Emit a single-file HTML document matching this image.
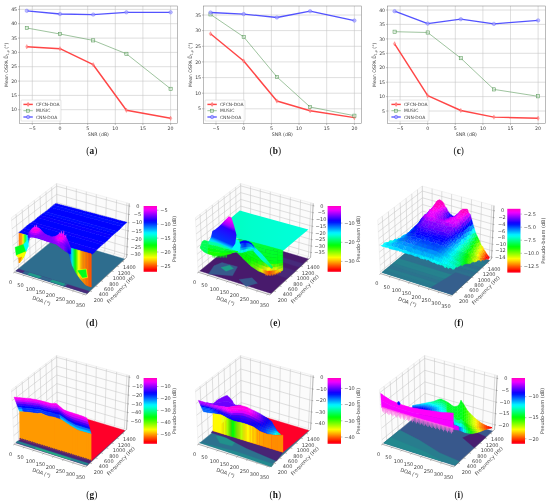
<!DOCTYPE html><html><head><meta charset="utf-8"><title>Figure</title><style>html,body{margin:0;padding:0;background:#fff}svg{display:block;filter:blur(0.35px)}</style></head><body><svg width="550" height="504" viewBox="0 0 550 504">
<defs><linearGradient id="gr" x1="0" y1="0" x2="0" y2="1"><stop offset="0%" stop-color="#ff00bf"/><stop offset="3.1%" stop-color="#ff00e5"/><stop offset="6.2%" stop-color="#ed00ff"/><stop offset="9.4%" stop-color="#c200ff"/><stop offset="12.5%" stop-color="#9600ff"/><stop offset="15.6%" stop-color="#6b00ff"/><stop offset="18.8%" stop-color="#3f00ff"/><stop offset="21.9%" stop-color="#1400ff"/><stop offset="25%" stop-color="#0018ff"/><stop offset="28.1%" stop-color="#0043ff"/><stop offset="31.2%" stop-color="#006fff"/><stop offset="34.4%" stop-color="#009aff"/><stop offset="37.5%" stop-color="#00c6ff"/><stop offset="40.6%" stop-color="#00f1ff"/><stop offset="43.8%" stop-color="#00ffe2"/><stop offset="46.9%" stop-color="#00ffb7"/><stop offset="50%" stop-color="#00ff8c"/><stop offset="53.1%" stop-color="#00ff61"/><stop offset="56.2%" stop-color="#00ff36"/><stop offset="59.4%" stop-color="#00ff0b"/><stop offset="62.5%" stop-color="#20ff00"/><stop offset="65.6%" stop-color="#4cff00"/><stop offset="68.8%" stop-color="#77ff00"/><stop offset="71.9%" stop-color="#a2ff00"/><stop offset="75%" stop-color="#cdff00"/><stop offset="78.1%" stop-color="#f9ff00"/><stop offset="81.2%" stop-color="#ffda00"/><stop offset="84.4%" stop-color="#ffaf00"/><stop offset="87.5%" stop-color="#ff8400"/><stop offset="90.6%" stop-color="#ff5800"/><stop offset="93.8%" stop-color="#ff2d00"/><stop offset="96.9%" stop-color="#ff0200"/><stop offset="100%" stop-color="#ff0029"/></linearGradient></defs>
<rect width="550" height="504" fill="#fff"/>
<g>
<rect x="19.4" y="6" width="158" height="117.6" fill="#fff"/>
<path d="M32.3 6V123.6M60 6V123.6M87.7 6V123.6M115.3 6V123.6M142.9 6V123.6M170.6 6V123.6M19.4 109.7H177.4M19.4 95.4H177.4M19.4 81.1H177.4M19.4 66.7H177.4M19.4 52.4H177.4M19.4 38.1H177.4M19.4 23.7H177.4M19.4 9.4H177.4" stroke="#c4c4c4" stroke-width="0.55" fill="none"/>
<path d="M32.3 123.6v1.3M60 123.6v1.3M87.7 123.6v1.3M115.3 123.6v1.3M142.9 123.6v1.3M170.6 123.6v1.3M19.4 109.7h-1.3M19.4 95.4h-1.3M19.4 81.1h-1.3M19.4 66.7h-1.3M19.4 52.4h-1.3M19.4 38.1h-1.3M19.4 23.7h-1.3M19.4 9.4h-1.3" stroke="#555" stroke-width="0.4" fill="none"/>
<polyline points="26.8,46.7 60,48.7 93.2,64.7 126.4,110.3 170.6,118.3" fill="none" stroke="#ff3636" stroke-width="1.45" stroke-opacity="0.92" stroke-linejoin="round"/>
<path d="M26.8 44.5L28.1 46.7L26.8 48.9L25.6 46.7Z" fill="#ff8a8a" fill-opacity="0.75" stroke="#ff3636" stroke-width="0.3" stroke-opacity="0.7"/>
<path d="M60 46.5L61.2 48.7L60 50.9L58.8 48.7Z" fill="#ff8a8a" fill-opacity="0.75" stroke="#ff3636" stroke-width="0.3" stroke-opacity="0.7"/>
<path d="M93.2 62.5L94.4 64.7L93.2 66.9L91.9 64.7Z" fill="#ff8a8a" fill-opacity="0.75" stroke="#ff3636" stroke-width="0.3" stroke-opacity="0.7"/>
<path d="M126.4 108.1L127.6 110.3L126.4 112.5L125.1 110.3Z" fill="#ff8a8a" fill-opacity="0.75" stroke="#ff3636" stroke-width="0.3" stroke-opacity="0.7"/>
<path d="M170.6 116.1L171.9 118.3L170.6 120.5L169.4 118.3Z" fill="#ff8a8a" fill-opacity="0.75" stroke="#ff3636" stroke-width="0.3" stroke-opacity="0.7"/>
<polyline points="26.8,28 60,34 93.2,40.4 126.4,53.8 170.6,88.8" fill="none" stroke="#5a9a5a" stroke-width="0.65" stroke-opacity="0.9" stroke-linejoin="round"/>
<rect x="25.2" y="26.4" width="3.2" height="3.2" fill="#cfe6cf" fill-opacity="0.55" stroke="#4f944f" stroke-width="0.5"/>
<rect x="58.4" y="32.4" width="3.2" height="3.2" fill="#cfe6cf" fill-opacity="0.55" stroke="#4f944f" stroke-width="0.5"/>
<rect x="91.6" y="38.8" width="3.2" height="3.2" fill="#cfe6cf" fill-opacity="0.55" stroke="#4f944f" stroke-width="0.5"/>
<rect x="124.8" y="52.2" width="3.2" height="3.2" fill="#cfe6cf" fill-opacity="0.55" stroke="#4f944f" stroke-width="0.5"/>
<rect x="169" y="87.2" width="3.2" height="3.2" fill="#cfe6cf" fill-opacity="0.55" stroke="#4f944f" stroke-width="0.5"/>
<polyline points="26.8,10.8 60,14 93.2,14.6 126.4,12.3 170.6,12.3" fill="none" stroke="#4040ff" stroke-width="1.3" stroke-opacity="0.9" stroke-linejoin="round"/>
<circle cx="26.8" cy="10.8" r="1.75" fill="#a6a6ff" fill-opacity="0.7" stroke="#4040ff" stroke-width="0.4" stroke-opacity="0.7"/>
<circle cx="60" cy="14" r="1.75" fill="#a6a6ff" fill-opacity="0.7" stroke="#4040ff" stroke-width="0.4" stroke-opacity="0.7"/>
<circle cx="93.2" cy="14.6" r="1.75" fill="#a6a6ff" fill-opacity="0.7" stroke="#4040ff" stroke-width="0.4" stroke-opacity="0.7"/>
<circle cx="126.4" cy="12.3" r="1.75" fill="#a6a6ff" fill-opacity="0.7" stroke="#4040ff" stroke-width="0.4" stroke-opacity="0.7"/>
<circle cx="170.6" cy="12.3" r="1.75" fill="#a6a6ff" fill-opacity="0.7" stroke="#4040ff" stroke-width="0.4" stroke-opacity="0.7"/>
<rect x="19.4" y="6" width="158" height="117.6" fill="none" stroke="#777" stroke-width="0.5"/>
<g font-family="'DejaVu Sans','Liberation Sans',sans-serif" font-size="4.7" fill="#444">
<text x="32.3" y="129.9" text-anchor="middle">−5</text>
<text x="60" y="129.9" text-anchor="middle">0</text>
<text x="87.7" y="129.9" text-anchor="middle">5</text>
<text x="115.3" y="129.9" text-anchor="middle">10</text>
<text x="142.9" y="129.9" text-anchor="middle">15</text>
<text x="170.6" y="129.9" text-anchor="middle">20</text>
<text x="17.1" y="111.3" text-anchor="end">10</text>
<text x="17.1" y="97" text-anchor="end">15</text>
<text x="17.1" y="82.7" text-anchor="end">20</text>
<text x="17.1" y="68.3" text-anchor="end">25</text>
<text x="17.1" y="54" text-anchor="end">30</text>
<text x="17.1" y="39.7" text-anchor="end">35</text>
<text x="17.1" y="25.3" text-anchor="end">40</text>
<text x="17.1" y="11" text-anchor="end">45</text>
<text x="98.4" y="135.9" text-anchor="middle">SNR (dB)</text>
<text transform="translate(7.5 64.8) rotate(-90)" text-anchor="middle">Mean OSPA D̃<tspan font-size="3.2" dy="1">1,ρ</tspan><tspan dy="-1"> (°)</tspan></text>
</g>
<rect x="21" y="100" width="40" height="21" rx="0.8" fill="#fff" fill-opacity="0.8" stroke="#ccc" stroke-width="0.45"/>
<g font-family="'DejaVu Sans','Liberation Sans',sans-serif" font-size="4.45" fill="#444">
<path d="M23.4 104.4h9.4" stroke="#ff3636" stroke-width="1.45" stroke-opacity="0.92"/>
<path d="M28.1 102.3L29.3 104.4L28.1 106.5L26.9 104.4Z" fill="#ff8a8a" stroke="#ff3636" stroke-width="0.3"/>
<text x="36" y="106">CFCN-DOA</text>
<path d="M23.4 110.7h9.4" stroke="#5a9a5a" stroke-width="0.65" stroke-opacity="0.9"/>
<rect x="26.6" y="109.2" width="3" height="3" fill="#cfe6cf" fill-opacity="0.6" stroke="#4f944f" stroke-width="0.5"/>
<text x="36" y="112.3">MUSIC</text>
<path d="M23.4 117h9.4" stroke="#4040ff" stroke-width="1.3" stroke-opacity="0.9"/>
<circle cx="28.1" cy="117" r="1.7" fill="#a6a6ff" stroke="#4040ff" stroke-width="0.4"/>
<text x="36" y="118.6">CNN-DOA</text>
</g>
</g>
<g>
<rect x="203.4" y="6" width="158" height="117.6" fill="#fff"/>
<path d="M216 6V123.6M243.7 6V123.6M271.4 6V123.6M299 6V123.6M326.7 6V123.6M354.4 6V123.6M203.4 108.8H361.4M203.4 93.2H361.4M203.4 77.6H361.4M203.4 61.9H361.4M203.4 46.3H361.4M203.4 30.6H361.4M203.4 15H361.4" stroke="#c4c4c4" stroke-width="0.55" fill="none"/>
<path d="M216 123.6v1.3M243.7 123.6v1.3M271.4 123.6v1.3M299 123.6v1.3M326.7 123.6v1.3M354.4 123.6v1.3M203.4 108.8h-1.3M203.4 93.2h-1.3M203.4 77.6h-1.3M203.4 61.9h-1.3M203.4 46.3h-1.3M203.4 30.6h-1.3M203.4 15h-1.3" stroke="#555" stroke-width="0.4" fill="none"/>
<polyline points="210.5,33.8 243.7,61 276.9,101 310.1,110.7 354.4,117.6" fill="none" stroke="#ff3636" stroke-width="1.45" stroke-opacity="0.92" stroke-linejoin="round"/>
<path d="M210.5 31.6L211.7 33.8L210.5 36L209.2 33.8Z" fill="#ff8a8a" fill-opacity="0.75" stroke="#ff3636" stroke-width="0.3" stroke-opacity="0.7"/>
<path d="M243.7 58.8L244.9 61L243.7 63.2L242.4 61Z" fill="#ff8a8a" fill-opacity="0.75" stroke="#ff3636" stroke-width="0.3" stroke-opacity="0.7"/>
<path d="M276.9 98.8L278.2 101L276.9 103.2L275.7 101Z" fill="#ff8a8a" fill-opacity="0.75" stroke="#ff3636" stroke-width="0.3" stroke-opacity="0.7"/>
<path d="M310.1 108.5L311.4 110.7L310.1 112.9L308.9 110.7Z" fill="#ff8a8a" fill-opacity="0.75" stroke="#ff3636" stroke-width="0.3" stroke-opacity="0.7"/>
<path d="M354.4 115.4L355.6 117.6L354.4 119.8L353.1 117.6Z" fill="#ff8a8a" fill-opacity="0.75" stroke="#ff3636" stroke-width="0.3" stroke-opacity="0.7"/>
<polyline points="210.5,14.4 243.7,36.9 276.9,76.9 310.1,107 354.4,115.7" fill="none" stroke="#5a9a5a" stroke-width="0.65" stroke-opacity="0.9" stroke-linejoin="round"/>
<rect x="208.9" y="12.8" width="3.2" height="3.2" fill="#cfe6cf" fill-opacity="0.55" stroke="#4f944f" stroke-width="0.5"/>
<rect x="242.1" y="35.3" width="3.2" height="3.2" fill="#cfe6cf" fill-opacity="0.55" stroke="#4f944f" stroke-width="0.5"/>
<rect x="275.3" y="75.3" width="3.2" height="3.2" fill="#cfe6cf" fill-opacity="0.55" stroke="#4f944f" stroke-width="0.5"/>
<rect x="308.5" y="105.4" width="3.2" height="3.2" fill="#cfe6cf" fill-opacity="0.55" stroke="#4f944f" stroke-width="0.5"/>
<rect x="352.8" y="114.1" width="3.2" height="3.2" fill="#cfe6cf" fill-opacity="0.55" stroke="#4f944f" stroke-width="0.5"/>
<polyline points="210.5,12.5 243.7,14.1 276.9,17.5 310.1,11.2 354.4,20.6" fill="none" stroke="#4040ff" stroke-width="1.3" stroke-opacity="0.9" stroke-linejoin="round"/>
<circle cx="210.5" cy="12.5" r="1.75" fill="#a6a6ff" fill-opacity="0.7" stroke="#4040ff" stroke-width="0.4" stroke-opacity="0.7"/>
<circle cx="243.7" cy="14.1" r="1.75" fill="#a6a6ff" fill-opacity="0.7" stroke="#4040ff" stroke-width="0.4" stroke-opacity="0.7"/>
<circle cx="276.9" cy="17.5" r="1.75" fill="#a6a6ff" fill-opacity="0.7" stroke="#4040ff" stroke-width="0.4" stroke-opacity="0.7"/>
<circle cx="310.1" cy="11.2" r="1.75" fill="#a6a6ff" fill-opacity="0.7" stroke="#4040ff" stroke-width="0.4" stroke-opacity="0.7"/>
<circle cx="354.4" cy="20.6" r="1.75" fill="#a6a6ff" fill-opacity="0.7" stroke="#4040ff" stroke-width="0.4" stroke-opacity="0.7"/>
<rect x="203.4" y="6" width="158" height="117.6" fill="none" stroke="#777" stroke-width="0.5"/>
<g font-family="'DejaVu Sans','Liberation Sans',sans-serif" font-size="4.7" fill="#444">
<text x="216" y="129.9" text-anchor="middle">−5</text>
<text x="243.7" y="129.9" text-anchor="middle">0</text>
<text x="271.4" y="129.9" text-anchor="middle">5</text>
<text x="299" y="129.9" text-anchor="middle">10</text>
<text x="326.7" y="129.9" text-anchor="middle">15</text>
<text x="354.4" y="129.9" text-anchor="middle">20</text>
<text x="201.1" y="110.4" text-anchor="end">5</text>
<text x="201.1" y="94.8" text-anchor="end">10</text>
<text x="201.1" y="79.2" text-anchor="end">15</text>
<text x="201.1" y="63.5" text-anchor="end">20</text>
<text x="201.1" y="47.9" text-anchor="end">25</text>
<text x="201.1" y="32.2" text-anchor="end">30</text>
<text x="201.1" y="16.6" text-anchor="end">35</text>
<text x="282.4" y="135.9" text-anchor="middle">SNR (dB)</text>
<text transform="translate(191.5 64.8) rotate(-90)" text-anchor="middle">Mean OSPA D̃<tspan font-size="3.2" dy="1">1,ρ</tspan><tspan dy="-1"> (°)</tspan></text>
</g>
<rect x="205" y="100" width="40" height="21" rx="0.8" fill="#fff" fill-opacity="0.8" stroke="#ccc" stroke-width="0.45"/>
<g font-family="'DejaVu Sans','Liberation Sans',sans-serif" font-size="4.45" fill="#444">
<path d="M207.4 104.4h9.4" stroke="#ff3636" stroke-width="1.45" stroke-opacity="0.92"/>
<path d="M212.1 102.3L213.3 104.4L212.1 106.5L210.9 104.4Z" fill="#ff8a8a" stroke="#ff3636" stroke-width="0.3"/>
<text x="220" y="106">CFCN-DOA</text>
<path d="M207.4 110.7h9.4" stroke="#5a9a5a" stroke-width="0.65" stroke-opacity="0.9"/>
<rect x="210.6" y="109.2" width="3" height="3" fill="#cfe6cf" fill-opacity="0.6" stroke="#4f944f" stroke-width="0.5"/>
<text x="220" y="112.3">MUSIC</text>
<path d="M207.4 117h9.4" stroke="#4040ff" stroke-width="1.3" stroke-opacity="0.9"/>
<circle cx="212.1" cy="117" r="1.7" fill="#a6a6ff" stroke="#4040ff" stroke-width="0.4"/>
<text x="220" y="118.6">CNN-DOA</text>
</g>
</g>
<g>
<rect x="387.4" y="6" width="158" height="117.6" fill="#fff"/>
<path d="M400.1 6V123.6M427.7 6V123.6M455.3 6V123.6M482.9 6V123.6M510.5 6V123.6M538.1 6V123.6M387.4 111H545.4M387.4 96.6H545.4M387.4 82.2H545.4M387.4 67.7H545.4M387.4 53.3H545.4M387.4 38.9H545.4M387.4 24.4H545.4M387.4 10H545.4" stroke="#c4c4c4" stroke-width="0.55" fill="none"/>
<path d="M400.1 123.6v1.3M427.7 123.6v1.3M455.3 123.6v1.3M482.9 123.6v1.3M510.5 123.6v1.3M538.1 123.6v1.3M387.4 111h-1.3M387.4 96.6h-1.3M387.4 82.2h-1.3M387.4 67.7h-1.3M387.4 53.3h-1.3M387.4 38.9h-1.3M387.4 24.4h-1.3M387.4 10h-1.3" stroke="#555" stroke-width="0.4" fill="none"/>
<polyline points="394.6,43.8 427.7,95.7 460.8,110.5 493.9,117.1 538.1,118.3" fill="none" stroke="#ff3636" stroke-width="1.45" stroke-opacity="0.92" stroke-linejoin="round"/>
<path d="M394.6 41.6L395.8 43.8L394.6 46L393.3 43.8Z" fill="#ff8a8a" fill-opacity="0.75" stroke="#ff3636" stroke-width="0.3" stroke-opacity="0.7"/>
<path d="M427.7 93.5L428.9 95.7L427.7 97.9L426.4 95.7Z" fill="#ff8a8a" fill-opacity="0.75" stroke="#ff3636" stroke-width="0.3" stroke-opacity="0.7"/>
<path d="M460.8 108.3L462.1 110.5L460.8 112.7L459.6 110.5Z" fill="#ff8a8a" fill-opacity="0.75" stroke="#ff3636" stroke-width="0.3" stroke-opacity="0.7"/>
<path d="M493.9 114.9L495.2 117.1L493.9 119.3L492.7 117.1Z" fill="#ff8a8a" fill-opacity="0.75" stroke="#ff3636" stroke-width="0.3" stroke-opacity="0.7"/>
<path d="M538.1 116.1L539.4 118.3L538.1 120.5L536.9 118.3Z" fill="#ff8a8a" fill-opacity="0.75" stroke="#ff3636" stroke-width="0.3" stroke-opacity="0.7"/>
<polyline points="394.6,31.7 427.7,32.5 460.8,58.2 493.9,89.4 538.1,96.3" fill="none" stroke="#5a9a5a" stroke-width="0.65" stroke-opacity="0.9" stroke-linejoin="round"/>
<rect x="393" y="30.1" width="3.2" height="3.2" fill="#cfe6cf" fill-opacity="0.55" stroke="#4f944f" stroke-width="0.5"/>
<rect x="426.1" y="30.9" width="3.2" height="3.2" fill="#cfe6cf" fill-opacity="0.55" stroke="#4f944f" stroke-width="0.5"/>
<rect x="459.2" y="56.6" width="3.2" height="3.2" fill="#cfe6cf" fill-opacity="0.55" stroke="#4f944f" stroke-width="0.5"/>
<rect x="492.3" y="87.8" width="3.2" height="3.2" fill="#cfe6cf" fill-opacity="0.55" stroke="#4f944f" stroke-width="0.5"/>
<rect x="536.5" y="94.7" width="3.2" height="3.2" fill="#cfe6cf" fill-opacity="0.55" stroke="#4f944f" stroke-width="0.5"/>
<polyline points="394.6,11.2 427.7,23.6 460.8,19.2 493.9,23.9 538.1,20.4" fill="none" stroke="#4040ff" stroke-width="1.3" stroke-opacity="0.9" stroke-linejoin="round"/>
<circle cx="394.6" cy="11.2" r="1.75" fill="#a6a6ff" fill-opacity="0.7" stroke="#4040ff" stroke-width="0.4" stroke-opacity="0.7"/>
<circle cx="427.7" cy="23.6" r="1.75" fill="#a6a6ff" fill-opacity="0.7" stroke="#4040ff" stroke-width="0.4" stroke-opacity="0.7"/>
<circle cx="460.8" cy="19.2" r="1.75" fill="#a6a6ff" fill-opacity="0.7" stroke="#4040ff" stroke-width="0.4" stroke-opacity="0.7"/>
<circle cx="493.9" cy="23.9" r="1.75" fill="#a6a6ff" fill-opacity="0.7" stroke="#4040ff" stroke-width="0.4" stroke-opacity="0.7"/>
<circle cx="538.1" cy="20.4" r="1.75" fill="#a6a6ff" fill-opacity="0.7" stroke="#4040ff" stroke-width="0.4" stroke-opacity="0.7"/>
<rect x="387.4" y="6" width="158" height="117.6" fill="none" stroke="#777" stroke-width="0.5"/>
<g font-family="'DejaVu Sans','Liberation Sans',sans-serif" font-size="4.7" fill="#444">
<text x="400.1" y="129.9" text-anchor="middle">−5</text>
<text x="427.7" y="129.9" text-anchor="middle">0</text>
<text x="455.3" y="129.9" text-anchor="middle">5</text>
<text x="482.9" y="129.9" text-anchor="middle">10</text>
<text x="510.5" y="129.9" text-anchor="middle">15</text>
<text x="538.1" y="129.9" text-anchor="middle">20</text>
<text x="385.1" y="112.6" text-anchor="end">5</text>
<text x="385.1" y="98.2" text-anchor="end">10</text>
<text x="385.1" y="83.8" text-anchor="end">15</text>
<text x="385.1" y="69.3" text-anchor="end">20</text>
<text x="385.1" y="54.9" text-anchor="end">25</text>
<text x="385.1" y="40.5" text-anchor="end">30</text>
<text x="385.1" y="26" text-anchor="end">35</text>
<text x="385.1" y="11.6" text-anchor="end">40</text>
<text x="466.4" y="135.9" text-anchor="middle">SNR (dB)</text>
<text transform="translate(375.5 64.8) rotate(-90)" text-anchor="middle">Mean OSPA D̃<tspan font-size="3.2" dy="1">1,ρ</tspan><tspan dy="-1"> (°)</tspan></text>
</g>
<rect x="389" y="100" width="40" height="21" rx="0.8" fill="#fff" fill-opacity="0.8" stroke="#ccc" stroke-width="0.45"/>
<g font-family="'DejaVu Sans','Liberation Sans',sans-serif" font-size="4.45" fill="#444">
<path d="M391.4 104.4h9.4" stroke="#ff3636" stroke-width="1.45" stroke-opacity="0.92"/>
<path d="M396.1 102.3L397.3 104.4L396.1 106.5L394.9 104.4Z" fill="#ff8a8a" stroke="#ff3636" stroke-width="0.3"/>
<text x="404" y="106">CFCN-DOA</text>
<path d="M391.4 110.7h9.4" stroke="#5a9a5a" stroke-width="0.65" stroke-opacity="0.9"/>
<rect x="394.6" y="109.2" width="3" height="3" fill="#cfe6cf" fill-opacity="0.6" stroke="#4f944f" stroke-width="0.5"/>
<text x="404" y="112.3">MUSIC</text>
<path d="M391.4 117h9.4" stroke="#4040ff" stroke-width="1.3" stroke-opacity="0.9"/>
<circle cx="396.1" cy="117" r="1.7" fill="#a6a6ff" stroke="#4040ff" stroke-width="0.4"/>
<text x="404" y="118.6">CNN-DOA</text>
</g>
</g>
<g>
<polygon points="14.1,272.2 57.1,236.8 56.5,183.5 11.4,217.7" fill="#fbfbfb" stroke="#d8d8d8" stroke-width="0.3"/>
<polygon points="57.1,236.8 126.6,257.4 129.2,203.4 56.5,183.5" fill="#fbfbfb" stroke="#d8d8d8" stroke-width="0.3"/>
<polygon points="14.1,272.2 85.9,294.9 126.6,257.4 57.1,236.8" fill="#fcfcfc" stroke="#dcdcdc" stroke-width="0.3"/>
<path d="M57.3 236.9L56.7 183.6M14.3 272.2L57.3 236.9M66.7 239.6L66.5 186.3M24 275.3L66.7 239.6M76.1 242.4L76.3 188.9M33.7 278.4L76.1 242.4M85.6 245.2L86.3 191.7M43.5 281.5L85.6 245.2M95.2 248.1L96.3 194.4M53.4 284.6L95.2 248.1M104.8 250.9L106.4 197.2M63.4 287.8L104.8 250.9M114.6 253.8L116.6 199.9M73.5 290.9L114.6 253.8M124.4 256.7L126.9 202.8M83.6 294.2L124.4 256.7M18.6 268.5L16.1 214.2M90.1 291L18.6 268.5M24.4 263.7L22.2 209.5M95.6 285.9L24.4 263.7M30.2 259L28.3 204.9M101.1 280.8L30.2 259M35.9 254.3L34.3 200.4M106.5 275.9L35.9 254.3M41.5 249.7L40.1 195.9M111.8 271L41.5 249.7M47 245.1L46 191.5M117 266.1L47 245.1M52.5 240.6L51.7 187.2M122.2 261.4L52.5 240.6M11.6 220.4L56.5 186.1M56.5 186.1L129 206M12 228.8L56.6 194.4M56.6 194.4L128.6 214.4M12.4 237.2L56.7 202.5M56.7 202.5L128.2 222.7M12.8 245.4L56.8 210.6M56.8 210.6L127.8 230.8M13.2 253.5L56.9 218.5M56.9 218.5L127.5 238.8M13.6 261.5L57 226.4M57 226.4L127.1 246.8M14 269.4L57.1 234.1M57.1 234.1L126.7 254.6" stroke="#c6c6c6" stroke-width="0.55" fill="none"/>
<g stroke-width="0.35" stroke-linejoin="round">
<path fill="#2e6d8e" stroke="#2e6d8e" d="M15.8 271.0l71.3 22.5l37.5 -34.6l-69.2 -20.5z"/>
<path fill="#472a7a" stroke="#472a7a" d="M15.8 271.0l71.3 22.5l2.4 -2.2l-71.2 -22.4z"/>
<path fill="#31678e" stroke="#31678e" d="M22.6 273.1l42.3 13.4l2.4 -2.2l-42.2 -13.2z"/>
<path fill="#1e9c89" stroke="#1e9c89" d="M27.5 274.5l11.7 3.7l2.2 -1.8l-11.7 -3.7zM50.1 281.6l12.9 4.1l2.1 -1.9l-12.9 -4z"/>
<path fill="#0002ff" stroke="#0002ff" d="M53.3 205.2l1.9 .5l2.5 -1.8l-1.9 -.5zM55.2 205.7l1.9 .5l2.5 -1.7l-1.9 -.6zM57.1 206.2l1.9 .6l2.6 -1.8l-2 -.5zM59.0 206.8l2 .5l2.5 -1.8l-1.9 -.5zM61.0 207.3l1.9 .5l2.5 -1.8l-1.9 -.5zM62.9 207.8l2 .5l2.5 -1.8l-2 -.5zM64.9 208.3l1.9 .5l2.5 -1.8l-1.9 -.5zM66.8 208.8l1.9 .6l2.6 -1.9l-2 -.5zM68.7 209.4l2 .5l2.5 -1.8l-1.9 -.6zM70.7 209.9l1.9 .5l2.6 -1.8l-2 -.5zM72.6 210.4l2 .5l2.5 -1.8l-1.9 -.5zM74.6 210.9l2 .6l2.5 -1.9l-2 -.5zM76.6 211.5l1.9 .5l2.5 -1.9l-1.9 -.5zM78.5 212.0l2 .5l2.5 -1.8l-2 -.6zM80.5 212.5l2 .5l2.5 -1.8l-2 -.5zM82.5 213.0l1.9 .6l2.5 -1.9l-1.9 -.5zM84.4 213.6l2 .5l2.5 -1.9l-2 -.5zM86.4 214.1l2 .5l2.5 -1.9l-2 -.5zM88.4 214.6l2 .6l2.5 -1.9l-2 -.6zM90.4 215.2l2 .5l2.4 -1.9l-1.9 -.5zM92.4 215.7l2 .5l2.4 -1.9l-2 -.5zM94.4 216.2l2 .6l2.4 -1.9l-2 -.6zM96.4 216.8l2 .5l2.4 -1.9l-2 -.5zM98.4 217.3l2 .5l2.4 -1.9l-2 -.5zM100.4 217.8l2 .6l2.4 -2l-2 -.5zM102.4 218.4l2 .5l2.4 -1.9l-2 -.6zM104.4 218.9l2 .5l2.4 -1.9l-2 -.5zM106.4 219.4l2 .6l2.4 -2l-2 -.5zM108.4 220.0l2 .5l2.4 -1.9l-2 -.6zM110.4 220.5l2 .6l2.5 -2l-2.1 -.5zM112.4 221.1l2.1 .5l2.4 -1.9l-2 -.6zM114.5 221.6l2 .6l2.4 -2l-2 -.5zM116.5 222.2l2 .5l2.4 -2l-2 -.5zM118.5 222.7l2.1 .5l2.4 -1.9l-2.1 -.6zM120.6 223.2l2 .6l2.4 -2l-2 -.5zM122.6 223.8l2 .5l2.4 -1.9l-2 -.6z"/>
<path fill="#000dff" stroke="#000dff" d="M50.7 207.4l1.9 .5l2.6 -2.2l-1.9 -.5zM52.6 207.9l2 .5l2.5 -2.2l-1.9 -.5zM54.6 208.4l1.9 .5l2.5 -2.1l-1.9 -.6zM56.5 208.9l1.9 .6l2.6 -2.2l-2 -.5zM58.4 209.5l2 .5l2.5 -2.2l-1.9 -.5zM60.4 210.0l1.9 .5l2.6 -2.2l-2 -.5zM62.3 210.5l2 .5l2.5 -2.2l-1.9 -.5zM64.3 211.0l1.9 .6l2.5 -2.2l-1.9 -.6zM66.2 211.6l2 .5l2.5 -2.2l-2 -.5zM68.2 212.1l1.9 .5l2.5 -2.2l-1.9 -.5zM70.1 212.6l2 .5l2.5 -2.2l-2 -.5zM72.1 213.1l1.9 .6l2.6 -2.2l-2 -.6zM74.0 213.7l2 .5l2.5 -2.2l-1.9 -.5zM76.0 214.2l2 .5l2.5 -2.2l-2 -.5zM78.0 214.7l2 .6l2.5 -2.3l-2 -.5zM80.0 215.3l1.9 .5l2.5 -2.2l-1.9 -.6zM81.9 215.8l2 .5l2.5 -2.2l-2 -.5zM83.9 216.3l2 .6l2.5 -2.3l-2 -.5zM85.9 216.9l2 .5l2.5 -2.2l-2 -.6zM87.9 217.4l2 .6l2.5 -2.3l-2 -.5zM89.9 218.0l2 .5l2.5 -2.3l-2 -.5zM91.9 218.5l2 .5l2.5 -2.2l-2 -.6zM93.9 219.0l2 .6l2.5 -2.3l-2 -.5zM95.9 219.6l2 .5l2.5 -2.3l-2 -.5zM97.9 220.1l2 .6l2.5 -2.3l-2 -.6zM99.9 220.7l2 .5l2.5 -2.3l-2 -.5zM101.9 221.2l2 .5l2.5 -2.3l-2 -.5zM103.9 221.7l2 .6l2.5 -2.3l-2 -.6zM105.9 222.3l2.1 .5l2.4 -2.3l-2 -.5zM108.0 222.8l2 .6l2.4 -2.3l-2 -.6zM110.0 223.4l2 .5l2.5 -2.3l-2.1 -.5zM112.0 223.9l2 .6l2.5 -2.3l-2 -.6zM114.0 224.5l2.1 .5l2.4 -2.3l-2 -.5zM116.1 225.0l2 .6l2.5 -2.4l-2.1 -.5zM118.1 225.6l2.1 .5l2.4 -2.3l-2 -.6zM120.2 226.1l2 .6l2.4 -2.4l-2 -.5z"/>
<path fill="#0002ff" stroke="#0002ff" d="M48.1 209.7l2 .5l2.5 -2.3l-1.9 -.5zM50.1 210.2l1.9 .5l2.6 -2.3l-2 -.5zM52.0 210.7l1.9 .6l2.6 -2.4l-1.9 -.5zM53.9 211.3l2 .5l2.5 -2.3l-1.9 -.6zM55.9 211.8l1.9 .5l2.6 -2.3l-2 -.5zM57.8 212.3l2 .5l2.5 -2.3l-1.9 -.5zM59.8 212.8l1.9 .6l2.6 -2.4l-2 -.5zM61.7 213.4l2 .5l2.5 -2.3l-1.9 -.6zM63.7 213.9l1.9 .5l2.6 -2.3l-2 -.5zM65.6 214.4l2 .6l2.5 -2.4l-1.9 -.5zM67.6 215.0l1.9 .5l2.6 -2.4l-2 -.5zM69.5 215.5l2 .5l2.5 -2.3l-1.9 -.6zM71.5 216.0l2 .6l2.5 -2.4l-2 -.5zM73.5 216.6l2 .5l2.5 -2.4l-2 -.5zM75.5 217.1l1.9 .6l2.6 -2.4l-2 -.6zM77.4 217.7l2 .5l2.5 -2.4l-1.9 -.5zM79.4 218.2l2 .5l2.5 -2.4l-2 -.5zM81.4 218.7l2 .6l2.5 -2.4l-2 -.6zM83.4 219.3l2 .5l2.5 -2.4l-2 -.5zM85.4 219.8l2 .6l2.5 -2.4l-2 -.6zM87.4 220.4l2 .5l2.5 -2.4l-2 -.5zM89.4 220.9l2 .6l2.5 -2.5l-2 -.5zM91.4 221.5l2 .5l2.5 -2.4l-2 -.6zM93.4 222.0l2 .6l2.5 -2.5l-2 -.5zM95.4 222.6l2 .5l2.5 -2.4l-2 -.6zM97.4 223.1l2 .6l2.5 -2.5l-2 -.5zM99.4 223.7l2 .5l2.5 -2.5l-2 -.5zM101.4 224.2l2.1 .6l2.4 -2.5l-2 -.6zM103.5 224.8l2 .5l2.5 -2.5l-2.1 -.5zM105.5 225.3l2 .6l2.5 -2.5l-2 -.6zM107.5 225.9l2 .5l2.5 -2.5l-2 -.5zM109.5 226.4l2.1 .6l2.4 -2.5l-2 -.6zM111.6 227.0l2 .5l2.5 -2.5l-2.1 -.5zM113.6 227.5l2.1 .6l2.4 -2.5l-2 -.6zM115.7 228.1l2 .5l2.5 -2.5l-2.1 -.5zM117.7 228.6l2.1 .6l2.4 -2.5l-2 -.6zM45.5 211.7l2 .5l2.6 -2l-2 -.5zM47.5 212.2l1.9 .6l2.6 -2.1l-1.9 -.5zM49.4 212.8l1.9 .5l2.6 -2l-1.9 -.6zM51.3 213.3l2 .5l2.6 -2l-2 -.5zM53.3 213.8l1.9 .6l2.6 -2.1l-1.9 -.5zM55.2 214.4l2 .5l2.6 -2.1l-2 -.5zM57.2 214.9l1.9 .5l2.6 -2l-1.9 -.6zM59.1 215.4l2 .6l2.6 -2.1l-2 -.5zM61.1 216.0l2 .5l2.5 -2.1l-1.9 -.5zM63.1 216.5l1.9 .6l2.6 -2.1l-2 -.6zM65.0 217.1l2 .5l2.5 -2.1l-1.9 -.5zM67.0 217.6l2 .5l2.5 -2.1l-2 -.5zM69.0 218.1l1.9 .6l2.6 -2.1l-2 -.6zM70.9 218.7l2 .5l2.6 -2.1l-2 -.5zM72.9 219.2l2 .6l2.5 -2.1l-1.9 -.6zM74.9 219.8l2 .5l2.5 -2.1l-2 -.5zM76.9 220.3l2 .6l2.5 -2.2l-2 -.5zM78.9 220.9l2 .5l2.5 -2.1l-2 -.6zM80.9 221.4l2 .6l2.5 -2.2l-2 -.5zM82.9 222.0l2 .5l2.5 -2.1l-2 -.6zM84.9 222.5l2 .6l2.5 -2.2l-2 -.5zM86.9 223.1l2 .5l2.5 -2.1l-2 -.6zM88.9 223.6l2 .6l2.5 -2.2l-2 -.5zM90.9 224.2l2 .5l2.5 -2.1l-2 -.6zM92.9 224.7l2 .6l2.5 -2.2l-2 -.5zM94.9 225.3l2 .5l2.5 -2.1l-2 -.6zM96.9 225.8l2 .6l2.5 -2.2l-2 -.5zM98.9 226.4l2.1 .5l2.5 -2.1l-2.1 -.6zM101.0 226.9l2 .6l2.5 -2.2l-2 -.5zM103.0 227.5l2 .6l2.5 -2.2l-2 -.6zM105.0 228.1l2.1 .5l2.4 -2.2l-2 -.5zM107.1 228.6l2 .6l2.5 -2.2l-2.1 -.6zM109.1 229.2l2.1 .5l2.4 -2.2l-2 -.5zM111.2 229.7l2 .6l2.5 -2.2l-2.1 -.6zM113.2 230.3l2.1 .6l2.4 -2.3l-2 -.5zM115.3 230.9l2 .5l2.5 -2.2l-2.1 -.6z"/>
<path fill="#000dff" stroke="#000dff" d="M42.9 213.5l2 .5l2.6 -1.8l-2 -.5zM44.9 214.0l1.9 .5l2.6 -1.7l-1.9 -.6zM46.8 214.5l1.9 .6l2.6 -1.8l-1.9 -.5zM48.7 215.1l2 .5l2.6 -1.8l-2 -.5zM50.7 215.6l1.9 .5l2.6 -1.7l-1.9 -.6zM52.6 216.1l2 .6l2.6 -1.8l-2 -.5zM54.6 216.7l2 .5l2.5 -1.8l-1.9 -.5zM56.6 217.2l1.9 .6l2.6 -1.8l-2 -.6zM58.5 217.8l2 .5l2.6 -1.8l-2 -.5zM60.5 218.3l2 .6l2.5 -1.8l-1.9 -.6zM62.5 218.9l1.9 .5l2.6 -1.8l-2 -.5zM64.4 219.4l2 .6l2.6 -1.9l-2 -.5zM66.4 220.0l2 .5l2.5 -1.8l-1.9 -.6zM68.4 220.5l2 .6l2.5 -1.9l-2 -.5zM70.4 221.1l1.9 .5l2.6 -1.8l-2 -.6zM72.3 221.6l2 .6l2.6 -1.9l-2 -.5zM74.3 222.2l2 .5l2.6 -1.8l-2 -.6zM76.3 222.7l2 .6l2.6 -1.9l-2 -.5zM78.3 223.3l2 .5l2.6 -1.8l-2 -.6zM80.3 223.8l2 .6l2.6 -1.9l-2 -.5zM82.3 224.4l2 .5l2.6 -1.8l-2 -.6zM84.3 224.9l2 .6l2.6 -1.9l-2 -.5zM86.3 225.5l2.1 .6l2.5 -1.9l-2 -.6zM88.4 226.1l2 .5l2.5 -1.9l-2 -.5zM90.4 226.6l2 .6l2.5 -1.9l-2 -.6zM92.4 227.2l2 .5l2.5 -1.9l-2 -.5zM94.4 227.7l2 .6l2.5 -1.9l-2 -.6zM96.4 228.3l2.1 .6l2.5 -2l-2.1 -.5zM98.5 228.9l2 .5l2.5 -1.9l-2 -.6zM100.5 229.4l2 .6l2.5 -1.9l-2 -.6zM102.5 230.0l2.1 .6l2.5 -2l-2.1 -.5zM104.6 230.6l2 .5l2.5 -1.9l-2 -.6zM106.6 231.1l2.1 .6l2.5 -2l-2.1 -.5zM108.7 231.7l2 .6l2.5 -2l-2 -.6zM110.7 232.3l2.1 .5l2.5 -1.9l-2.1 -.6zM112.8 232.8l2 .6l2.5 -2l-2 -.5z"/>
<path fill="#0002ff" stroke="#0002ff" d="M40.3 215.4l1.9 .5l2.7 -1.9l-2 -.5zM42.2 215.9l2 .5l2.6 -1.9l-1.9 -.5zM44.2 216.4l1.9 .6l2.6 -1.9l-1.9 -.6zM46.1 217.0l2 .5l2.6 -1.9l-2 -.5zM48.1 217.5l1.9 .6l2.6 -2l-1.9 -.5zM50.0 218.1l2 .5l2.6 -1.9l-2 -.6zM52.0 218.6l2 .6l2.6 -2l-2 -.5zM54.0 219.2l1.9 .5l2.6 -1.9l-1.9 -.6zM55.9 219.7l2 .6l2.6 -2l-2 -.5zM57.9 220.3l2 .5l2.6 -1.9l-2 -.6zM59.9 220.8l1.9 .6l2.6 -2l-1.9 -.5zM61.8 221.4l2 .5l2.6 -1.9l-2 -.6zM63.8 221.9l2 .6l2.6 -2l-2 -.5zM65.8 222.5l2 .5l2.6 -1.9l-2 -.6zM67.8 223.0l2 .6l2.5 -2l-1.9 -.5zM69.8 223.6l2 .6l2.5 -2l-2 -.6zM71.8 224.2l2 .5l2.5 -2l-2 -.5zM73.8 224.7l2 .6l2.5 -2l-2 -.6zM75.8 225.3l2 .5l2.5 -2l-2 -.5zM77.8 225.8l2 .6l2.5 -2l-2 -.6zM79.8 226.4l2 .6l2.5 -2.1l-2 -.5zM81.8 227.0l2 .5l2.5 -2l-2 -.6zM83.8 227.5l2 .6l2.6 -2l-2.1 -.6zM85.8 228.1l2 .5l2.6 -2l-2 -.5zM87.8 228.6l2.1 .6l2.5 -2l-2 -.6zM89.9 229.2l2 .6l2.5 -2.1l-2 -.5zM91.9 229.8l2 .5l2.5 -2l-2 -.6zM93.9 230.3l2.1 .6l2.5 -2l-2.1 -.6zM96.0 230.9l2 .6l2.5 -2.1l-2 -.5zM98.0 231.5l2 .6l2.5 -2.1l-2 -.6zM100.0 232.1l2.1 .5l2.5 -2l-2.1 -.6zM102.1 232.6l2 .6l2.5 -2.1l-2 -.5zM104.1 233.2l2.1 .6l2.5 -2.1l-2.1 -.6zM106.2 233.8l2 .5l2.5 -2l-2 -.6zM108.2 234.3l2.1 .6l2.5 -2.1l-2.1 -.5zM110.3 234.9l2.1 .6l2.4 -2.1l-2 -.6z"/>
<path fill="#0900ff" stroke="#0900ff" d="M37.6 217.6l2 .6l2.6 -2.3l-1.9 -.5zM39.6 218.2l1.9 .5l2.7 -2.3l-2 -.5zM41.5 218.7l2 .6l2.6 -2.3l-1.9 -.6zM43.5 219.3l2 .5l2.6 -2.3l-2 -.5zM45.5 219.8l1.9 .6l2.6 -2.3l-1.9 -.6zM47.4 220.4l2 .5l2.6 -2.3l-2 -.5zM49.4 220.9l1.9 .6l2.7 -2.3l-2 -.6zM51.3 221.5l2 .5l2.6 -2.3l-1.9 -.5zM53.3 222.0l2 .6l2.6 -2.3l-2 -.6zM55.3 222.6l2 .6l2.6 -2.4l-2 -.5zM57.3 223.2l1.9 .5l2.6 -2.3l-1.9 -.6zM59.2 223.7l2 .6l2.6 -2.4l-2 -.5zM61.2 224.3l2 .5l2.6 -2.3l-2 -.6zM63.2 224.8l2 .6l2.6 -2.4l-2 -.5zM65.2 225.4l2 .6l2.6 -2.4l-2 -.6zM67.2 226.0l2 .5l2.6 -2.3l-2 -.6zM69.2 226.5l2 .6l2.6 -2.4l-2 -.5zM71.2 227.1l2 .5l2.6 -2.3l-2 -.6zM73.2 227.6l2 .6l2.6 -2.4l-2 -.5zM75.2 228.2l2 .6l2.6 -2.4l-2 -.6zM77.2 228.8l2 .5l2.6 -2.3l-2 -.6zM79.2 229.3l2 .6l2.6 -2.4l-2 -.5zM81.2 229.9l2.1 .6l2.5 -2.4l-2 -.6zM83.3 230.5l2 .6l2.5 -2.5l-2 -.5zM85.3 231.1l2 .5l2.6 -2.4l-2.1 -.6zM87.3 231.6l2 .6l2.6 -2.4l-2 -.6zM89.3 232.2l2.1 .6l2.5 -2.5l-2 -.5zM91.4 232.8l2 .6l2.6 -2.5l-2.1 -.6zM93.4 233.4l2.1 .5l2.5 -2.4l-2 -.6zM95.5 233.9l2 .6l2.5 -2.4l-2 -.6zM97.5 234.5l2.1 .6l2.5 -2.5l-2.1 -.5zM99.6 235.1l2 .6l2.5 -2.5l-2 -.6zM101.6 235.7l2.1 .5l2.5 -2.4l-2.1 -.6zM103.7 236.2l2 .6l2.5 -2.5l-2 -.5zM105.7 236.8l2.1 .6l2.5 -2.5l-2.1 -.6zM107.8 237.4l2.1 .6l2.5 -2.5l-2.1 -.6z"/>
<path fill="#0002ff" stroke="#0002ff" d="M35.0 220.0l1.9 .5l2.7 -2.3l-2 -.6zM36.9 220.5l2 .6l2.6 -2.4l-1.9 -.5zM38.9 221.1l2 .5l2.6 -2.3l-2 -.6zM40.9 221.6l1.9 .6l2.7 -2.4l-2 -.5zM42.8 222.2l2 .5l2.6 -2.3l-1.9 -.6zM44.8 222.7l1.9 .6l2.7 -2.4l-2 -.5zM46.7 223.3l2 .6l2.6 -2.4l-1.9 -.6zM48.7 223.9l2 .5l2.6 -2.4l-2 -.5zM50.7 224.4l2 .6l2.6 -2.4l-2 -.6zM52.7 225.0l1.9 .6l2.7 -2.4l-2 -.6zM54.6 225.6l2 .5l2.6 -2.4l-1.9 -.5zM56.6 226.1l2 .6l2.6 -2.4l-2 -.6zM58.6 226.7l2 .5l2.6 -2.4l-2 -.5zM60.6 227.2l2 .6l2.6 -2.4l-2 -.6zM62.6 227.8l2 .6l2.6 -2.4l-2 -.6zM64.6 228.4l2 .6l2.6 -2.5l-2 -.5zM66.6 229.0l2 .5l2.6 -2.4l-2 -.6zM68.6 229.5l2 .6l2.6 -2.5l-2 -.5zM70.6 230.1l2 .6l2.6 -2.5l-2 -.6zM72.6 230.7l2 .5l2.6 -2.4l-2 -.6zM74.6 231.2l2 .6l2.6 -2.5l-2 -.5zM76.6 231.8l2.1 .6l2.5 -2.5l-2 -.6zM78.7 232.4l2 .6l2.6 -2.5l-2.1 -.6zM80.7 233.0l2 .5l2.6 -2.4l-2 -.6zM82.7 233.5l2.1 .6l2.5 -2.5l-2 -.5zM84.8 234.1l2 .6l2.5 -2.5l-2 -.6zM86.8 234.7l2 .6l2.6 -2.5l-2.1 -.6zM88.8 235.3l2.1 .6l2.5 -2.5l-2 -.6zM90.9 235.9l2 .5l2.6 -2.5l-2.1 -.5zM92.9 236.4l2.1 .6l2.5 -2.5l-2 -.6zM95.0 237.0l2 .6l2.6 -2.5l-2.1 -.6zM97.0 237.6l2.1 .6l2.5 -2.5l-2 -.6zM99.1 238.2l2 .6l2.6 -2.6l-2.1 -.5zM101.1 238.8l2.1 .6l2.5 -2.6l-2 -.6zM103.2 239.4l2.1 .6l2.5 -2.6l-2.1 -.6zM105.3 240.0l2 .5l2.6 -2.5l-2.1 -.6zM32.3 222.0l2 .5l2.6 -2l-1.9 -.5zM34.3 222.5l1.9 .6l2.7 -2l-2 -.6zM36.2 223.1l2 .6l2.7 -2.1l-2 -.5zM38.2 223.7l2 .5l2.6 -2l-1.9 -.6zM40.2 224.2l1.9 .6l2.7 -2.1l-2 -.5zM42.1 224.8l2 .6l2.6 -2.1l-1.9 -.6zM44.1 225.4l2 .5l2.6 -2l-2 -.6zM46.1 225.9l1.9 .6l2.7 -2.1l-2 -.5zM48.0 226.5l2 .6l2.7 -2.1l-2 -.6zM50.0 227.1l2 .5l2.6 -2l-1.9 -.6zM52.0 227.6l2 .6l2.6 -2.1l-2 -.5zM54.0 228.2l2 .6l2.6 -2.1l-2 -.6zM56.0 228.8l2 .5l2.6 -2.1l-2 -.5zM58.0 229.3l2 .6l2.6 -2.1l-2 -.6zM60.0 229.9l2 .6l2.6 -2.1l-2 -.6zM62.0 230.5l2 .6l2.6 -2.1l-2 -.6zM64.0 231.1l2 .5l2.6 -2.1l-2 -.5zM66.0 231.6l2 .6l2.6 -2.1l-2 -.6zM68.0 232.2l2 .6l2.6 -2.1l-2 -.6zM70.0 232.8l2 .6l2.6 -2.2l-2 -.5zM72.0 233.4l2.1 .6l2.5 -2.2l-2 -.6zM74.1 234.0l2 .5l2.6 -2.1l-2.1 -.6zM76.1 234.5l2 .6l2.6 -2.1l-2 -.6zM78.1 235.1l2 .6l2.6 -2.2l-2 -.5zM80.1 235.7l2.1 .6l2.6 -2.2l-2.1 -.6zM82.2 236.3l2 .6l2.6 -2.2l-2 -.6zM84.2 236.9l2.1 .6l2.5 -2.2l-2 -.6zM86.3 237.5l2 .5l2.6 -2.1l-2.1 -.6zM88.3 238.0l2.1 .6l2.5 -2.2l-2 -.5zM90.4 238.6l2 .6l2.6 -2.2l-2.1 -.6zM92.4 239.2l2.1 .6l2.5 -2.2l-2 -.6zM94.5 239.8l2 .6l2.6 -2.2l-2.1 -.6zM96.5 240.4l2.1 .6l2.5 -2.2l-2 -.6zM98.6 241.0l2.1 .6l2.5 -2.2l-2.1 -.6zM100.7 241.6l2 .6l2.6 -2.2l-2.1 -.6zM102.7 242.2l2.1 .6l2.5 -2.3l-2 -.5z"/>
<path fill="#0900ff" stroke="#0900ff" d="M29.6 223.8l2 .6l2.7 -1.9l-2 -.5zM31.6 224.4l1.9 .5l2.7 -1.8l-1.9 -.6zM33.5 224.9l2 .6l2.7 -1.8l-2 -.6zM35.5 225.5l2 .6l2.7 -1.9l-2 -.5zM37.5 226.1l1.9 .5l2.7 -1.8l-1.9 -.6zM39.4 226.6l2 .6l2.7 -1.8l-2 -.6zM41.4 227.2l2 .6l2.7 -1.9l-2 -.5zM43.4 227.8l2 .5l2.6 -1.8l-1.9 -.6zM45.4 228.3l2 .6l2.6 -1.8l-2 -.6zM47.4 228.9l2 .6l2.6 -1.9l-2 -.5zM49.4 229.5l1.9 .6l2.7 -1.9l-2 -.6zM51.3 230.1l2 .5l2.7 -1.8l-2 -.6zM53.3 230.6l2 .6l2.7 -1.9l-2 -.5zM55.3 231.2l2 .6l2.7 -1.9l-2 -.6zM57.3 231.8l2 .6l2.7 -1.9l-2 -.6zM59.3 232.4l2.1 .6l2.6 -1.9l-2 -.6zM61.4 233.0l2 .5l2.6 -1.9l-2 -.5zM63.4 233.5l2 .6l2.6 -1.9l-2 -.6zM65.4 234.1l2 .6l2.6 -1.9l-2 -.6zM67.4 234.7l2 .6l2.6 -1.9l-2 -.6zM69.4 235.3l2 .6l2.7 -1.9l-2.1 -.6zM71.4 235.9l2.1 .6l2.6 -2l-2 -.5zM73.5 236.5l2 .6l2.6 -2l-2 -.6zM75.5 237.1l2 .5l2.6 -1.9l-2 -.6zM77.5 237.6l2.1 .6l2.6 -1.9l-2.1 -.6zM79.6 238.2l2 .6l2.6 -1.9l-2 -.6zM81.6 238.8l2.1 .6l2.6 -1.9l-2.1 -.6zM83.7 239.4l2 .6l2.6 -2l-2 -.5zM85.7 240.0l2.1 .6l2.6 -2l-2.1 -.6zM87.8 240.6l2 .6l2.6 -2l-2 -.6zM89.8 241.2l2.1 .6l2.6 -2l-2.1 -.6zM91.9 241.8l2.1 .6l2.5 -2l-2 -.6zM94.0 242.4l2 .6l2.6 -2l-2.1 -.6zM96.0 243.0l2.1 .6l2.6 -2l-2.1 -.6zM98.1 243.6l2.1 .6l2.5 -2l-2 -.6zM100.2 244.2l2.1 .6l2.5 -2l-2.1 -.6z"/>
<path fill="#0002ff" stroke="#0002ff" d="M26.9 225.8l2 .6l2.7 -2l-2 -.6zM28.9 226.4l1.9 .6l2.7 -2.1l-1.9 -.5zM30.8 227.0l2 .5l2.7 -2l-2 -.6zM32.8 227.5l2 .6l2.7 -2l-2 -.6zM34.8 228.1l2 .6l2.6 -2.1l-1.9 -.5zM36.8 228.7l1.9 .6l2.7 -2.1l-2 -.6zM38.7 229.3l2 .5l2.7 -2l-2 -.6zM40.7 229.8l2 .6l2.7 -2.1l-2 -.5zM42.7 230.4l2 .6l2.7 -2.1l-2 -.6zM44.7 231.0l2 .6l2.7 -2.1l-2 -.6zM46.7 231.6l2 .6l2.6 -2.1l-1.9 -.6zM48.7 232.2l2 .5l2.6 -2.1l-2 -.5zM50.7 232.7l2 .6l2.6 -2.1l-2 -.6zM52.7 233.3l2 .6l2.6 -2.1l-2 -.6zM54.7 233.9l2 .6l2.6 -2.1l-2 -.6zM56.7 234.5l2 .6l2.7 -2.1l-2.1 -.6zM58.7 235.1l2 .6l2.7 -2.2l-2 -.5zM60.7 235.7l2 .6l2.7 -2.2l-2 -.6zM62.7 236.3l2.1 .5l2.6 -2.1l-2 -.6zM64.8 236.8l2 .6l2.6 -2.1l-2 -.6zM66.8 237.4l2 .6l2.6 -2.1l-2 -.6zM68.8 238.0l2.1 .6l2.6 -2.1l-2.1 -.6zM70.9 238.6l2 .6l2.6 -2.1l-2 -.6zM72.9 239.2l2 .6l2.6 -2.2l-2 -.5zM74.9 239.8l2.1 .6l2.6 -2.2l-2.1 -.6zM77.0 240.4l2 .6l2.6 -2.2l-2 -.6zM79.0 241.0l2.1 .6l2.6 -2.2l-2.1 -.6zM81.1 241.6l2 .6l2.6 -2.2l-2 -.6zM83.1 242.2l2.1 .6l2.6 -2.2l-2.1 -.6zM85.2 242.8l2.1 .6l2.5 -2.2l-2 -.6zM87.3 243.4l2 .6l2.6 -2.2l-2.1 -.6zM89.3 244.0l2.1 .6l2.6 -2.2l-2.1 -.6zM91.4 244.6l2.1 .6l2.5 -2.2l-2 -.6zM93.5 245.2l2 .6l2.6 -2.2l-2.1 -.6zM95.5 245.8l2.1 .6l2.6 -2.2l-2.1 -.6zM97.6 246.4l2.1 .6l2.6 -2.2l-2.1 -.6zM24.2 228.2l2 .6l2.7 -2.4l-2 -.6zM26.2 228.8l1.9 .6l2.7 -2.4l-1.9 -.6zM28.1 229.4l2 .5l2.7 -2.4l-2 -.5zM30.1 229.9l2 .6l2.7 -2.4l-2 -.6zM32.1 230.5l2 .6l2.7 -2.4l-2 -.6zM34.1 231.1l1.9 .6l2.7 -2.4l-1.9 -.6zM36.0 231.7l2 .6l2.7 -2.5l-2 -.5zM38.0 232.3l2 .6l2.7 -2.5l-2 -.6zM40.0 232.9l2 .5l2.7 -2.4l-2 -.6zM42.0 233.4l2 .6l2.7 -2.4l-2 -.6zM44.0 234.0l2 .6l2.7 -2.4l-2 -.6zM46.0 234.6l2 .6l2.7 -2.5l-2 -.5zM48.0 235.2l2 .6l2.7 -2.5l-2 -.6zM50.0 235.8l2 .6l2.7 -2.5l-2 -.6zM52.0 236.4l2 .6l2.7 -2.5l-2 -.6zM54.0 237.0l2 .6l2.7 -2.5l-2 -.6zM56.0 237.6l2.1 .6l2.6 -2.5l-2 -.6zM58.1 238.2l2 .6l2.6 -2.5l-2 -.6zM60.1 238.8l2 .5l2.7 -2.5l-2.1 -.5zM62.1 239.3l2.1 .6l2.6 -2.5l-2 -.6zM64.2 239.9l2 .6l2.6 -2.5l-2 -.6zM66.2 240.5l2 .6l2.7 -2.5l-2.1 -.6zM68.2 241.1l2.1 .6l2.6 -2.5l-2 -.6zM70.3 241.7l2 .6l2.6 -2.5l-2 -.6zM72.3 242.3l2.1 .6l2.6 -2.5l-2.1 -.6zM74.4 242.9l2 .6l2.6 -2.5l-2 -.6zM76.4 243.5l2.1 .7l2.6 -2.6l-2.1 -.6zM78.5 244.2l2 .6l2.6 -2.6l-2 -.6zM80.5 244.8l2.1 .6l2.6 -2.6l-2.1 -.6zM82.6 245.4l2.1 .6l2.6 -2.6l-2.1 -.6zM84.7 246.0l2 .6l2.6 -2.6l-2 -.6zM86.7 246.6l2.1 .6l2.6 -2.6l-2.1 -.6zM88.8 247.2l2.1 .6l2.6 -2.6l-2.1 -.6zM90.9 247.8l2.1 .6l2.5 -2.6l-2 -.6zM93.0 248.4l2 .6l2.6 -2.6l-2.1 -.6zM95.0 249.0l2.1 .6l2.6 -2.6l-2.1 -.6z"/>
<path fill="#0900ff" stroke="#0900ff" d="M21.5 230.6l1.9 .5l2.8 -2.3l-2 -.6zM23.4 231.1l2 .6l2.7 -2.3l-1.9 -.6zM25.4 231.7l2 .6l2.7 -2.4l-2 -.5zM27.4 232.3l2 .6l2.7 -2.4l-2 -.6zM29.4 232.9l1.9 .6l2.8 -2.4l-2 -.6zM31.3 233.5l2 .6l2.7 -2.4l-1.9 -.6zM33.3 234.1l2 .6l2.7 -2.4l-2 -.6zM35.3 234.7l2 .6l2.7 -2.4l-2 -.6zM37.3 235.3l2 .6l2.7 -2.5l-2 -.5zM39.3 235.9l2 .5l2.7 -2.4l-2 -.6zM41.3 236.4l2 .6l2.7 -2.4l-2 -.6zM43.3 237.0l2 .6l2.7 -2.4l-2 -.6zM45.3 237.6l2 .6l2.7 -2.4l-2 -.6zM47.3 238.2l2 .6l2.7 -2.4l-2 -.6zM49.3 238.8l2.1 .6l2.6 -2.4l-2 -.6zM51.4 239.4l2 .6l2.6 -2.4l-2 -.6zM53.4 240.0l2 .6l2.7 -2.4l-2.1 -.6zM55.4 240.6l2 .6l2.7 -2.4l-2 -.6zM57.4 241.2l2.1 .6l2.6 -2.5l-2 -.5zM59.5 241.8l2 .6l2.7 -2.5l-2.1 -.6zM61.5 242.4l2 .6l2.7 -2.5l-2 -.6zM63.5 243.0l2.1 .6l2.6 -2.5l-2 -.6zM65.6 243.6l2 .6l2.7 -2.5l-2.1 -.6zM67.6 244.2l2.1 .7l2.6 -2.6l-2 -.6zM69.7 244.9l2 .6l2.7 -2.6l-2.1 -.6zM71.7 245.5l2.1 .6l2.6 -2.6l-2 -.6zM73.8 246.1l2 .6l2.7 -2.5l-2.1 -.7zM75.8 246.7l2.1 .6l2.6 -2.5l-2 -.6zM77.9 247.3l2.1 .6l2.6 -2.5l-2.1 -.6zM80.0 247.9l2 .6l2.7 -2.5l-2.1 -.6zM82.0 248.5l2.1 .6l2.6 -2.5l-2 -.6zM84.1 249.1l2.1 .6l2.6 -2.5l-2.1 -.6zM86.2 249.7l2.1 .7l2.6 -2.6l-2.1 -.6zM88.3 250.4l2 .6l2.7 -2.6l-2.1 -.6zM90.3 251.0l2.1 .6l2.6 -2.6l-2 -.6zM92.4 251.6l2.1 .6l2.6 -2.6l-2.1 -.6z"/>
<path fill="#0002ff" stroke="#0002ff" d="M18.7 232.6l2 .6l2.7 -2.1l-1.9 -.5zM20.7 233.2l1.9 .6l2.8 -2.1l-2 -.6zM22.6 233.8l2 .5l2.8 -2l-2 -.6zM24.6 234.3l2 .6l2.8 -2l-2 -.6zM26.6 234.9l2 .6l2.7 -2l-1.9 -.6zM28.6 235.5l2 .6l2.7 -2l-2 -.6zM30.6 236.1l2 .6l2.7 -2l-2 -.6zM32.6 236.7l2 .6l2.7 -2l-2 -.6zM34.6 237.3l2 .6l2.7 -2l-2 -.6zM36.6 237.9l2 .6l2.7 -2.1l-2 -.5zM38.6 238.5l2 .6l2.7 -2.1l-2 -.6zM40.6 239.1l2 .6l2.7 -2.1l-2 -.6zM42.6 239.7l2 .6l2.7 -2.1l-2 -.6zM44.6 240.3l2 .6l2.7 -2.1l-2 -.6zM46.6 240.9l2.1 .6l2.7 -2.1l-2.1 -.6zM48.7 241.5l2 .6l2.7 -2.1l-2 -.6zM50.7 242.1l2 .6l2.7 -2.1l-2 -.6zM52.7 242.7l2 .6l2.7 -2.1l-2 -.6zM54.7 243.3l2.1 .7l2.7 -2.2l-2.1 -.6zM56.8 244.0l2 .6l2.7 -2.2l-2 -.6zM58.8 244.6l2.1 .6l2.6 -2.2l-2 -.6zM60.9 245.2l2 .6l2.7 -2.2l-2.1 -.6zM62.9 245.8l2 .6l2.7 -2.2l-2 -.6zM64.9 246.4l2.1 .6l2.7 -2.1l-2.1 -.7zM67.0 247.0l2.1 .6l2.6 -2.1l-2 -.6zM69.1 247.6l2 .6l2.7 -2.1l-2.1 -.6zM71.1 248.2l2.1 .7l2.6 -2.2l-2 -.6zM73.2 248.9l2 .6l2.7 -2.2l-2.1 -.6zM75.2 249.5l2.1 .6l2.7 -2.2l-2.1 -.6zM77.3 250.1l2.1 .6l2.6 -2.2l-2 -.6zM79.4 250.7l2.1 .6l2.6 -2.2l-2.1 -.6zM81.5 251.3l2.1 .7l2.6 -2.3l-2.1 -.6zM83.6 252.0l2 .6l2.7 -2.2l-2.1 -.7zM85.6 252.6l2.1 .6l2.6 -2.2l-2 -.6zM87.7 253.2l2.1 .6l2.6 -2.2l-2.1 -.6zM89.8 253.8l2.1 .7l2.6 -2.3l-2.1 -.6z"/>
<path fill="#ff7900" stroke="#ff7900" d="M18.9 233.0l.9 .3l0 29l-.9 .7z"/>
<path fill="#ff8400" stroke="#ff8400" d="M19.8 233.3l.9 .2l0 27.7l-.9 1.1z"/>
<path fill="#ff8e00" stroke="#ff8e00" d="M20.7 233.5l.9 .3l0 26.3l-.9 1.1z"/>
<path fill="#ff9900" stroke="#ff9900" d="M21.6 233.8l.9 .2l0 25l-.9 1.1z"/>
<path fill="#ffe500" stroke="#ffe500" d="M22.5 234.0l.9 .3l0 23.3l-.9 1.4z"/>
<path fill="#c3ff00" stroke="#c3ff00" d="M23.4 234.3l1 .3l0 20.5l-1 2.5z"/>
<path fill="#41ff00" stroke="#41ff00" d="M24.4 234.6l.9 .2l0 17.9l-.9 2.4z"/>
<path fill="#00ff36" stroke="#00ff36" d="M25.3 234.8l.9 .3l0 14.7l-.9 2.9z"/>
<path fill="#00ffac" stroke="#00ffac" d="M26.2 235.1l.9 .2l0 11.5l-.9 3z"/>
<path fill="#00e6ff" stroke="#00e6ff" d="M27.1 235.3l.9 .3l0 7.9l-.9 3.3z"/>
<path fill="#0084ff" stroke="#0084ff" d="M28.0 235.6l.9 .2l0 4.3l-.9 3.4z"/>
<path fill="#002dff" stroke="#002dff" d="M28.9 235.8l.9 .3l0 .5l-.9 3.5z"/>
<path fill="#00ff1b" stroke="#00ff1b" d="M15.1 247.2l10.7 -3.6l.2 7.9l-9.8 4.1z"/>
<path fill="#00fff7" stroke="#00fff7" d="M23.5 244.3l4.3 -4.3l.8 6l-2.6 5.5z"/>
<path fill="#f9ff00" stroke="#f9ff00" d="M16.2 255.6l9.8 -4.1l-1.5 4.5l-5 6.8l-.9 -4.8z"/>
<path fill="#ff8900" stroke="#ff8900" d="M18.6 258.0l3.4 -1l-2.5 6z"/>
<path fill="#0018ff" stroke="#0018ff" d="M68.5 247.3l1 .3l0 7.9l-1 -3.2z"/>
<path fill="#0059ff" stroke="#0059ff" d="M69.5 247.6l.9 .2l0 11l-.9 -3.3z"/>
<path fill="#009aff" stroke="#009aff" d="M70.4 247.9l1 .3l0 14l-1 -3.3z"/>
<path fill="#00dbff" stroke="#00dbff" d="M71.4 248.1l.9 .3l0 17l-.9 -3.3z"/>
<path fill="#00ffcc" stroke="#00ffcc" d="M72.3 248.4l1 .3l0 18.7l-1 -2z"/>
<path fill="#00ff81" stroke="#00ff81" d="M73.3 248.7l.9 .3l0 20.3l-.9 -1.9z"/>
<path fill="#00ff36" stroke="#00ff36" d="M74.2 249.0l1 .2l0 22l-1 -1.9z"/>
<path fill="#16ff00" stroke="#16ff00" d="M75.2 249.2l.9 .3l0 23.3l-.9 -1.6z"/>
<path fill="#56ff00" stroke="#56ff00" d="M76.1 249.5l1 .3l0 24.5l-1 -1.5z"/>
<path fill="#a2ff00" stroke="#a2ff00" d="M77.1 249.8l.9 .2l0 25.7l-.9 -1.4z"/>
<path fill="#eeff00" stroke="#eeff00" d="M78.0 250.1l1 .3l0 26.8l-1 -1.4z"/>
<path fill="#fff000" stroke="#fff000" d="M79.0 250.3l1 .3l0 28l-1 -1.5z"/>
<path fill="#ffcf00" stroke="#ffcf00" d="M80.0 250.6l.9 .3l0 28.8l-.9 -1.1z"/>
<path fill="#ffaf00" stroke="#ffaf00" d="M80.9 250.9l1 .3l0 29.6l-1 -1.1z"/>
<path fill="#ff9900" stroke="#ff9900" d="M81.9 251.2l.9 .2l0 30.5l-.9 -1.1z"/>
<path fill="#ff8e00" stroke="#ff8e00" d="M82.8 251.4l1 .3l0 31.3l-1 -1.1z"/>
<path fill="#ff8400" stroke="#ff8400" d="M83.8 251.7l.9 .3l0 32.1l-.9 -1.1zM84.7 252.0l1 .2l0 32.9l-1 -1z"/>
<path fill="#ff7900" stroke="#ff7900" d="M85.7 252.2l.9 .3l0 32.9l-.9 -.3z"/>
<path fill="#ff6e00" stroke="#ff6e00" d="M86.6 252.5l1 .3l0 33l-1 -.4zM87.6 252.8l.9 .3l0 33.1l-.9 -.4z"/>
<path fill="#ff6300" stroke="#ff6300" d="M88.5 253.1l1 .3l0 33.1l-1 -.3z"/>
<path fill="#ff5800" stroke="#ff5800" d="M89.5 253.3l.9 .2l0 33.3l-.9 -.4zM90.4 253.6l1 .3l0 33.1l-1 -.1z"/>
<path fill="#feff00" stroke="#feff00" d="M76.8 270.0l9.5 -1.1l1.3 8.7l-5.3 .8z"/>
<path fill="#00ff1b" stroke="#00ff1b" d="M77.4 270.6l8.4 -1l1.2 7.4l-4.5 .8z"/>
<path fill="#4a00ff" stroke="#4a00ff" d="M28.2 234.5l1 -2.3l0 1l-1 1.9z"/>
<path fill="#8b00ff" stroke="#8b00ff" d="M29.2 232.2l1 -1.5l0 1.3l-1 1.2z"/>
<path fill="#cd00ff" stroke="#cd00ff" d="M30.2 230.7l1 -1.1l0 1.5l-1 .9z"/>
<path fill="#ed00ff" stroke="#ed00ff" d="M31.2 229.6l1 -1.2l0 1.8l-1 .9z"/>
<path fill="#f800ff" stroke="#f800ff" d="M32.2 228.4l1 -.8l0 1.9l-1 .7zM33.2 227.6l1.1 -.3l0 2.1l-1.1 .1zM34.3 227.3l1 -.2l0 2.1l-1 .2zM35.3 227.1l1 0l0 2.1l-1 0zM36.3 227.1l1 .3l0 2.1l-1 -.3zM37.3 227.4l1 .4l0 2l-1 -.3zM38.3 227.8l1 .5l0 2l-1 -.5z"/>
<path fill="#ed00ff" stroke="#ed00ff" d="M39.3 228.3l1 1l0 1.9l-1 -.9z"/>
<path fill="#d700ff" stroke="#d700ff" d="M40.3 229.3l1 1l0 1.8l-1 -.9z"/>
<path fill="#b700ff" stroke="#b700ff" d="M41.3 230.3l1 1.1l0 1.7l-1 -1z"/>
<path fill="#a100ff" stroke="#a100ff" d="M42.3 231.4l1 1.2l0 1.5l-1 -1z"/>
<path fill="#9600ff" stroke="#9600ff" d="M43.3 232.6l1.1 .9l0 1.4l-1.1 -.8z"/>
<path fill="#8b00ff" stroke="#8b00ff" d="M44.4 233.5l1 .6l0 1.3l-1 -.5zM45.4 234.1l1 .6l0 1.3l-1 -.6zM46.4 234.7l1 .5l0 1.3l-1 -.5zM47.4 235.2l1 .5l0 1.3l-1 -.5zM48.4 235.7l1 .4l0 1.2l-1 -.3zM49.4 236.1l1 .3l0 1.3l-1 -.4zM50.4 236.4l1 .4l0 1.2l-1 -.3z"/>
<path fill="#9600ff" stroke="#9600ff" d="M51.4 236.8l1 .1l0 1.2l-1 -.1zM52.4 236.9l1 -.3l0 1.4l-1 .1z"/>
<path fill="#ac00ff" stroke="#ac00ff" d="M53.4 236.6l1 -.2l0 1.5l-1 .1z"/>
<path fill="#b700ff" stroke="#b700ff" d="M54.4 236.4l1.1 -.3l0 1.6l-1.1 .2z"/>
<path fill="#cd00ff" stroke="#cd00ff" d="M55.5 236.1l1 -.4l0 1.8l-1 .2z"/>
<path fill="#e200ff" stroke="#e200ff" d="M56.5 235.7l1 -.7l0 2.1l-1 .4z"/>
<path fill="#ed00ff" stroke="#ed00ff" d="M57.5 235.0l1 -.7l0 2.4l-1 .4z"/>
<path fill="#f800ff" stroke="#f800ff" d="M58.5 234.3l1 -.4l0 2.6l-1 .2z"/>
<path fill="#ff00fb" stroke="#ff00fb" d="M59.5 233.9l1 -.3l0 2.8l-1 .1zM60.5 233.6l1 -.1l0 3l-1 -.1zM61.5 233.5l1 .3l0 3l-1 -.3z"/>
<path fill="#f800ff" stroke="#f800ff" d="M62.5 233.8l1 .2l0 3.2l-1 -.4zM63.5 234.0l1 1.3l0 3l-1 -1.1z"/>
<path fill="#ed00ff" stroke="#ed00ff" d="M64.5 235.3l1.1 1.2l0 2.9l-1.1 -1.1z"/>
<path fill="#cd00ff" stroke="#cd00ff" d="M65.6 236.5l1 1.6l0 2.8l-1 -1.5z"/>
<path fill="#ac00ff" stroke="#ac00ff" d="M66.6 238.1l1 2l0 2.5l-1 -1.7z"/>
<path fill="#8b00ff" stroke="#8b00ff" d="M67.6 240.1l1 2.4l0 2.2l-1 -2.1z"/>
<path fill="#8100ff" stroke="#8100ff" d="M68.6 242.5l1 2.7l0 1.7l-1 -2.2z"/>
<path fill="#7600ff" stroke="#7600ff" d="M69.6 245.2l1 2.8l0 1.2l-1 -2.3z"/>
<path fill="#4a00ff" stroke="#4a00ff" d="M28.2 235.1l1 -1.9l0 1.1l-1 1.4z"/>
<path fill="#8100ff" stroke="#8100ff" d="M29.2 233.2l1 -1.2l0 1.4l-1 .9z"/>
<path fill="#c200ff" stroke="#c200ff" d="M30.2 232.0l1 -.9l0 1.6l-1 .7z"/>
<path fill="#ed00ff" stroke="#ed00ff" d="M31.2 231.1l1 -.9l0 1.8l-1 .7z"/>
<path fill="#ff00f0" stroke="#ff00f0" d="M32.2 230.2l1 -.7l0 1.9l-1 .6z"/>
<path fill="#ff00e5" stroke="#ff00e5" d="M33.2 229.5l1.1 -.1l0 2l-1.1 0zM34.3 229.4l1 -.2l0 2.1l-1 .1zM35.3 229.2l1 0l0 2.2l-1 -.1zM36.3 229.2l1 .3l0 2.1l-1 -.2zM37.3 229.5l1 .3l0 2.1l-1 -.3z"/>
<path fill="#ff00f0" stroke="#ff00f0" d="M38.3 229.8l1 .5l0 2l-1 -.4z"/>
<path fill="#ed00ff" stroke="#ed00ff" d="M39.3 230.3l1 .9l0 1.9l-1 -.8z"/>
<path fill="#c200ff" stroke="#c200ff" d="M40.3 231.2l1 .9l0 1.8l-1 -.8z"/>
<path fill="#a100ff" stroke="#a100ff" d="M41.3 232.1l1 1l0 1.6l-1 -.8z"/>
<path fill="#9600ff" stroke="#9600ff" d="M42.3 233.1l1 1l0 1.4l-1 -.8z"/>
<path fill="#8b00ff" stroke="#8b00ff" d="M43.3 234.1l1.1 .8l0 1.4l-1.1 -.8zM44.4 234.9l1 .5l0 1.4l-1 -.5zM45.4 235.4l1 .6l0 1.3l-1 -.5zM46.4 236.0l1 .5l0 1.2l-1 -.4zM47.4 236.5l1 .5l0 1.2l-1 -.5zM48.4 237.0l1 .3l0 1.2l-1 -.3zM49.4 237.3l1 .4l0 1.2l-1 -.4zM50.4 237.7l1 .3l0 1.2l-1 -.3z"/>
<path fill="#9600ff" stroke="#9600ff" d="M51.4 238.0l1 .1l0 1.3l-1 -.2zM52.4 238.1l1 -.1l0 1.4l-1 0z"/>
<path fill="#ac00ff" stroke="#ac00ff" d="M53.4 238.0l1 -.1l0 1.4l-1 .1z"/>
<path fill="#b700ff" stroke="#b700ff" d="M54.4 237.9l1.1 -.2l0 1.6l-1.1 0z"/>
<path fill="#d700ff" stroke="#d700ff" d="M55.5 237.7l1 -.2l0 1.7l-1 .1z"/>
<path fill="#ed00ff" stroke="#ed00ff" d="M56.5 237.5l1 -.4l0 2l-1 .1z"/>
<path fill="#ff00f0" stroke="#ff00f0" d="M57.5 237.1l1 -.4l0 2.3l-1 .1z"/>
<path fill="#ff00e5" stroke="#ff00e5" d="M58.5 236.7l1 -.2l0 2.6l-1 -.1zM59.5 236.5l1 -.1l0 2.8l-1 -.1zM60.5 236.4l1 .1l0 3l-1 -.3zM61.5 236.5l1 .3l0 3.1l-1 -.4zM62.5 236.8l1 .4l0 3.2l-1 -.5z"/>
<path fill="#ff00fb" stroke="#ff00fb" d="M63.5 237.2l1 1.1l0 3.1l-1 -1z"/>
<path fill="#cd00ff" stroke="#cd00ff" d="M64.5 238.3l1.1 1.1l0 3l-1.1 -1z"/>
<path fill="#a100ff" stroke="#a100ff" d="M65.6 239.4l1 1.5l0 2.8l-1 -1.3z"/>
<path fill="#8100ff" stroke="#8100ff" d="M66.6 240.9l1 1.7l0 2.5l-1 -1.4z"/>
<path fill="#6b00ff" stroke="#6b00ff" d="M67.6 242.6l1 2.1l0 2.1l-1 -1.7z"/>
<path fill="#6000ff" stroke="#6000ff" d="M68.6 244.7l1 2.2l0 1.7l-1 -1.8zM69.6 246.9l1 2.3l0 1.2l-1 -1.8z"/>
<path fill="#3f00ff" stroke="#3f00ff" d="M28.2 235.7l1 -1.4l0 1l-1 1z"/>
<path fill="#6b00ff" stroke="#6b00ff" d="M29.2 234.3l1 -.9l0 1.3l-1 .6z"/>
<path fill="#a100ff" stroke="#a100ff" d="M30.2 233.4l1 -.7l0 1.5l-1 .5z"/>
<path fill="#c200ff" stroke="#c200ff" d="M31.2 232.7l1 -.7l0 1.7l-1 .5z"/>
<path fill="#e200ff" stroke="#e200ff" d="M32.2 232.0l1 -.6l0 2l-1 .3z"/>
<path fill="#ff00fb" stroke="#ff00fb" d="M33.2 231.4l1.1 0l0 2l-1.1 0z"/>
<path fill="#ff00f0" stroke="#ff00f0" d="M34.3 231.4l1 -.1l0 2.1l-1 0zM35.3 231.3l1 .1l0 2.1l-1 -.1z"/>
<path fill="#ff00fb" stroke="#ff00fb" d="M36.3 231.4l1 .2l0 2.1l-1 -.2z"/>
<path fill="#ed00ff" stroke="#ed00ff" d="M37.3 231.6l1 .3l0 2.1l-1 -.3z"/>
<path fill="#d700ff" stroke="#d700ff" d="M38.3 231.9l1 .4l0 2l-1 -.3z"/>
<path fill="#b700ff" stroke="#b700ff" d="M39.3 232.3l1 .8l0 1.9l-1 -.7z"/>
<path fill="#a100ff" stroke="#a100ff" d="M40.3 233.1l1 .8l0 1.7l-1 -.6z"/>
<path fill="#9600ff" stroke="#9600ff" d="M41.3 233.9l1 .8l0 1.6l-1 -.7z"/>
<path fill="#8b00ff" stroke="#8b00ff" d="M42.3 234.7l1 .8l0 1.5l-1 -.7zM43.3 235.5l1.1 .8l0 1.4l-1.1 -.7zM44.4 236.3l1 .5l0 1.3l-1 -.4zM45.4 236.8l1 .5l0 1.3l-1 -.5zM46.4 237.3l1 .4l0 1.3l-1 -.4zM47.4 237.7l1 .5l0 1.2l-1 -.4zM48.4 238.2l1 .3l0 1.2l-1 -.3zM49.4 238.5l1 .4l0 1.2l-1 -.4zM50.4 238.9l1 .3l0 1.2l-1 -.3z"/>
<path fill="#9600ff" stroke="#9600ff" d="M51.4 239.2l1 .2l0 1.2l-1 -.2zM52.4 239.4l1 0l0 1.3l-1 -.1z"/>
<path fill="#a100ff" stroke="#a100ff" d="M53.4 239.4l1 -.1l0 1.5l-1 -.1z"/>
<path fill="#b700ff" stroke="#b700ff" d="M54.4 239.3l1.1 0l0 1.6l-1.1 -.1z"/>
<path fill="#c200ff" stroke="#c200ff" d="M55.5 239.3l1 -.1l0 1.8l-1 -.1z"/>
<path fill="#d700ff" stroke="#d700ff" d="M56.5 239.2l1 -.1l0 2.1l-1 -.2z"/>
<path fill="#f800ff" stroke="#f800ff" d="M57.5 239.1l1 -.1l0 2.4l-1 -.2z"/>
<path fill="#ff00fb" stroke="#ff00fb" d="M58.5 239.0l1 .1l0 2.6l-1 -.3z"/>
<path fill="#ff00f0" stroke="#ff00f0" d="M59.5 239.1l1 .1l0 2.8l-1 -.3z"/>
<path fill="#ff00fb" stroke="#ff00fb" d="M60.5 239.2l1 .3l0 2.9l-1 -.4z"/>
<path fill="#f800ff" stroke="#f800ff" d="M61.5 239.5l1 .4l0 3.1l-1 -.6z"/>
<path fill="#d700ff" stroke="#d700ff" d="M62.5 239.9l1 .5l0 3.2l-1 -.6z"/>
<path fill="#b700ff" stroke="#b700ff" d="M63.5 240.4l1 1l0 3.1l-1 -.9z"/>
<path fill="#9600ff" stroke="#9600ff" d="M64.5 241.4l1.1 1l0 3l-1.1 -.9z"/>
<path fill="#7600ff" stroke="#7600ff" d="M65.6 242.4l1 1.3l0 2.7l-1 -1z"/>
<path fill="#6000ff" stroke="#6000ff" d="M66.6 243.7l1 1.4l0 2.5l-1 -1.2z"/>
<path fill="#5500ff" stroke="#5500ff" d="M67.6 245.1l1 1.7l0 2.2l-1 -1.4z"/>
<path fill="#3f00ff" stroke="#3f00ff" d="M68.6 246.8l1 1.8l0 1.7l-1 -1.3zM69.6 248.6l1 1.8l0 1.2l-1 -1.3zM28.2 236.3l1 -1l0 1.1l-1 .5z"/>
<path fill="#6000ff" stroke="#6000ff" d="M29.2 235.3l1 -.6l0 1.3l-1 .4z"/>
<path fill="#8b00ff" stroke="#8b00ff" d="M30.2 234.7l1 -.5l0 1.6l-1 .2z"/>
<path fill="#a100ff" stroke="#a100ff" d="M31.2 234.2l1 -.5l0 1.8l-1 .3z"/>
<path fill="#ac00ff" stroke="#ac00ff" d="M32.2 233.7l1 -.3l0 1.9l-1 .2z"/>
<path fill="#b700ff" stroke="#b700ff" d="M33.2 233.4l1.1 0l0 2l-1.1 -.1zM34.3 233.4l1 0l0 2.1l-1 -.1zM35.3 233.4l1 .1l0 2.1l-1 -.1zM36.3 233.5l1 .2l0 2.1l-1 -.2z"/>
<path fill="#ac00ff" stroke="#ac00ff" d="M37.3 233.7l1 .3l0 2l-1 -.2z"/>
<path fill="#a100ff" stroke="#a100ff" d="M38.3 234.0l1 .3l0 2l-1 -.3z"/>
<path fill="#9600ff" stroke="#9600ff" d="M39.3 234.3l1 .7l0 1.9l-1 -.6z"/>
<path fill="#8b00ff" stroke="#8b00ff" d="M40.3 235.0l1 .6l0 1.8l-1 -.5zM41.3 235.6l1 .7l0 1.7l-1 -.6zM42.3 236.3l1 .7l0 1.5l-1 -.5zM43.3 237.0l1.1 .7l0 1.3l-1.1 -.5zM44.4 237.7l1 .4l0 1.4l-1 -.5zM45.4 238.1l1 .5l0 1.3l-1 -.4zM46.4 238.6l1 .4l0 1.2l-1 -.3zM47.4 239.0l1 .4l0 1.2l-1 -.4zM48.4 239.4l1 .3l0 1.3l-1 -.4zM49.4 239.7l1 .4l0 1.2l-1 -.3zM50.4 240.1l1 .3l0 1.2l-1 -.3zM51.4 240.4l1 .2l0 1.3l-1 -.3z"/>
<path fill="#9600ff" stroke="#9600ff" d="M52.4 240.6l1 .1l0 1.4l-1 -.2zM53.4 240.7l1 .1l0 1.5l-1 -.2z"/>
<path fill="#a100ff" stroke="#a100ff" d="M54.4 240.8l1.1 .1l0 1.6l-1.1 -.2z"/>
<path fill="#ac00ff" stroke="#ac00ff" d="M55.5 240.9l1 .1l0 1.8l-1 -.3z"/>
<path fill="#b700ff" stroke="#b700ff" d="M56.5 241.0l1 .2l0 2.1l-1 -.5z"/>
<path fill="#c200ff" stroke="#c200ff" d="M57.5 241.2l1 .2l0 2.3l-1 -.4zM58.5 241.4l1 .3l0 2.6l-1 -.6z"/>
<path fill="#b700ff" stroke="#b700ff" d="M59.5 241.7l1 .3l0 2.8l-1 -.5z"/>
<path fill="#ac00ff" stroke="#ac00ff" d="M60.5 242.0l1 .4l0 3l-1 -.6z"/>
<path fill="#a100ff" stroke="#a100ff" d="M61.5 242.4l1 .6l0 3.1l-1 -.7z"/>
<path fill="#9600ff" stroke="#9600ff" d="M62.5 243.0l1 .6l0 3.1l-1 -.6z"/>
<path fill="#8b00ff" stroke="#8b00ff" d="M63.5 243.6l1 .9l0 3.1l-1 -.9z"/>
<path fill="#7600ff" stroke="#7600ff" d="M64.5 244.5l1.1 .9l0 3l-1.1 -.8z"/>
<path fill="#6000ff" stroke="#6000ff" d="M65.6 245.4l1 1l0 2.8l-1 -.8z"/>
<path fill="#4a00ff" stroke="#4a00ff" d="M66.6 246.4l1 1.2l0 2.5l-1 -.9z"/>
<path fill="#3400ff" stroke="#3400ff" d="M67.6 247.6l1 1.4l0 2.1l-1 -1z"/>
<path fill="#2a00ff" stroke="#2a00ff" d="M68.6 249.0l1 1.3l0 1.7l-1 -.9zM69.6 250.3l1 1.3l0 1.2l-1 -.8z"/>
<path fill="#3f00ff" stroke="#3f00ff" d="M28.2 236.9l1 -.5l0 1l-1 .1z"/>
<path fill="#6000ff" stroke="#6000ff" d="M29.2 236.4l1 -.4l0 1.4l-1 0z"/>
<path fill="#8100ff" stroke="#8100ff" d="M30.2 236.0l1 -.2l0 1.5l-1 .1z"/>
<path fill="#8b00ff" stroke="#8b00ff" d="M31.2 235.8l1 -.3l0 1.7l-1 .1zM32.2 235.5l1 -.2l0 1.9l-1 0z"/>
<path fill="#9600ff" stroke="#9600ff" d="M33.2 235.3l1.1 .1l0 2l-1.1 -.2zM34.3 235.4l1 .1l0 2.1l-1 -.2z"/>
<path fill="#8b00ff" stroke="#8b00ff" d="M35.3 235.5l1 .1l0 2.1l-1 -.1zM36.3 235.6l1 .2l0 2.1l-1 -.2zM37.3 235.8l1 .2l0 2.1l-1 -.2zM38.3 236.0l1 .3l0 2l-1 -.2zM39.3 236.3l1 .6l0 1.8l-1 -.4zM40.3 236.9l1 .5l0 1.8l-1 -.5zM41.3 237.4l1 .6l0 1.6l-1 -.4zM42.3 238.0l1 .5l0 1.5l-1 -.4zM43.3 238.5l1.1 .5l0 1.4l-1.1 -.4zM44.4 239.0l1 .5l0 1.3l-1 -.4zM45.4 239.5l1 .4l0 1.3l-1 -.4zM46.4 239.9l1 .3l0 1.3l-1 -.3zM47.4 240.2l1 .4l0 1.2l-1 -.3zM48.4 240.6l1 .4l0 1.2l-1 -.4zM49.4 241.0l1 .3l0 1.2l-1 -.3zM50.4 241.3l1 .3l0 1.2l-1 -.3zM51.4 241.6l1 .3l0 1.2l-1 -.3zM52.4 241.9l1 .2l0 1.3l-1 -.3z"/>
<path fill="#9600ff" stroke="#9600ff" d="M53.4 242.1l1 .2l0 1.4l-1 -.3zM54.4 242.3l1.1 .2l0 1.5l-1.1 -.3zM55.5 242.5l1 .3l0 1.8l-1 -.6zM56.5 242.8l1 .5l0 2l-1 -.7zM57.5 243.3l1 .4l0 2.4l-1 -.8zM58.5 243.7l1 .6l0 2.6l-1 -.8zM59.5 244.3l1 .5l0 2.8l-1 -.7z"/>
<path fill="#8b00ff" stroke="#8b00ff" d="M60.5 244.8l1 .6l0 3l-1 -.8zM61.5 245.4l1 .7l0 3l-1 -.7zM62.5 246.1l1 .6l0 3.2l-1 -.8zM63.5 246.7l1 .9l0 3.1l-1 -.8z"/>
<path fill="#6b00ff" stroke="#6b00ff" d="M64.5 247.6l1.1 .8l0 3l-1.1 -.7z"/>
<path fill="#5500ff" stroke="#5500ff" d="M65.6 248.4l1 .8l0 2.8l-1 -.6z"/>
<path fill="#3f00ff" stroke="#3f00ff" d="M66.6 249.2l1 .9l0 2.5l-1 -.6z"/>
<path fill="#1f00ff" stroke="#1f00ff" d="M67.6 250.1l1 1l0 2.2l-1 -.7z"/>
<path fill="#0900ff" stroke="#0900ff" d="M68.6 251.1l1 .9l0 1.6l-1 -.3zM69.6 252.0l1 .8l0 1.2l-1 -.4z"/>
<path fill="#ff40f0" stroke="#ff40f0" d="M34.4 227.2l.4 -1.8l.3 1.8zM36.1 227.2l.4 -2.4l.4 2.4zM61.0 233.3l.4 -2.2l.4 2.2zM63.4 234.2l.4 -3.4l.3 3.4zM65.5 237.0l.3 -2.4l.3 2.4zM59.1 233.9l.4 -1.3l.4 1.3z"/>
</g>
<path d="M14.1 272.2L85.9 294.9M85.9 294.9L126.6 257.4M126.6 257.4L129.2 203.4M14.3 272.2L13.2 273.1M24 275.3L22.9 276.2M33.7 278.4L32.6 279.3M43.5 281.5L42.4 282.4M53.4 284.6L52.3 285.6M63.4 287.8L62.3 288.7M73.5 290.9L72.4 291.9M83.6 294.2L82.6 295.1M90.1 291L91.9 291.6M95.6 285.9L97.5 286.5M101.1 280.8L102.9 281.4M106.5 275.9L108.3 276.4M111.8 271L113.6 271.5M117 266.1L118.8 266.7M122.2 261.4L124 261.9M129 206L130.2 206.2M128.6 214.4L129.8 214.5M128.2 222.7L129.4 222.8M127.8 230.8L129 231M127.5 238.8L128.7 239M127.1 246.8L128.3 246.9M126.7 254.6L127.9 254.8" stroke="#666" stroke-width="0.45" fill="none"/>
<g font-family="'DejaVu Sans','Liberation Sans',sans-serif" font-size="5" fill="#444" text-anchor="middle">
<text x="10.5" y="284.1">0</text>
<text x="20.5" y="287.4">50</text>
<text x="30.5" y="290.8">100</text>
<text x="40.5" y="294.1">150</text>
<text x="50.5" y="297.4">200</text>
<text x="60.5" y="300.7">250</text>
<text x="70.5" y="304.1">300</text>
<text x="80.5" y="307.4">350</text>
<text x="98.5" y="301.8">200</text>
<text x="103.6" y="296.4">400</text>
<text x="108.8" y="291">600</text>
<text x="113.9" y="285.6">800</text>
<text x="119.1" y="280.1">1000</text>
<text x="124.2" y="274.7">1200</text>
<text x="129.4" y="269.3">1400</text>
<text x="137.8" y="207.8">0</text>
<text x="137.4" y="216.1">−5</text>
<text x="137" y="224.4">−10</text>
<text x="136.6" y="232.6">−15</text>
<text x="136.3" y="240.6">−20</text>
<text x="135.9" y="248.5">−25</text>
<text x="135.5" y="256.4">−30</text>
<text transform="translate(41.5 300.8) rotate(20)" y="1.8">DOA (°)</text>
<text transform="translate(120.8 288.9) rotate(-46)" y="1.8">Frequency (Hz)</text>
</g>
<rect x="143.6" y="206" width="13.4" height="65.8" fill="url(#gr)"/>
<g font-family="'DejaVu Sans','Liberation Sans',sans-serif" font-size="5" fill="#444">
<text x="160.2" y="211.9">−5</text>
<text x="160.2" y="225.8">−10</text>
<text x="160.2" y="239.8">−15</text>
<text x="160.2" y="253.7">−20</text>
<text x="160.2" y="267.6">−25</text>
<text transform="translate(176.3 238.9) rotate(-90)" text-anchor="middle">Pseudo-beam (dB)</text>
</g>
<path d="M157 210.2h1.4M157 224.1h1.4M157 238.1h1.4M157 252h1.4M157 265.9h1.4" stroke="#555" stroke-width="0.4"/>
</g>
<g>
<polygon points="198.1,272.2 241.1,236.8 240.5,183.5 195.4,217.7" fill="#fbfbfb" stroke="#d8d8d8" stroke-width="0.3"/>
<polygon points="241.1,236.8 310.6,257.4 313.2,203.4 240.5,183.5" fill="#fbfbfb" stroke="#d8d8d8" stroke-width="0.3"/>
<polygon points="198.1,272.2 269.9,294.9 310.6,257.4 241.1,236.8" fill="#fcfcfc" stroke="#dcdcdc" stroke-width="0.3"/>
<path d="M241.3 236.9L240.7 183.6M198.3 272.2L241.3 236.9M250.7 239.6L250.5 186.3M208 275.3L250.7 239.6M260.1 242.4L260.3 188.9M217.7 278.4L260.1 242.4M269.6 245.2L270.3 191.7M227.5 281.5L269.6 245.2M279.2 248.1L280.3 194.4M237.4 284.6L279.2 248.1M288.8 250.9L290.4 197.2M247.4 287.8L288.8 250.9M298.6 253.8L300.6 199.9M257.5 290.9L298.6 253.8M308.4 256.7L310.9 202.8M267.6 294.2L308.4 256.7M202.6 268.5L200.1 214.2M274.1 291L202.6 268.5M208.4 263.7L206.2 209.5M279.6 285.9L208.4 263.7M214.2 259L212.3 204.9M285.1 280.8L214.2 259M219.9 254.3L218.3 200.4M290.5 275.9L219.9 254.3M225.5 249.7L224.1 195.9M295.8 271L225.5 249.7M231 245.1L230 191.5M301 266.1L231 245.1M236.5 240.6L235.7 187.2M306.2 261.4L236.5 240.6M195.6 220.1L240.5 185.8M240.5 185.8L313.1 205.7M195.9 227L240.6 192.6M240.6 192.6L312.7 212.6M196.2 233.9L240.7 199.4M240.7 199.4L312.4 219.5M196.6 240.8L240.8 206.1M240.8 206.1L312.1 226.2M196.9 247.5L240.8 212.7M240.8 212.7L311.7 232.9M197.2 254.2L240.9 219.2M240.9 219.2L311.4 239.5M197.6 260.8L241 225.6M241 225.6L311.1 246M197.9 267.3L241.1 232M241.1 232L310.8 252.5" stroke="#c6c6c6" stroke-width="0.55" fill="none"/>
<g stroke-width="0.35" stroke-linejoin="round">
<path fill="#481a6c" stroke="#481a6c" d="M199.8 271.0l71.3 22.5l37.5 -34.6l-69.2 -20.5z"/>
<path fill="#38588c" stroke="#38588c" d="M208.5 274.0l5.5 -8.2l8 -3.3l15.5 4.3l-5 9z"/>
<path fill="#1e9c89" stroke="#1e9c89" d="M221.0 267.5l8.5 -2.3l4 3.3l-7.5 2.8z"/>
<path fill="#38588c" stroke="#38588c" d="M239.0 279.5l13 -1.7l5.5 5.4l-11.5 3.3z"/>
<path fill="#482878" stroke="#482878" d="M255.8 268.5l31.8 9.8l8 -7.4l-31.6 -9.6z"/>
<path fill="#472a7a" stroke="#472a7a" d="M273.9 259.6l25.6 7.7l3.9 -3.6l-25.5 -7.7z"/>
<linearGradient id="g1" gradientUnits="userSpaceOnUse" x1="214" y1="232" x2="308" y2="230"><stop offset="0" stop-color="#00ffb7"/><stop offset=".4" stop-color="#00ffcc"/><stop offset="1" stop-color="#00ffdc"/></linearGradient>
<polygon points="239.8,210.6 308.4,229.6 282.8,251.1 214.2,232.1" fill="url(#g1)" stroke="none"/>
<path fill="#00ff81" stroke="#00ff81" d="M228.0 237.3l1.1 .2l0 1.2l-1.1 -.3z"/>
<path fill="#00ff76" stroke="#00ff76" d="M229.1 237.5l1.2 .2l0 1.3l-1.2 -.3zM230.3 237.7l1.1 .2l0 1.3l-1.1 -.2zM231.4 237.9l1.2 .2l0 1.4l-1.2 -.3zM232.6 238.1l1.1 .2l0 1.4l-1.1 -.2z"/>
<path fill="#00ff6c" stroke="#00ff6c" d="M233.7 238.3l1.1 .2l0 1.5l-1.1 -.3zM234.8 238.5l1.2 .2l0 1.6l-1.2 -.3zM236.0 238.7l1.1 .2l0 1.7l-1.1 -.3z"/>
<path fill="#00ff61" stroke="#00ff61" d="M237.1 238.9l1.2 .3l0 1.8l-1.2 -.4zM238.3 239.2l1.1 .2l0 1.9l-1.1 -.3zM239.4 239.4l1.2 .2l0 2.1l-1.2 -.4z"/>
<path fill="#00ff56" stroke="#00ff56" d="M240.6 239.6l1.1 .2l0 2.2l-1.1 -.3zM241.7 239.8l1.1 .3l0 2.2l-1.1 -.3zM242.8 240.1l1.2 .2l0 2.4l-1.2 -.4zM244.0 240.3l1.1 .2l0 2.5l-1.1 -.3z"/>
<path fill="#00ff4b" stroke="#00ff4b" d="M245.1 240.5l1.2 .3l0 2.6l-1.2 -.4zM246.3 240.8l1.1 .2l0 2.7l-1.1 -.3zM247.4 241.0l1.2 .2l0 2.9l-1.2 -.4z"/>
<path fill="#00ff41" stroke="#00ff41" d="M248.6 241.2l1.1 .3l0 2.9l-1.1 -.3zM249.7 241.5l1.1 .2l0 3l-1.1 -.3zM250.8 241.7l1.2 .3l0 3.1l-1.2 -.4zM252.0 242.0l1.1 .3l0 3.2l-1.1 -.4zM253.1 242.3l1.2 .3l0 3.2l-1.2 -.3zM254.3 242.6l1.1 .3l0 3.3l-1.1 -.4zM255.4 242.9l1.1 .3l0 3.3l-1.1 -.3zM256.5 243.2l1.2 .3l0 3.4l-1.2 -.4zM257.7 243.5l1.1 .3l0 3.4l-1.1 -.3zM258.8 243.8l1.2 .3l0 3.5l-1.2 -.4z"/>
<path fill="#00ff36" stroke="#00ff36" d="M260.0 244.1l1.1 .3l0 3.5l-1.1 -.3zM261.1 244.4l1.1 .3l0 3.5l-1.1 -.3zM262.2 244.7l1.2 .3l0 3.5l-1.2 -.3zM263.4 245.0l1.1 .3l0 3.6l-1.1 -.4zM264.5 245.3l1.2 .3l0 3.6l-1.2 -.3zM265.7 245.6l1.1 .3l0 3.6l-1.1 -.3zM266.8 245.9l1.2 .3l0 3.6l-1.2 -.3zM268.0 246.2l1.1 .4l0 3.4l-1.1 -.2zM269.1 246.6l1.1 .3l0 3.4l-1.1 -.3zM270.2 246.9l1.2 .3l0 3.4l-1.2 -.3zM271.4 247.2l1.1 .3l0 3.3l-1.1 -.2zM272.5 247.5l1.2 .3l0 3.3l-1.2 -.3z"/>
<path fill="#00ff2b" stroke="#00ff2b" d="M273.7 247.8l1.1 .4l0 3.2l-1.1 -.3zM274.8 248.2l1.2 .3l0 3.1l-1.2 -.2zM275.9 248.5l1.1 .3l0 3l-1.1 -.2zM277.1 248.8l1.1 .3l0 2.9l-1.1 -.2zM278.2 249.1l1.2 .3l0 2.9l-1.2 -.3zM279.4 249.4l1.1 .4l0 2.7l-1.1 -.2zM280.5 249.8l1.2 .3l0 2.6l-1.2 -.2zM281.7 250.1l1.1 .3l0 2.5l-1.1 -.2z"/>
<path fill="#00ff61" stroke="#00ff61" d="M228.0 238.5l1.1 .3l0 1.2l-1.1 -.3zM229.1 238.7l1.2 .3l0 1.2l-1.2 -.3zM230.3 239.0l1.1 .2l0 1.3l-1.1 -.3zM231.4 239.2l1.2 .3l0 1.4l-1.2 -.4zM232.6 239.5l1.1 .2l0 1.5l-1.1 -.3z"/>
<path fill="#00ff56" stroke="#00ff56" d="M233.7 239.7l1.1 .3l0 1.5l-1.1 -.3zM234.8 240.0l1.2 .3l0 1.6l-1.2 -.4zM236.0 240.3l1.1 .3l0 1.7l-1.1 -.4zM237.1 240.6l1.2 .4l0 1.8l-1.2 -.5z"/>
<path fill="#00ff4b" stroke="#00ff4b" d="M238.3 241.0l1.1 .3l0 1.9l-1.1 -.4zM239.4 241.3l1.2 .4l0 2l-1.2 -.5zM240.6 241.7l1.1 .3l0 2.2l-1.1 -.5zM241.7 242.0l1.1 .3l0 2.3l-1.1 -.4zM242.8 242.3l1.2 .4l0 2.4l-1.2 -.5z"/>
<path fill="#00ff41" stroke="#00ff41" d="M244.0 242.7l1.1 .3l0 2.5l-1.1 -.4zM245.1 243.0l1.2 .4l0 2.6l-1.2 -.5zM246.3 243.4l1.1 .3l0 2.7l-1.1 -.4zM247.4 243.7l1.2 .4l0 2.8l-1.2 -.5z"/>
<path fill="#00ff36" stroke="#00ff36" d="M248.6 244.1l1.1 .3l0 2.9l-1.1 -.4zM249.7 244.4l1.1 .3l0 3.1l-1.1 -.5zM250.8 244.7l1.2 .4l0 3.1l-1.2 -.4zM252.0 245.1l1.1 .4l0 3.1l-1.1 -.4zM253.1 245.5l1.2 .3l0 3.2l-1.2 -.4zM254.3 245.8l1.1 .4l0 3.3l-1.1 -.5zM255.4 246.2l1.1 .3l0 3.4l-1.1 -.4zM256.5 246.5l1.2 .4l0 3.4l-1.2 -.4zM257.7 246.9l1.1 .3l0 3.5l-1.1 -.4zM258.8 247.2l1.2 .4l0 3.4l-1.2 -.3zM260.0 247.6l1.1 .3l0 3.5l-1.1 -.4zM261.1 247.9l1.1 .3l0 3.5l-1.1 -.3zM262.2 248.2l1.2 .3l0 3.5l-1.2 -.3zM263.4 248.5l1.1 .4l0 3.5l-1.1 -.4zM264.5 248.9l1.2 .3l0 3.5l-1.2 -.3z"/>
<path fill="#00ff2b" stroke="#00ff2b" d="M265.7 249.2l1.1 .3l0 3.6l-1.1 -.4zM266.8 249.5l1.2 .3l0 3.5l-1.2 -.2zM268.0 249.8l1.1 .2l0 3.5l-1.1 -.2zM269.1 250.0l1.1 .3l0 3.4l-1.1 -.2zM270.2 250.3l1.2 .3l0 3.4l-1.2 -.3zM271.4 250.6l1.1 .2l0 3.4l-1.1 -.2zM272.5 250.8l1.2 .3l0 3.3l-1.2 -.2zM273.7 251.1l1.1 .3l0 3.2l-1.1 -.2zM274.8 251.4l1.2 .2l0 3.1l-1.2 -.1zM275.9 251.6l1.1 .2l0 3l-1.1 -.1zM277.1 251.8l1.1 .2l0 3l-1.1 -.2zM278.2 252.0l1.2 .3l0 2.8l-1.2 -.1zM279.4 252.3l1.1 .2l0 2.7l-1.1 -.1zM280.5 252.5l1.2 .2l0 2.6l-1.2 -.1zM281.7 252.7l1.1 .2l0 2.5l-1.1 -.1z"/>
<path fill="#00ff4b" stroke="#00ff4b" d="M228.0 239.6l1.1 .3l0 1.2l-1.1 -.3zM229.1 239.9l1.2 .3l0 1.3l-1.2 -.4zM230.3 240.2l1.1 .3l0 1.4l-1.1 -.4zM231.4 240.5l1.2 .4l0 1.3l-1.2 -.3zM232.6 240.9l1.1 .3l0 1.4l-1.1 -.4z"/>
<path fill="#00ff41" stroke="#00ff41" d="M233.7 241.2l1.1 .3l0 1.5l-1.1 -.4zM234.8 241.5l1.2 .4l0 1.6l-1.2 -.5zM236.0 241.9l1.1 .4l0 1.7l-1.1 -.5zM237.1 242.3l1.2 .5l0 1.8l-1.2 -.6zM238.3 242.8l1.1 .4l0 2l-1.1 -.6zM239.4 243.2l1.2 .5l0 2l-1.2 -.5zM240.6 243.7l1.1 .5l0 2.1l-1.1 -.6z"/>
<path fill="#00ff36" stroke="#00ff36" d="M241.7 244.2l1.1 .4l0 2.3l-1.1 -.6zM242.8 244.6l1.2 .5l0 2.4l-1.2 -.6zM244.0 245.1l1.1 .4l0 2.5l-1.1 -.5zM245.1 245.5l1.2 .5l0 2.6l-1.2 -.6zM246.3 246.0l1.1 .4l0 2.8l-1.1 -.6zM247.4 246.4l1.2 .5l0 2.8l-1.2 -.5zM248.6 246.9l1.1 .4l0 3l-1.1 -.6z"/>
<path fill="#00ff2b" stroke="#00ff2b" d="M249.7 247.3l1.1 .5l0 3l-1.1 -.5zM250.8 247.8l1.2 .4l0 3.1l-1.2 -.5zM252.0 248.2l1.1 .4l0 3.2l-1.1 -.5zM253.1 248.6l1.2 .4l0 3.2l-1.2 -.4zM254.3 249.0l1.1 .5l0 3.2l-1.1 -.5zM255.4 249.5l1.1 .4l0 3.3l-1.1 -.5zM256.5 249.9l1.2 .4l0 3.4l-1.2 -.5zM257.7 250.3l1.1 .4l0 3.4l-1.1 -.4zM258.8 250.7l1.2 .3l0 3.4l-1.2 -.3zM260.0 251.0l1.1 .4l0 3.4l-1.1 -.4zM261.1 251.4l1.1 .3l0 3.5l-1.1 -.4zM262.2 251.7l1.2 .3l0 3.6l-1.2 -.4zM263.4 252.0l1.1 .4l0 3.5l-1.1 -.3zM264.5 252.4l1.2 .3l0 3.6l-1.2 -.4zM265.7 252.7l1.1 .4l0 3.6l-1.1 -.4zM266.8 253.1l1.2 .2l0 3.5l-1.2 -.1zM268.0 253.3l1.1 .2l0 3.5l-1.1 -.2zM269.1 253.5l1.1 .2l0 3.5l-1.1 -.2zM270.2 253.7l1.2 .3l0 3.3l-1.2 -.1zM271.4 254.0l1.1 .2l0 3.3l-1.1 -.2zM272.5 254.2l1.2 .2l0 3.3l-1.2 -.2zM273.7 254.4l1.1 .2l0 3.2l-1.1 -.1zM274.8 254.6l1.2 .1l0 3.1l-1.2 0zM275.9 254.7l1.1 .1l0 3.1l-1.1 -.1z"/>
<path fill="#00ff20" stroke="#00ff20" d="M277.1 254.8l1.1 .2l0 2.9l-1.1 0zM278.2 255.0l1.2 .1l0 2.8l-1.2 0zM279.4 255.1l1.1 .1l0 2.8l-1.1 -.1zM280.5 255.2l1.2 .1l0 2.6l-1.2 .1zM281.7 255.3l1.1 .1l0 2.4l-1.1 .1z"/>
<path fill="#00ff36" stroke="#00ff36" d="M228.0 240.8l1.1 .3l0 1.2l-1.1 -.4zM229.1 241.1l1.2 .4l0 1.2l-1.2 -.4zM230.3 241.5l1.1 .4l0 1.3l-1.1 -.5zM231.4 241.9l1.2 .3l0 1.4l-1.2 -.4zM232.6 242.2l1.1 .4l0 1.4l-1.1 -.4z"/>
<path fill="#00ff2b" stroke="#00ff2b" d="M233.7 242.6l1.1 .4l0 1.4l-1.1 -.4zM234.8 243.0l1.2 .5l0 1.6l-1.2 -.7zM236.0 243.5l1.1 .5l0 1.7l-1.1 -.6zM237.1 244.0l1.2 .6l0 1.8l-1.2 -.7zM238.3 244.6l1.1 .6l0 1.9l-1.1 -.7zM239.4 245.2l1.2 .5l0 2.1l-1.2 -.7zM240.6 245.7l1.1 .6l0 2.2l-1.1 -.7zM241.7 246.3l1.1 .6l0 2.3l-1.1 -.7zM242.8 246.9l1.2 .6l0 2.3l-1.2 -.6zM244.0 247.5l1.1 .5l0 2.5l-1.1 -.7zM245.1 248.0l1.2 .6l0 2.6l-1.2 -.7zM246.3 248.6l1.1 .6l0 2.7l-1.1 -.7zM247.4 249.2l1.2 .5l0 2.9l-1.2 -.7zM248.6 249.7l1.1 .6l0 2.9l-1.1 -.6zM249.7 250.3l1.1 .5l0 3.1l-1.1 -.7zM250.8 250.8l1.2 .5l0 3.1l-1.2 -.5zM252.0 251.3l1.1 .5l0 3.1l-1.1 -.5z"/>
<path fill="#00ff20" stroke="#00ff20" d="M253.1 251.8l1.2 .4l0 3.3l-1.2 -.6zM254.3 252.2l1.1 .5l0 3.3l-1.1 -.5zM255.4 252.7l1.1 .5l0 3.3l-1.1 -.5zM256.5 253.2l1.2 .5l0 3.4l-1.2 -.6zM257.7 253.7l1.1 .4l0 3.4l-1.1 -.4zM258.8 254.1l1.2 .3l0 3.5l-1.2 -.4zM260.0 254.4l1.1 .4l0 3.5l-1.1 -.4zM261.1 254.8l1.1 .4l0 3.5l-1.1 -.4zM262.2 255.2l1.2 .4l0 3.5l-1.2 -.4zM263.4 255.6l1.1 .3l0 3.6l-1.1 -.4zM264.5 255.9l1.2 .4l0 3.6l-1.2 -.4zM265.7 256.3l1.1 .4l0 3.5l-1.1 -.3zM266.8 256.7l1.2 .1l0 3.6l-1.2 -.2zM268.0 256.8l1.1 .2l0 3.5l-1.1 -.1zM269.1 257.0l1.1 .2l0 3.4l-1.1 -.1zM270.2 257.2l1.2 .1l0 3.4l-1.2 -.1zM271.4 257.3l1.1 .2l0 3.3l-1.1 -.1zM272.5 257.5l1.2 .2l0 3.3l-1.2 -.2zM273.7 257.7l1.1 .1l0 3.2l-1.1 0zM274.8 257.8l1.2 0l0 3.2l-1.2 0zM275.9 257.8l1.1 .1l0 3l-1.1 .1zM277.1 257.9l1.1 0l0 2.9l-1.1 .1zM278.2 257.9l1.2 0l0 2.9l-1.2 0zM279.4 257.9l1.1 .1l0 2.7l-1.1 .1zM280.5 258.0l1.2 -.1l0 2.6l-1.2 .2zM281.7 257.9l1.1 -.1l0 2.5l-1.1 .2zM228.0 241.9l1.1 .4l0 1.2l-1.1 -.5zM229.1 242.3l1.2 .4l0 1.3l-1.2 -.5zM230.3 242.7l1.1 .5l0 1.3l-1.1 -.5zM231.4 243.2l1.2 .4l0 1.4l-1.2 -.5zM232.6 243.6l1.1 .4l0 1.4l-1.1 -.4zM233.7 244.0l1.1 .4l0 1.5l-1.1 -.5zM234.8 244.4l1.2 .7l0 1.5l-1.2 -.7zM236.0 245.1l1.1 .6l0 1.7l-1.1 -.8zM237.1 245.7l1.2 .7l0 1.8l-1.2 -.8zM238.3 246.4l1.1 .7l0 1.9l-1.1 -.8zM239.4 247.1l1.2 .7l0 2l-1.2 -.8zM240.6 247.8l1.1 .7l0 2.1l-1.1 -.8zM241.7 248.5l1.1 .7l0 2.2l-1.1 -.8zM242.8 249.2l1.2 .6l0 2.4l-1.2 -.8zM244.0 249.8l1.1 .7l0 2.5l-1.1 -.8zM245.1 250.5l1.2 .7l0 2.6l-1.2 -.8zM246.3 251.2l1.1 .7l0 2.7l-1.1 -.8zM247.4 251.9l1.2 .7l0 2.8l-1.2 -.8zM248.6 252.6l1.1 .6l0 3l-1.1 -.8zM249.7 253.2l1.1 .7l0 3l-1.1 -.7zM250.8 253.9l1.2 .5l0 3.1l-1.2 -.6z"/>
<path fill="#00ff16" stroke="#00ff16" d="M252.0 254.4l1.1 .5l0 3.2l-1.1 -.6zM253.1 254.9l1.2 .6l0 3.2l-1.2 -.6zM254.3 255.5l1.1 .5l0 3.3l-1.1 -.6zM255.4 256.0l1.1 .5l0 3.3l-1.1 -.5zM256.5 256.5l1.2 .6l0 3.3l-1.2 -.6zM257.7 257.1l1.1 .4l0 3.4l-1.1 -.5zM258.8 257.5l1.2 .4l0 3.4l-1.2 -.4zM260.0 257.9l1.1 .4l0 3.4l-1.1 -.4zM261.1 258.3l1.1 .4l0 3.5l-1.1 -.5zM262.2 258.7l1.2 .4l0 3.5l-1.2 -.4zM263.4 259.1l1.1 .4l0 3.5l-1.1 -.4zM264.5 259.5l1.2 .4l0 3.5l-1.2 -.4zM265.7 259.9l1.1 .3l0 3.6l-1.1 -.4zM266.8 260.2l1.2 .2l0 3.5l-1.2 -.1zM268.0 260.4l1.1 .1l0 3.5l-1.1 -.1zM269.1 260.5l1.1 .1l0 3.4l-1.1 0zM270.2 260.6l1.2 .1l0 3.4l-1.2 -.1zM271.4 260.7l1.1 .1l0 3.4l-1.1 -.1zM272.5 260.8l1.2 .2l0 3.2l-1.2 0zM273.7 261.0l1.1 0l0 3.2l-1.1 0zM274.8 261.0l1.2 0l0 3.1l-1.2 .1zM275.9 261.0l1.1 -.1l0 3l-1.1 .2zM277.1 260.9l1.1 -.1l0 3l-1.1 .1zM278.2 260.8l1.2 0l0 2.8l-1.2 .2zM279.4 260.8l1.1 -.1l0 2.7l-1.1 .2zM280.5 260.7l1.2 -.2l0 2.6l-1.2 .3zM281.7 260.5l1.1 -.2l0 2.5l-1.1 .3z"/>
<path fill="#00ff36" stroke="#00ff36" d="M228.0 243.1l1.1 .5l0 1.2l-1.1 -.5zM229.1 243.5l1.2 .5l0 1.3l-1.2 -.6z"/>
<path fill="#00ff2b" stroke="#00ff2b" d="M230.3 244.0l1.1 .5l0 1.3l-1.1 -.5zM231.4 244.5l1.2 .5l0 1.3l-1.2 -.5zM232.6 245.0l1.1 .4l0 1.5l-1.1 -.6zM233.7 245.4l1.1 .5l0 1.5l-1.1 -.5zM234.8 245.9l1.2 .7l0 1.6l-1.2 -.8z"/>
<path fill="#00ff20" stroke="#00ff20" d="M236.0 246.6l1.1 .8l0 1.7l-1.1 -.9zM237.1 247.4l1.2 .8l0 1.8l-1.2 -.9zM238.3 248.2l1.1 .8l0 2l-1.1 -1zM239.4 249.0l1.2 .8l0 2.1l-1.2 -.9zM240.6 249.8l1.1 .8l0 2.2l-1.1 -.9z"/>
<path fill="#00ff16" stroke="#00ff16" d="M241.7 250.6l1.1 .8l0 2.3l-1.1 -.9zM242.8 251.4l1.2 .8l0 2.4l-1.2 -.9zM244.0 252.2l1.1 .8l0 2.5l-1.1 -.9zM245.1 253.0l1.2 .8l0 2.6l-1.2 -.9z"/>
<path fill="#00ff0b" stroke="#00ff0b" d="M246.3 253.8l1.1 .8l0 2.7l-1.1 -.9zM247.4 254.6l1.2 .8l0 2.8l-1.2 -.9zM248.6 255.4l1.1 .8l0 2.9l-1.1 -.9zM249.7 256.2l1.1 .7l0 3l-1.1 -.8z"/>
<path fill="#00ff00" stroke="#00ff00" d="M250.8 256.9l1.2 .6l0 3.1l-1.2 -.7zM252.0 257.5l1.1 .6l0 3.1l-1.1 -.6z"/>
<path fill="#0bff00" stroke="#0bff00" d="M253.1 258.1l1.2 .6l0 3.2l-1.2 -.7zM254.3 258.7l1.1 .6l0 3.2l-1.1 -.6zM255.4 259.3l1.1 .5l0 3.4l-1.1 -.7z"/>
<path fill="#16ff00" stroke="#16ff00" d="M256.5 259.8l1.2 .6l0 3.4l-1.2 -.6z"/>
<path fill="#20ff00" stroke="#20ff00" d="M257.7 260.4l1.1 .5l0 3.4l-1.1 -.5zM258.8 260.9l1.2 .4l0 3.5l-1.2 -.5z"/>
<path fill="#2bff00" stroke="#2bff00" d="M260.0 261.3l1.1 .4l0 3.5l-1.1 -.4z"/>
<path fill="#36ff00" stroke="#36ff00" d="M261.1 261.7l1.1 .5l0 3.4l-1.1 -.4z"/>
<path fill="#41ff00" stroke="#41ff00" d="M262.2 262.2l1.2 .4l0 3.5l-1.2 -.5z"/>
<path fill="#4cff00" stroke="#4cff00" d="M263.4 262.6l1.1 .4l0 3.5l-1.1 -.4z"/>
<path fill="#61ff00" stroke="#61ff00" d="M264.5 263.0l1.2 .4l0 3.6l-1.2 -.5zM265.7 263.4l1.1 .4l0 3.6l-1.1 -.4z"/>
<path fill="#6cff00" stroke="#6cff00" d="M266.8 263.8l1.2 .1l0 3.5l-1.2 0z"/>
<path fill="#77ff00" stroke="#77ff00" d="M268.0 263.9l1.1 .1l0 3.5l-1.1 -.1zM269.1 264.0l1.1 0l0 3.5l-1.1 0zM270.2 264.0l1.2 .1l0 3.4l-1.2 0z"/>
<path fill="#6cff00" stroke="#6cff00" d="M271.4 264.1l1.1 .1l0 3.3l-1.1 0zM272.5 264.2l1.2 0l0 3.3l-1.2 0z"/>
<path fill="#61ff00" stroke="#61ff00" d="M273.7 264.2l1.1 0l0 3.2l-1.1 .1z"/>
<path fill="#56ff00" stroke="#56ff00" d="M274.8 264.2l1.2 -.1l0 3.1l-1.2 .2zM275.9 264.1l1.1 -.2l0 3l-1.1 .3z"/>
<path fill="#4cff00" stroke="#4cff00" d="M277.1 263.9l1.1 -.1l0 2.9l-1.1 .2zM278.2 263.8l1.2 -.2l0 2.8l-1.2 .3z"/>
<path fill="#41ff00" stroke="#41ff00" d="M279.4 263.6l1.1 -.2l0 2.8l-1.1 .2z"/>
<path fill="#36ff00" stroke="#36ff00" d="M280.5 263.4l1.2 -.3l0 2.7l-1.2 .4z"/>
<path fill="#2bff00" stroke="#2bff00" d="M281.7 263.1l1.1 -.3l0 2.4l-1.1 .6z"/>
<path fill="#00ff41" stroke="#00ff41" d="M228.0 244.2l1.1 .5l0 1.2l-1.1 -.5zM229.1 244.7l1.2 .6l0 1.2l-1.2 -.6zM230.3 245.3l1.1 .5l0 1.3l-1.1 -.6z"/>
<path fill="#00ff36" stroke="#00ff36" d="M231.4 245.8l1.2 .5l0 1.4l-1.2 -.6zM232.6 246.3l1.1 .6l0 1.4l-1.1 -.6zM233.7 246.9l1.1 .5l0 1.5l-1.1 -.6z"/>
<path fill="#00ff2b" stroke="#00ff2b" d="M234.8 247.4l1.2 .8l0 1.6l-1.2 -.9zM236.0 248.2l1.1 .9l0 1.7l-1.1 -1z"/>
<path fill="#00ff20" stroke="#00ff20" d="M237.1 249.1l1.2 .9l0 1.9l-1.2 -1.1zM238.3 250.0l1.1 1l0 1.9l-1.1 -1zM239.4 251.0l1.2 .9l0 2l-1.2 -1z"/>
<path fill="#00ff16" stroke="#00ff16" d="M240.6 251.9l1.1 .9l0 2.1l-1.1 -1zM241.7 252.8l1.1 .9l0 2.3l-1.1 -1.1z"/>
<path fill="#00ff0b" stroke="#00ff0b" d="M242.8 253.7l1.2 .9l0 2.4l-1.2 -1zM244.0 254.6l1.1 .9l0 2.5l-1.1 -1z"/>
<path fill="#00ff00" stroke="#00ff00" d="M245.1 255.5l1.2 .9l0 2.6l-1.2 -1zM246.3 256.4l1.1 .9l0 2.7l-1.1 -1zM247.4 257.3l1.2 .9l0 2.8l-1.2 -1z"/>
<path fill="#0bff00" stroke="#0bff00" d="M248.6 258.2l1.1 .9l0 3l-1.1 -1.1zM249.7 259.1l1.1 .8l0 3.1l-1.1 -.9z"/>
<path fill="#16ff00" stroke="#16ff00" d="M250.8 259.9l1.2 .7l0 3.1l-1.2 -.7z"/>
<path fill="#20ff00" stroke="#20ff00" d="M252.0 260.6l1.1 .6l0 3.2l-1.1 -.7z"/>
<path fill="#2bff00" stroke="#2bff00" d="M253.1 261.2l1.2 .7l0 3.2l-1.2 -.7z"/>
<path fill="#36ff00" stroke="#36ff00" d="M254.3 261.9l1.1 .6l0 3.3l-1.1 -.7zM255.4 262.5l1.1 .7l0 3.3l-1.1 -.7z"/>
<path fill="#4cff00" stroke="#4cff00" d="M256.5 263.2l1.2 .6l0 3.4l-1.2 -.7z"/>
<path fill="#56ff00" stroke="#56ff00" d="M257.7 263.8l1.1 .5l0 3.4l-1.1 -.5z"/>
<path fill="#61ff00" stroke="#61ff00" d="M258.8 264.3l1.2 .5l0 3.4l-1.2 -.5z"/>
<path fill="#6cff00" stroke="#6cff00" d="M260.0 264.8l1.1 .4l0 3.5l-1.1 -.5z"/>
<path fill="#82ff00" stroke="#82ff00" d="M261.1 265.2l1.1 .4l0 3.5l-1.1 -.4z"/>
<path fill="#a2ff00" stroke="#a2ff00" d="M262.2 265.6l1.2 .5l0 3.5l-1.2 -.5z"/>
<path fill="#b8ff00" stroke="#b8ff00" d="M263.4 266.1l1.1 .4l0 3.6l-1.1 -.5z"/>
<path fill="#cdff00" stroke="#cdff00" d="M264.5 266.5l1.2 .5l0 3.5l-1.2 -.4z"/>
<path fill="#e3ff00" stroke="#e3ff00" d="M265.7 267.0l1.1 .4l0 3.6l-1.1 -.5z"/>
<path fill="#eeff00" stroke="#eeff00" d="M266.8 267.4l1.2 0l0 3.6l-1.2 0z"/>
<path fill="#fffb00" stroke="#fffb00" d="M268.0 267.4l1.1 .1l0 3.4l-1.1 .1zM269.1 267.5l1.1 0l0 3.4l-1.1 0z"/>
<path fill="#f9ff00" stroke="#f9ff00" d="M270.2 267.5l1.2 0l0 3.4l-1.2 0z"/>
<path fill="#eeff00" stroke="#eeff00" d="M271.4 267.5l1.1 0l0 3.3l-1.1 .1z"/>
<path fill="#e3ff00" stroke="#e3ff00" d="M272.5 267.5l1.2 0l0 3.3l-1.2 0z"/>
<path fill="#d8ff00" stroke="#d8ff00" d="M273.7 267.5l1.1 -.1l0 3.3l-1.1 .1z"/>
<path fill="#cdff00" stroke="#cdff00" d="M274.8 267.4l1.2 -.2l0 3.1l-1.2 .4z"/>
<path fill="#c3ff00" stroke="#c3ff00" d="M275.9 267.2l1.1 -.3l0 3.1l-1.1 .3z"/>
<path fill="#adff00" stroke="#adff00" d="M277.1 266.9l1.1 -.2l0 2.9l-1.1 .4z"/>
<path fill="#a2ff00" stroke="#a2ff00" d="M278.2 266.7l1.2 -.3l0 2.9l-1.2 .3z"/>
<path fill="#8dff00" stroke="#8dff00" d="M279.4 266.4l1.1 -.2l0 2.7l-1.1 .4z"/>
<path fill="#82ff00" stroke="#82ff00" d="M280.5 266.2l1.2 -.4l0 2.6l-1.2 .5z"/>
<path fill="#6cff00" stroke="#6cff00" d="M281.7 265.8l1.1 -.6l0 2.5l-1.1 .7z"/>
<path fill="#00ff41" stroke="#00ff41" d="M228.0 245.3l1.1 .5l0 1.2l-1.1 -.6zM229.1 245.9l1.2 .6l0 1.3l-1.2 -.7zM230.3 246.5l1.1 .6l0 1.3l-1.1 -.6z"/>
<path fill="#00ff36" stroke="#00ff36" d="M231.4 247.1l1.2 .6l0 1.4l-1.2 -.7zM232.6 247.7l1.1 .6l0 1.4l-1.1 -.6zM233.7 248.3l1.1 .6l0 1.5l-1.1 -.7z"/>
<path fill="#00ff2b" stroke="#00ff2b" d="M234.8 248.9l1.2 .9l0 1.6l-1.2 -1zM236.0 249.8l1.1 1l0 1.7l-1.1 -1.1z"/>
<path fill="#00ff20" stroke="#00ff20" d="M237.1 250.8l1.2 1.1l0 1.8l-1.2 -1.2zM238.3 251.9l1.1 1l0 1.9l-1.1 -1.1zM239.4 252.9l1.2 1l0 2.1l-1.2 -1.2z"/>
<path fill="#00ff16" stroke="#00ff16" d="M240.6 253.9l1.1 1l0 2.2l-1.1 -1.1z"/>
<path fill="#00ff0b" stroke="#00ff0b" d="M241.7 254.9l1.1 1.1l0 2.2l-1.1 -1.1zM242.8 256.0l1.2 1l0 2.4l-1.2 -1.2z"/>
<path fill="#00ff00" stroke="#00ff00" d="M244.0 257.0l1.1 1l0 2.5l-1.1 -1.1z"/>
<path fill="#0bff00" stroke="#0bff00" d="M245.1 258.0l1.2 1l0 2.6l-1.2 -1.1z"/>
<path fill="#16ff00" stroke="#16ff00" d="M246.3 259.0l1.1 1l0 2.7l-1.1 -1.1zM247.4 260.0l1.2 1l0 2.9l-1.2 -1.2z"/>
<path fill="#20ff00" stroke="#20ff00" d="M248.6 261.0l1.1 1.1l0 2.9l-1.1 -1.1z"/>
<path fill="#2bff00" stroke="#2bff00" d="M249.7 262.1l1.1 .9l0 3l-1.1 -1z"/>
<path fill="#36ff00" stroke="#36ff00" d="M250.8 263.0l1.2 .7l0 3.1l-1.2 -.8z"/>
<path fill="#41ff00" stroke="#41ff00" d="M252.0 263.7l1.1 .7l0 3.1l-1.1 -.7z"/>
<path fill="#56ff00" stroke="#56ff00" d="M253.1 264.4l1.2 .7l0 3.2l-1.2 -.8z"/>
<path fill="#61ff00" stroke="#61ff00" d="M254.3 265.1l1.1 .7l0 3.3l-1.1 -.8z"/>
<path fill="#6cff00" stroke="#6cff00" d="M255.4 265.8l1.1 .7l0 3.3l-1.1 -.7z"/>
<path fill="#82ff00" stroke="#82ff00" d="M256.5 266.5l1.2 .7l0 3.4l-1.2 -.8z"/>
<path fill="#97ff00" stroke="#97ff00" d="M257.7 267.2l1.1 .5l0 3.5l-1.1 -.6z"/>
<path fill="#adff00" stroke="#adff00" d="M258.8 267.7l1.2 .5l0 3.4l-1.2 -.4z"/>
<path fill="#c3ff00" stroke="#c3ff00" d="M260.0 268.2l1.1 .5l0 3.4l-1.1 -.5z"/>
<path fill="#e3ff00" stroke="#e3ff00" d="M261.1 268.7l1.1 .4l0 3.5l-1.1 -.5z"/>
<path fill="#fff000" stroke="#fff000" d="M262.2 269.1l1.2 .5l0 3.5l-1.2 -.5z"/>
<path fill="#ffcf00" stroke="#ffcf00" d="M263.4 269.6l1.1 .5l0 3.5l-1.1 -.5z"/>
<path fill="#ffa400" stroke="#ffa400" d="M264.5 270.1l1.2 .4l0 3.6l-1.2 -.5z"/>
<path fill="#ff8e00" stroke="#ff8e00" d="M265.7 270.5l1.1 .5l0 3.6l-1.1 -.5z"/>
<path fill="#ff6e00" stroke="#ff6e00" d="M266.8 271.0l1.2 0l0 3.5l-1.2 .1z"/>
<path fill="#ff5800" stroke="#ff5800" d="M268.0 271.0l1.1 -.1l0 3.5l-1.1 .1z"/>
<path fill="#ff4e00" stroke="#ff4e00" d="M269.1 270.9l1.1 0l0 3.4l-1.1 .1z"/>
<path fill="#ff6300" stroke="#ff6300" d="M270.2 270.9l1.2 0l0 3.3l-1.2 .1z"/>
<path fill="#ff6e00" stroke="#ff6e00" d="M271.4 270.9l1.1 -.1l0 3.4l-1.1 0z"/>
<path fill="#ff8400" stroke="#ff8400" d="M272.5 270.8l1.2 0l0 3.3l-1.2 .1z"/>
<path fill="#ff8e00" stroke="#ff8e00" d="M273.7 270.8l1.1 -.1l0 3.2l-1.1 .2z"/>
<path fill="#ffa400" stroke="#ffa400" d="M274.8 270.7l1.2 -.4l0 3.1l-1.2 .5z"/>
<path fill="#ffba00" stroke="#ffba00" d="M275.9 270.3l1.1 -.3l0 3l-1.1 .4z"/>
<path fill="#ffcf00" stroke="#ffcf00" d="M277.1 270.0l1.1 -.4l0 2.9l-1.1 .5z"/>
<path fill="#ffe500" stroke="#ffe500" d="M278.2 269.6l1.2 -.3l0 2.8l-1.2 .4z"/>
<path fill="#f9ff00" stroke="#f9ff00" d="M279.4 269.3l1.1 -.4l0 2.7l-1.1 .5z"/>
<path fill="#d8ff00" stroke="#d8ff00" d="M280.5 268.9l1.2 -.5l0 2.6l-1.2 .6z"/>
<path fill="#b8ff00" stroke="#b8ff00" d="M281.7 268.4l1.1 -.7l0 2.5l-1.1 .8z"/>
<path fill="#ff7900" stroke="#ff7900" d="M265.7 273.9l.3 1.8l.3 -1.8zM267.3 274.1l.3 1.8l.3 -1.8zM268.9 274.2l.3 1.8l.3 -1.8zM270.5 274.2l.3 1.8l.3 -1.8zM272.1 273.9l.3 1.8l.3 -1.8zM273.7 273.6l.3 1.8l.3 -1.8zM275.3 273.1l.3 1.8l.3 -1.8zM276.9 272.5l.3 1.8l.3 -1.8zM278.5 271.8l.3 1.8l.3 -1.8zM280.1 271.2l.3 1.8l.3 -1.8z"/>
<linearGradient id="g2" gradientUnits="userSpaceOnUse" x1="247" y1="244" x2="272" y2="268"><stop offset="0" stop-color="#0043ff"/><stop offset=".3" stop-color="#00ecff"/><stop offset=".7" stop-color="#00ffc2"/><stop offset="1" stop-color="#00ff51"/></linearGradient>
<polygon points="248.0,245.0 251.5,244.0 262.0,254.0 273.0,267.0 272.0,269.0 261.0,259.5" fill="url(#g2)" stroke="none"/>
<path fill="#0002ff" stroke="#0002ff" d="M235.5 246.5l1.3 -1.5l0 1.4l-1.3 1.1zM236.8 245.0l1.3 -1.6l0 1.8l-1.3 1.2zM238.1 243.4l1.4 -1l0 2.1l-1.4 .7zM239.5 242.4l1.3 -.7l0 2.2l-1.3 .6zM240.8 241.7l1.3 -.7l0 2.3l-1.3 .6zM242.1 241.0l1.3 -.2l0 2.3l-1.3 .2zM243.4 240.8l1.4 -.1l0 2.2l-1.4 .2zM244.8 240.7l1.3 .1l0 2.1l-1.3 0zM246.1 240.8l1.3 .4l0 2l-1.3 -.3zM247.4 241.2l1.3 .4l0 1.8l-1.3 -.2zM248.7 241.6l1.3 .8l0 1.6l-1.3 -.6zM250.0 242.4l1.4 .8l0 1.5l-1.4 -.7zM251.4 243.2l1.3 1.8l0 1.1l-1.3 -1.4zM252.7 245.0l1.3 2l0 .7l-1.3 -1.6z"/>
<path fill="#00b0ff" stroke="#00b0ff" d="M235.5 247.5l1.3 -1.1l0 1.4l-1.3 .7z"/>
<path fill="#009aff" stroke="#009aff" d="M236.8 246.4l1.3 -1.2l0 1.8l-1.3 .8z"/>
<path fill="#0084ff" stroke="#0084ff" d="M238.1 245.2l1.4 -.7l0 2.1l-1.4 .4z"/>
<path fill="#006fff" stroke="#006fff" d="M239.5 244.5l1.3 -.6l0 2.2l-1.3 .5z"/>
<path fill="#0059ff" stroke="#0059ff" d="M240.8 243.9l1.3 -.6l0 2.3l-1.3 .5z"/>
<path fill="#0043ff" stroke="#0043ff" d="M242.1 243.3l1.3 -.2l0 2.3l-1.3 .2z"/>
<path fill="#0023ff" stroke="#0023ff" d="M243.4 243.1l1.4 -.2l0 2.3l-1.4 .2zM244.8 242.9l1.3 0l0 2.2l-1.3 .1z"/>
<path fill="#0043ff" stroke="#0043ff" d="M246.1 242.9l1.3 .3l0 1.9l-1.3 0z"/>
<path fill="#0059ff" stroke="#0059ff" d="M247.4 243.2l1.3 .2l0 1.8l-1.3 -.1z"/>
<path fill="#006fff" stroke="#006fff" d="M248.7 243.4l1.3 .6l0 1.7l-1.3 -.5z"/>
<path fill="#0084ff" stroke="#0084ff" d="M250.0 244.0l1.4 .7l0 1.4l-1.4 -.4z"/>
<path fill="#009aff" stroke="#009aff" d="M251.4 244.7l1.3 1.4l0 1.1l-1.3 -1.1z"/>
<path fill="#00b0ff" stroke="#00b0ff" d="M252.7 246.1l1.3 1.6l0 .7l-1.3 -1.2z"/>
<path fill="#00c6ff" stroke="#00c6ff" d="M235.5 248.5l1.3 -.7l0 1.3l-1.3 .4z"/>
<path fill="#00b0ff" stroke="#00b0ff" d="M236.8 247.8l1.3 -.8l0 1.8l-1.3 .3z"/>
<path fill="#009aff" stroke="#009aff" d="M238.1 247.0l1.4 -.4l0 2.1l-1.4 .1z"/>
<path fill="#0084ff" stroke="#0084ff" d="M239.5 246.6l1.3 -.5l0 2.3l-1.3 .3z"/>
<path fill="#006fff" stroke="#006fff" d="M240.8 246.1l1.3 -.5l0 2.3l-1.3 .5z"/>
<path fill="#004eff" stroke="#004eff" d="M242.1 245.6l1.3 -.2l0 2.3l-1.3 .2z"/>
<path fill="#0038ff" stroke="#0038ff" d="M243.4 245.4l1.4 -.2l0 2.2l-1.4 .3zM244.8 245.2l1.3 -.1l0 2.1l-1.3 .2z"/>
<path fill="#004eff" stroke="#004eff" d="M246.1 245.1l1.3 0l0 2l-1.3 .1z"/>
<path fill="#006fff" stroke="#006fff" d="M247.4 245.1l1.3 .1l0 1.8l-1.3 .1z"/>
<path fill="#0084ff" stroke="#0084ff" d="M248.7 245.2l1.3 .5l0 1.6l-1.3 -.3z"/>
<path fill="#009aff" stroke="#009aff" d="M250.0 245.7l1.4 .4l0 1.5l-1.4 -.3z"/>
<path fill="#00b0ff" stroke="#00b0ff" d="M251.4 246.1l1.3 1.1l0 1.1l-1.3 -.7z"/>
<path fill="#00c6ff" stroke="#00c6ff" d="M252.7 247.2l1.3 1.2l0 .7l-1.3 -.8z"/>
<path fill="#00ffed" stroke="#00ffed" d="M235.5 249.5l1.3 -.4l0 1.4l-1.3 0z"/>
<path fill="#00fcff" stroke="#00fcff" d="M236.8 249.1l1.3 -.3l0 1.8l-1.3 -.1z"/>
<path fill="#00e6ff" stroke="#00e6ff" d="M238.1 248.8l1.4 -.1l0 2l-1.4 -.1z"/>
<path fill="#00d0ff" stroke="#00d0ff" d="M239.5 248.7l1.3 -.3l0 2.2l-1.3 .1z"/>
<path fill="#00b0ff" stroke="#00b0ff" d="M240.8 248.4l1.3 -.5l0 2.3l-1.3 .4z"/>
<path fill="#009aff" stroke="#009aff" d="M242.1 247.9l1.3 -.2l0 2.3l-1.3 .2z"/>
<path fill="#0084ff" stroke="#0084ff" d="M243.4 247.7l1.4 -.3l0 2.3l-1.4 .3zM244.8 247.4l1.3 -.2l0 2.1l-1.3 .4z"/>
<path fill="#009aff" stroke="#009aff" d="M246.1 247.2l1.3 -.1l0 2l-1.3 .2z"/>
<path fill="#00b0ff" stroke="#00b0ff" d="M247.4 247.1l1.3 -.1l0 1.8l-1.3 .3z"/>
<path fill="#00d0ff" stroke="#00d0ff" d="M248.7 247.0l1.3 .3l0 1.6l-1.3 -.1z"/>
<path fill="#00e6ff" stroke="#00e6ff" d="M250.0 247.3l1.4 .3l0 1.4l-1.4 -.1z"/>
<path fill="#00fcff" stroke="#00fcff" d="M251.4 247.6l1.3 .7l0 1.1l-1.3 -.4z"/>
<path fill="#00ffed" stroke="#00ffed" d="M252.7 248.3l1.3 .8l0 .7l-1.3 -.4z"/>
<path fill="#00ff8c" stroke="#00ff8c" d="M235.5 250.5l1.3 0l0 1.4l-1.3 -.4z"/>
<path fill="#00ffa1" stroke="#00ffa1" d="M236.8 250.5l1.3 .1l0 1.8l-1.3 -.5z"/>
<path fill="#00ffc2" stroke="#00ffc2" d="M238.1 250.6l1.4 .1l0 2.1l-1.4 -.4z"/>
<path fill="#00ffd7" stroke="#00ffd7" d="M239.5 250.7l1.3 -.1l0 2.2l-1.3 0z"/>
<path fill="#00ffed" stroke="#00ffed" d="M240.8 250.6l1.3 -.4l0 2.3l-1.3 .3z"/>
<path fill="#00fcff" stroke="#00fcff" d="M242.1 250.2l1.3 -.2l0 2.2l-1.3 .3z"/>
<path fill="#00e6ff" stroke="#00e6ff" d="M243.4 250.0l1.4 -.3l0 2.2l-1.4 .3zM244.8 249.7l1.3 -.4l0 2.2l-1.3 .4z"/>
<path fill="#00fcff" stroke="#00fcff" d="M246.1 249.3l1.3 -.2l0 1.9l-1.3 .5z"/>
<path fill="#00ffed" stroke="#00ffed" d="M247.4 249.1l1.3 -.3l0 1.8l-1.3 .4z"/>
<path fill="#00ffd7" stroke="#00ffd7" d="M248.7 248.8l1.3 .1l0 1.6l-1.3 .1z"/>
<path fill="#00ffc2" stroke="#00ffc2" d="M250.0 248.9l1.4 .1l0 1.5l-1.4 0z"/>
<path fill="#00ffa1" stroke="#00ffa1" d="M251.4 249.0l1.3 .4l0 1.1l-1.3 0z"/>
<path fill="#00ff8c" stroke="#00ff8c" d="M252.7 249.4l1.3 .4l0 .7l-1.3 0z"/>
<path fill="#00fff2" stroke="#00fff2" d="M229.5 237.5l9 2.5l2 5l-1 6.5l-6.5 1l-5 -4.5z"/>
<linearGradient id="g3" gradientUnits="userSpaceOnUse" x1="231" y1="216" x2="218" y2="246"><stop offset="0" stop-color="#ff00e0"/><stop offset=".1" stop-color="#fe00ff"/><stop offset=".3" stop-color="#9c00ff"/><stop offset=".4" stop-color="#2a00ff"/><stop offset=".8" stop-color="#0038ff"/><stop offset=".9" stop-color="#00d0ff"/><stop offset="1" stop-color="#00ffe7"/></linearGradient>
<polygon points="228.9,216.2 231.5,217.7 234.0,225.4 236.5,234.9 235.9,239.0 235.3,243.5 231.0,250.0 217.5,244.5 208.5,242.0 211.1,236.8 212.4,231.1 215.5,229.2 219.4,226.0 223.8,221.5" fill="url(#g3)" stroke="none"/>
<path fill="#00ff56" stroke="#00ff56" d="M200.4 246.8l1.9 -5.3l0 2.2l-1.9 3.5zM202.3 241.5l1.9 -1.2l-.1 3l-1.8 .4zM204.2 240.3l1.8 .4l0 3.1l-1.9 -.5zM206.0 240.7l1.9 .5l0 3.1l-1.9 -.5z"/>
<path fill="#00ff81" stroke="#00ff81" d="M207.9 241.2l1.9 .4l0 3.2l-1.9 -.5z"/>
<path fill="#00ffac" stroke="#00ffac" d="M209.8 241.6l1.9 .4l0 3.2l-1.9 -.4zM211.7 242.0l1.9 .4l-.1 3.2l-1.8 -.4zM213.6 242.4l1.8 .4l0 3.1l-1.9 -.3zM215.4 242.8l1.9 .4l0 3.1l-1.9 -.4zM217.3 243.2l1.9 .8l0 2.9l-1.9 -.6zM219.2 244.0l1.9 .8l0 2.8l-1.9 -.7zM221.1 244.8l1.9 .9l0 2.4l-1.9 -.5zM223.0 245.7l1.8 .8l0 2.2l-1.8 -.6zM224.8 246.5l1.9 .8l0 1.9l-1.9 -.5zM226.7 247.3l1.9 .9l0 1.5l-1.9 -.5zM228.6 248.2l1.9 .8l0 1.2l-1.9 -.5zM230.5 249.0l1.9 .7l0 .8l-1.9 -.3zM232.4 249.7l1.8 .7l0 .4l-1.8 -.3zM234.2 250.4l1.9 .7l0 .2l-1.9 -.5zM236.1 251.1l1.9 .7l0 0l-1.9 -.5z"/>
<path fill="#00ff56" stroke="#00ff56" d="M200.4 247.2l1.9 -3.5l-.1 2.1l-1.8 1.8zM202.3 243.7l1.8 -.4l0 2.9l-1.9 -.4zM204.1 243.3l1.9 .5l0 3.1l-1.9 -.7zM206.0 243.8l1.9 .5l0 3.2l-1.9 -.6z"/>
<path fill="#00ff41" stroke="#00ff41" d="M207.9 244.3l1.9 .5l0 3.2l-1.9 -.5zM209.8 244.8l1.9 .4l-.1 3.3l-1.8 -.5zM211.7 245.2l1.8 .4l0 3.3l-1.9 -.4zM213.5 245.6l1.9 .3l0 3.2l-1.9 -.2zM215.4 245.9l1.9 .4l0 3.1l-1.9 -.3zM217.3 246.3l1.9 .6l0 3l-1.9 -.5zM219.2 246.9l1.9 .7l0 2.7l-1.9 -.4zM221.1 247.6l1.9 .5l-.1 2.5l-1.8 -.3zM222.9 248.1l1.8 .6l0 2.1l-1.9 -.2zM224.8 248.7l1.9 .5l0 1.8l-1.9 -.2zM226.7 249.2l1.9 .5l0 1.6l-1.9 -.3zM228.6 249.7l1.9 .5l0 1.2l-1.9 -.1zM230.5 250.2l1.9 .3l0 .9l-1.9 0zM232.4 250.5l1.8 .3l0 .5l-1.8 .1zM234.2 250.8l1.9 .5l0 .1l-1.9 -.1zM236.1 251.3l1.9 .5l0 .1l-1.9 -.5z"/>
<path fill="#00ff56" stroke="#00ff56" d="M200.4 247.6l1.8 -1.8l0 2.2l-1.9 -.1zM202.2 245.8l1.9 .4l0 2.9l-1.9 -1.1zM204.1 246.2l1.9 .7l0 3.1l-1.9 -.9zM206.0 246.9l1.9 .6l0 3.1l-1.9 -.6z"/>
<path fill="#00ff16" stroke="#00ff16" d="M207.9 247.5l1.9 .5l-.1 3.2l-1.8 -.6zM209.8 248.0l1.8 .5l0 3.3l-1.9 -.6zM211.6 248.5l1.9 .4l0 3.2l-1.9 -.3zM213.5 248.9l1.9 .2l0 3.2l-1.9 -.2zM215.4 249.1l1.9 .3l0 3.1l-1.9 -.2zM217.3 249.4l1.9 .5l0 2.9l-1.9 -.3zM219.2 249.9l1.9 .4l-.1 2.8l-1.8 -.3zM221.1 250.3l1.8 .3l0 2.5l-1.9 0zM222.9 250.6l1.9 .2l0 2.2l-1.9 .1zM224.8 250.8l1.9 .2l0 1.9l-1.9 .1zM226.7 251.0l1.9 .3l0 1.5l-1.9 .1zM228.6 251.3l1.9 .1l0 1.3l-1.9 .1zM230.5 251.4l1.9 0l-.1 .8l-1.8 .5zM232.4 251.4l1.8 -.1l0 .4l-1.9 .5zM234.2 251.3l1.9 .1l0 .2l-1.9 .1zM236.1 251.4l1.9 .5l0 .1l-1.9 -.4z"/>
<path fill="#00ff56" stroke="#00ff56" d="M200.3 247.9l1.9 .1l0 2.2l-1.9 -1.9zM202.2 248.0l1.9 1.1l0 3l-1.9 -1.9zM204.1 249.1l1.9 .9l0 3.1l-1.9 -1zM206.0 250.0l1.9 .6l-.1 3.2l-1.8 -.7z"/>
<path fill="#16ff00" stroke="#16ff00" d="M207.9 250.6l1.8 .6l0 3.2l-1.9 -.6zM209.7 251.2l1.9 .6l0 3.2l-1.9 -.6zM211.6 251.8l1.9 .3l0 3.3l-1.9 -.4zM213.5 252.1l1.9 .2l0 3.2l-1.9 -.1zM215.4 252.3l1.9 .2l0 3.1l-1.9 -.1zM217.3 252.5l1.9 .3l0 3l-1.9 -.2zM219.2 252.8l1.8 .3l0 2.8l-1.8 -.1zM221.0 253.1l1.9 0l0 2.5l-1.9 .3zM222.9 253.1l1.9 -.1l0 2.2l-1.9 .4zM224.8 253.0l1.9 -.1l0 1.8l-1.9 .5zM226.7 252.9l1.9 -.1l0 1.5l-1.9 .4zM228.6 252.8l1.9 -.1l0 1.2l-1.9 .4zM230.5 252.7l1.8 -.5l0 .8l-1.8 .9zM232.3 252.2l1.9 -.5l0 .5l-1.9 .8zM234.2 251.7l1.9 -.1l0 .2l-1.9 .4zM236.1 251.6l1.9 .4l0 0l-1.9 -.2z"/>
<path fill="#00ff00" stroke="#00ff00" d="M212.7 255.2l.3 2.4l.3 -2.4zM214.2 255.2l.3 2.4l.3 -2.4zM215.7 255.2l.3 2.4l.3 -2.4zM217.2 255.2l.3 2.4l.3 -2.4zM218.7 255.2l.3 2.4l.3 -2.4zM220.2 255.2l.3 2.4l.3 -2.4zM221.7 255.2l.3 2.4l.3 -2.4zM223.2 255.2l.3 2.4l.3 -2.4zM224.7 255.2l.3 2.4l.3 -2.4zM226.2 255.2l.3 2.4l.3 -2.4z"/>
</g>
<path d="M198.1 272.2L269.9 294.9M269.9 294.9L310.6 257.4M310.6 257.4L313.2 203.4M198.3 272.2L197.2 273.1M208 275.3L206.9 276.2M217.7 278.4L216.6 279.3M227.5 281.5L226.4 282.4M237.4 284.6L236.3 285.6M247.4 287.8L246.3 288.7M257.5 290.9L256.4 291.9M267.6 294.2L266.6 295.1M274.1 291L275.9 291.6M279.6 285.9L281.5 286.5M285.1 280.8L286.9 281.4M290.5 275.9L292.3 276.4M295.8 271L297.6 271.5M301 266.1L302.8 266.7M306.2 261.4L308 261.9M313.1 205.7L314.3 205.9M312.7 212.6L313.9 212.8M312.4 219.5L313.6 219.6M312.1 226.2L313.3 226.4M311.7 232.9L312.9 233M311.4 239.5L312.6 239.7M311.1 246L312.3 246.2M310.8 252.5L312 252.6" stroke="#666" stroke-width="0.45" fill="none"/>
<g font-family="'DejaVu Sans','Liberation Sans',sans-serif" font-size="5" fill="#444" text-anchor="middle">
<text x="194.5" y="284.1">0</text>
<text x="204.5" y="287.4">50</text>
<text x="214.5" y="290.8">100</text>
<text x="224.5" y="294.1">150</text>
<text x="234.5" y="297.4">200</text>
<text x="244.5" y="300.7">250</text>
<text x="254.5" y="304.1">300</text>
<text x="264.5" y="307.4">350</text>
<text x="282.4" y="301.8">200</text>
<text x="287.6" y="296.4">400</text>
<text x="292.8" y="291">600</text>
<text x="297.9" y="285.6">800</text>
<text x="303.1" y="280.1">1000</text>
<text x="308.2" y="274.7">1200</text>
<text x="313.4" y="269.3">1400</text>
<text x="321.9" y="207.5">0</text>
<text x="321.5" y="214.4">−5</text>
<text x="321.2" y="221.2">−10</text>
<text x="320.9" y="228">−15</text>
<text x="320.5" y="234.6">−20</text>
<text x="320.2" y="241.3">−25</text>
<text x="319.9" y="247.8">−30</text>
<text x="319.6" y="254.2">−35</text>
<text transform="translate(225.5 300.8) rotate(20)" y="1.8">DOA (°)</text>
<text transform="translate(304.8 288.9) rotate(-46)" y="1.8">Frequency (Hz)</text>
</g>
<rect x="327.6" y="206" width="13.4" height="65.8" fill="url(#gr)"/>
<g font-family="'DejaVu Sans','Liberation Sans',sans-serif" font-size="5" fill="#444">
<text x="344.2" y="224.8">−10</text>
<text x="344.2" y="244">−20</text>
<text x="344.2" y="263.1">−30</text>
<text transform="translate(360.3 238.9) rotate(-90)" text-anchor="middle">Pseudo-beam (dB)</text>
</g>
<path d="M341 223.1h1.4M341 242.3h1.4M341 261.4h1.4" stroke="#555" stroke-width="0.4"/>
</g>
<g>
<polygon points="380.4,273.6 422.8,238.7 422.2,186 377.7,219.8" fill="#fbfbfb" stroke="#d8d8d8" stroke-width="0.3"/>
<polygon points="422.8,238.7 491.5,259 494,205.6 422.2,186" fill="#fbfbfb" stroke="#d8d8d8" stroke-width="0.3"/>
<polygon points="380.4,273.6 451.3,296 491.5,259 422.8,238.7" fill="#fcfcfc" stroke="#dcdcdc" stroke-width="0.3"/>
<path d="M423 238.7L422.4 186.1M380.6 273.7L423 238.7M432.3 241.5L432.1 188.7M390.1 276.7L432.3 241.5M441.6 244.2L441.8 191.4M399.7 279.7L441.6 244.2M451 247L451.6 194.1M409.4 282.8L451 247M460.4 249.8L461.5 196.8M419.2 285.9L460.4 249.8M470 252.6L471.5 199.5M429.1 289L470 252.6M479.6 255.5L481.6 202.2M439 292.2L479.6 255.5M489.3 258.3L491.8 205M449 295.3L489.3 258.3M384.8 270L382.3 216.3M455.4 292.2L384.8 270M390.5 265.2L388.4 211.7M460.9 287.2L390.5 265.2M396.2 260.6L394.3 207.2M466.3 282.2L396.2 260.6M401.9 255.9L400.2 202.7M471.6 277.3L401.9 255.9M407.4 251.4L406.1 198.3M476.9 272.4L407.4 251.4M412.9 246.9L411.8 193.9M482 267.6L412.9 246.9M418.3 242.4L417.5 189.6M487.2 262.9L418.3 242.4M378 224.9L422.3 191M422.3 191L493.8 210.7M378.3 231.8L422.4 197.8M422.4 197.8L493.4 217.6M378.6 238.7L422.4 204.5M422.4 204.5L493.1 224.3M379 245.4L422.5 211.1M422.5 211.1L492.8 231M379.3 252.1L422.6 217.6M422.6 217.6L492.5 237.7M379.6 258.7L422.7 224.1M422.7 224.1L492.2 244.2M380 265.3L422.7 230.5M422.7 230.5L491.8 250.7M380.3 271.7L422.8 236.8M422.8 236.8L491.5 257.1" stroke="#c6c6c6" stroke-width="0.55" fill="none"/>
<g stroke-width="0.3" stroke-linejoin="round">
<path fill="#287d8e" stroke="#287d8e" d="M382.0 272.4l70.4 22.3l37.1 -34.2l-68.3 -20.2z"/>
<path fill="#29798e" stroke="#29798e" d="M382.0 272.4l70.4 22.3l2.8 -2.6l-70.3 -22.1z"/>
<path fill="#287d8e" stroke="#287d8e" d="M384.9 270.0l70.3 22.1l2.8 -2.5l-70.2 -21.9z"/>
<path fill="#2c738e" stroke="#2c738e" d="M387.8 267.7l70.2 21.9l2.7 -2.5l-70 -21.8z"/>
<path fill="#2a788e" stroke="#2a788e" d="M390.7 265.3l70 21.8l2.7 -2.5l-69.8 -21.7z"/>
<path fill="#26828e" stroke="#26828e" d="M393.6 262.9l69.8 21.7l2.7 -2.5l-69.7 -21.5zM396.4 260.6l69.7 21.5l2.7 -2.4l-69.6 -21.4z"/>
<path fill="#2e6f8e" stroke="#2e6f8e" d="M399.2 258.3l69.6 21.4l2.6 -2.5l-69.4 -21.2z"/>
<path fill="#2d718e" stroke="#2d718e" d="M402.0 256.0l69.4 21.2l2.6 -2.4l-69.2 -21.1z"/>
<path fill="#2e6d8e" stroke="#2e6d8e" d="M404.8 253.7l69.2 21.1l2.7 -2.4l-69.1 -21z"/>
<path fill="#2a768e" stroke="#2a768e" d="M407.6 251.4l69.1 21l2.6 -2.4l-69 -20.8z"/>
<path fill="#2e6d8e" stroke="#2e6d8e" d="M410.3 249.2l69 20.8l2.5 -2.4l-68.7 -20.7z"/>
<path fill="#2a778e" stroke="#2a778e" d="M413.1 246.9l68.7 20.7l2.6 -2.4l-68.6 -20.5z"/>
<path fill="#287c8e" stroke="#287c8e" d="M415.8 244.7l68.6 20.5l2.6 -2.3l-68.5 -20.4z"/>
<path fill="#2c728e" stroke="#2c728e" d="M418.5 242.5l68.5 20.4l2.5 -2.4l-68.3 -20.2z"/>
<path fill="#355f8d" stroke="#355f8d" d="M430.5 287.7l21.9 7l19 -17.5l-15.8 -4.8z"/>
<path fill="#00ff41" stroke="#00ff41" d="M419.3 223.2l1.4 -1.5l1.6 -2.5l-1.4 .5z"/>
<path fill="#00ff81" stroke="#00ff81" d="M420.7 221.7l1.4 -2l1.6 -2.3l-1.4 1.8z"/>
<path fill="#00ffc2" stroke="#00ffc2" d="M422.1 219.7l1.4 -.9l1.6 -3l-1.4 1.6z"/>
<path fill="#00f1ff" stroke="#00f1ff" d="M423.5 218.8l1.4 -2.4l1.6 -2.6l-1.4 2z"/>
<path fill="#00bbff" stroke="#00bbff" d="M424.9 216.4l1.4 -.2l1.6 -3.4l-1.4 1z"/>
<path fill="#0084ff" stroke="#0084ff" d="M426.3 216.2l1.4 -2.2l1.6 -1.8l-1.4 .6z"/>
<path fill="#0043ff" stroke="#0043ff" d="M427.7 214.0l1.4 -1.7l1.6 -2l-1.4 1.9z"/>
<path fill="#0900ff" stroke="#0900ff" d="M429.1 212.3l1.5 -1.7l1.5 -2l-1.4 1.7z"/>
<path fill="#5500ff" stroke="#5500ff" d="M430.6 210.6l1.4 -1.6l1.6 -2.5l-1.5 2.1z"/>
<path fill="#ac00ff" stroke="#ac00ff" d="M432.0 209.0l1.4 -2.6l1.6 -2.2l-1.4 2.3z"/>
<path fill="#ff00f0" stroke="#ff00f0" d="M433.4 206.4l1.5 -1.9l1.6 -3l-1.5 2.7z"/>
<path fill="#ff00bf" stroke="#ff00bf" d="M434.9 204.5l1.4 -1.6l1.6 -2.7l-1.4 1.3zM436.3 202.9l1.5 -.1l1.6 -3.1l-1.5 .5zM437.8 202.8l1.4 .2l1.6 -2.8l-1.4 -.5zM439.2 203.0l1.5 1.4l1.6 -2.9l-1.5 -1.3zM440.7 204.4l1.5 2.2l1.6 -3.6l-1.5 -1.5z"/>
<path fill="#ff00da" stroke="#ff00da" d="M442.2 206.6l1.4 1.3l1.6 -1.5l-1.4 -3.4z"/>
<path fill="#ed00ff" stroke="#ed00ff" d="M443.6 207.9l1.5 1.6l1.6 -1.6l-1.5 -1.5z"/>
<path fill="#ac00ff" stroke="#ac00ff" d="M445.1 209.5l1.4 3.1l1.6 -1.4l-1.4 -3.3z"/>
<path fill="#6000ff" stroke="#6000ff" d="M446.5 212.6l1.5 2.1l1.5 -1.7l-1.4 -1.8z"/>
<path fill="#2a00ff" stroke="#2a00ff" d="M448.0 214.7l1.4 1.9l1.6 -2l-1.5 -1.6z"/>
<path fill="#1400ff" stroke="#1400ff" d="M449.4 216.6l1.5 -.6l1.5 -.2l-1.4 -1.2zM450.9 216.0l1.4 1.8l1.6 -1.7l-1.5 -.3zM452.3 217.8l1.5 -1.2l1.6 -.2l-1.5 -.3z"/>
<path fill="#3f00ff" stroke="#3f00ff" d="M453.8 216.6l1.5 -.3l1.6 -1.9l-1.5 2z"/>
<path fill="#7600ff" stroke="#7600ff" d="M455.3 216.3l1.5 -1.1l1.6 -2l-1.5 1.2z"/>
<path fill="#ac00ff" stroke="#ac00ff" d="M456.8 215.2l1.5 -1.5l1.6 -2.1l-1.5 1.6z"/>
<path fill="#f800ff" stroke="#f800ff" d="M458.3 213.7l1.5 -2.2l1.6 -1.6l-1.5 1.7z"/>
<path fill="#ff00c5" stroke="#ff00c5" d="M459.8 211.5l1.6 -.9l1.5 -1.6l-1.5 .9z"/>
<path fill="#ff00bf" stroke="#ff00bf" d="M461.4 210.6l1.5 0l1.5 -1.7l-1.5 .1zM462.9 210.6l1.4 .6l1.6 -2.3l-1.5 0zM464.3 211.2l1.5 .2l1.6 -2.3l-1.5 -.2z"/>
<path fill="#ff00c5" stroke="#ff00c5" d="M465.8 211.4l1.5 2.3l1.5 -1.1l-1.4 -3.5z"/>
<path fill="#ed00ff" stroke="#ed00ff" d="M467.3 213.7l1.4 3.7l1.6 -2.9l-1.5 -1.9z"/>
<path fill="#8100ff" stroke="#8100ff" d="M468.7 217.4l1.4 3.7l1.6 -1.9l-1.4 -4.7z"/>
<path fill="#000dff" stroke="#000dff" d="M470.1 221.1l1.4 4.6l1.5 -1.5l-1.3 -5z"/>
<path fill="#008fff" stroke="#008fff" d="M471.5 225.7l1.4 3.4l1.5 -.8l-1.4 -4.1z"/>
<path fill="#00fff7" stroke="#00fff7" d="M472.9 229.1l1.3 4.3l1.5 -.6l-1.3 -4.5z"/>
<path fill="#00ff81" stroke="#00ff81" d="M474.2 233.4l1.4 3.6l1.5 -1.2l-1.4 -3z"/>
<path fill="#00ff20" stroke="#00ff20" d="M475.6 237.0l1.4 3.6l1.5 -1.8l-1.4 -3z"/>
<path fill="#36ff00" stroke="#36ff00" d="M477.0 240.6l1.4 2.4l1.5 -1.6l-1.4 -2.6z"/>
<path fill="#8dff00" stroke="#8dff00" d="M478.4 243.0l1.4 2.6l1.4 -.5l-1.3 -3.7z"/>
<path fill="#d8ff00" stroke="#d8ff00" d="M479.8 245.6l1.3 3.2l1.6 -2.3l-1.5 -1.4z"/>
<path fill="#ffe500" stroke="#ffe500" d="M481.1 248.8l1.5 1.6l1.4 -1.2l-1.3 -2.7z"/>
<path fill="#ffa400" stroke="#ffa400" d="M482.6 250.4l1.4 2.2l1.4 -1l-1.4 -2.4z"/>
<path fill="#ff6e00" stroke="#ff6e00" d="M484.0 252.6l1.4 1.8l1.4 -.6l-1.4 -2.2z"/>
<path fill="#ff2d00" stroke="#ff2d00" d="M485.4 254.4l1.4 2.2l1.4 -.8l-1.4 -2z"/>
<path fill="#ff0009" stroke="#ff0009" d="M486.8 256.6l1.3 2.9l1.5 -2.1l-1.4 -1.6z"/>
<path fill="#00ff00" stroke="#00ff00" d="M417.8 225.9l1.4 -.7l1.5 -3.5l-1.4 1.5z"/>
<path fill="#00ff41" stroke="#00ff41" d="M419.2 225.2l1.3 -2.1l1.6 -3.4l-1.4 2z"/>
<path fill="#00ff8c" stroke="#00ff8c" d="M420.5 223.1l1.4 -2l1.6 -2.3l-1.4 .9z"/>
<path fill="#00ffd7" stroke="#00ffd7" d="M421.9 221.1l1.4 -1.7l1.6 -3l-1.4 2.4z"/>
<path fill="#00dbff" stroke="#00dbff" d="M423.3 219.4l1.4 -2.2l1.6 -1l-1.4 .2z"/>
<path fill="#00a5ff" stroke="#00a5ff" d="M424.7 217.2l1.4 -.4l1.6 -2.8l-1.4 2.2z"/>
<path fill="#0064ff" stroke="#0064ff" d="M426.1 216.8l1.4 -2.2l1.6 -2.3l-1.4 1.7z"/>
<path fill="#000dff" stroke="#000dff" d="M427.5 214.6l1.5 -2.2l1.6 -1.8l-1.5 1.7z"/>
<path fill="#3f00ff" stroke="#3f00ff" d="M429.0 212.4l1.4 -1.7l1.6 -1.7l-1.4 1.6z"/>
<path fill="#8b00ff" stroke="#8b00ff" d="M430.4 210.7l1.4 -2.3l1.6 -2l-1.4 2.6z"/>
<path fill="#e200ff" stroke="#e200ff" d="M431.8 208.4l1.5 -1.2l1.6 -2.7l-1.5 1.9z"/>
<path fill="#ff00da" stroke="#ff00da" d="M433.3 207.2l1.4 -2l1.6 -2.3l-1.4 1.6z"/>
<path fill="#ff00bf" stroke="#ff00bf" d="M434.7 205.2l1.5 -.4l1.6 -2l-1.5 .1zM436.2 204.8l1.4 1.3l1.6 -3.1l-1.4 -.2zM437.6 206.1l1.5 -.3l1.6 -1.4l-1.5 -1.4z"/>
<path fill="#ff00d0" stroke="#ff00d0" d="M439.1 205.8l1.5 2.5l1.6 -1.7l-1.5 -2.2z"/>
<path fill="#f800ff" stroke="#f800ff" d="M440.6 208.3l1.4 2.1l1.6 -2.5l-1.4 -1.3z"/>
<path fill="#cd00ff" stroke="#cd00ff" d="M442.0 210.4l1.5 1.8l1.6 -2.7l-1.5 -1.6z"/>
<path fill="#a100ff" stroke="#a100ff" d="M443.5 212.2l1.4 1l1.6 -.6l-1.4 -3.1z"/>
<path fill="#6000ff" stroke="#6000ff" d="M444.9 213.2l1.5 2.9l1.6 -1.4l-1.5 -2.1z"/>
<path fill="#2a00ff" stroke="#2a00ff" d="M446.4 216.1l1.4 .4l1.6 .1l-1.4 -1.9zM447.8 216.5l1.5 .8l1.6 -1.3l-1.5 .6z"/>
<path fill="#1f00ff" stroke="#1f00ff" d="M449.3 217.3l1.5 .1l1.5 .4l-1.4 -1.8z"/>
<path fill="#2a00ff" stroke="#2a00ff" d="M450.8 217.4l1.5 .5l1.5 -1.3l-1.5 1.2z"/>
<path fill="#4a00ff" stroke="#4a00ff" d="M452.3 217.9l1.4 -1.3l1.6 -.3l-1.5 .3z"/>
<path fill="#7600ff" stroke="#7600ff" d="M453.7 216.6l1.5 -.3l1.6 -1.1l-1.5 1.1z"/>
<path fill="#a100ff" stroke="#a100ff" d="M455.2 216.3l1.5 -1.6l1.6 -1l-1.5 1.5z"/>
<path fill="#e200ff" stroke="#e200ff" d="M456.7 214.7l1.5 -.2l1.6 -3l-1.5 2.2z"/>
<path fill="#ff00e5" stroke="#ff00e5" d="M458.2 214.5l1.6 -1.4l1.6 -2.5l-1.6 .9z"/>
<path fill="#ff00c5" stroke="#ff00c5" d="M459.8 213.1l1.5 0l1.6 -2.5l-1.5 0z"/>
<path fill="#ff00bf" stroke="#ff00bf" d="M461.3 213.1l1.5 .1l1.5 -2l-1.4 -.6zM462.8 213.2l1.5 .1l1.5 -1.9l-1.5 -.2z"/>
<path fill="#ff00da" stroke="#ff00da" d="M464.3 213.3l1.4 2.8l1.6 -2.4l-1.5 -2.3z"/>
<path fill="#cd00ff" stroke="#cd00ff" d="M465.7 216.1l1.4 3.1l1.6 -1.8l-1.4 -3.7z"/>
<path fill="#6b00ff" stroke="#6b00ff" d="M467.1 219.2l1.4 3.5l1.6 -1.6l-1.4 -3.7z"/>
<path fill="#000dff" stroke="#000dff" d="M468.5 222.7l1.4 3.8l1.6 -.8l-1.4 -4.6z"/>
<path fill="#008fff" stroke="#008fff" d="M469.9 226.5l1.4 4.9l1.6 -2.3l-1.4 -3.4z"/>
<path fill="#00fcff" stroke="#00fcff" d="M471.3 231.4l1.4 2.4l1.5 -.4l-1.3 -4.3z"/>
<path fill="#00ff8c" stroke="#00ff8c" d="M472.7 233.8l1.4 4.4l1.5 -1.2l-1.4 -3.6z"/>
<path fill="#00ff20" stroke="#00ff20" d="M474.1 238.2l1.3 3.5l1.6 -1.1l-1.4 -3.6z"/>
<path fill="#36ff00" stroke="#36ff00" d="M475.4 241.7l1.5 2l1.5 -.7l-1.4 -2.4z"/>
<path fill="#82ff00" stroke="#82ff00" d="M476.9 243.7l1.3 3.3l1.6 -1.4l-1.4 -2.6z"/>
<path fill="#cdff00" stroke="#cdff00" d="M478.2 247.0l1.5 1.8l1.4 0l-1.3 -3.2z"/>
<path fill="#fff000" stroke="#fff000" d="M479.7 248.8l1.4 2l1.5 -.4l-1.5 -1.6z"/>
<path fill="#ffba00" stroke="#ffba00" d="M481.1 250.8l1.4 2.6l1.5 -.8l-1.4 -2.2z"/>
<path fill="#ff7900" stroke="#ff7900" d="M482.5 253.4l1.4 2.6l1.5 -1.6l-1.4 -1.8z"/>
<path fill="#ff3800" stroke="#ff3800" d="M483.9 256.0l1.4 1.6l1.5 -1l-1.4 -2.2z"/>
<path fill="#ff0200" stroke="#ff0200" d="M485.3 257.6l1.4 1.3l1.4 .6l-1.3 -2.9z"/>
<path fill="#36ff00" stroke="#36ff00" d="M416.2 228.6l1.4 -.8l1.6 -2.6l-1.4 .7z"/>
<path fill="#00ff00" stroke="#00ff00" d="M417.6 227.8l1.4 -1.7l1.5 -3l-1.3 2.1z"/>
<path fill="#00ff61" stroke="#00ff61" d="M419.0 226.1l1.3 -2.9l1.6 -2.1l-1.4 2z"/>
<path fill="#00ffb7" stroke="#00ffb7" d="M420.3 223.2l1.4 -2.5l1.6 -1.3l-1.4 1.7z"/>
<path fill="#00f1ff" stroke="#00f1ff" d="M421.7 220.7l1.4 -1.1l1.6 -2.4l-1.4 2.2z"/>
<path fill="#00bbff" stroke="#00bbff" d="M423.1 219.6l1.4 -1.3l1.6 -1.5l-1.4 .4z"/>
<path fill="#0079ff" stroke="#0079ff" d="M424.5 218.3l1.4 -2.2l1.6 -1.5l-1.4 2.2z"/>
<path fill="#0023ff" stroke="#0023ff" d="M425.9 216.1l1.5 -2.2l1.6 -1.5l-1.5 2.2z"/>
<path fill="#3400ff" stroke="#3400ff" d="M427.4 213.9l1.4 -2.4l1.6 -.8l-1.4 1.7z"/>
<path fill="#8100ff" stroke="#8100ff" d="M428.8 211.5l1.4 -1.1l1.6 -2l-1.4 2.3z"/>
<path fill="#cd00ff" stroke="#cd00ff" d="M430.2 210.4l1.5 -2l1.6 -1.2l-1.5 1.2z"/>
<path fill="#ff00f0" stroke="#ff00f0" d="M431.7 208.4l1.4 -1l1.6 -2.2l-1.4 2z"/>
<path fill="#ff00c5" stroke="#ff00c5" d="M433.1 207.4l1.5 0l1.6 -2.6l-1.5 .4zM434.6 207.4l1.4 .2l1.6 -1.5l-1.4 -1.3zM436.0 207.6l1.5 1l1.6 -2.8l-1.5 .3z"/>
<path fill="#ff00da" stroke="#ff00da" d="M437.5 208.6l1.5 1l1.6 -1.3l-1.5 -2.5z"/>
<path fill="#f800ff" stroke="#f800ff" d="M439.0 209.6l1.4 1.4l1.6 -.6l-1.4 -2.1z"/>
<path fill="#c200ff" stroke="#c200ff" d="M440.4 211.0l1.5 2.3l1.6 -1.1l-1.5 -1.8z"/>
<path fill="#9600ff" stroke="#9600ff" d="M441.9 213.3l1.5 1.1l1.5 -1.2l-1.4 -1z"/>
<path fill="#7600ff" stroke="#7600ff" d="M443.4 214.4l1.4 .8l1.6 .9l-1.5 -2.9z"/>
<path fill="#5500ff" stroke="#5500ff" d="M444.8 215.2l1.5 1.9l1.5 -.6l-1.4 -.4z"/>
<path fill="#3400ff" stroke="#3400ff" d="M446.3 217.1l1.4 1.6l1.6 -1.4l-1.5 -.8z"/>
<path fill="#3f00ff" stroke="#3f00ff" d="M447.7 218.7l1.5 -1l1.6 -.3l-1.5 -.1z"/>
<path fill="#4a00ff" stroke="#4a00ff" d="M449.2 217.7l1.5 .6l1.6 -.4l-1.5 -.5z"/>
<path fill="#6000ff" stroke="#6000ff" d="M450.7 218.3l1.5 -.6l1.5 -1.1l-1.4 1.3z"/>
<path fill="#8100ff" stroke="#8100ff" d="M452.2 217.7l1.5 -.9l1.5 -.5l-1.5 .3z"/>
<path fill="#ac00ff" stroke="#ac00ff" d="M453.7 216.8l1.5 -.4l1.5 -1.7l-1.5 1.6z"/>
<path fill="#d700ff" stroke="#d700ff" d="M455.2 216.4l1.5 -.5l1.5 -1.4l-1.5 .2z"/>
<path fill="#f800ff" stroke="#f800ff" d="M456.7 215.9l1.5 -.6l1.6 -2.2l-1.6 1.4z"/>
<path fill="#ff00e5" stroke="#ff00e5" d="M458.2 215.3l1.5 -.6l1.6 -1.6l-1.5 0z"/>
<path fill="#ff00da" stroke="#ff00da" d="M459.7 214.7l1.5 .6l1.6 -2.1l-1.5 -.1zM461.2 215.3l1.5 1l1.6 -3l-1.5 -.1z"/>
<path fill="#ff00f0" stroke="#ff00f0" d="M462.7 216.3l1.4 .7l1.6 -.9l-1.4 -2.8z"/>
<path fill="#c200ff" stroke="#c200ff" d="M464.1 217.0l1.5 3.7l1.5 -1.5l-1.4 -3.1z"/>
<path fill="#6000ff" stroke="#6000ff" d="M465.6 220.7l1.4 3l1.5 -1l-1.4 -3.5z"/>
<path fill="#0002ff" stroke="#0002ff" d="M467.0 223.7l1.4 3l1.5 -.2l-1.4 -3.8z"/>
<path fill="#0079ff" stroke="#0079ff" d="M468.4 226.7l1.4 4.5l1.5 .2l-1.4 -4.9z"/>
<path fill="#00f1ff" stroke="#00f1ff" d="M469.8 231.2l1.4 3.8l1.5 -1.2l-1.4 -2.4z"/>
<path fill="#00ffa1" stroke="#00ffa1" d="M471.2 235.0l1.4 3.3l1.5 -.1l-1.4 -4.4z"/>
<path fill="#00ff41" stroke="#00ff41" d="M472.6 238.3l1.4 2.9l1.4 .5l-1.3 -3.5z"/>
<path fill="#16ff00" stroke="#16ff00" d="M474.0 241.2l1.4 2.2l1.5 .3l-1.5 -2z"/>
<path fill="#61ff00" stroke="#61ff00" d="M475.4 243.4l1.4 3l1.4 .6l-1.3 -3.3z"/>
<path fill="#adff00" stroke="#adff00" d="M476.8 246.4l1.4 3l1.5 -.6l-1.5 -1.8z"/>
<path fill="#eeff00" stroke="#eeff00" d="M478.2 249.4l1.4 2.5l1.5 -1.1l-1.4 -2z"/>
<path fill="#ffcf00" stroke="#ffcf00" d="M479.6 251.9l1.4 1.6l1.5 -.1l-1.4 -2.6z"/>
<path fill="#ff9900" stroke="#ff9900" d="M481.0 253.5l1.5 1.7l1.4 .8l-1.4 -2.6z"/>
<path fill="#ff5800" stroke="#ff5800" d="M482.5 255.2l1.3 3.1l1.5 -.7l-1.4 -1.6z"/>
<path fill="#ff2200" stroke="#ff2200" d="M483.8 258.3l1.5 1.1l1.4 -.5l-1.4 -1.3z"/>
<path fill="#61ff00" stroke="#61ff00" d="M414.6 230.5l1.4 -.8l1.6 -1.9l-1.4 .8z"/>
<path fill="#2bff00" stroke="#2bff00" d="M416.0 229.7l1.4 -.9l1.6 -2.7l-1.4 1.7z"/>
<path fill="#00ff36" stroke="#00ff36" d="M417.4 228.8l1.3 -3.4l1.6 -2.2l-1.3 2.9z"/>
<path fill="#00ffa1" stroke="#00ffa1" d="M418.7 225.4l1.4 -2l1.6 -2.7l-1.4 2.5z"/>
<path fill="#00ffed" stroke="#00ffed" d="M420.1 223.4l1.4 -1.9l1.6 -1.9l-1.4 1.1z"/>
<path fill="#00dbff" stroke="#00dbff" d="M421.5 221.5l1.4 -.6l1.6 -2.6l-1.4 1.3z"/>
<path fill="#008fff" stroke="#008fff" d="M422.9 220.9l1.4 -2.2l1.6 -2.6l-1.4 2.2z"/>
<path fill="#0038ff" stroke="#0038ff" d="M424.3 218.7l1.5 -2.6l1.6 -2.2l-1.5 2.2z"/>
<path fill="#2a00ff" stroke="#2a00ff" d="M425.8 216.1l1.4 -2.2l1.6 -2.4l-1.4 2.4z"/>
<path fill="#7600ff" stroke="#7600ff" d="M427.2 213.9l1.4 -1.3l1.6 -2.2l-1.4 1.1z"/>
<path fill="#b700ff" stroke="#b700ff" d="M428.6 212.6l1.5 -2.4l1.6 -1.8l-1.5 2z"/>
<path fill="#f800ff" stroke="#f800ff" d="M430.1 210.2l1.4 -.8l1.6 -2l-1.4 1z"/>
<path fill="#ff00e5" stroke="#ff00e5" d="M431.5 209.4l1.5 -.2l1.6 -1.8l-1.5 0z"/>
<path fill="#ff00da" stroke="#ff00da" d="M433.0 209.2l1.4 .2l1.6 -1.8l-1.4 -.2z"/>
<path fill="#ff00e5" stroke="#ff00e5" d="M434.4 209.4l1.5 1.5l1.6 -2.3l-1.5 -1z"/>
<path fill="#ff00fb" stroke="#ff00fb" d="M435.9 210.9l1.5 .6l1.6 -1.9l-1.5 -1z"/>
<path fill="#e200ff" stroke="#e200ff" d="M437.4 211.5l1.4 2.3l1.6 -2.8l-1.4 -1.4z"/>
<path fill="#c200ff" stroke="#c200ff" d="M438.8 213.8l1.5 -.1l1.6 -.4l-1.5 -2.3z"/>
<path fill="#ac00ff" stroke="#ac00ff" d="M440.3 213.7l1.5 1.4l1.6 -.7l-1.5 -1.1z"/>
<path fill="#8b00ff" stroke="#8b00ff" d="M441.8 215.1l1.4 1.6l1.6 -1.5l-1.4 -.8z"/>
<path fill="#6b00ff" stroke="#6b00ff" d="M443.2 216.7l1.5 1.6l1.6 -1.2l-1.5 -1.9z"/>
<path fill="#4a00ff" stroke="#4a00ff" d="M444.7 218.3l1.5 .3l1.5 .1l-1.4 -1.6z"/>
<path fill="#5500ff" stroke="#5500ff" d="M446.2 218.6l1.4 0l1.6 -.9l-1.5 1z"/>
<path fill="#6000ff" stroke="#6000ff" d="M447.6 218.6l1.5 .9l1.6 -1.2l-1.5 -.6z"/>
<path fill="#6b00ff" stroke="#6b00ff" d="M449.1 219.5l1.5 -.9l1.6 -.9l-1.5 .6z"/>
<path fill="#9600ff" stroke="#9600ff" d="M450.6 218.6l1.5 -.7l1.6 -1.1l-1.5 .9z"/>
<path fill="#ac00ff" stroke="#ac00ff" d="M452.1 217.9l1.5 0l1.6 -1.5l-1.5 .4z"/>
<path fill="#cd00ff" stroke="#cd00ff" d="M453.6 217.9l1.5 -.5l1.6 -1.5l-1.5 .5z"/>
<path fill="#ed00ff" stroke="#ed00ff" d="M455.1 217.4l1.5 -1.1l1.6 -1l-1.5 .6z"/>
<path fill="#ff00f0" stroke="#ff00f0" d="M456.6 216.3l1.5 .2l1.6 -1.8l-1.5 .6z"/>
<path fill="#ff00e5" stroke="#ff00e5" d="M458.1 216.5l1.5 .2l1.6 -1.4l-1.5 -.6z"/>
<path fill="#ff00f0" stroke="#ff00f0" d="M459.6 216.7l1.5 1.4l1.6 -1.8l-1.5 -1z"/>
<path fill="#ed00ff" stroke="#ed00ff" d="M461.1 218.1l1.4 2.1l1.6 -3.2l-1.4 -.7z"/>
<path fill="#b700ff" stroke="#b700ff" d="M462.5 220.2l1.5 2.3l1.6 -1.8l-1.5 -3.7z"/>
<path fill="#6000ff" stroke="#6000ff" d="M464.0 222.5l1.4 3.4l1.6 -2.2l-1.4 -3z"/>
<path fill="#0002ff" stroke="#0002ff" d="M465.4 225.9l1.4 3.1l1.6 -2.3l-1.4 -3z"/>
<path fill="#0064ff" stroke="#0064ff" d="M466.8 229.0l1.5 3.1l1.5 -.9l-1.4 -4.5z"/>
<path fill="#00d0ff" stroke="#00d0ff" d="M468.3 232.1l1.4 2.9l1.5 0l-1.4 -3.8z"/>
<path fill="#00ffc2" stroke="#00ffc2" d="M469.7 235.0l1.4 3.8l1.5 -.5l-1.4 -3.3z"/>
<path fill="#00ff6c" stroke="#00ff6c" d="M471.1 238.8l1.4 2.3l1.5 .1l-1.4 -2.9z"/>
<path fill="#00ff16" stroke="#00ff16" d="M472.5 241.1l1.4 4.2l1.5 -1.9l-1.4 -2.2z"/>
<path fill="#41ff00" stroke="#41ff00" d="M473.9 245.3l1.4 2.2l1.5 -1.1l-1.4 -3z"/>
<path fill="#8dff00" stroke="#8dff00" d="M475.3 247.5l1.4 2.4l1.5 -.5l-1.4 -3z"/>
<path fill="#d8ff00" stroke="#d8ff00" d="M476.7 249.9l1.4 3.2l1.5 -1.2l-1.4 -2.5z"/>
<path fill="#ffda00" stroke="#ffda00" d="M478.1 253.1l1.4 1.9l1.5 -1.5l-1.4 -1.6z"/>
<path fill="#ffaf00" stroke="#ffaf00" d="M479.5 255.0l1.4 1.6l1.6 -1.4l-1.5 -1.7z"/>
<path fill="#ff7900" stroke="#ff7900" d="M480.9 256.6l1.5 1.8l1.4 -.1l-1.3 -3.1z"/>
<path fill="#ff4300" stroke="#ff4300" d="M482.4 258.4l1.4 1.9l1.5 -.9l-1.5 -1.1z"/>
<path fill="#77ff00" stroke="#77ff00" d="M413.0 232.3l1.4 -.5l1.6 -2.1l-1.4 .8z"/>
<path fill="#36ff00" stroke="#36ff00" d="M414.4 231.8l1.4 -2.9l1.6 -.1l-1.4 .9z"/>
<path fill="#00ff2b" stroke="#00ff2b" d="M415.8 228.9l1.3 -2.1l1.6 -1.4l-1.3 3.4z"/>
<path fill="#00ff8c" stroke="#00ff8c" d="M417.1 226.8l1.4 -2.1l1.6 -1.3l-1.4 2z"/>
<path fill="#00ffd7" stroke="#00ffd7" d="M418.5 224.7l1.4 -1.7l1.6 -1.5l-1.4 1.9z"/>
<path fill="#00e6ff" stroke="#00e6ff" d="M419.9 223.0l1.4 -1.8l1.6 -.3l-1.4 .6z"/>
<path fill="#009aff" stroke="#009aff" d="M421.3 221.2l1.4 -1.9l1.6 -.6l-1.4 2.2z"/>
<path fill="#0043ff" stroke="#0043ff" d="M422.7 219.3l1.4 -2.3l1.7 -.9l-1.5 2.6z"/>
<path fill="#1f00ff" stroke="#1f00ff" d="M424.1 217.0l1.5 -2.4l1.6 -.7l-1.4 2.2z"/>
<path fill="#6000ff" stroke="#6000ff" d="M425.6 214.6l1.4 -.6l1.6 -1.4l-1.4 1.3z"/>
<path fill="#ac00ff" stroke="#ac00ff" d="M427.0 214.0l1.4 -2.2l1.7 -1.6l-1.5 2.4z"/>
<path fill="#f800ff" stroke="#f800ff" d="M428.4 211.8l1.5 -2.4l1.6 0l-1.4 .8z"/>
<path fill="#ff00e5" stroke="#ff00e5" d="M429.9 209.4l1.4 1.3l1.7 -1.5l-1.5 .2zM431.3 210.7l1.5 .4l1.6 -1.7l-1.4 -.2z"/>
<path fill="#ff00f0" stroke="#ff00f0" d="M432.8 211.1l1.5 .2l1.6 -.4l-1.5 -1.5z"/>
<path fill="#ff00fb" stroke="#ff00fb" d="M434.3 211.3l1.4 1.1l1.7 -.9l-1.5 -.6z"/>
<path fill="#e200ff" stroke="#e200ff" d="M435.7 212.4l1.5 .9l1.6 .5l-1.4 -2.3z"/>
<path fill="#cd00ff" stroke="#cd00ff" d="M437.2 213.3l1.5 1.2l1.6 -.8l-1.5 .1z"/>
<path fill="#b700ff" stroke="#b700ff" d="M438.7 214.5l1.5 1.7l1.6 -1.1l-1.5 -1.4z"/>
<path fill="#a100ff" stroke="#a100ff" d="M440.2 216.2l1.4 .2l1.6 .3l-1.4 -1.6z"/>
<path fill="#8b00ff" stroke="#8b00ff" d="M441.6 216.4l1.5 1.3l1.6 .6l-1.5 -1.6z"/>
<path fill="#7600ff" stroke="#7600ff" d="M443.1 217.7l1.5 .3l1.6 .6l-1.5 -.3z"/>
<path fill="#8100ff" stroke="#8100ff" d="M444.6 218.0l1.4 .7l1.6 -.1l-1.4 0zM446.0 218.7l1.5 -.3l1.6 1.1l-1.5 -.9z"/>
<path fill="#8b00ff" stroke="#8b00ff" d="M447.5 218.4l1.5 .3l1.6 -.1l-1.5 .9z"/>
<path fill="#b700ff" stroke="#b700ff" d="M449.0 218.7l1.5 -1.7l1.6 .9l-1.5 .7z"/>
<path fill="#cd00ff" stroke="#cd00ff" d="M450.5 217.0l1.5 .5l1.6 .4l-1.5 0z"/>
<path fill="#e200ff" stroke="#e200ff" d="M452.0 217.5l1.5 -.4l1.6 .3l-1.5 .5z"/>
<path fill="#ff00fb" stroke="#ff00fb" d="M453.5 217.1l1.5 .5l1.6 -1.3l-1.5 1.1zM455.0 217.6l1.5 .9l1.6 -2l-1.5 -.2z"/>
<path fill="#ff00f0" stroke="#ff00f0" d="M456.5 218.5l1.5 -.1l1.6 -1.7l-1.5 -.2zM458.0 218.4l1.5 .6l1.6 -.9l-1.5 -1.4z"/>
<path fill="#e200ff" stroke="#e200ff" d="M459.5 219.0l1.5 1.7l1.5 -.5l-1.4 -2.1z"/>
<path fill="#ac00ff" stroke="#ac00ff" d="M461.0 220.7l1.4 2.8l1.6 -1l-1.5 -2.3z"/>
<path fill="#5500ff" stroke="#5500ff" d="M462.4 223.5l1.5 2.9l1.5 -.5l-1.4 -3.4z"/>
<path fill="#0002ff" stroke="#0002ff" d="M463.9 226.4l1.4 3.3l1.5 -.7l-1.4 -3.1z"/>
<path fill="#0064ff" stroke="#0064ff" d="M465.3 229.7l1.4 2.9l1.6 -.5l-1.5 -3.1z"/>
<path fill="#00b0ff" stroke="#00b0ff" d="M466.7 232.6l1.4 2.7l1.6 -.3l-1.4 -2.9z"/>
<path fill="#00ffed" stroke="#00ffed" d="M468.1 235.3l1.5 3.1l1.5 .4l-1.4 -3.8z"/>
<path fill="#00ff97" stroke="#00ff97" d="M469.6 238.4l1.4 2.9l1.5 -.2l-1.4 -2.3z"/>
<path fill="#00ff36" stroke="#00ff36" d="M471.0 241.3l1.4 3.2l1.5 .8l-1.4 -4.2z"/>
<path fill="#20ff00" stroke="#20ff00" d="M472.4 244.5l1.4 2.4l1.5 .6l-1.4 -2.2z"/>
<path fill="#61ff00" stroke="#61ff00" d="M473.8 246.9l1.4 2.5l1.5 .5l-1.4 -2.4z"/>
<path fill="#adff00" stroke="#adff00" d="M475.2 249.4l1.5 2.1l1.4 1.6l-1.4 -3.2z"/>
<path fill="#eeff00" stroke="#eeff00" d="M476.7 251.5l1.4 2.3l1.4 1.2l-1.4 -1.9z"/>
<path fill="#ffda00" stroke="#ffda00" d="M478.1 253.8l1.4 1.9l1.4 .9l-1.4 -1.6z"/>
<path fill="#ffa400" stroke="#ffa400" d="M479.5 255.7l1.4 2.3l1.5 .4l-1.5 -1.8z"/>
<path fill="#ff6e00" stroke="#ff6e00" d="M480.9 258.0l1.5 1.9l1.4 .4l-1.4 -1.9z"/>
<path fill="#a2ff00" stroke="#a2ff00" d="M411.4 236.0l1.4 -1.3l1.6 -2.9l-1.4 .5z"/>
<path fill="#56ff00" stroke="#56ff00" d="M412.8 234.7l1.4 -2.2l1.6 -3.6l-1.4 2.9z"/>
<path fill="#00ff0b" stroke="#00ff0b" d="M414.2 232.5l1.3 -2.7l1.6 -3l-1.3 2.1z"/>
<path fill="#00ff6c" stroke="#00ff6c" d="M415.5 229.8l1.4 -1.5l1.6 -3.6l-1.4 2.1z"/>
<path fill="#00ffb7" stroke="#00ffb7" d="M416.9 228.3l1.4 -2l1.6 -3.3l-1.4 1.7z"/>
<path fill="#00fcff" stroke="#00fcff" d="M418.3 226.3l1.4 -1.9l1.6 -3.2l-1.4 1.8z"/>
<path fill="#00a5ff" stroke="#00a5ff" d="M419.7 224.4l1.4 -2.6l1.6 -2.5l-1.4 1.9z"/>
<path fill="#004eff" stroke="#004eff" d="M421.1 221.8l1.4 -2.3l1.6 -2.5l-1.4 2.3z"/>
<path fill="#1400ff" stroke="#1400ff" d="M422.5 219.5l1.4 -2.1l1.7 -2.8l-1.5 2.4z"/>
<path fill="#5500ff" stroke="#5500ff" d="M423.9 217.4l1.5 -1.1l1.6 -2.3l-1.4 .6z"/>
<path fill="#8b00ff" stroke="#8b00ff" d="M425.4 216.3l1.4 -1.2l1.6 -3.3l-1.4 2.2z"/>
<path fill="#d700ff" stroke="#d700ff" d="M426.8 215.1l1.5 -1.1l1.6 -4.6l-1.5 2.4z"/>
<path fill="#f800ff" stroke="#f800ff" d="M428.3 214.0l1.4 .1l1.6 -3.4l-1.4 -1.3z"/>
<path fill="#ed00ff" stroke="#ed00ff" d="M429.7 214.1l1.5 .7l1.6 -3.7l-1.5 -.4z"/>
<path fill="#f800ff" stroke="#f800ff" d="M431.2 214.8l1.5 -.5l1.6 -3l-1.5 -.2z"/>
<path fill="#ed00ff" stroke="#ed00ff" d="M432.7 214.3l1.4 1.2l1.6 -3.1l-1.4 -1.1z"/>
<path fill="#d700ff" stroke="#d700ff" d="M434.1 215.5l1.5 1.4l1.6 -3.6l-1.5 -.9z"/>
<path fill="#c200ff" stroke="#c200ff" d="M435.6 216.9l1.5 .4l1.6 -2.8l-1.5 -1.2z"/>
<path fill="#ac00ff" stroke="#ac00ff" d="M437.1 217.3l1.4 1.3l1.7 -2.4l-1.5 -1.7z"/>
<path fill="#9600ff" stroke="#9600ff" d="M438.5 218.6l1.5 .6l1.6 -2.8l-1.4 -.2z"/>
<path fill="#8b00ff" stroke="#8b00ff" d="M440.0 219.2l1.5 1.1l1.6 -2.6l-1.5 -1.3z"/>
<path fill="#8100ff" stroke="#8100ff" d="M441.5 220.3l1.5 .4l1.6 -2.7l-1.5 -.3zM443.0 220.7l1.4 .5l1.6 -2.5l-1.4 -.7z"/>
<path fill="#8b00ff" stroke="#8b00ff" d="M444.4 221.2l1.5 -.1l1.6 -2.7l-1.5 .3z"/>
<path fill="#9600ff" stroke="#9600ff" d="M445.9 221.1l1.5 -.3l1.6 -2.1l-1.5 -.3z"/>
<path fill="#b700ff" stroke="#b700ff" d="M447.4 220.8l1.5 -.1l1.6 -3.7l-1.5 1.7z"/>
<path fill="#cd00ff" stroke="#cd00ff" d="M448.9 220.7l1.5 -.1l1.6 -3.1l-1.5 -.5z"/>
<path fill="#e200ff" stroke="#e200ff" d="M450.4 220.6l1.5 -.5l1.6 -3l-1.5 .4z"/>
<path fill="#ed00ff" stroke="#ed00ff" d="M451.9 220.1l1.5 1.1l1.6 -3.6l-1.5 -.5z"/>
<path fill="#e200ff" stroke="#e200ff" d="M453.4 221.2l1.5 -.3l1.6 -2.4l-1.5 -.9z"/>
<path fill="#ed00ff" stroke="#ed00ff" d="M454.9 220.9l1.5 .1l1.6 -2.6l-1.5 .1zM456.4 221.0l1.5 1.2l1.6 -3.2l-1.5 -.6z"/>
<path fill="#d700ff" stroke="#d700ff" d="M457.9 222.2l1.5 1.1l1.6 -2.6l-1.5 -1.7z"/>
<path fill="#9600ff" stroke="#9600ff" d="M459.4 223.3l1.4 3.3l1.6 -3.1l-1.4 -2.8z"/>
<path fill="#4a00ff" stroke="#4a00ff" d="M460.8 226.6l1.5 1.7l1.6 -1.9l-1.5 -2.9z"/>
<path fill="#0002ff" stroke="#0002ff" d="M462.3 228.3l1.4 3.7l1.6 -2.3l-1.4 -3.3z"/>
<path fill="#0059ff" stroke="#0059ff" d="M463.7 232.0l1.4 2.2l1.6 -1.6l-1.4 -2.9z"/>
<path fill="#00b0ff" stroke="#00b0ff" d="M465.1 234.2l1.5 3.4l1.5 -2.3l-1.4 -2.7z"/>
<path fill="#00fff7" stroke="#00fff7" d="M466.6 237.6l1.4 2.7l1.6 -1.9l-1.5 -3.1z"/>
<path fill="#00ffa1" stroke="#00ffa1" d="M468.0 240.3l1.4 3.5l1.6 -2.5l-1.4 -2.9z"/>
<path fill="#00ff4b" stroke="#00ff4b" d="M469.4 243.8l1.4 2.5l1.6 -1.8l-1.4 -3.2z"/>
<path fill="#0bff00" stroke="#0bff00" d="M470.8 246.3l1.4 3.2l1.6 -2.6l-1.4 -2.4z"/>
<path fill="#4cff00" stroke="#4cff00" d="M472.2 249.5l1.5 1.4l1.5 -1.5l-1.4 -2.5z"/>
<path fill="#82ff00" stroke="#82ff00" d="M473.7 250.9l1.4 2.1l1.6 -1.5l-1.5 -2.1z"/>
<path fill="#c3ff00" stroke="#c3ff00" d="M475.1 253.0l1.5 2.3l1.5 -1.5l-1.4 -2.3z"/>
<path fill="#f9ff00" stroke="#f9ff00" d="M476.6 255.3l1.4 1.7l1.5 -1.3l-1.4 -1.9z"/>
<path fill="#ffcf00" stroke="#ffcf00" d="M478.0 257.0l1.4 2.2l1.5 -1.2l-1.4 -2.3z"/>
<path fill="#ff8e00" stroke="#ff8e00" d="M479.4 259.2l1.4 2.1l1.6 -1.4l-1.5 -1.9z"/>
<path fill="#adff00" stroke="#adff00" d="M409.8 236.3l1.4 -1.8l1.6 .2l-1.4 1.3z"/>
<path fill="#61ff00" stroke="#61ff00" d="M411.2 234.5l1.3 -2.2l1.7 .2l-1.4 2.2z"/>
<path fill="#00ff0b" stroke="#00ff0b" d="M412.5 232.3l1.4 -3l1.6 .5l-1.3 2.7z"/>
<path fill="#00ff61" stroke="#00ff61" d="M413.9 229.3l1.4 -1.9l1.6 .9l-1.4 1.5z"/>
<path fill="#00ffac" stroke="#00ffac" d="M415.3 227.4l1.4 -1.5l1.6 .4l-1.4 2z"/>
<path fill="#00fcff" stroke="#00fcff" d="M416.7 225.9l1.4 -2.3l1.6 .8l-1.4 1.9z"/>
<path fill="#00a5ff" stroke="#00a5ff" d="M418.1 223.6l1.4 -2l1.6 .2l-1.4 2.6z"/>
<path fill="#004eff" stroke="#004eff" d="M419.5 221.6l1.4 -1.8l1.6 -.3l-1.4 2.3z"/>
<path fill="#0002ff" stroke="#0002ff" d="M420.9 219.8l1.4 -1.5l1.6 -.9l-1.4 2.1z"/>
<path fill="#4a00ff" stroke="#4a00ff" d="M422.3 218.3l1.4 -2.3l1.7 .3l-1.5 1.1z"/>
<path fill="#9600ff" stroke="#9600ff" d="M423.7 216.0l1.5 -1.8l1.6 .9l-1.4 1.2z"/>
<path fill="#c200ff" stroke="#c200ff" d="M425.2 214.2l1.4 .3l1.7 -.5l-1.5 1.1z"/>
<path fill="#d700ff" stroke="#d700ff" d="M426.6 214.5l1.5 -.8l1.6 .4l-1.4 -.1z"/>
<path fill="#e200ff" stroke="#e200ff" d="M428.1 213.7l1.5 1l1.6 .1l-1.5 -.7zM429.6 214.7l1.4 .3l1.7 -.7l-1.5 .5zM431.0 215.0l1.5 .3l1.6 .2l-1.4 -1.2z"/>
<path fill="#d700ff" stroke="#d700ff" d="M432.5 215.3l1.5 .9l1.6 .7l-1.5 -1.4z"/>
<path fill="#cd00ff" stroke="#cd00ff" d="M434.0 216.2l1.5 .3l1.6 .8l-1.5 -.4z"/>
<path fill="#c200ff" stroke="#c200ff" d="M435.5 216.5l1.4 .8l1.6 1.3l-1.4 -1.3z"/>
<path fill="#a100ff" stroke="#a100ff" d="M436.9 217.3l1.5 2.4l1.6 -.5l-1.5 -.6z"/>
<path fill="#9600ff" stroke="#9600ff" d="M438.4 219.7l1.5 -.8l1.6 1.4l-1.5 -1.1zM439.9 218.9l1.5 .7l1.6 1.1l-1.5 -.4zM441.4 219.6l1.5 -.2l1.5 1.8l-1.4 -.5zM442.9 219.4l1.4 1.3l1.6 .4l-1.5 .1z"/>
<path fill="#a100ff" stroke="#a100ff" d="M444.3 220.7l1.5 -.4l1.6 .5l-1.5 .3z"/>
<path fill="#c200ff" stroke="#c200ff" d="M445.8 220.3l1.5 -.5l1.6 .9l-1.5 .1z"/>
<path fill="#cd00ff" stroke="#cd00ff" d="M447.3 219.8l1.5 .1l1.6 .7l-1.5 .1z"/>
<path fill="#e200ff" stroke="#e200ff" d="M448.8 219.9l1.5 -.2l1.6 .4l-1.5 .5zM450.3 219.7l1.5 1.4l1.6 .1l-1.5 -1.1z"/>
<path fill="#d700ff" stroke="#d700ff" d="M451.8 221.1l1.5 .4l1.6 -.6l-1.5 .3z"/>
<path fill="#ed00ff" stroke="#ed00ff" d="M453.3 221.5l1.5 0l1.6 -.5l-1.5 -.1z"/>
<path fill="#e200ff" stroke="#e200ff" d="M454.8 221.5l1.5 1.6l1.6 -.9l-1.5 -1.2z"/>
<path fill="#cd00ff" stroke="#cd00ff" d="M456.3 223.1l1.5 .6l1.6 -.4l-1.5 -1.1z"/>
<path fill="#a100ff" stroke="#a100ff" d="M457.8 223.7l1.5 2l1.5 .9l-1.4 -3.3z"/>
<path fill="#5500ff" stroke="#5500ff" d="M459.3 225.7l1.4 2.7l1.6 -.1l-1.5 -1.7z"/>
<path fill="#0900ff" stroke="#0900ff" d="M460.7 228.4l1.5 3.5l1.5 .1l-1.4 -3.7z"/>
<path fill="#004eff" stroke="#004eff" d="M462.2 231.9l1.4 2.4l1.5 -.1l-1.4 -2.2z"/>
<path fill="#009aff" stroke="#009aff" d="M463.6 234.3l1.4 2.7l1.6 .6l-1.5 -3.4z"/>
<path fill="#00f1ff" stroke="#00f1ff" d="M465.0 237.0l1.5 2.5l1.5 .8l-1.4 -2.7z"/>
<path fill="#00ffc2" stroke="#00ffc2" d="M466.5 239.5l1.4 2.8l1.5 1.5l-1.4 -3.5z"/>
<path fill="#00ff6c" stroke="#00ff6c" d="M467.9 242.3l1.5 2.9l1.4 1.1l-1.4 -2.5z"/>
<path fill="#00ff16" stroke="#00ff16" d="M469.4 245.2l1.4 3l1.4 1.3l-1.4 -3.2z"/>
<path fill="#36ff00" stroke="#36ff00" d="M470.8 248.2l1.4 2.4l1.5 .3l-1.5 -1.4z"/>
<path fill="#6cff00" stroke="#6cff00" d="M472.2 250.6l1.5 1.8l1.4 .6l-1.4 -2.1z"/>
<path fill="#a2ff00" stroke="#a2ff00" d="M473.7 252.4l1.4 2.2l1.5 .7l-1.5 -2.3z"/>
<path fill="#d8ff00" stroke="#d8ff00" d="M475.1 254.6l1.4 1.8l1.5 .6l-1.4 -1.7z"/>
<path fill="#fff000" stroke="#fff000" d="M476.5 256.4l1.5 2.1l1.4 .7l-1.4 -2.2z"/>
<path fill="#ffc400" stroke="#ffc400" d="M478.0 258.5l1.4 1.4l1.4 1.4l-1.4 -2.1z"/>
<path fill="#97ff00" stroke="#97ff00" d="M408.2 237.8l1.4 -1.6l1.6 -1.7l-1.4 1.8z"/>
<path fill="#4cff00" stroke="#4cff00" d="M409.6 236.2l1.3 -2.4l1.6 -1.5l-1.3 2.2z"/>
<path fill="#00ff20" stroke="#00ff20" d="M410.9 233.8l1.4 -3.2l1.6 -1.3l-1.4 3z"/>
<path fill="#00ff81" stroke="#00ff81" d="M412.3 230.6l1.4 -1.2l1.6 -2l-1.4 1.9z"/>
<path fill="#00ffcc" stroke="#00ffcc" d="M413.7 229.4l1.3 -2l1.7 -1.5l-1.4 1.5z"/>
<path fill="#00e6ff" stroke="#00e6ff" d="M415.0 227.4l1.5 -1.3l1.6 -2.5l-1.4 2.3z"/>
<path fill="#009aff" stroke="#009aff" d="M416.5 226.1l1.4 -1.8l1.6 -2.7l-1.4 2z"/>
<path fill="#004eff" stroke="#004eff" d="M417.9 224.3l1.4 -1.4l1.6 -3.1l-1.4 1.8z"/>
<path fill="#0002ff" stroke="#0002ff" d="M419.3 222.9l1.4 -3l1.6 -1.6l-1.4 1.5z"/>
<path fill="#5500ff" stroke="#5500ff" d="M420.7 219.9l1.4 -2.1l1.6 -1.8l-1.4 2.3z"/>
<path fill="#9600ff" stroke="#9600ff" d="M422.1 217.8l1.5 -.1l1.6 -3.5l-1.5 1.8z"/>
<path fill="#b700ff" stroke="#b700ff" d="M423.6 217.7l1.4 .3l1.6 -3.5l-1.4 -.3z"/>
<path fill="#cd00ff" stroke="#cd00ff" d="M425.0 218.0l1.5 -1.2l1.6 -3.1l-1.5 .8z"/>
<path fill="#e200ff" stroke="#e200ff" d="M426.5 216.8l1.4 .4l1.7 -2.5l-1.5 -1zM427.9 217.2l1.5 .3l1.6 -2.5l-1.4 -.3z"/>
<path fill="#ed00ff" stroke="#ed00ff" d="M429.4 217.5l1.5 -.6l1.6 -1.6l-1.5 -.3zM430.9 216.9l1.4 .7l1.7 -1.4l-1.5 -.9z"/>
<path fill="#e200ff" stroke="#e200ff" d="M432.3 217.6l1.5 .6l1.7 -1.7l-1.5 -.3z"/>
<path fill="#d700ff" stroke="#d700ff" d="M433.8 218.2l1.5 1.7l1.6 -2.6l-1.4 -.8z"/>
<path fill="#b700ff" stroke="#b700ff" d="M435.3 219.9l1.5 .2l1.6 -.4l-1.5 -2.4z"/>
<path fill="#ac00ff" stroke="#ac00ff" d="M436.8 220.1l1.5 1.3l1.6 -2.5l-1.5 .8z"/>
<path fill="#b700ff" stroke="#b700ff" d="M438.3 221.4l1.4 -.5l1.7 -1.3l-1.5 -.7zM439.7 220.9l1.5 1.3l1.7 -2.8l-1.5 .2zM441.2 222.2l1.5 -.8l1.6 -.7l-1.4 -1.3z"/>
<path fill="#c200ff" stroke="#c200ff" d="M442.7 221.4l1.5 .6l1.6 -1.7l-1.5 .4z"/>
<path fill="#d700ff" stroke="#d700ff" d="M444.2 222.0l1.5 0l1.6 -2.2l-1.5 .5z"/>
<path fill="#e200ff" stroke="#e200ff" d="M445.7 222.0l1.5 .9l1.6 -3l-1.5 -.1z"/>
<path fill="#ed00ff" stroke="#ed00ff" d="M447.2 222.9l1.5 -.5l1.6 -2.7l-1.5 .2z"/>
<path fill="#e200ff" stroke="#e200ff" d="M448.7 222.4l1.5 1.6l1.6 -2.9l-1.5 -1.4z"/>
<path fill="#d700ff" stroke="#d700ff" d="M450.2 224.0l1.5 .3l1.6 -2.8l-1.5 -.4zM451.7 224.3l1.5 .3l1.6 -3.1l-1.5 0z"/>
<path fill="#e200ff" stroke="#e200ff" d="M453.2 224.6l1.5 -.7l1.6 -.8l-1.5 -1.6z"/>
<path fill="#cd00ff" stroke="#cd00ff" d="M454.7 223.9l1.5 2.2l1.6 -2.4l-1.5 -.6z"/>
<path fill="#a100ff" stroke="#a100ff" d="M456.2 226.1l1.4 2.4l1.7 -2.8l-1.5 -2z"/>
<path fill="#6000ff" stroke="#6000ff" d="M457.6 228.5l1.5 1.8l1.6 -1.9l-1.4 -2.7z"/>
<path fill="#1f00ff" stroke="#1f00ff" d="M459.1 230.3l1.5 1.7l1.6 -.1l-1.5 -3.5z"/>
<path fill="#002dff" stroke="#002dff" d="M460.6 232.0l1.4 3.7l1.6 -1.4l-1.4 -2.4z"/>
<path fill="#0084ff" stroke="#0084ff" d="M462.0 235.7l1.5 3.1l1.5 -1.8l-1.4 -2.7z"/>
<path fill="#00d0ff" stroke="#00d0ff" d="M463.5 238.8l1.4 2.7l1.6 -2l-1.5 -2.5z"/>
<path fill="#00ffe2" stroke="#00ffe2" d="M464.9 241.5l1.5 2.1l1.5 -1.3l-1.4 -2.8z"/>
<path fill="#00ffa1" stroke="#00ffa1" d="M466.4 243.6l1.4 1.7l1.6 -.1l-1.5 -2.9z"/>
<path fill="#00ff56" stroke="#00ff56" d="M467.8 245.3l1.5 3.2l1.5 -.3l-1.4 -3z"/>
<path fill="#00ff0b" stroke="#00ff0b" d="M469.3 248.5l1.4 2.3l1.5 -.2l-1.4 -2.4z"/>
<path fill="#36ff00" stroke="#36ff00" d="M470.7 250.8l1.4 2.5l1.6 -.9l-1.5 -1.8z"/>
<path fill="#77ff00" stroke="#77ff00" d="M472.1 253.3l1.5 2.1l1.5 -.8l-1.4 -2.2z"/>
<path fill="#a2ff00" stroke="#a2ff00" d="M473.6 255.4l1.5 1l1.4 0l-1.4 -1.8z"/>
<path fill="#cdff00" stroke="#cdff00" d="M475.1 256.4l1.4 2.2l1.5 -.1l-1.5 -2.1z"/>
<path fill="#fffb00" stroke="#fffb00" d="M476.5 258.6l1.4 1.7l1.5 -.4l-1.4 -1.4z"/>
<path fill="#adff00" stroke="#adff00" d="M406.6 239.5l1.4 -.8l1.6 -2.5l-1.4 1.6z"/>
<path fill="#61ff00" stroke="#61ff00" d="M408.0 238.7l1.3 -2.6l1.6 -2.3l-1.3 2.4z"/>
<path fill="#00ff00" stroke="#00ff00" d="M409.3 236.1l1.4 -1.6l1.6 -3.9l-1.4 3.2z"/>
<path fill="#00ff56" stroke="#00ff56" d="M410.7 234.5l1.4 -1.6l1.6 -3.5l-1.4 1.2z"/>
<path fill="#00ffa1" stroke="#00ffa1" d="M412.1 232.9l1.3 -3.3l1.6 -2.2l-1.3 2z"/>
<path fill="#00fff7" stroke="#00fff7" d="M413.4 229.6l1.4 -1l1.7 -2.5l-1.5 1.3z"/>
<path fill="#00c6ff" stroke="#00c6ff" d="M414.8 228.6l1.4 -2.3l1.7 -2l-1.4 1.8z"/>
<path fill="#006fff" stroke="#006fff" d="M416.2 226.3l1.4 -2.3l1.7 -1.1l-1.4 1.4z"/>
<path fill="#0023ff" stroke="#0023ff" d="M417.6 224.0l1.5 -1.2l1.6 -2.9l-1.4 3z"/>
<path fill="#2a00ff" stroke="#2a00ff" d="M419.1 222.8l1.4 -1.3l1.6 -3.7l-1.4 2.1z"/>
<path fill="#6000ff" stroke="#6000ff" d="M420.5 221.5l1.4 -.7l1.7 -3.1l-1.5 .1z"/>
<path fill="#8100ff" stroke="#8100ff" d="M421.9 220.8l1.5 -1.1l1.6 -1.7l-1.4 -.3z"/>
<path fill="#a100ff" stroke="#a100ff" d="M423.4 219.7l1.4 -.7l1.7 -2.2l-1.5 1.2z"/>
<path fill="#ac00ff" stroke="#ac00ff" d="M424.8 219.0l1.5 1.4l1.6 -3.2l-1.4 -.4zM426.3 220.4l1.5 .5l1.6 -3.4l-1.5 -.3z"/>
<path fill="#b700ff" stroke="#b700ff" d="M427.8 220.9l1.5 -.3l1.6 -3.7l-1.5 .6z"/>
<path fill="#c200ff" stroke="#c200ff" d="M429.3 220.6l1.4 .8l1.6 -3.8l-1.4 -.7zM430.7 221.4l1.5 .1l1.6 -3.3l-1.5 -.6z"/>
<path fill="#b700ff" stroke="#b700ff" d="M432.2 221.5l1.5 .6l1.6 -2.2l-1.5 -1.7z"/>
<path fill="#ac00ff" stroke="#ac00ff" d="M433.7 222.1l1.5 .4l1.6 -2.4l-1.5 -.2z"/>
<path fill="#a100ff" stroke="#a100ff" d="M435.2 222.5l1.4 .7l1.7 -1.8l-1.5 -1.3zM436.6 223.2l1.5 .4l1.6 -2.7l-1.4 .5zM438.1 223.6l1.5 -.1l1.6 -1.3l-1.5 -1.3zM439.6 223.5l1.5 1.3l1.6 -3.4l-1.5 .8z"/>
<path fill="#ac00ff" stroke="#ac00ff" d="M441.1 224.8l1.5 -.3l1.6 -2.5l-1.5 -.6z"/>
<path fill="#b700ff" stroke="#b700ff" d="M442.6 224.5l1.5 .2l1.6 -2.7l-1.5 0z"/>
<path fill="#ac00ff" stroke="#ac00ff" d="M444.1 224.7l1.5 1.2l1.6 -3l-1.5 -.9zM445.6 225.9l1.5 .3l1.6 -3.8l-1.5 .5zM447.1 226.2l1.5 .3l1.6 -2.5l-1.5 -1.6z"/>
<path fill="#a100ff" stroke="#a100ff" d="M448.6 226.5l1.4 .6l1.7 -2.8l-1.5 -.3z"/>
<path fill="#ac00ff" stroke="#ac00ff" d="M450.0 227.1l1.6 -.2l1.6 -2.3l-1.5 -.3z"/>
<path fill="#b700ff" stroke="#b700ff" d="M451.6 226.9l1.5 .9l1.6 -3.9l-1.5 .7zM453.1 227.8l1.5 -.1l1.6 -1.6l-1.5 -2.2z"/>
<path fill="#8100ff" stroke="#8100ff" d="M454.6 227.7l1.4 3.5l1.6 -2.7l-1.4 -2.4z"/>
<path fill="#3f00ff" stroke="#3f00ff" d="M456.0 231.2l1.5 2.1l1.6 -3l-1.5 -1.8z"/>
<path fill="#1400ff" stroke="#1400ff" d="M457.5 233.3l1.5 1.2l1.6 -2.5l-1.5 -1.7z"/>
<path fill="#0038ff" stroke="#0038ff" d="M459.0 234.5l1.4 3.7l1.6 -2.5l-1.4 -3.7z"/>
<path fill="#008fff" stroke="#008fff" d="M460.4 238.2l1.5 1.3l1.6 -.7l-1.5 -3.1z"/>
<path fill="#00e6ff" stroke="#00e6ff" d="M461.9 239.5l1.4 4.8l1.6 -2.8l-1.4 -2.7z"/>
<path fill="#00ffcc" stroke="#00ffcc" d="M463.3 244.3l1.5 1.4l1.6 -2.1l-1.5 -2.1z"/>
<path fill="#00ffa1" stroke="#00ffa1" d="M464.8 245.7l1.5 1.5l1.5 -1.9l-1.4 -1.7z"/>
<path fill="#00ff6c" stroke="#00ff6c" d="M466.3 247.2l1.4 2.2l1.6 -.9l-1.5 -3.2z"/>
<path fill="#00ff20" stroke="#00ff20" d="M467.7 249.4l1.4 2.7l1.6 -1.3l-1.4 -2.3z"/>
<path fill="#2bff00" stroke="#2bff00" d="M469.1 252.1l1.5 2.5l1.5 -1.3l-1.4 -2.5z"/>
<path fill="#61ff00" stroke="#61ff00" d="M470.6 254.6l1.4 1.8l1.6 -1l-1.5 -2.1z"/>
<path fill="#8dff00" stroke="#8dff00" d="M472.0 256.4l1.5 1.5l1.6 -1.5l-1.5 -1z"/>
<path fill="#b8ff00" stroke="#b8ff00" d="M473.5 257.9l1.4 2l1.6 -1.3l-1.4 -2.2z"/>
<path fill="#eeff00" stroke="#eeff00" d="M474.9 259.9l1.5 1.5l1.5 -1.1l-1.4 -1.7z"/>
<path fill="#c3ff00" stroke="#c3ff00" d="M405.0 241.0l1.3 -.9l1.7 -1.4l-1.4 .8z"/>
<path fill="#77ff00" stroke="#77ff00" d="M406.3 240.1l1.4 -2.1l1.6 -1.9l-1.3 2.6z"/>
<path fill="#20ff00" stroke="#20ff00" d="M407.7 238.0l1.3 -2.4l1.7 -1.1l-1.4 1.6z"/>
<path fill="#00ff2b" stroke="#00ff2b" d="M409.0 235.6l1.4 -1.7l1.7 -1l-1.4 1.6z"/>
<path fill="#00ff81" stroke="#00ff81" d="M410.4 233.9l1.4 -1.3l1.6 -3l-1.3 3.3z"/>
<path fill="#00ffd7" stroke="#00ffd7" d="M411.8 232.6l1.4 -2.3l1.6 -1.7l-1.4 1z"/>
<path fill="#00dbff" stroke="#00dbff" d="M413.2 230.3l1.4 -2.1l1.6 -1.9l-1.4 2.3z"/>
<path fill="#0084ff" stroke="#0084ff" d="M414.6 228.2l1.4 -1.3l1.6 -2.9l-1.4 2.3z"/>
<path fill="#0043ff" stroke="#0043ff" d="M416.0 226.9l1.4 -1.8l1.7 -2.3l-1.5 1.2z"/>
<path fill="#000dff" stroke="#000dff" d="M417.4 225.1l1.5 -.8l1.6 -2.8l-1.4 1.3z"/>
<path fill="#2a00ff" stroke="#2a00ff" d="M418.9 224.3l1.4 -1.8l1.6 -1.7l-1.4 .7z"/>
<path fill="#6000ff" stroke="#6000ff" d="M420.3 222.5l1.5 -.1l1.6 -2.7l-1.5 1.1z"/>
<path fill="#7600ff" stroke="#7600ff" d="M421.8 222.4l1.4 .2l1.6 -3.6l-1.4 .7z"/>
<path fill="#8100ff" stroke="#8100ff" d="M423.2 222.6l1.5 -.1l1.6 -2.1l-1.5 -1.4zM424.7 222.5l1.4 .2l1.7 -1.8l-1.5 -.5zM426.1 222.7l1.5 .7l1.7 -2.8l-1.5 .3z"/>
<path fill="#8b00ff" stroke="#8b00ff" d="M427.6 223.4l1.5 -.1l1.6 -1.9l-1.4 -.8zM429.1 223.3l1.5 .6l1.6 -2.4l-1.5 -.1zM430.6 223.9l1.4 .5l1.7 -2.3l-1.5 -.6z"/>
<path fill="#8100ff" stroke="#8100ff" d="M432.0 224.4l1.5 .6l1.7 -2.5l-1.5 -.4zM433.5 225.0l1.5 .9l1.6 -2.7l-1.4 -.7zM435.0 225.9l1.5 -.2l1.6 -2.1l-1.5 -.4z"/>
<path fill="#8b00ff" stroke="#8b00ff" d="M436.5 225.7l1.5 .5l1.6 -2.7l-1.5 .1z"/>
<path fill="#8100ff" stroke="#8100ff" d="M438.0 226.2l1.5 .8l1.6 -2.2l-1.5 -1.3zM439.5 227.0l1.5 -.5l1.6 -2l-1.5 .3z"/>
<path fill="#8b00ff" stroke="#8b00ff" d="M441.0 226.5l1.4 1l1.7 -2.8l-1.5 -.2z"/>
<path fill="#8100ff" stroke="#8100ff" d="M442.4 227.5l1.5 .9l1.7 -2.5l-1.5 -1.2z"/>
<path fill="#7600ff" stroke="#7600ff" d="M443.9 228.4l1.5 .3l1.7 -2.5l-1.5 -.3z"/>
<path fill="#8100ff" stroke="#8100ff" d="M445.4 228.7l1.5 .3l1.7 -2.5l-1.5 -.3zM446.9 229.0l1.5 .5l1.6 -2.4l-1.4 -.6zM448.4 229.5l1.5 .9l1.7 -3.5l-1.6 .2zM449.9 230.4l1.5 .1l1.7 -2.7l-1.5 -.9z"/>
<path fill="#7600ff" stroke="#7600ff" d="M451.4 230.5l1.5 1.6l1.7 -4.4l-1.5 .1z"/>
<path fill="#4a00ff" stroke="#4a00ff" d="M452.9 232.1l1.5 1.4l1.6 -2.3l-1.4 -3.5z"/>
<path fill="#1400ff" stroke="#1400ff" d="M454.4 233.5l1.5 1.7l1.6 -1.9l-1.5 -2.1z"/>
<path fill="#0023ff" stroke="#0023ff" d="M455.9 235.2l1.5 2.7l1.6 -3.4l-1.5 -1.2z"/>
<path fill="#0059ff" stroke="#0059ff" d="M457.4 237.9l1.4 1.7l1.6 -1.4l-1.4 -3.7z"/>
<path fill="#009aff" stroke="#009aff" d="M458.8 239.6l1.5 2.3l1.6 -2.4l-1.5 -1.3z"/>
<path fill="#00f1ff" stroke="#00f1ff" d="M460.3 241.9l1.4 2.9l1.6 -.5l-1.4 -4.8z"/>
<path fill="#00ffb7" stroke="#00ffb7" d="M461.7 244.8l1.5 3.1l1.6 -2.2l-1.5 -1.4z"/>
<path fill="#00ff8c" stroke="#00ff8c" d="M463.2 247.9l1.5 .8l1.6 -1.5l-1.5 -1.5z"/>
<path fill="#00ff6c" stroke="#00ff6c" d="M464.7 248.7l1.4 2l1.6 -1.3l-1.4 -2.2z"/>
<path fill="#00ff20" stroke="#00ff20" d="M466.1 250.7l1.5 3.4l1.5 -2l-1.4 -2.7z"/>
<path fill="#2bff00" stroke="#2bff00" d="M467.6 254.1l1.4 1.2l1.6 -.7l-1.5 -2.5z"/>
<path fill="#56ff00" stroke="#56ff00" d="M469.0 255.3l1.5 1.9l1.5 -.8l-1.4 -1.8z"/>
<path fill="#8dff00" stroke="#8dff00" d="M470.5 257.2l1.4 2.6l1.6 -1.9l-1.5 -1.5z"/>
<path fill="#b8ff00" stroke="#b8ff00" d="M471.9 259.8l1.5 1.4l1.5 -1.3l-1.4 -2z"/>
<path fill="#e3ff00" stroke="#e3ff00" d="M473.4 261.2l1.5 .9l1.5 -.7l-1.5 -1.5z"/>
<path fill="#97ff00" stroke="#97ff00" d="M403.2 239.8l1.4 -.3l1.7 .6l-1.3 .9z"/>
<path fill="#61ff00" stroke="#61ff00" d="M404.6 239.5l1.4 -2.2l1.7 .7l-1.4 2.1z"/>
<path fill="#0bff00" stroke="#0bff00" d="M406.0 237.3l1.4 -.7l1.6 -1l-1.3 2.4z"/>
<path fill="#00ff41" stroke="#00ff41" d="M407.4 236.6l1.3 -3.1l1.7 .4l-1.4 1.7z"/>
<path fill="#00ff97" stroke="#00ff97" d="M408.7 233.5l1.4 -2l1.7 1.1l-1.4 1.3z"/>
<path fill="#00ffe2" stroke="#00ffe2" d="M410.1 231.5l1.4 -1.6l1.7 .4l-1.4 2.3z"/>
<path fill="#00d0ff" stroke="#00d0ff" d="M411.5 229.9l1.4 -1.4l1.7 -.3l-1.4 2.1z"/>
<path fill="#0084ff" stroke="#0084ff" d="M412.9 228.5l1.4 -1.3l1.7 -.3l-1.4 1.3z"/>
<path fill="#004eff" stroke="#004eff" d="M414.3 227.2l1.5 -1.4l1.6 -.7l-1.4 1.8z"/>
<path fill="#000dff" stroke="#000dff" d="M415.8 225.8l1.4 -1.2l1.7 -.3l-1.5 .8z"/>
<path fill="#2a00ff" stroke="#2a00ff" d="M417.2 224.6l1.4 -1.1l1.7 -1l-1.4 1.8z"/>
<path fill="#5500ff" stroke="#5500ff" d="M418.6 223.5l1.5 -.4l1.7 -.7l-1.5 .1z"/>
<path fill="#6000ff" stroke="#6000ff" d="M420.1 223.1l1.5 .4l1.6 -.9l-1.4 -.2z"/>
<path fill="#6b00ff" stroke="#6b00ff" d="M421.6 223.5l1.4 .7l1.7 -1.7l-1.5 .1z"/>
<path fill="#7600ff" stroke="#7600ff" d="M423.0 224.2l1.5 -1.1l1.6 -.4l-1.4 -.2zM424.5 223.1l1.5 1.5l1.6 -1.2l-1.5 -.7z"/>
<path fill="#6b00ff" stroke="#6b00ff" d="M426.0 224.6l1.5 1.2l1.6 -2.5l-1.5 .1z"/>
<path fill="#7600ff" stroke="#7600ff" d="M427.5 225.8l1.4 -1.4l1.7 -.5l-1.5 -.6z"/>
<path fill="#8100ff" stroke="#8100ff" d="M428.9 224.4l1.5 .6l1.6 -.6l-1.4 -.5zM430.4 225.0l1.5 .7l1.6 -.7l-1.5 -.6z"/>
<path fill="#7600ff" stroke="#7600ff" d="M431.9 225.7l1.5 .1l1.6 .1l-1.5 -.9z"/>
<path fill="#8100ff" stroke="#8100ff" d="M433.4 225.8l1.5 .7l1.6 -.8l-1.5 .2z"/>
<path fill="#7600ff" stroke="#7600ff" d="M434.9 226.5l1.4 1l1.7 -1.3l-1.5 -.5zM436.3 227.5l1.5 0l1.7 -.5l-1.5 -.8zM437.8 227.5l1.5 1l1.7 -2l-1.5 .5zM439.3 228.5l1.5 .2l1.6 -1.2l-1.4 -1z"/>
<path fill="#6b00ff" stroke="#6b00ff" d="M440.8 228.7l1.5 .5l1.6 -.8l-1.5 -.9zM442.3 229.2l1.5 .1l1.6 -.6l-1.5 -.3z"/>
<path fill="#7600ff" stroke="#7600ff" d="M443.8 229.3l1.5 .1l1.6 -.4l-1.5 -.3zM445.3 229.4l1.5 1.3l1.6 -1.2l-1.5 -.5z"/>
<path fill="#6b00ff" stroke="#6b00ff" d="M446.8 230.7l1.5 0l1.6 -.3l-1.5 -.9z"/>
<path fill="#6000ff" stroke="#6000ff" d="M448.3 230.7l1.5 1.7l1.6 -1.9l-1.5 -.1z"/>
<path fill="#5500ff" stroke="#5500ff" d="M449.8 232.4l1.5 .3l1.6 -.6l-1.5 -1.6z"/>
<path fill="#3f00ff" stroke="#3f00ff" d="M451.3 232.7l1.5 1l1.6 -.2l-1.5 -1.4z"/>
<path fill="#1f00ff" stroke="#1f00ff" d="M452.8 233.7l1.5 1.7l1.6 -.2l-1.5 -1.7z"/>
<path fill="#0018ff" stroke="#0018ff" d="M454.3 235.4l1.5 2.1l1.6 .4l-1.5 -2.7z"/>
<path fill="#0059ff" stroke="#0059ff" d="M455.8 237.5l1.5 2.1l1.5 0l-1.4 -1.7z"/>
<path fill="#009aff" stroke="#009aff" d="M457.3 239.6l1.4 3.4l1.6 -1.1l-1.5 -2.3z"/>
<path fill="#00dbff" stroke="#00dbff" d="M458.7 243.0l1.5 1.7l1.5 .1l-1.4 -2.9z"/>
<path fill="#00ffd7" stroke="#00ffd7" d="M460.2 244.7l1.4 3l1.6 .2l-1.5 -3.1z"/>
<path fill="#00ffa1" stroke="#00ffa1" d="M461.6 247.7l1.5 1.1l1.6 -.1l-1.5 -.8z"/>
<path fill="#00ff81" stroke="#00ff81" d="M463.1 248.8l1.5 1.9l1.5 0l-1.4 -2z"/>
<path fill="#00ff36" stroke="#00ff36" d="M464.6 250.7l1.5 2.3l1.5 1.1l-1.5 -3.4z"/>
<path fill="#00ff00" stroke="#00ff00" d="M466.1 253.0l1.4 2.2l1.5 .1l-1.4 -1.2z"/>
<path fill="#2bff00" stroke="#2bff00" d="M467.5 255.2l1.5 1.2l1.5 .8l-1.5 -1.9z"/>
<path fill="#61ff00" stroke="#61ff00" d="M469.0 256.4l1.5 1.8l1.4 1.6l-1.4 -2.6z"/>
<path fill="#8dff00" stroke="#8dff00" d="M470.5 258.2l1.4 1.9l1.5 1.1l-1.5 -1.4z"/>
<path fill="#b8ff00" stroke="#b8ff00" d="M471.9 260.1l1.5 1.9l1.5 .1l-1.5 -.9z"/>
<path fill="#6cff00" stroke="#6cff00" d="M401.6 241.1l1.4 -.6l1.6 -1l-1.4 .3z"/>
<path fill="#36ff00" stroke="#36ff00" d="M403.0 240.5l1.3 -2.6l1.7 -.6l-1.4 2.2z"/>
<path fill="#00ff16" stroke="#00ff16" d="M404.3 237.9l1.4 -1.3l1.7 0l-1.4 .7z"/>
<path fill="#00ff61" stroke="#00ff61" d="M405.7 236.6l1.4 -1.3l1.6 -1.8l-1.3 3.1z"/>
<path fill="#00ffb7" stroke="#00ffb7" d="M407.1 235.3l1.4 -1.9l1.6 -1.9l-1.4 2z"/>
<path fill="#00fcff" stroke="#00fcff" d="M408.5 233.4l1.4 -1.5l1.6 -2l-1.4 1.6z"/>
<path fill="#00c6ff" stroke="#00c6ff" d="M409.9 231.9l1.4 -1.1l1.6 -2.3l-1.4 1.4z"/>
<path fill="#008fff" stroke="#008fff" d="M411.3 230.8l1.4 -1.1l1.6 -2.5l-1.4 1.3z"/>
<path fill="#0043ff" stroke="#0043ff" d="M412.7 229.7l1.4 -2.3l1.7 -1.6l-1.5 1.4z"/>
<path fill="#0002ff" stroke="#0002ff" d="M414.1 227.4l1.4 -1.2l1.7 -1.6l-1.4 1.2z"/>
<path fill="#2a00ff" stroke="#2a00ff" d="M415.5 226.2l1.5 .1l1.6 -2.8l-1.4 1.1z"/>
<path fill="#3f00ff" stroke="#3f00ff" d="M417.0 226.3l1.5 -.2l1.6 -3l-1.5 .4z"/>
<path fill="#5500ff" stroke="#5500ff" d="M418.5 226.1l1.4 .2l1.7 -2.8l-1.5 -.4zM419.9 226.3l1.5 -.5l1.6 -1.6l-1.4 -.7z"/>
<path fill="#6b00ff" stroke="#6b00ff" d="M421.4 225.8l1.5 .2l1.6 -2.9l-1.5 1.1zM422.9 226.0l1.4 1.3l1.7 -2.7l-1.5 -1.5z"/>
<path fill="#5500ff" stroke="#5500ff" d="M424.3 227.3l1.5 .1l1.7 -1.6l-1.5 -1.2z"/>
<path fill="#6000ff" stroke="#6000ff" d="M425.8 227.4l1.5 .5l1.6 -3.5l-1.4 1.4z"/>
<path fill="#7600ff" stroke="#7600ff" d="M427.3 227.9l1.5 .1l1.6 -3l-1.5 -.6zM428.8 228.0l1.4 .1l1.7 -2.4l-1.5 -.7zM430.2 228.1l1.5 .3l1.7 -2.6l-1.5 -.1zM431.7 228.4l1.5 1l1.7 -2.9l-1.5 -.7z"/>
<path fill="#6b00ff" stroke="#6b00ff" d="M433.2 229.4l1.5 .8l1.6 -2.7l-1.4 -1zM434.7 230.2l1.5 -.3l1.6 -2.4l-1.5 0zM436.2 229.9l1.5 .5l1.6 -1.9l-1.5 -1zM437.7 230.4l1.5 .8l1.6 -2.5l-1.5 -.2zM439.2 231.2l1.5 .2l1.6 -2.2l-1.5 -.5zM440.7 231.4l1.5 .5l1.6 -2.6l-1.5 -.1z"/>
<path fill="#7600ff" stroke="#7600ff" d="M442.2 231.9l1.5 .2l1.6 -2.7l-1.5 -.1z"/>
<path fill="#6b00ff" stroke="#6b00ff" d="M443.7 232.1l1.5 .9l1.6 -2.3l-1.5 -1.3z"/>
<path fill="#6000ff" stroke="#6000ff" d="M445.2 233.0l1.5 .4l1.6 -2.7l-1.5 0zM446.7 233.4l1.5 .6l1.6 -1.6l-1.5 -1.7z"/>
<path fill="#4a00ff" stroke="#4a00ff" d="M448.2 234.0l1.5 1.2l1.6 -2.5l-1.5 -.3z"/>
<path fill="#3f00ff" stroke="#3f00ff" d="M449.7 235.2l1.5 .8l1.6 -2.3l-1.5 -1z"/>
<path fill="#1f00ff" stroke="#1f00ff" d="M451.2 236.0l1.5 2.1l1.6 -2.7l-1.5 -1.7z"/>
<path fill="#0018ff" stroke="#0018ff" d="M452.7 238.1l1.5 1.5l1.6 -2.1l-1.5 -2.1z"/>
<path fill="#004eff" stroke="#004eff" d="M454.2 239.6l1.4 3l1.7 -3l-1.5 -2.1z"/>
<path fill="#009aff" stroke="#009aff" d="M455.6 242.6l1.5 1.8l1.6 -1.4l-1.4 -3.4z"/>
<path fill="#00d0ff" stroke="#00d0ff" d="M457.1 244.4l1.5 1.6l1.6 -1.3l-1.5 -1.7z"/>
<path fill="#00ffed" stroke="#00ffed" d="M458.6 246.0l1.5 2.9l1.5 -1.2l-1.4 -3z"/>
<path fill="#00ffb7" stroke="#00ffb7" d="M460.1 248.9l1.4 1.3l1.6 -1.4l-1.5 -1.1z"/>
<path fill="#00ff8c" stroke="#00ff8c" d="M461.5 250.2l1.5 2.1l1.6 -1.6l-1.5 -1.9z"/>
<path fill="#00ff56" stroke="#00ff56" d="M463.0 252.3l1.5 1.9l1.6 -1.2l-1.5 -2.3z"/>
<path fill="#00ff20" stroke="#00ff20" d="M464.5 254.2l1.5 1.8l1.5 -.8l-1.4 -2.2z"/>
<path fill="#0bff00" stroke="#0bff00" d="M466.0 256.0l1.4 2.6l1.6 -2.2l-1.5 -1.2z"/>
<path fill="#36ff00" stroke="#36ff00" d="M467.4 258.6l1.5 .8l1.6 -1.2l-1.5 -1.8z"/>
<path fill="#56ff00" stroke="#56ff00" d="M468.9 259.4l1.5 1.6l1.5 -.9l-1.4 -1.9z"/>
<path fill="#82ff00" stroke="#82ff00" d="M470.4 261.0l1.5 1.2l1.5 -.2l-1.5 -1.9z"/>
<path fill="#61ff00" stroke="#61ff00" d="M399.9 241.2l1.4 -.2l1.7 -.5l-1.4 .6z"/>
<path fill="#20ff00" stroke="#20ff00" d="M401.3 241.0l1.4 -1.4l1.6 -1.7l-1.3 2.6z"/>
<path fill="#00ff36" stroke="#00ff36" d="M402.7 239.6l1.3 -3.1l1.7 .1l-1.4 1.3z"/>
<path fill="#00ff76" stroke="#00ff76" d="M404.0 236.5l1.4 -.5l1.7 -.7l-1.4 1.3z"/>
<path fill="#00ffb7" stroke="#00ffb7" d="M405.4 236.0l1.4 -1.8l1.7 -.8l-1.4 1.9z"/>
<path fill="#00fff7" stroke="#00fff7" d="M406.8 234.2l1.4 -1.1l1.7 -1.2l-1.4 1.5z"/>
<path fill="#00d0ff" stroke="#00d0ff" d="M408.2 233.1l1.4 -1l1.7 -1.3l-1.4 1.1z"/>
<path fill="#008fff" stroke="#008fff" d="M409.6 232.1l1.4 -2.2l1.7 -.2l-1.4 1.1z"/>
<path fill="#004eff" stroke="#004eff" d="M411.0 229.9l1.5 -.6l1.6 -1.9l-1.4 2.3z"/>
<path fill="#0018ff" stroke="#0018ff" d="M412.5 229.3l1.4 -.9l1.6 -2.2l-1.4 1.2z"/>
<path fill="#0900ff" stroke="#0900ff" d="M413.9 228.4l1.5 .5l1.6 -2.6l-1.5 -.1z"/>
<path fill="#1f00ff" stroke="#1f00ff" d="M415.4 228.9l1.4 -1.1l1.7 -1.7l-1.5 .2z"/>
<path fill="#3400ff" stroke="#3400ff" d="M416.8 227.8l1.5 -.1l1.6 -1.4l-1.4 -.2z"/>
<path fill="#3f00ff" stroke="#3f00ff" d="M418.3 227.7l1.4 .4l1.7 -2.3l-1.5 .5z"/>
<path fill="#4a00ff" stroke="#4a00ff" d="M419.7 228.1l1.5 .5l1.7 -2.6l-1.5 -.2zM421.2 228.6l1.5 -.2l1.6 -1.1l-1.4 -1.3zM422.7 228.4l1.5 .8l1.6 -1.8l-1.5 -.1zM424.2 229.2l1.4 .2l1.7 -1.5l-1.5 -.5zM425.6 229.4l1.5 .2l1.7 -1.6l-1.5 -.1z"/>
<path fill="#5500ff" stroke="#5500ff" d="M427.1 229.6l1.5 .5l1.6 -2l-1.4 -.1zM428.6 230.1l1.5 1.4l1.6 -3.1l-1.5 -.3z"/>
<path fill="#4a00ff" stroke="#4a00ff" d="M430.1 231.5l1.5 -.3l1.6 -1.8l-1.5 -1zM431.6 231.2l1.5 .9l1.6 -1.9l-1.5 -.8z"/>
<path fill="#3f00ff" stroke="#3f00ff" d="M433.1 232.1l1.5 1l1.6 -3.2l-1.5 .3z"/>
<path fill="#4a00ff" stroke="#4a00ff" d="M434.6 233.1l1.5 -.6l1.6 -2.1l-1.5 -.5zM436.1 232.5l1.4 1.4l1.7 -2.7l-1.5 -.8z"/>
<path fill="#3f00ff" stroke="#3f00ff" d="M437.5 233.9l1.5 -.1l1.7 -2.4l-1.5 -.2zM439.0 233.8l1.5 1.4l1.7 -3.3l-1.5 -.5zM440.5 235.2l1.5 -.2l1.7 -2.9l-1.5 -.2zM442.0 235.0l1.5 .3l1.7 -2.3l-1.5 -.9zM443.5 235.3l1.5 .3l1.7 -2.2l-1.5 -.4zM445.0 235.6l1.5 .8l1.7 -2.4l-1.5 -.6z"/>
<path fill="#3400ff" stroke="#3400ff" d="M446.5 236.4l1.6 .8l1.6 -2l-1.5 -1.2z"/>
<path fill="#1f00ff" stroke="#1f00ff" d="M448.1 237.2l1.5 1.3l1.6 -2.5l-1.5 -.8z"/>
<path fill="#0002ff" stroke="#0002ff" d="M449.6 238.5l1.5 .6l1.6 -1l-1.5 -2.1z"/>
<path fill="#0023ff" stroke="#0023ff" d="M451.1 239.1l1.4 2.7l1.7 -2.2l-1.5 -1.5z"/>
<path fill="#0064ff" stroke="#0064ff" d="M452.5 241.8l1.5 1.7l1.6 -.9l-1.4 -3z"/>
<path fill="#008fff" stroke="#008fff" d="M454.0 243.5l1.5 1l1.6 -.1l-1.5 -1.8z"/>
<path fill="#00c6ff" stroke="#00c6ff" d="M455.5 244.5l1.5 3.5l1.6 -2l-1.5 -1.6z"/>
<path fill="#00ffed" stroke="#00ffed" d="M457.0 248.0l1.5 2.1l1.6 -1.2l-1.5 -2.9z"/>
<path fill="#00ffc2" stroke="#00ffc2" d="M458.5 250.1l1.5 1.4l1.5 -1.3l-1.4 -1.3z"/>
<path fill="#00ff97" stroke="#00ff97" d="M460.0 251.5l1.4 1.6l1.6 -.8l-1.5 -2.1z"/>
<path fill="#00ff61" stroke="#00ff61" d="M461.4 253.1l1.5 2.1l1.6 -1l-1.5 -1.9z"/>
<path fill="#00ff36" stroke="#00ff36" d="M462.9 255.2l1.5 1.3l1.6 -.5l-1.5 -1.8z"/>
<path fill="#00ff0b" stroke="#00ff0b" d="M464.4 256.5l1.5 1.7l1.5 .4l-1.4 -2.6z"/>
<path fill="#2bff00" stroke="#2bff00" d="M465.9 258.2l1.4 2.3l1.6 -1.1l-1.5 -.8z"/>
<path fill="#4cff00" stroke="#4cff00" d="M467.3 260.5l1.5 .8l1.6 -.3l-1.5 -1.6z"/>
<path fill="#6cff00" stroke="#6cff00" d="M468.8 261.3l1.5 2.2l1.6 -1.3l-1.5 -1.2z"/>
<path fill="#41ff00" stroke="#41ff00" d="M398.2 242.4l1.4 -1l1.7 -.4l-1.4 .2z"/>
<path fill="#16ff00" stroke="#16ff00" d="M399.6 241.4l1.4 -.3l1.7 -1.5l-1.4 1.4z"/>
<path fill="#00ff36" stroke="#00ff36" d="M401.0 241.1l1.4 -2.9l1.6 -1.7l-1.3 3.1z"/>
<path fill="#00ff81" stroke="#00ff81" d="M402.4 238.2l1.4 -.8l1.6 -1.4l-1.4 .5z"/>
<path fill="#00ffb7" stroke="#00ffb7" d="M403.8 237.4l1.3 -1.6l1.7 -1.6l-1.4 1.8z"/>
<path fill="#00fff7" stroke="#00fff7" d="M405.1 235.8l1.5 -1l1.6 -1.7l-1.4 1.1z"/>
<path fill="#00d0ff" stroke="#00d0ff" d="M406.6 234.8l1.4 -.8l1.6 -1.9l-1.4 1z"/>
<path fill="#009aff" stroke="#009aff" d="M408.0 234.0l1.4 -1.7l1.6 -2.4l-1.4 2.2z"/>
<path fill="#0059ff" stroke="#0059ff" d="M409.4 232.3l1.4 -.5l1.7 -2.5l-1.5 .6z"/>
<path fill="#0038ff" stroke="#0038ff" d="M410.8 231.8l1.5 -.6l1.6 -2.8l-1.4 .9z"/>
<path fill="#0018ff" stroke="#0018ff" d="M412.3 231.2l1.4 -1.1l1.7 -1.2l-1.5 -.5z"/>
<path fill="#0002ff" stroke="#0002ff" d="M413.7 230.1l1.5 .4l1.6 -2.7l-1.4 1.1z"/>
<path fill="#1400ff" stroke="#1400ff" d="M415.2 230.5l1.4 .4l1.7 -3.2l-1.5 .1z"/>
<path fill="#1f00ff" stroke="#1f00ff" d="M416.6 230.9l1.5 -.4l1.6 -2.4l-1.4 -.4zM418.1 230.5l1.5 .9l1.6 -2.8l-1.5 -.5z"/>
<path fill="#2a00ff" stroke="#2a00ff" d="M419.6 231.4l1.4 .1l1.7 -3.1l-1.5 .2zM421.0 231.5l1.5 .1l1.7 -2.4l-1.5 -.8z"/>
<path fill="#3400ff" stroke="#3400ff" d="M422.5 231.6l1.5 .3l1.6 -2.5l-1.4 -.2zM424.0 231.9l1.5 .3l1.6 -2.6l-1.5 -.2z"/>
<path fill="#3f00ff" stroke="#3f00ff" d="M425.5 232.2l1.5 .2l1.6 -2.3l-1.5 -.5z"/>
<path fill="#2a00ff" stroke="#2a00ff" d="M427.0 232.4l1.4 1.2l1.7 -2.1l-1.5 -1.4z"/>
<path fill="#1f00ff" stroke="#1f00ff" d="M428.4 233.6l1.5 .8l1.7 -3.2l-1.5 .3z"/>
<path fill="#2a00ff" stroke="#2a00ff" d="M429.9 234.4l1.5 -.7l1.7 -1.6l-1.5 -.9zM431.4 233.7l1.5 .6l1.7 -1.2l-1.5 -1zM432.9 234.3l1.5 1.2l1.7 -3l-1.5 .6zM434.4 235.5l1.5 0l1.6 -1.6l-1.4 -1.4z"/>
<path fill="#1f00ff" stroke="#1f00ff" d="M435.9 235.5l1.5 .9l1.6 -2.6l-1.5 .1z"/>
<path fill="#1400ff" stroke="#1400ff" d="M437.4 236.4l1.5 1l1.6 -2.2l-1.5 -1.4zM438.9 237.4l1.5 -.6l1.6 -1.8l-1.5 .2z"/>
<path fill="#1f00ff" stroke="#1f00ff" d="M440.4 236.8l1.5 .8l1.6 -2.3l-1.5 -.3zM441.9 237.6l1.5 .6l1.6 -2.6l-1.5 -.3zM443.4 238.2l1.5 -.1l1.6 -1.7l-1.5 -.8zM444.9 238.1l1.5 .7l1.7 -1.6l-1.6 -.8z"/>
<path fill="#0900ff" stroke="#0900ff" d="M446.4 238.8l1.5 2l1.7 -2.3l-1.5 -1.3z"/>
<path fill="#0023ff" stroke="#0023ff" d="M447.9 240.8l1.5 1.8l1.7 -3.5l-1.5 -.6z"/>
<path fill="#004eff" stroke="#004eff" d="M449.4 242.6l1.5 2l1.6 -2.8l-1.4 -2.7z"/>
<path fill="#0079ff" stroke="#0079ff" d="M450.9 244.6l1.5 .9l1.6 -2l-1.5 -1.7z"/>
<path fill="#009aff" stroke="#009aff" d="M452.4 245.5l1.5 2l1.6 -3l-1.5 -1z"/>
<path fill="#00d0ff" stroke="#00d0ff" d="M453.9 247.5l1.5 1.4l1.6 -.9l-1.5 -3.5z"/>
<path fill="#00fff7" stroke="#00fff7" d="M455.4 248.9l1.5 1.9l1.6 -.7l-1.5 -2.1z"/>
<path fill="#00ffc2" stroke="#00ffc2" d="M456.9 250.8l1.5 2.1l1.6 -1.4l-1.5 -1.4z"/>
<path fill="#00ff97" stroke="#00ff97" d="M458.4 252.9l1.5 1.6l1.5 -1.4l-1.4 -1.6z"/>
<path fill="#00ff6c" stroke="#00ff6c" d="M459.9 254.5l1.4 2.2l1.6 -1.5l-1.5 -2.1z"/>
<path fill="#00ff4b" stroke="#00ff4b" d="M461.3 256.7l1.5 .5l1.6 -.7l-1.5 -1.3z"/>
<path fill="#00ff20" stroke="#00ff20" d="M462.8 257.2l1.5 2.3l1.6 -1.3l-1.5 -1.7z"/>
<path fill="#0bff00" stroke="#0bff00" d="M464.3 259.5l1.5 1.1l1.5 -.1l-1.4 -2.3z"/>
<path fill="#2bff00" stroke="#2bff00" d="M465.8 260.6l1.5 2l1.5 -1.3l-1.5 -.8z"/>
<path fill="#56ff00" stroke="#56ff00" d="M467.3 262.6l1.5 1.2l1.5 -.3l-1.5 -2.2z"/>
<path fill="#20ff00" stroke="#20ff00" d="M396.5 241.6l1.4 .4l1.7 -.6l-1.4 1z"/>
<path fill="#00ff0b" stroke="#00ff0b" d="M397.9 242.0l1.4 -2l1.7 1.1l-1.4 .3z"/>
<path fill="#00ff4b" stroke="#00ff4b" d="M399.3 240.0l1.4 -1.3l1.7 -.5l-1.4 2.9z"/>
<path fill="#00ff97" stroke="#00ff97" d="M400.7 238.7l1.3 -1.6l1.8 .3l-1.4 .8z"/>
<path fill="#00ffcc" stroke="#00ffcc" d="M402.0 237.1l1.5 -.2l1.6 -1.1l-1.3 1.6z"/>
<path fill="#00fcff" stroke="#00fcff" d="M403.5 236.9l1.3 -2.1l1.8 0l-1.5 1z"/>
<path fill="#00d0ff" stroke="#00d0ff" d="M404.8 234.8l1.5 .1l1.7 -.9l-1.4 .8z"/>
<path fill="#009aff" stroke="#009aff" d="M406.3 234.9l1.4 -2l1.7 -.6l-1.4 1.7z"/>
<path fill="#0064ff" stroke="#0064ff" d="M407.7 232.9l1.4 -.4l1.7 -.7l-1.4 .5z"/>
<path fill="#0043ff" stroke="#0043ff" d="M409.1 232.5l1.5 0l1.7 -1.3l-1.5 .6z"/>
<path fill="#0023ff" stroke="#0023ff" d="M410.6 232.5l1.4 -1.6l1.7 -.8l-1.4 1.1z"/>
<path fill="#000dff" stroke="#000dff" d="M412.0 230.9l1.5 1.6l1.7 -2l-1.5 -.4zM413.5 232.5l1.5 -.2l1.6 -1.4l-1.4 -.4z"/>
<path fill="#0002ff" stroke="#0002ff" d="M415.0 232.3l1.4 .1l1.7 -1.9l-1.5 .4z"/>
<path fill="#0900ff" stroke="#0900ff" d="M416.4 232.4l1.5 .2l1.7 -1.2l-1.5 -.9zM417.9 232.6l1.5 .5l1.6 -1.6l-1.4 -.1z"/>
<path fill="#1400ff" stroke="#1400ff" d="M419.4 233.1l1.5 .1l1.6 -1.6l-1.5 -.1zM420.9 233.2l1.4 .6l1.7 -1.9l-1.5 -.3zM422.3 233.8l1.5 .6l1.7 -2.2l-1.5 -.3zM423.8 234.4l1.5 .8l1.7 -2.8l-1.5 -.2zM425.3 235.2l1.5 .2l1.6 -1.8l-1.4 -1.2z"/>
<path fill="#0900ff" stroke="#0900ff" d="M426.8 235.4l1.5 -.1l1.6 -.9l-1.5 -.8z"/>
<path fill="#1400ff" stroke="#1400ff" d="M428.3 235.3l1.5 1.3l1.6 -2.9l-1.5 .7zM429.8 236.6l1.5 -.1l1.6 -2.2l-1.5 -.6z"/>
<path fill="#0900ff" stroke="#0900ff" d="M431.3 236.5l1.5 1.4l1.6 -2.4l-1.5 -1.2zM432.8 237.9l1.5 -.2l1.6 -2.2l-1.5 0zM434.3 237.7l1.5 .9l1.6 -2.2l-1.5 -.9zM435.8 238.6l1.5 -.7l1.6 -.5l-1.5 -1zM437.3 237.9l1.5 1.8l1.6 -2.9l-1.5 .6zM438.8 239.7l1.5 -.1l1.6 -2l-1.5 -.8zM440.3 239.6l1.5 .1l1.6 -1.5l-1.5 -.6zM441.8 239.7l1.5 .5l1.6 -2.1l-1.5 .1zM443.3 240.2l1.5 .6l1.6 -2l-1.5 -.7z"/>
<path fill="#0002ff" stroke="#0002ff" d="M444.8 240.8l1.5 .8l1.6 -.8l-1.5 -2z"/>
<path fill="#002dff" stroke="#002dff" d="M446.3 241.6l1.5 1.7l1.6 -.7l-1.5 -1.8z"/>
<path fill="#0059ff" stroke="#0059ff" d="M447.8 243.3l1.5 1.4l1.6 -.1l-1.5 -2z"/>
<path fill="#0079ff" stroke="#0079ff" d="M449.3 244.7l1.5 2l1.6 -1.2l-1.5 -.9z"/>
<path fill="#00a5ff" stroke="#00a5ff" d="M450.8 246.7l1.5 1.6l1.6 -.8l-1.5 -2z"/>
<path fill="#00d0ff" stroke="#00d0ff" d="M452.3 248.3l1.5 2.4l1.6 -1.8l-1.5 -1.4z"/>
<path fill="#00fcff" stroke="#00fcff" d="M453.8 250.7l1.5 .8l1.6 -.7l-1.5 -1.9z"/>
<path fill="#00ffe2" stroke="#00ffe2" d="M455.3 251.5l1.5 1.2l1.6 .2l-1.5 -2.1z"/>
<path fill="#00ffac" stroke="#00ffac" d="M456.8 252.7l1.5 2.5l1.6 -.7l-1.5 -1.6z"/>
<path fill="#00ff76" stroke="#00ff76" d="M458.3 255.2l1.5 1.7l1.5 -.2l-1.4 -2.2z"/>
<path fill="#00ff61" stroke="#00ff61" d="M459.8 256.9l1.5 1l1.5 -.7l-1.5 -.5z"/>
<path fill="#00ff41" stroke="#00ff41" d="M461.3 257.9l1.5 1.1l1.5 .5l-1.5 -2.3z"/>
<path fill="#00ff20" stroke="#00ff20" d="M462.8 259.0l1.5 1.4l1.5 .2l-1.5 -1.1z"/>
<path fill="#0bff00" stroke="#0bff00" d="M464.3 260.4l1.4 2.6l1.6 -.4l-1.5 -2z"/>
<path fill="#36ff00" stroke="#36ff00" d="M465.7 263.0l1.5 .6l1.6 .2l-1.5 -1.2z"/>
<path fill="#00ff16" stroke="#00ff16" d="M394.8 241.3l1.4 -.3l1.7 1l-1.4 -.4z"/>
<path fill="#00ff41" stroke="#00ff41" d="M396.2 241.0l1.4 -.4l1.7 -.6l-1.4 2z"/>
<path fill="#00ff81" stroke="#00ff81" d="M397.6 240.6l1.3 -2.5l1.8 .6l-1.4 1.3z"/>
<path fill="#00ffb7" stroke="#00ffb7" d="M398.9 238.1l1.5 .4l1.6 -1.4l-1.3 1.6z"/>
<path fill="#00ffe2" stroke="#00ffe2" d="M400.4 238.5l1.3 -1.7l1.8 .1l-1.5 .2z"/>
<path fill="#00dbff" stroke="#00dbff" d="M401.7 236.8l1.4 -1.3l1.7 -.7l-1.3 2.1z"/>
<path fill="#00b0ff" stroke="#00b0ff" d="M403.1 235.5l1.5 0l1.7 -.6l-1.5 -.1z"/>
<path fill="#008fff" stroke="#008fff" d="M404.6 235.5l1.4 -.5l1.7 -2.1l-1.4 2z"/>
<path fill="#0064ff" stroke="#0064ff" d="M406.0 235.0l1.5 -.9l1.6 -1.6l-1.4 .4z"/>
<path fill="#0043ff" stroke="#0043ff" d="M407.5 234.1l1.4 -.8l1.7 -.8l-1.5 0z"/>
<path fill="#0018ff" stroke="#0018ff" d="M408.9 233.3l1.4 -.3l1.7 -2.1l-1.4 1.6z"/>
<path fill="#000dff" stroke="#000dff" d="M410.3 233.0l1.5 .5l1.7 -1l-1.5 -1.6z"/>
<path fill="#0018ff" stroke="#0018ff" d="M411.8 233.5l1.5 1l1.7 -2.2l-1.5 .2z"/>
<path fill="#000dff" stroke="#000dff" d="M413.3 234.5l1.5 .1l1.6 -2.2l-1.4 -.1z"/>
<path fill="#0002ff" stroke="#0002ff" d="M414.8 234.6l1.4 -.1l1.7 -1.9l-1.5 -.2zM416.2 234.5l1.5 1.1l1.7 -2.5l-1.5 -.5zM417.7 235.6l1.5 -.1l1.7 -2.3l-1.5 -.1z"/>
<path fill="#0900ff" stroke="#0900ff" d="M419.2 235.5l1.5 -.7l1.6 -1l-1.4 -.6zM420.7 234.8l1.5 1.9l1.6 -2.3l-1.5 -.6z"/>
<path fill="#0002ff" stroke="#0002ff" d="M422.2 236.7l1.4 -.5l1.7 -1l-1.5 -.8zM423.6 236.2l1.5 1.3l1.7 -2.1l-1.5 -.2zM425.1 237.5l1.5 .2l1.7 -2.4l-1.5 .1zM426.6 237.7l1.5 .3l1.7 -1.4l-1.5 -1.3z"/>
<path fill="#000dff" stroke="#000dff" d="M428.1 238.0l1.5 1.1l1.7 -2.6l-1.5 .1zM429.6 239.1l1.5 -.2l1.7 -1l-1.5 -1.4z"/>
<path fill="#0002ff" stroke="#0002ff" d="M431.1 238.9l1.5 -.2l1.7 -1l-1.5 .2zM432.6 238.7l1.5 .8l1.7 -.9l-1.5 -.9zM434.1 239.5l1.5 .5l1.7 -2.1l-1.5 .7zM435.6 240.0l1.5 1.2l1.7 -1.5l-1.5 -1.8z"/>
<path fill="#000dff" stroke="#000dff" d="M437.1 241.2l1.5 .2l1.7 -1.8l-1.5 .1z"/>
<path fill="#0002ff" stroke="#0002ff" d="M438.6 241.4l1.5 .4l1.7 -2.1l-1.5 -.1zM440.1 241.8l1.5 .3l1.7 -1.9l-1.5 -.5zM441.6 242.1l1.5 .3l1.7 -1.6l-1.5 -.6z"/>
<path fill="#0018ff" stroke="#0018ff" d="M443.1 242.4l1.5 1.9l1.7 -2.7l-1.5 -.8z"/>
<path fill="#002dff" stroke="#002dff" d="M444.6 244.3l1.6 0l1.6 -1l-1.5 -1.7z"/>
<path fill="#0043ff" stroke="#0043ff" d="M446.2 244.3l1.5 2.3l1.6 -1.9l-1.5 -1.4z"/>
<path fill="#0079ff" stroke="#0079ff" d="M447.7 246.6l1.5 1.5l1.6 -1.4l-1.5 -2z"/>
<path fill="#00a5ff" stroke="#00a5ff" d="M449.2 248.1l1.5 1.9l1.6 -1.7l-1.5 -1.6z"/>
<path fill="#00d0ff" stroke="#00d0ff" d="M450.7 250.0l1.5 1.1l1.6 -.4l-1.5 -2.4z"/>
<path fill="#00f1ff" stroke="#00f1ff" d="M452.2 251.1l1.5 1.6l1.6 -1.2l-1.5 -.8z"/>
<path fill="#00ffed" stroke="#00ffed" d="M453.7 252.7l1.5 1.9l1.6 -1.9l-1.5 -1.2z"/>
<path fill="#00ffc2" stroke="#00ffc2" d="M455.2 254.6l1.5 1.1l1.6 -.5l-1.5 -2.5z"/>
<path fill="#00ffa1" stroke="#00ffa1" d="M456.7 255.7l1.5 1.3l1.6 -.1l-1.5 -1.7z"/>
<path fill="#00ff81" stroke="#00ff81" d="M458.2 257.0l1.5 1.7l1.6 -.8l-1.5 -1z"/>
<path fill="#00ff61" stroke="#00ff61" d="M459.7 258.7l1.5 .9l1.6 -.6l-1.5 -1.1z"/>
<path fill="#00ff41" stroke="#00ff41" d="M461.2 259.6l1.5 2.1l1.6 -1.3l-1.5 -1.4z"/>
<path fill="#00ff20" stroke="#00ff20" d="M462.7 261.7l1.5 .5l1.5 .8l-1.4 -2.6z"/>
<path fill="#00ff00" stroke="#00ff00" d="M464.2 262.2l1.5 1.8l1.5 -.4l-1.5 -.6z"/>
<path fill="#00ff4b" stroke="#00ff4b" d="M393.0 242.2l1.4 -.7l1.8 -.5l-1.4 .3z"/>
<path fill="#00ff6c" stroke="#00ff6c" d="M394.4 241.5l1.5 -.4l1.7 -.5l-1.4 .4z"/>
<path fill="#00ff97" stroke="#00ff97" d="M395.9 241.1l1.4 -.7l1.6 -2.3l-1.3 2.5z"/>
<path fill="#00ffcc" stroke="#00ffcc" d="M397.3 240.4l1.3 -2l1.8 .1l-1.5 -.4z"/>
<path fill="#00fff7" stroke="#00fff7" d="M398.6 238.4l1.5 .5l1.6 -2.1l-1.3 1.7z"/>
<path fill="#00d0ff" stroke="#00d0ff" d="M400.1 238.9l1.4 -1.8l1.6 -1.6l-1.4 1.3z"/>
<path fill="#00b0ff" stroke="#00b0ff" d="M401.5 237.1l1.4 0l1.7 -1.6l-1.5 0z"/>
<path fill="#009aff" stroke="#009aff" d="M402.9 237.1l1.5 0l1.6 -2.1l-1.4 .5z"/>
<path fill="#006fff" stroke="#006fff" d="M404.4 237.1l1.4 -1.6l1.7 -1.4l-1.5 .9z"/>
<path fill="#004eff" stroke="#004eff" d="M405.8 235.5l1.4 .5l1.7 -2.7l-1.4 .8z"/>
<path fill="#0038ff" stroke="#0038ff" d="M407.2 236.0l1.5 .4l1.6 -3.4l-1.4 .3z"/>
<path fill="#002dff" stroke="#002dff" d="M408.7 236.4l1.5 -.2l1.6 -2.7l-1.5 -.5z"/>
<path fill="#0023ff" stroke="#0023ff" d="M410.2 236.2l1.4 -.3l1.7 -1.4l-1.5 -1zM411.6 235.9l1.5 .6l1.7 -1.9l-1.5 -.1zM413.1 236.5l1.5 .3l1.6 -2.3l-1.4 .1z"/>
<path fill="#0018ff" stroke="#0018ff" d="M414.6 236.8l1.4 0l1.7 -1.2l-1.5 -1.1zM416.0 236.8l1.5 1.1l1.7 -2.4l-1.5 .1zM417.5 237.9l1.5 .3l1.7 -3.4l-1.5 .7zM419.0 238.2l1.5 .7l1.7 -2.2l-1.5 -1.9z"/>
<path fill="#0023ff" stroke="#0023ff" d="M420.5 238.9l1.5 1l1.6 -3.7l-1.4 .5zM422.0 239.9l1.5 -.1l1.6 -2.3l-1.5 -1.3z"/>
<path fill="#0018ff" stroke="#0018ff" d="M423.5 239.8l1.5 -.4l1.6 -1.7l-1.5 -.2z"/>
<path fill="#0023ff" stroke="#0023ff" d="M425.0 239.4l1.5 1.9l1.6 -3.3l-1.5 -.3zM426.5 241.3l1.4 -.9l1.7 -1.3l-1.5 -1.1z"/>
<path fill="#0018ff" stroke="#0018ff" d="M427.9 240.4l1.5 .9l1.7 -2.4l-1.5 .2zM429.4 241.3l1.5 1l1.7 -3.6l-1.5 .2zM430.9 242.3l1.5 0l1.7 -2.8l-1.5 -.8z"/>
<path fill="#000dff" stroke="#000dff" d="M432.4 242.3l1.5 -.2l1.7 -2.1l-1.5 -.5z"/>
<path fill="#0018ff" stroke="#0018ff" d="M433.9 242.1l1.6 1.6l1.6 -2.5l-1.5 -1.2z"/>
<path fill="#0023ff" stroke="#0023ff" d="M435.5 243.7l1.5 -.1l1.6 -2.2l-1.5 -.2zM437.0 243.6l1.5 .4l1.6 -2.2l-1.5 -.4zM438.5 244.0l1.5 1.4l1.6 -3.3l-1.5 -.3zM440.0 245.4l1.5 -.1l1.6 -2.9l-1.5 -.3z"/>
<path fill="#002dff" stroke="#002dff" d="M441.5 245.3l1.5 .9l1.6 -1.9l-1.5 -1.9z"/>
<path fill="#0043ff" stroke="#0043ff" d="M443.0 246.2l1.5 1.4l1.7 -3.3l-1.6 0z"/>
<path fill="#0059ff" stroke="#0059ff" d="M444.5 247.6l1.5 .8l1.7 -1.8l-1.5 -2.3z"/>
<path fill="#0084ff" stroke="#0084ff" d="M446.0 248.4l1.5 1.9l1.7 -2.2l-1.5 -1.5z"/>
<path fill="#00b0ff" stroke="#00b0ff" d="M447.5 250.3l1.5 1.4l1.7 -1.7l-1.5 -1.9z"/>
<path fill="#00d0ff" stroke="#00d0ff" d="M449.0 251.7l1.5 1.7l1.7 -2.3l-1.5 -1.1z"/>
<path fill="#00f1ff" stroke="#00f1ff" d="M450.5 253.4l1.5 .7l1.7 -1.4l-1.5 -1.6z"/>
<path fill="#00ffed" stroke="#00ffed" d="M452.0 254.1l1.5 1.8l1.7 -1.3l-1.5 -1.9z"/>
<path fill="#00ffcc" stroke="#00ffcc" d="M453.5 255.9l1.6 1.4l1.6 -1.6l-1.5 -1.1z"/>
<path fill="#00ffac" stroke="#00ffac" d="M455.1 257.3l1.5 1.6l1.6 -1.9l-1.5 -1.3z"/>
<path fill="#00ff8c" stroke="#00ff8c" d="M456.6 258.9l1.5 1.5l1.6 -1.7l-1.5 -1.7z"/>
<path fill="#00ff6c" stroke="#00ff6c" d="M458.1 260.4l1.5 1l1.6 -1.8l-1.5 -.9z"/>
<path fill="#00ff56" stroke="#00ff56" d="M459.6 261.4l1.5 .6l1.6 -.3l-1.5 -2.1z"/>
<path fill="#00ff36" stroke="#00ff36" d="M461.1 262.0l1.5 2l1.6 -1.8l-1.5 -.5z"/>
<path fill="#00ff20" stroke="#00ff20" d="M462.6 264.0l1.5 .2l1.6 -.2l-1.5 -1.8z"/>
<path fill="#00ff61" stroke="#00ff61" d="M391.3 242.5l1.4 -.4l1.7 -.6l-1.4 .7z"/>
<path fill="#00ff81" stroke="#00ff81" d="M392.7 242.1l1.4 -.6l1.8 -.4l-1.5 .4z"/>
<path fill="#00ffac" stroke="#00ffac" d="M394.1 241.5l1.4 -.8l1.8 -.3l-1.4 .7z"/>
<path fill="#00ffd7" stroke="#00ffd7" d="M395.5 240.7l1.4 -.8l1.7 -1.5l-1.3 2z"/>
<path fill="#00fff7" stroke="#00fff7" d="M396.9 239.9l1.5 1.1l1.7 -2.1l-1.5 -.5z"/>
<path fill="#00f1ff" stroke="#00f1ff" d="M398.4 241.0l1.4 -1.5l1.7 -2.4l-1.4 1.8z"/>
<path fill="#00bbff" stroke="#00bbff" d="M399.8 239.5l1.4 -1.2l1.7 -1.2l-1.4 0z"/>
<path fill="#009aff" stroke="#009aff" d="M401.2 238.3l1.5 -.1l1.7 -1.1l-1.5 0z"/>
<path fill="#0084ff" stroke="#0084ff" d="M402.7 238.2l1.4 .2l1.7 -2.9l-1.4 1.6z"/>
<path fill="#006fff" stroke="#006fff" d="M404.1 238.4l1.5 -.2l1.6 -2.2l-1.4 -.5z"/>
<path fill="#0059ff" stroke="#0059ff" d="M405.6 238.2l1.4 -.5l1.7 -1.3l-1.5 -.4z"/>
<path fill="#004eff" stroke="#004eff" d="M407.0 237.7l1.5 .8l1.7 -2.3l-1.5 .2zM408.5 238.5l1.5 .5l1.6 -3.1l-1.4 .3z"/>
<path fill="#0038ff" stroke="#0038ff" d="M410.0 239.0l1.4 -.7l1.7 -1.8l-1.5 -.6zM411.4 238.3l1.5 1.3l1.7 -2.8l-1.5 -.3zM412.9 239.6l1.5 0l1.6 -2.8l-1.4 0zM414.4 239.6l1.5 .7l1.6 -2.4l-1.5 -1.1z"/>
<path fill="#0043ff" stroke="#0043ff" d="M415.9 240.3l1.4 .4l1.7 -2.5l-1.5 -.3zM417.3 240.7l1.5 .9l1.7 -2.7l-1.5 -.7z"/>
<path fill="#004eff" stroke="#004eff" d="M418.8 241.6l1.5 .4l1.7 -2.1l-1.5 -1z"/>
<path fill="#0043ff" stroke="#0043ff" d="M420.3 242.0l1.5 -.5l1.7 -1.7l-1.5 .1z"/>
<path fill="#0038ff" stroke="#0038ff" d="M421.8 241.5l1.5 1.5l1.7 -3.6l-1.5 .4z"/>
<path fill="#0043ff" stroke="#0043ff" d="M423.3 243.0l1.5 -.2l1.7 -1.5l-1.5 -1.9zM424.8 242.8l1.5 1.1l1.6 -3.5l-1.4 .9zM426.3 243.9l1.5 0l1.6 -2.6l-1.5 -.9zM427.8 243.9l1.5 .4l1.6 -2l-1.5 -1z"/>
<path fill="#004eff" stroke="#004eff" d="M429.3 244.3l1.5 1.1l1.6 -3.1l-1.5 0z"/>
<path fill="#0038ff" stroke="#0038ff" d="M430.8 245.4l1.5 -.6l1.6 -2.7l-1.5 .2zM432.3 244.8l1.5 1.1l1.7 -2.2l-1.6 -1.6z"/>
<path fill="#0043ff" stroke="#0043ff" d="M433.8 245.9l1.5 -.1l1.7 -2.2l-1.5 .1zM435.3 245.8l1.5 1.4l1.7 -3.2l-1.5 -.4z"/>
<path fill="#004eff" stroke="#004eff" d="M436.8 247.2l1.5 -.2l1.7 -1.6l-1.5 -1.4z"/>
<path fill="#0043ff" stroke="#0043ff" d="M438.3 247.0l1.5 -.1l1.7 -1.6l-1.5 .1z"/>
<path fill="#004eff" stroke="#004eff" d="M439.8 246.9l1.5 1.7l1.7 -2.4l-1.5 -.9z"/>
<path fill="#0064ff" stroke="#0064ff" d="M441.3 248.6l1.6 1.3l1.6 -2.3l-1.5 -1.4z"/>
<path fill="#0079ff" stroke="#0079ff" d="M442.9 249.9l1.5 .7l1.6 -2.2l-1.5 -.8z"/>
<path fill="#009aff" stroke="#009aff" d="M444.4 250.6l1.5 1.3l1.6 -1.6l-1.5 -1.9z"/>
<path fill="#00bbff" stroke="#00bbff" d="M445.9 251.9l1.5 1.5l1.6 -1.7l-1.5 -1.4z"/>
<path fill="#00dbff" stroke="#00dbff" d="M447.4 253.4l1.5 1.2l1.6 -1.2l-1.5 -1.7z"/>
<path fill="#00fcff" stroke="#00fcff" d="M448.9 254.6l1.5 1.5l1.6 -2l-1.5 -.7z"/>
<path fill="#00ffed" stroke="#00ffed" d="M450.4 256.1l1.5 .8l1.6 -1l-1.5 -1.8z"/>
<path fill="#00ffcc" stroke="#00ffcc" d="M451.9 256.9l1.5 1.6l1.7 -1.2l-1.6 -1.4z"/>
<path fill="#00ffac" stroke="#00ffac" d="M453.4 258.5l1.5 1.5l1.7 -1.1l-1.5 -1.6z"/>
<path fill="#00ff8c" stroke="#00ff8c" d="M454.9 260.0l1.6 .5l1.6 -.1l-1.5 -1.5z"/>
<path fill="#00ff76" stroke="#00ff76" d="M456.5 260.5l1.5 1.6l1.6 -.7l-1.5 -1z"/>
<path fill="#00ff6c" stroke="#00ff6c" d="M458.0 262.1l1.5 0l1.6 -.1l-1.5 -.6z"/>
<path fill="#00ff56" stroke="#00ff56" d="M459.5 262.1l1.5 2.4l1.6 -.5l-1.5 -2z"/>
<path fill="#00ff2b" stroke="#00ff2b" d="M461.0 264.5l1.5 1.3l1.6 -1.6l-1.5 -.2z"/>
<path fill="#00ffa1" stroke="#00ffa1" d="M389.5 240.9l1.4 -.1l1.8 1.3l-1.4 .4z"/>
<path fill="#00ffb7" stroke="#00ffb7" d="M390.9 240.8l1.5 .3l1.7 .4l-1.4 .6z"/>
<path fill="#00ffd7" stroke="#00ffd7" d="M392.4 241.1l1.4 -.8l1.7 .4l-1.4 .8z"/>
<path fill="#00fcff" stroke="#00fcff" d="M393.8 240.3l1.3 -1.3l1.8 .9l-1.4 .8z"/>
<path fill="#00e6ff" stroke="#00e6ff" d="M395.1 239.0l1.5 .9l1.8 1.1l-1.5 -1.1z"/>
<path fill="#00d0ff" stroke="#00d0ff" d="M396.6 239.9l1.4 -1.1l1.8 .7l-1.4 1.5z"/>
<path fill="#00a5ff" stroke="#00a5ff" d="M398.0 238.8l1.5 .3l1.7 -.8l-1.4 1.2z"/>
<path fill="#0084ff" stroke="#0084ff" d="M399.5 239.1l1.4 -.8l1.8 -.1l-1.5 .1z"/>
<path fill="#0079ff" stroke="#0079ff" d="M400.9 238.3l1.5 .6l1.7 -.5l-1.4 -.2z"/>
<path fill="#006fff" stroke="#006fff" d="M402.4 238.9l1.4 -.3l1.8 -.4l-1.5 .2z"/>
<path fill="#0064ff" stroke="#0064ff" d="M403.8 238.6l1.5 1.2l1.7 -2.1l-1.4 .5z"/>
<path fill="#0059ff" stroke="#0059ff" d="M405.3 239.8l1.5 -.6l1.7 -.7l-1.5 -.8z"/>
<path fill="#004eff" stroke="#004eff" d="M406.8 239.2l1.4 -.2l1.8 0l-1.5 -.5zM408.2 239.0l1.5 1.6l1.7 -2.3l-1.4 .7z"/>
<path fill="#0043ff" stroke="#0043ff" d="M409.7 240.6l1.5 -.8l1.7 -.2l-1.5 -1.3zM411.2 239.8l1.5 1.2l1.7 -1.4l-1.5 0z"/>
<path fill="#004eff" stroke="#004eff" d="M412.7 241.0l1.5 .1l1.7 -.8l-1.5 -.7zM414.2 241.1l1.5 1.7l1.6 -2.1l-1.4 -.4zM415.7 242.8l1.4 -1.3l1.7 .1l-1.5 -.9zM417.1 241.5l1.5 1.3l1.7 -.8l-1.5 -.4zM418.6 242.8l1.5 .3l1.7 -1.6l-1.5 .5zM420.1 243.1l1.5 .8l1.7 -.9l-1.5 -1.5zM421.6 243.9l1.5 .3l1.7 -1.4l-1.5 .2zM423.1 244.2l1.5 -.5l1.7 .2l-1.5 -1.1zM424.6 243.7l1.5 1.2l1.7 -1l-1.5 0z"/>
<path fill="#0043ff" stroke="#0043ff" d="M426.1 244.9l1.5 -.2l1.7 -.4l-1.5 -.4z"/>
<path fill="#004eff" stroke="#004eff" d="M427.6 244.7l1.5 1l1.7 -.3l-1.5 -1.1zM429.1 245.7l1.5 .3l1.7 -1.2l-1.5 .6zM430.6 246.0l1.5 .9l1.7 -1l-1.5 -1.1zM432.1 246.9l1.5 .1l1.7 -1.2l-1.5 .1z"/>
<path fill="#0043ff" stroke="#0043ff" d="M433.6 247.0l1.6 -.4l1.6 .6l-1.5 -1.4zM435.2 246.6l1.5 1.3l1.6 -.9l-1.5 .2zM436.7 247.9l1.5 .7l1.6 -1.7l-1.5 .1z"/>
<path fill="#0059ff" stroke="#0059ff" d="M438.2 248.6l1.5 1.2l1.6 -1.2l-1.5 -1.7z"/>
<path fill="#006fff" stroke="#006fff" d="M439.7 249.8l1.5 .1l1.7 0l-1.6 -1.3zM441.2 249.9l1.5 .8l1.7 -.1l-1.5 -.7z"/>
<path fill="#008fff" stroke="#008fff" d="M442.7 250.7l1.5 2.5l1.7 -1.3l-1.5 -1.3z"/>
<path fill="#00bbff" stroke="#00bbff" d="M444.2 253.2l1.6 1l1.6 -.8l-1.5 -1.5z"/>
<path fill="#00c6ff" stroke="#00c6ff" d="M445.8 254.2l1.5 -.4l1.6 .8l-1.5 -1.2z"/>
<path fill="#00dbff" stroke="#00dbff" d="M447.3 253.8l1.5 1.9l1.6 .4l-1.5 -1.5z"/>
<path fill="#00f1ff" stroke="#00f1ff" d="M448.8 255.7l1.5 1.3l1.6 -.1l-1.5 -.8z"/>
<path fill="#00ffed" stroke="#00ffed" d="M450.3 257.0l1.5 .9l1.6 .6l-1.5 -1.6z"/>
<path fill="#00ffd7" stroke="#00ffd7" d="M451.8 257.9l1.6 1l1.5 1.1l-1.5 -1.5z"/>
<path fill="#00ffc2" stroke="#00ffc2" d="M453.4 258.9l1.5 1.2l1.6 .4l-1.6 -.5z"/>
<path fill="#00ffac" stroke="#00ffac" d="M454.9 260.1l1.5 1.6l1.6 .4l-1.5 -1.6z"/>
<path fill="#00ffa1" stroke="#00ffa1" d="M456.4 261.7l1.5 0l1.6 .4l-1.5 0z"/>
<path fill="#00ff8c" stroke="#00ff8c" d="M457.9 261.7l1.5 2l1.6 .8l-1.5 -2.4z"/>
<path fill="#00ff56" stroke="#00ff56" d="M459.4 263.7l1.5 1.4l1.6 .7l-1.5 -1.3z"/>
<path fill="#00ffcc" stroke="#00ffcc" d="M387.8 242.6l1.4 -.2l1.7 -1.6l-1.4 .1z"/>
<path fill="#00ffe2" stroke="#00ffe2" d="M389.2 242.4l1.4 -1l1.8 -.3l-1.5 -.3z"/>
<path fill="#00fff7" stroke="#00fff7" d="M390.6 241.4l1.4 .5l1.8 -1.6l-1.4 .8z"/>
<path fill="#00e6ff" stroke="#00e6ff" d="M392.0 241.9l1.5 -.4l1.6 -2.5l-1.3 1.3z"/>
<path fill="#00d0ff" stroke="#00d0ff" d="M393.5 241.5l1.4 0l1.7 -1.6l-1.5 -.9z"/>
<path fill="#00bbff" stroke="#00bbff" d="M394.9 241.5l1.5 -.1l1.6 -2.6l-1.4 1.1z"/>
<path fill="#00a5ff" stroke="#00a5ff" d="M396.4 241.4l1.4 -.5l1.7 -1.8l-1.5 -.3z"/>
<path fill="#0084ff" stroke="#0084ff" d="M397.8 240.9l1.4 .1l1.7 -2.7l-1.4 .8z"/>
<path fill="#0079ff" stroke="#0079ff" d="M399.2 241.0l1.5 .4l1.7 -2.5l-1.5 -.6zM400.7 241.4l1.5 .4l1.6 -3.2l-1.4 .3z"/>
<path fill="#006fff" stroke="#006fff" d="M402.2 241.8l1.4 0l1.7 -2l-1.5 -1.2z"/>
<path fill="#0064ff" stroke="#0064ff" d="M403.6 241.8l1.5 -.1l1.7 -2.5l-1.5 .6z"/>
<path fill="#0059ff" stroke="#0059ff" d="M405.1 241.7l1.5 .8l1.6 -3.5l-1.4 .2z"/>
<path fill="#0064ff" stroke="#0064ff" d="M406.6 242.5l1.5 .4l1.6 -2.3l-1.5 -1.6zM408.1 242.9l1.5 1.2l1.6 -4.3l-1.5 .8z"/>
<path fill="#0059ff" stroke="#0059ff" d="M409.6 244.1l1.4 -.8l1.7 -2.3l-1.5 -1.2z"/>
<path fill="#0064ff" stroke="#0064ff" d="M411.0 243.3l1.5 1.5l1.7 -3.7l-1.5 -.1z"/>
<path fill="#006fff" stroke="#006fff" d="M412.5 244.8l1.5 .3l1.7 -2.3l-1.5 -1.7z"/>
<path fill="#0064ff" stroke="#0064ff" d="M414.0 245.1l1.5 .1l1.6 -3.7l-1.4 1.3z"/>
<path fill="#0059ff" stroke="#0059ff" d="M415.5 245.2l1.5 .2l1.6 -2.6l-1.5 -1.3z"/>
<path fill="#0064ff" stroke="#0064ff" d="M417.0 245.4l1.5 .5l1.6 -2.8l-1.5 -.3zM418.5 245.9l1.5 .8l1.6 -2.8l-1.5 -.8zM420.0 246.7l1.5 .2l1.6 -2.7l-1.5 -.3z"/>
<path fill="#0059ff" stroke="#0059ff" d="M421.5 246.9l1.5 .6l1.6 -3.8l-1.5 .5z"/>
<path fill="#0064ff" stroke="#0064ff" d="M423.0 247.5l1.5 1l1.6 -3.6l-1.5 -1.2zM424.5 248.5l1.5 -.3l1.6 -3.5l-1.5 .2z"/>
<path fill="#0059ff" stroke="#0059ff" d="M426.0 248.2l1.5 .7l1.6 -3.2l-1.5 -1zM427.5 248.9l1.5 .1l1.6 -3l-1.5 -.3zM429.0 249.0l1.5 .7l1.6 -2.8l-1.5 -.9zM430.5 249.7l1.5 .1l1.6 -2.8l-1.5 -.1z"/>
<path fill="#004eff" stroke="#004eff" d="M432.0 249.8l1.5 .6l1.7 -3.8l-1.6 .4z"/>
<path fill="#0059ff" stroke="#0059ff" d="M433.5 250.4l1.5 .5l1.7 -3l-1.5 -1.3zM435.0 250.9l1.5 .4l1.7 -2.7l-1.5 -.7z"/>
<path fill="#0064ff" stroke="#0064ff" d="M436.5 251.3l1.5 .9l1.7 -2.4l-1.5 -1.2z"/>
<path fill="#0079ff" stroke="#0079ff" d="M438.0 252.2l1.5 1.1l1.7 -3.4l-1.5 -.1zM439.5 253.3l1.6 .2l1.6 -2.8l-1.5 -.8z"/>
<path fill="#009aff" stroke="#009aff" d="M441.1 253.5l1.5 2l1.6 -2.3l-1.5 -2.5z"/>
<path fill="#00bbff" stroke="#00bbff" d="M442.6 255.5l1.5 .6l1.7 -1.9l-1.6 -1zM444.1 256.1l1.5 .7l1.7 -3l-1.5 .4z"/>
<path fill="#00d0ff" stroke="#00d0ff" d="M445.6 256.8l1.5 1.5l1.7 -2.6l-1.5 -1.9z"/>
<path fill="#00e6ff" stroke="#00e6ff" d="M447.1 258.3l1.6 .6l1.6 -1.9l-1.5 -1.3z"/>
<path fill="#00fcff" stroke="#00fcff" d="M448.7 258.9l1.5 1.7l1.6 -2.7l-1.5 -.9z"/>
<path fill="#00ffed" stroke="#00ffed" d="M450.2 260.6l1.5 .9l1.7 -2.6l-1.6 -1z"/>
<path fill="#00ffd7" stroke="#00ffd7" d="M451.7 261.5l1.5 .5l1.7 -1.9l-1.5 -1.2z"/>
<path fill="#00ffc2" stroke="#00ffc2" d="M453.2 262.0l1.6 1l1.6 -1.3l-1.5 -1.6z"/>
<path fill="#00ffb7" stroke="#00ffb7" d="M454.8 263.0l1.5 .7l1.6 -2l-1.5 0z"/>
<path fill="#00ffa1" stroke="#00ffa1" d="M456.3 263.7l1.5 1.5l1.6 -1.5l-1.5 -2z"/>
<path fill="#00ff81" stroke="#00ff81" d="M457.8 265.2l1.5 .8l1.6 -.9l-1.5 -1.4z"/>
<path fill="#00ffe2" stroke="#00ffe2" d="M386.0 242.4l1.4 .5l1.8 -.5l-1.4 .2z"/>
<path fill="#00fff7" stroke="#00fff7" d="M387.4 242.9l1.5 -.1l1.7 -1.4l-1.4 1z"/>
<path fill="#00fcff" stroke="#00fcff" d="M388.9 242.8l1.4 .1l1.7 -1l-1.4 -.5z"/>
<path fill="#00e6ff" stroke="#00e6ff" d="M390.3 242.9l1.5 0l1.7 -1.4l-1.5 .4zM391.8 242.9l1.4 1.1l1.7 -2.5l-1.4 0z"/>
<path fill="#00d0ff" stroke="#00d0ff" d="M393.2 244.0l1.4 -1.5l1.8 -1.1l-1.5 .1z"/>
<path fill="#00b0ff" stroke="#00b0ff" d="M394.6 242.5l1.5 1l1.7 -2.6l-1.4 .5z"/>
<path fill="#00a5ff" stroke="#00a5ff" d="M396.1 243.5l1.4 -.7l1.7 -1.8l-1.4 -.1z"/>
<path fill="#009aff" stroke="#009aff" d="M397.5 242.8l1.5 .8l1.7 -2.2l-1.5 -.4zM399.0 243.6l1.5 .1l1.7 -1.9l-1.5 -.4zM400.5 243.7l1.5 .4l1.6 -2.3l-1.4 0z"/>
<path fill="#008fff" stroke="#008fff" d="M402.0 244.1l1.4 .8l1.7 -3.2l-1.5 .1zM403.4 244.9l1.5 0l1.7 -2.4l-1.5 -.8z"/>
<path fill="#0084ff" stroke="#0084ff" d="M404.9 244.9l1.5 .1l1.7 -2.1l-1.5 -.4z"/>
<path fill="#008fff" stroke="#008fff" d="M406.4 245.0l1.5 .9l1.7 -1.8l-1.5 -1.2zM407.9 245.9l1.5 .8l1.6 -3.4l-1.4 .8zM409.4 246.7l1.4 .1l1.7 -2l-1.5 -1.5zM410.8 246.8l1.5 .1l1.7 -1.8l-1.5 -.3z"/>
<path fill="#0084ff" stroke="#0084ff" d="M412.3 246.9l1.5 0l1.7 -1.7l-1.5 -.1zM413.8 246.9l1.5 .6l1.7 -2.1l-1.5 -.2zM415.3 247.5l1.5 .7l1.7 -2.3l-1.5 -.5z"/>
<path fill="#008fff" stroke="#008fff" d="M416.8 248.2l1.5 1l1.7 -2.5l-1.5 -.8zM418.3 249.2l1.5 -.4l1.7 -1.9l-1.5 -.2z"/>
<path fill="#0084ff" stroke="#0084ff" d="M419.8 248.8l1.5 .9l1.7 -2.2l-1.5 -.6z"/>
<path fill="#008fff" stroke="#008fff" d="M421.3 249.7l1.5 .5l1.7 -1.7l-1.5 -1zM422.8 250.2l1.5 0l1.7 -2l-1.5 .3z"/>
<path fill="#0084ff" stroke="#0084ff" d="M424.3 250.2l1.5 .6l1.7 -1.9l-1.5 -.7zM425.8 250.8l1.5 .6l1.7 -2.4l-1.5 -.1z"/>
<path fill="#008fff" stroke="#008fff" d="M427.3 251.4l1.5 1.2l1.7 -2.9l-1.5 -.7zM428.8 252.6l1.5 .3l1.7 -3.1l-1.5 -.1zM430.3 252.9l1.5 1l1.7 -3.5l-1.5 -.6zM431.8 253.9l1.5 -.3l1.7 -2.7l-1.5 -.5zM433.3 253.6l1.5 .7l1.7 -3l-1.5 -.4zM434.8 254.3l1.6 .2l1.6 -2.3l-1.5 -.9z"/>
<path fill="#009aff" stroke="#009aff" d="M436.4 254.5l1.5 1l1.6 -2.2l-1.5 -1.1z"/>
<path fill="#00a5ff" stroke="#00a5ff" d="M437.9 255.5l1.5 1l1.7 -3l-1.6 -.2z"/>
<path fill="#00b0ff" stroke="#00b0ff" d="M439.4 256.5l1.5 -.2l1.7 -.8l-1.5 -2z"/>
<path fill="#00c6ff" stroke="#00c6ff" d="M440.9 256.3l1.5 2.3l1.7 -2.5l-1.5 -.6z"/>
<path fill="#00e6ff" stroke="#00e6ff" d="M442.4 258.6l1.6 1l1.6 -2.8l-1.5 -.7z"/>
<path fill="#00f1ff" stroke="#00f1ff" d="M444.0 259.6l1.5 .6l1.6 -1.9l-1.5 -1.5z"/>
<path fill="#00fcff" stroke="#00fcff" d="M445.5 260.2l1.5 .4l1.7 -1.7l-1.6 -.6z"/>
<path fill="#00ffed" stroke="#00ffed" d="M447.0 260.6l1.5 1.3l1.7 -1.3l-1.5 -1.7z"/>
<path fill="#00ffd7" stroke="#00ffd7" d="M448.5 261.9l1.6 1l1.6 -1.4l-1.5 -.9z"/>
<path fill="#00ffc2" stroke="#00ffc2" d="M450.1 262.9l1.5 1.2l1.6 -2.1l-1.5 -.5zM451.6 264.1l1.5 -.3l1.7 -.8l-1.6 -1z"/>
<path fill="#00ffb7" stroke="#00ffb7" d="M453.1 263.8l1.5 1.8l1.7 -1.9l-1.5 -.7z"/>
<path fill="#00ff97" stroke="#00ff97" d="M454.6 265.6l1.6 1.1l1.6 -1.5l-1.5 -1.5z"/>
<path fill="#00ff8c" stroke="#00ff8c" d="M456.2 266.7l1.5 .4l1.6 -1.1l-1.5 -.8z"/>
<path fill="#00fcff" stroke="#00fcff" d="M384.2 242.9l1.5 .4l1.7 -.4l-1.4 -.5z"/>
<path fill="#00f1ff" stroke="#00f1ff" d="M385.7 243.3l1.4 -.4l1.8 -.1l-1.5 .1z"/>
<path fill="#00dbff" stroke="#00dbff" d="M387.1 242.9l1.4 0l1.8 0l-1.4 -.1zM388.5 242.9l1.5 .9l1.8 -.9l-1.5 0zM390.0 243.8l1.5 0l1.7 .2l-1.4 -1.1z"/>
<path fill="#00c6ff" stroke="#00c6ff" d="M391.5 243.8l1.4 -.7l1.7 -.6l-1.4 1.5z"/>
<path fill="#00b0ff" stroke="#00b0ff" d="M392.9 243.1l1.4 .5l1.8 -.1l-1.5 -1z"/>
<path fill="#00a5ff" stroke="#00a5ff" d="M394.3 243.6l1.5 .4l1.7 -1.2l-1.4 .7z"/>
<path fill="#009aff" stroke="#009aff" d="M395.8 244.0l1.5 .1l1.7 -.5l-1.5 -.8zM397.3 244.1l1.5 .6l1.7 -1l-1.5 -.1z"/>
<path fill="#008fff" stroke="#008fff" d="M398.8 244.7l1.4 -.3l1.8 -.3l-1.5 -.4zM400.2 244.4l1.5 .1l1.7 .4l-1.4 -.8z"/>
<path fill="#0084ff" stroke="#0084ff" d="M401.7 244.5l1.4 .2l1.8 .2l-1.5 0zM403.1 244.7l1.5 1l1.8 -.7l-1.5 -.1zM404.6 245.7l1.5 .5l1.8 -.3l-1.5 -.9z"/>
<path fill="#008fff" stroke="#008fff" d="M406.1 246.2l1.5 .1l1.8 .4l-1.5 -.8z"/>
<path fill="#0084ff" stroke="#0084ff" d="M407.6 246.3l1.5 .3l1.7 .2l-1.4 -.1zM409.1 246.6l1.5 .6l1.7 -.3l-1.5 -.1zM410.6 247.2l1.5 .5l1.7 -.8l-1.5 0zM412.1 247.7l1.5 1.3l1.7 -1.5l-1.5 -.6z"/>
<path fill="#008fff" stroke="#008fff" d="M413.6 249.0l1.5 .9l1.7 -1.7l-1.5 -.7zM415.1 249.9l1.5 -.7l1.7 0l-1.5 -1zM416.6 249.2l1.5 .9l1.7 -1.3l-1.5 .4zM418.1 250.1l1.5 .4l1.7 -.8l-1.5 -.9zM419.6 250.5l1.5 .9l1.7 -1.2l-1.5 -.5zM421.1 251.4l1.5 .6l1.7 -1.8l-1.5 0z"/>
<path fill="#0084ff" stroke="#0084ff" d="M422.6 252.0l1.5 -.7l1.7 -.5l-1.5 -.6zM424.1 251.3l1.5 .9l1.7 -.8l-1.5 -.6z"/>
<path fill="#009aff" stroke="#009aff" d="M425.6 252.2l1.5 1.2l1.7 -.8l-1.5 -1.2zM427.1 253.4l1.5 -.1l1.7 -.4l-1.5 -.3zM428.6 253.3l1.5 .6l1.7 0l-1.5 -1zM430.1 253.9l1.6 .4l1.6 -.7l-1.5 .3z"/>
<path fill="#008fff" stroke="#008fff" d="M431.7 254.3l1.5 -.1l1.6 .1l-1.5 -.7z"/>
<path fill="#009aff" stroke="#009aff" d="M433.2 254.2l1.5 1.6l1.7 -1.3l-1.6 -.2z"/>
<path fill="#00a5ff" stroke="#00a5ff" d="M434.7 255.8l1.5 1.1l1.7 -1.4l-1.5 -1z"/>
<path fill="#00b0ff" stroke="#00b0ff" d="M436.2 256.9l1.5 .1l1.7 -.5l-1.5 -1zM437.7 257.0l1.6 1l1.6 -1.7l-1.5 .2z"/>
<path fill="#00c6ff" stroke="#00c6ff" d="M439.3 258.0l1.5 .3l1.6 .3l-1.5 -2.3z"/>
<path fill="#00dbff" stroke="#00dbff" d="M440.8 258.3l1.5 .9l1.7 .4l-1.6 -1z"/>
<path fill="#00e6ff" stroke="#00e6ff" d="M442.3 259.2l1.5 .8l1.7 .2l-1.5 -.6z"/>
<path fill="#00f1ff" stroke="#00f1ff" d="M443.8 260.0l1.6 1.2l1.6 -.6l-1.5 -.4z"/>
<path fill="#00fcff" stroke="#00fcff" d="M445.4 261.2l1.5 .3l1.6 .4l-1.5 -1.3z"/>
<path fill="#00fff7" stroke="#00fff7" d="M446.9 261.5l1.5 1.2l1.7 .2l-1.6 -1z"/>
<path fill="#00ffe2" stroke="#00ffe2" d="M448.4 262.7l1.6 .4l1.6 1l-1.5 -1.2zM450.0 263.1l1.5 1.1l1.6 -.4l-1.5 .3z"/>
<path fill="#00ffcc" stroke="#00ffcc" d="M451.5 264.2l1.5 1.1l1.6 .3l-1.5 -1.8z"/>
<path fill="#00ffc2" stroke="#00ffc2" d="M453.0 265.3l1.6 .1l1.6 1.3l-1.6 -1.1z"/>
<path fill="#00ffb7" stroke="#00ffb7" d="M454.6 265.4l1.5 1.3l1.6 .4l-1.5 -.4z"/>
<path fill="#00fcff" stroke="#00fcff" d="M382.5 245.3l1.5 .4l1.7 -2.4l-1.5 -.4z"/>
<path fill="#00f1ff" stroke="#00f1ff" d="M384.0 245.7l1.4 -.7l1.7 -2.1l-1.4 .4z"/>
<path fill="#00dbff" stroke="#00dbff" d="M385.4 245.0l1.5 .7l1.6 -2.8l-1.4 0zM386.9 245.7l1.4 .5l1.7 -2.4l-1.5 -.9zM388.3 246.2l1.5 .2l1.7 -2.6l-1.5 0z"/>
<path fill="#00c6ff" stroke="#00c6ff" d="M389.8 246.4l1.4 -.7l1.7 -2.6l-1.4 .7z"/>
<path fill="#00b0ff" stroke="#00b0ff" d="M391.2 245.7l1.5 1.1l1.6 -3.2l-1.4 -.5z"/>
<path fill="#00bbff" stroke="#00bbff" d="M392.7 246.8l1.4 .2l1.7 -3l-1.5 -.4z"/>
<path fill="#00b0ff" stroke="#00b0ff" d="M394.1 247.0l1.5 .3l1.7 -3.2l-1.5 -.1zM395.6 247.3l1.5 .4l1.7 -3l-1.5 -.6z"/>
<path fill="#00a5ff" stroke="#00a5ff" d="M397.1 247.7l1.5 .4l1.6 -3.7l-1.4 .3zM398.6 248.1l1.5 1.2l1.6 -4.8l-1.5 -.1zM400.1 249.3l1.4 .2l1.6 -4.8l-1.4 -.2zM401.5 249.5l1.5 .7l1.6 -4.5l-1.5 -1z"/>
<path fill="#00b0ff" stroke="#00b0ff" d="M403.0 250.2l1.5 .4l1.6 -4.4l-1.5 -.5z"/>
<path fill="#00a5ff" stroke="#00a5ff" d="M404.5 250.6l1.5 -.3l1.6 -4l-1.5 -.1zM406.0 250.3l1.5 1.1l1.6 -4.8l-1.5 -.3zM407.5 251.4l1.4 .3l1.7 -4.5l-1.5 -.6zM408.9 251.7l1.5 .7l1.7 -4.7l-1.5 -.5z"/>
<path fill="#00b0ff" stroke="#00b0ff" d="M410.4 252.4l1.5 .4l1.7 -3.8l-1.5 -1.3z"/>
<path fill="#00bbff" stroke="#00bbff" d="M411.9 252.8l1.5 -.1l1.7 -2.8l-1.5 -.9z"/>
<path fill="#00b0ff" stroke="#00b0ff" d="M413.4 252.7l1.5 1l1.7 -4.5l-1.5 .7zM414.9 253.7l1.5 .4l1.7 -4l-1.5 -.9zM416.4 254.1l1.5 .1l1.7 -3.7l-1.5 -.4zM417.9 254.2l1.5 .4l1.7 -3.2l-1.5 -.9zM419.4 254.6l1.5 .3l1.7 -2.9l-1.5 -.6z"/>
<path fill="#00a5ff" stroke="#00a5ff" d="M420.9 254.9l1.5 .8l1.7 -4.4l-1.5 .7z"/>
<path fill="#00b0ff" stroke="#00b0ff" d="M422.4 255.7l1.5 1.4l1.7 -4.9l-1.5 -.9z"/>
<path fill="#00bbff" stroke="#00bbff" d="M423.9 257.1l1.5 -.5l1.7 -3.2l-1.5 -1.2z"/>
<path fill="#00b0ff" stroke="#00b0ff" d="M425.4 256.6l1.6 .6l1.6 -3.9l-1.5 .1zM427.0 257.2l1.5 .3l1.6 -3.6l-1.5 -.6z"/>
<path fill="#00bbff" stroke="#00bbff" d="M428.5 257.5l1.5 1.3l1.7 -4.5l-1.6 -.4z"/>
<path fill="#00b0ff" stroke="#00b0ff" d="M430.0 258.8l1.5 -.9l1.7 -3.7l-1.5 .1zM431.5 257.9l1.5 2.2l1.7 -4.3l-1.5 -1.6z"/>
<path fill="#00d0ff" stroke="#00d0ff" d="M433.0 260.1l1.5 -.3l1.7 -2.9l-1.5 -1.1zM434.5 259.8l1.6 .9l1.6 -3.7l-1.5 -.1zM436.1 260.7l1.5 .9l1.7 -3.6l-1.6 -1z"/>
<path fill="#00dbff" stroke="#00dbff" d="M437.6 261.6l1.5 .1l1.7 -3.4l-1.5 -.3zM439.1 261.7l1.5 1.1l1.7 -3.6l-1.5 -.9z"/>
<path fill="#00f1ff" stroke="#00f1ff" d="M440.6 262.8l1.6 1.6l1.6 -4.4l-1.5 -.8z"/>
<path fill="#00fff7" stroke="#00fff7" d="M442.2 264.4l1.5 .2l1.7 -3.4l-1.6 -1.2z"/>
<path fill="#00fcff" stroke="#00fcff" d="M443.7 264.6l1.5 -.1l1.7 -3l-1.5 -.3zM445.2 264.5l1.6 -.1l1.6 -1.7l-1.5 -1.2z"/>
<path fill="#00ffed" stroke="#00ffed" d="M446.8 264.4l1.5 2.3l1.7 -3.6l-1.6 -.4z"/>
<path fill="#00ffe2" stroke="#00ffe2" d="M448.3 266.7l1.5 .1l1.7 -2.6l-1.5 -1.1zM449.8 266.8l1.6 0l1.6 -1.5l-1.5 -1.1z"/>
<path fill="#00ffd7" stroke="#00ffd7" d="M451.4 266.8l1.5 1l1.7 -2.4l-1.6 -.1z"/>
<path fill="#00ffcc" stroke="#00ffcc" d="M452.9 267.8l1.5 1.1l1.7 -2.2l-1.5 -1.3z"/>
<path fill="#00fcff" stroke="#00fcff" d="M380.7 245.4l1.5 .8l1.8 -.5l-1.5 -.4zM382.2 246.2l1.5 .6l1.7 -1.8l-1.4 .7z"/>
<path fill="#00f1ff" stroke="#00f1ff" d="M383.7 246.8l1.4 .3l1.8 -1.4l-1.5 -.7zM385.1 247.1l1.5 .5l1.7 -1.4l-1.4 -.5zM386.6 247.6l1.4 0l1.8 -1.2l-1.5 -.2z"/>
<path fill="#00e6ff" stroke="#00e6ff" d="M388.0 247.6l1.5 1.1l1.7 -3l-1.4 .7zM389.5 248.7l1.5 .2l1.7 -2.1l-1.5 -1.1zM391.0 248.9l1.4 .5l1.7 -2.4l-1.4 -.2z"/>
<path fill="#00dbff" stroke="#00dbff" d="M392.4 249.4l1.5 .4l1.7 -2.5l-1.5 -.3zM393.9 249.8l1.5 .3l1.7 -2.4l-1.5 -.4zM395.4 250.1l1.5 .5l1.7 -2.5l-1.5 -.4zM396.9 250.6l1.4 -.1l1.8 -1.2l-1.5 -1.2z"/>
<path fill="#00e6ff" stroke="#00e6ff" d="M398.3 250.5l1.5 1.1l1.7 -2.1l-1.4 -.2zM399.8 251.6l1.5 -.3l1.7 -1.1l-1.5 -.7zM401.3 251.3l1.5 1.3l1.7 -2l-1.5 -.4zM402.8 252.6l1.5 .5l1.7 -2.8l-1.5 .3zM404.3 253.1l1.5 .2l1.7 -1.9l-1.5 -1.1zM405.8 253.3l1.4 .4l1.7 -2l-1.4 -.3zM407.2 253.7l1.5 .5l1.7 -1.8l-1.5 -.7zM408.7 254.2l1.5 0l1.7 -1.4l-1.5 -.4z"/>
<path fill="#00dbff" stroke="#00dbff" d="M410.2 254.2l1.5 .5l1.7 -2l-1.5 .1zM411.7 254.7l1.5 .7l1.7 -1.7l-1.5 -1z"/>
<path fill="#00e6ff" stroke="#00e6ff" d="M413.2 255.4l1.5 .8l1.7 -2.1l-1.5 -.4zM414.7 256.2l1.5 .4l1.7 -2.4l-1.5 -.1z"/>
<path fill="#00dbff" stroke="#00dbff" d="M416.2 256.6l1.5 -.2l1.7 -1.8l-1.5 -.4zM417.7 256.4l1.5 1l1.7 -2.5l-1.5 -.3z"/>
<path fill="#00e6ff" stroke="#00e6ff" d="M419.2 257.4l1.5 1.1l1.7 -2.8l-1.5 -.8z"/>
<path fill="#00f1ff" stroke="#00f1ff" d="M420.7 258.5l1.6 .3l1.6 -1.7l-1.5 -1.4zM422.3 258.8l1.5 .5l1.6 -2.7l-1.5 .5z"/>
<path fill="#00e6ff" stroke="#00e6ff" d="M423.8 259.3l1.5 -.2l1.7 -1.9l-1.6 -.6zM425.3 259.1l1.5 1.1l1.7 -2.7l-1.5 -.3zM426.8 260.2l1.5 -.5l1.7 -.9l-1.5 -1.3zM428.3 259.7l1.5 1.2l1.7 -3l-1.5 .9z"/>
<path fill="#00f1ff" stroke="#00f1ff" d="M429.8 260.9l1.5 .8l1.7 -1.6l-1.5 -2.2z"/>
<path fill="#00fcff" stroke="#00fcff" d="M431.3 261.7l1.6 .8l1.6 -2.7l-1.5 .3zM432.9 262.5l1.5 -.1l1.7 -1.7l-1.6 -.9zM434.4 262.4l1.5 1.1l1.7 -1.9l-1.5 -.9z"/>
<path fill="#00fff7" stroke="#00fff7" d="M435.9 263.5l1.5 .8l1.7 -2.6l-1.5 -.1zM437.4 264.3l1.6 -.1l1.6 -1.4l-1.5 -1.1z"/>
<path fill="#00ffed" stroke="#00ffed" d="M439.0 264.2l1.5 .8l1.7 -.6l-1.6 -1.6z"/>
<path fill="#00ffe2" stroke="#00ffe2" d="M440.5 265.0l1.5 0l1.7 -.4l-1.5 -.2zM442.0 265.0l1.6 1.1l1.6 -1.6l-1.5 .1zM443.6 266.1l1.5 1.8l1.7 -3.5l-1.6 .1z"/>
<path fill="#00ffd7" stroke="#00ffd7" d="M445.1 267.9l1.5 -1.1l1.7 -.1l-1.5 -2.3z"/>
<path fill="#00ffcc" stroke="#00ffcc" d="M446.6 266.8l1.6 1.8l1.6 -1.8l-1.5 -.1z"/>
<path fill="#00ffd7" stroke="#00ffd7" d="M448.2 268.6l1.5 -1l1.7 -.8l-1.6 0z"/>
<path fill="#00ffe2" stroke="#00ffe2" d="M449.7 267.6l1.6 .4l1.6 -.2l-1.5 -1z"/>
<path fill="#00ffcc" stroke="#00ffcc" d="M451.3 268.0l1.5 1.6l1.6 -.7l-1.5 -1.1z"/>
</g>
<path d="M380.4 273.6L451.3 296M451.3 296L491.5 259M491.5 259L494 205.6M380.6 273.7L379.4 274.6M390.1 276.7L389 277.6M399.7 279.7L398.6 280.7M409.4 282.8L408.3 283.7M419.2 285.9L418.1 286.8M429.1 289L428 290M439 292.2L437.9 293.1M449 295.3L448 296.3M455.4 292.2L457.2 292.8M460.9 287.2L462.7 287.7M466.3 282.2L468.1 282.7M471.6 277.3L473.4 277.8M476.9 272.4L478.6 273M482 267.6L483.8 268.2M487.2 262.9L488.9 263.5M493.8 210.7L495 210.8M493.4 217.6L494.6 217.7M493.1 224.3L494.3 224.5M492.8 231L494 231.2M492.5 237.7L493.7 237.8M492.2 244.2L493.4 244.4M491.8 250.7L493 250.9M491.5 257.1L492.7 257.3" stroke="#666" stroke-width="0.45" fill="none"/>
<g font-family="'DejaVu Sans','Liberation Sans',sans-serif" font-size="5" fill="#444" text-anchor="middle">
<text x="376.8" y="285.4">0</text>
<text x="386.7" y="288.7">50</text>
<text x="396.5" y="292">100</text>
<text x="406.4" y="295.3">150</text>
<text x="416.3" y="298.5">200</text>
<text x="426.2" y="301.8">250</text>
<text x="436.1" y="305.1">300</text>
<text x="445.9" y="308.4">350</text>
<text x="463.7" y="302.9">200</text>
<text x="468.8" y="297.5">400</text>
<text x="473.9" y="292.2">600</text>
<text x="479" y="286.8">800</text>
<text x="484.1" y="281.5">1000</text>
<text x="489.2" y="276.1">1200</text>
<text x="494.2" y="270.8">1400</text>
<text x="502.5" y="212.4">0</text>
<text x="502.1" y="219.3">−2</text>
<text x="501.8" y="226.1">−4</text>
<text x="501.5" y="232.8">−6</text>
<text x="501.2" y="239.4">−8</text>
<text x="500.9" y="246">−10</text>
<text x="500.5" y="252.4">−12</text>
<text x="500.2" y="258.8">−14</text>
<text transform="translate(407.4 301.9) rotate(20)" y="1.8">DOA (°)</text>
<text transform="translate(485.8 290.1) rotate(-46)" y="1.8">Frequency (Hz)</text>
</g>
<rect x="507.3" y="208.8" width="13.2" height="63.8" fill="url(#gr)"/>
<g font-family="'DejaVu Sans','Liberation Sans',sans-serif" font-size="5" fill="#444">
<text x="523.7" y="215.8">−2.5</text>
<text x="523.7" y="228.8">−5.0</text>
<text x="523.7" y="241.9">−7.5</text>
<text x="523.7" y="255">−10.0</text>
<text x="523.7" y="268.1">−12.5</text>
<text transform="translate(544.5 240.6) rotate(-90)" text-anchor="middle">Pseudo-beam (dB)</text>
</g>
<path d="M520.5 214.1h1.4M520.5 227.2h1.4M520.5 240.2h1.4M520.5 253.3h1.4M520.5 266.4h1.4" stroke="#555" stroke-width="0.4"/>
</g>
<g>
<polygon points="14.1,444.2 57.1,408.8 56.5,355.5 11.4,389.7" fill="#fbfbfb" stroke="#d8d8d8" stroke-width="0.3"/>
<polygon points="57.1,408.8 126.6,429.4 129.2,375.4 56.5,355.5" fill="#fbfbfb" stroke="#d8d8d8" stroke-width="0.3"/>
<polygon points="14.1,444.2 85.9,466.9 126.6,429.4 57.1,408.8" fill="#fcfcfc" stroke="#dcdcdc" stroke-width="0.3"/>
<path d="M57.3 408.9L56.7 355.6M14.3 444.2L57.3 408.9M66.7 411.6L66.5 358.3M24 447.3L66.7 411.6M76.1 414.4L76.3 360.9M33.7 450.4L76.1 414.4M85.6 417.2L86.3 363.7M43.5 453.5L85.6 417.2M95.2 420.1L96.3 366.4M53.4 456.6L95.2 420.1M104.8 422.9L106.4 369.2M63.4 459.8L104.8 422.9M114.6 425.8L116.6 371.9M73.5 462.9L114.6 425.8M124.4 428.7L126.9 374.8M83.6 466.2L124.4 428.7M18.6 440.5L16.1 386.2M90.1 463L18.6 440.5M24.4 435.7L22.2 381.5M95.6 457.9L24.4 435.7M30.2 431L28.3 376.9M101.1 452.8L30.2 431M35.9 426.3L34.3 372.4M106.5 447.9L35.9 426.3M41.5 421.7L40.1 367.9M111.8 443L41.5 421.7M47 417.1L46 363.5M117 438.1L47 417.1M52.5 412.6L51.7 359.2M122.2 433.4L52.5 412.6M11.5 391.6L56.5 357.3M56.5 357.3L129.1 377.2M12 400.7L56.6 366.2M56.6 366.2L128.6 386.2M12.4 409.6L56.7 375M56.7 375L128.2 395.1M12.9 418.4L56.8 383.6M56.8 383.6L127.8 403.8M13.3 427.1L56.9 392.1M56.9 392.1L127.4 412.4M13.7 435.6L57 400.5M57 400.5L127 420.9" stroke="#c6c6c6" stroke-width="0.55" fill="none"/>
<g stroke-width="0.35" stroke-linejoin="round">
<path fill="#482475" stroke="#482475" d="M15.8 443.0l71.3 22.5l37.5 -34.6l-69.2 -20.5z"/>
<path fill="#25848e" stroke="#25848e" d="M15.9 442.4l71.3 22.8l1.4 -1.7l-71.1 -22.5z"/>
<path fill="#26ad81" stroke="#26ad81" d="M35.0 448.5l35 11.2l.8 -1l-34.8 -11.2z"/>
<path fill="#ff0029" stroke="#ff0029" d="M19.5 439.0l71.7 21.8l33.7 -30.4l-69.5 -21z"/>
<path fill="#ff00f0" stroke="#ff00f0" d="M14.0 397.1l1.8 .2l.8 2l-1.8 -.1zM15.8 397.3l1.8 .2l.8 2l-1.8 -.2zM17.6 397.5l1.9 .1l.7 2.1l-1.8 -.2zM19.5 397.6l1.8 .2l.8 2.1l-1.9 -.2zM21.3 397.8l1.8 .2l.8 2l-1.8 -.1zM23.1 398.0l1.9 .1l.7 2.1l-1.8 -.2zM24.9 398.1l1.8 .2l.7 2l-1.8 -.1zM26.8 398.3l1.8 .1l.7 2.1l-1.8 -.2zM28.6 398.4l1.8 .2l.8 2.1l-1.9 -.2zM30.4 398.6l1.8 .3l.8 2.1l-1.8 -.3zM32.2 398.9l1.9 .3l.7 2l-1.8 -.2zM34.1 399.2l1.8 .3l.7 2l-1.8 -.3zM35.9 399.5l1.8 .4l.8 2l-1.9 -.4zM37.7 399.9l1.9 .4l.7 2.1l-1.8 -.5zM39.5 400.3l1.8 .5l.7 2.1l-1.8 -.5zM41.4 400.8l1.8 .5l.7 2.1l-1.8 -.5zM43.2 401.3l1.8 .5l.7 2.1l-1.8 -.5zM45.0 401.8l1.8 .5l.8 2l-1.9 -.4zM46.9 402.3l1.9 .5l.7 2l-1.8 -.5zM48.7 402.8l1.8 .5l.7 2l-1.8 -.5zM50.5 403.3l1.8 .3l.7 2l-1.8 -.3zM52.3 403.6l1.9 -.2l.6 2.2l-1.8 0zM54.1 403.4l1.8 -.1l.7 2.3l-1.9 0zM56.0 403.3l1.8 1.5l.7 2.2l-1.8 -1.4zM57.8 404.8l1.8 1.5l.7 2.2l-1.8 -1.5zM59.6 406.3l1.8 1.5l.7 2.2l-1.8 -1.5zM61.4 407.8l1.9 1.6l.6 2.1l-1.8 -1.5zM63.3 409.4l1.8 .9l.7 2.2l-1.9 -1zM65.1 410.3l1.8 .7l.7 2.2l-1.8 -.7zM66.9 411.0l1.9 .7l.6 2.2l-1.8 -.7zM68.8 411.7l1.8 .6l.6 2.3l-1.8 -.7zM70.6 412.3l1.8 .5l.6 2.5l-1.8 -.7zM72.4 412.8l1.8 .6l.7 2.4l-1.9 -.5zM74.2 413.4l1.8 .5l.7 2.5l-1.8 -.6zM76.0 413.9l1.9 .6l.6 2.4l-1.8 -.5zM77.9 414.5l1.8 .7l.6 2.4l-1.8 -.7zM79.7 415.2l1.8 .6l.6 2.4l-1.8 -.6zM81.5 415.8l1.9 .7l.6 2.3l-1.9 -.6zM83.3 416.5l1.8 .7l.6 2.3l-1.8 -.7zM85.2 417.2l1.8 .9l.6 2.3l-1.8 -.9z"/>
<path fill="#d700ff" stroke="#d700ff" d="M14.8 399.2l1.8 .1l.8 2.1l-1.8 -.2zM16.6 399.3l1.8 .2l.8 2.1l-1.8 -.2zM18.4 399.5l1.8 .2l.8 2l-1.8 -.1zM20.2 399.7l1.9 .2l.7 2l-1.8 -.2zM22.1 399.9l1.8 .1l.7 2.1l-1.8 -.2zM23.9 400.0l1.8 .2l.8 2l-1.9 -.1zM25.7 400.2l1.8 .1l.8 2.1l-1.8 -.2zM27.5 400.3l1.8 .2l.8 2.1l-1.8 -.2zM29.3 400.5l1.9 .2l.7 2.1l-1.8 -.2zM31.2 400.7l1.8 .3l.7 2.1l-1.8 -.3zM33.0 401.0l1.8 .2l.7 2l-1.8 -.1zM34.8 401.2l1.8 .3l.8 1.9l-1.9 -.2zM36.6 401.5l1.9 .4l.7 2l-1.8 -.5zM38.5 401.9l1.8 .5l.7 2.1l-1.8 -.6zM40.3 402.4l1.8 .5l.7 2.2l-1.8 -.6zM42.1 402.9l1.8 .5l.7 2.1l-1.8 -.4zM43.9 403.4l1.8 .5l.7 2l-1.8 -.4zM45.7 403.9l1.9 .4l.7 2.1l-1.9 -.5zM47.6 404.3l1.8 .5l.7 2.1l-1.8 -.5zM49.4 404.8l1.8 .5l.7 2.1l-1.8 -.5zM51.2 405.3l1.8 .3l.7 2.1l-1.8 -.3zM53.0 405.6l1.8 0l.7 2.2l-1.8 -.1zM54.8 405.6l1.9 0l.6 2.3l-1.8 -.1zM56.7 405.6l1.8 1.4l.6 2.3l-1.8 -1.4zM58.5 407.0l1.8 1.5l.7 2.2l-1.9 -1.4zM60.3 408.5l1.8 1.5l.7 2.2l-1.8 -1.5zM62.1 410.0l1.8 1.5l.7 2.1l-1.8 -1.4zM63.9 411.5l1.9 1l.6 2.1l-1.8 -1zM65.8 412.5l1.8 .7l.6 2.2l-1.8 -.8zM67.6 413.2l1.8 .7l.6 2.3l-1.8 -.8zM69.4 413.9l1.8 .7l.7 2.4l-1.9 -.8zM71.2 414.6l1.8 .7l.7 2.4l-1.8 -.7zM73.0 415.3l1.9 .5l.6 2.4l-1.8 -.5zM74.9 415.8l1.8 .6l.6 2.4l-1.8 -.6zM76.7 416.4l1.8 .5l.6 2.4l-1.8 -.5zM78.5 416.9l1.8 .7l.6 2.4l-1.8 -.7zM80.3 417.6l1.8 .6l.7 2.4l-1.9 -.6zM82.1 418.2l1.9 .6l.6 2.4l-1.8 -.6zM84.0 418.8l1.8 .7l.6 2.3l-1.8 -.6zM85.8 419.5l1.8 .9l.6 2.2l-1.8 -.8z"/>
<path fill="#8b00ff" stroke="#8b00ff" d="M15.6 401.2l1.8 .2l.8 2l-1.8 -.1zM17.4 401.4l1.8 .2l.8 2l-1.8 -.2zM19.2 401.6l1.8 .1l.8 2.1l-1.8 -.2zM21.0 401.7l1.8 .2l.8 2l-1.8 -.1zM22.8 401.9l1.8 .2l.8 2l-1.8 -.2zM24.6 402.1l1.9 .1l.7 2.1l-1.8 -.2zM26.5 402.2l1.8 .2l.7 2.1l-1.8 -.2zM28.3 402.4l1.8 .2l.7 2.1l-1.8 -.2zM30.1 402.6l1.8 .2l.8 2.1l-1.9 -.2zM31.9 402.8l1.8 .3l.8 2.1l-1.8 -.3zM33.7 403.1l1.8 .1l.8 2l-1.8 0zM35.5 403.2l1.9 .2l.7 1.9l-1.8 -.1zM37.4 403.4l1.8 .5l.7 2l-1.8 -.6zM39.2 403.9l1.8 .6l.7 2l-1.8 -.6zM41.0 404.5l1.8 .6l.7 2.1l-1.8 -.7zM42.8 405.1l1.8 .4l.7 2.1l-1.8 -.4zM44.6 405.5l1.8 .4l.7 2.1l-1.8 -.4zM46.4 405.9l1.9 .5l.7 2.1l-1.9 -.5zM48.3 406.4l1.8 .5l.7 2l-1.8 -.4zM50.1 406.9l1.8 .5l.7 2l-1.8 -.5zM51.9 407.4l1.8 .3l.7 2.1l-1.8 -.4zM53.7 407.7l1.8 .1l.7 2.2l-1.8 -.2zM55.5 407.8l1.8 .1l.7 2.3l-1.8 -.2zM57.3 407.9l1.8 1.4l.7 2.2l-1.8 -1.3zM59.1 409.3l1.9 1.4l.6 2.2l-1.8 -1.4zM61.0 410.7l1.8 1.5l.6 2.1l-1.8 -1.4zM62.8 412.2l1.8 1.4l.7 2.1l-1.9 -1.4zM64.6 413.6l1.8 1l.7 2.2l-1.8 -1.1zM66.4 414.6l1.8 .8l.7 2.2l-1.8 -.8zM68.2 415.4l1.8 .8l.7 2.3l-1.8 -.9zM70.0 416.2l1.9 .8l.6 2.3l-1.8 -.8zM71.9 417.0l1.8 .7l.6 2.4l-1.8 -.8zM73.7 417.7l1.8 .5l.6 2.5l-1.8 -.6zM75.5 418.2l1.8 .6l.6 2.4l-1.8 -.5zM77.3 418.8l1.8 .5l.6 2.5l-1.8 -.6zM79.1 419.3l1.8 .7l.7 2.4l-1.9 -.6zM80.9 420.0l1.9 .6l.6 2.4l-1.8 -.6zM82.8 420.6l1.8 .6l.6 2.4l-1.8 -.6zM84.6 421.2l1.8 .6l.6 2.4l-1.8 -.6zM86.4 421.8l1.8 .8l.6 2.3l-1.8 -.7z"/>
<path fill="#3f00ff" stroke="#3f00ff" d="M16.4 403.3l1.8 .1l.7 2.1l-1.8 -.2zM18.2 403.4l1.8 .2l.8 2.1l-1.9 -.2zM20.0 403.6l1.8 .2l.8 2l-1.8 -.1zM21.8 403.8l1.8 .1l.8 2.1l-1.8 -.2zM23.6 403.9l1.8 .2l.8 2.1l-1.8 -.2zM25.4 404.1l1.8 .2l.8 2l-1.8 -.1zM27.2 404.3l1.8 .2l.8 2l-1.8 -.2zM29.0 404.5l1.8 .2l.8 2l-1.8 -.2zM30.8 404.7l1.9 .2l.7 2.1l-1.8 -.3zM32.7 404.9l1.8 .3l.7 2l-1.8 -.2zM34.5 405.2l1.8 0l.7 2l-1.8 0zM36.3 405.2l1.8 .1l.7 2l-1.8 -.1zM38.1 405.3l1.8 .6l.7 2l-1.8 -.6zM39.9 405.9l1.8 .6l.7 2.1l-1.8 -.7zM41.7 406.5l1.8 .7l.7 2.1l-1.8 -.7zM43.5 407.2l1.8 .4l.7 2.1l-1.8 -.4zM45.3 407.6l1.8 .4l.8 2.1l-1.9 -.4zM47.1 408.0l1.9 .5l.7 2l-1.8 -.4zM49.0 408.5l1.8 .4l.7 2.1l-1.8 -.5zM50.8 408.9l1.8 .5l.7 2.1l-1.8 -.5zM52.6 409.4l1.8 .4l.7 2.1l-1.8 -.4zM54.4 409.8l1.8 .2l.7 2.2l-1.8 -.3zM56.2 410.0l1.8 .2l.7 2.3l-1.8 -.3zM58.0 410.2l1.8 1.3l.7 2.3l-1.8 -1.3zM59.8 411.5l1.8 1.4l.7 2.2l-1.8 -1.3zM61.6 412.9l1.8 1.4l.7 2.2l-1.8 -1.4zM63.4 414.3l1.9 1.4l.6 2.1l-1.8 -1.3zM65.3 415.7l1.8 1.1l.6 2.1l-1.8 -1.1zM67.1 416.8l1.8 .8l.6 2.2l-1.8 -.9zM68.9 417.6l1.8 .9l.6 2.2l-1.8 -.9zM70.7 418.5l1.8 .8l.6 2.3l-1.8 -.9zM72.5 419.3l1.8 .8l.6 2.4l-1.8 -.9zM74.3 420.1l1.8 .6l.7 2.4l-1.9 -.6zM76.1 420.7l1.8 .5l.7 2.4l-1.8 -.5zM77.9 421.2l1.8 .6l.7 2.4l-1.8 -.6zM79.7 421.8l1.9 .6l.6 2.4l-1.8 -.6zM81.6 422.4l1.8 .6l.6 2.3l-1.8 -.5zM83.4 423.0l1.8 .6l.6 2.3l-1.8 -.6zM85.2 423.6l1.8 .6l.6 2.3l-1.8 -.6zM87.0 424.2l1.8 .7l.6 2.3l-1.8 -.7z"/>
<path fill="#000dff" stroke="#000dff" d="M17.1 405.3l1.8 .2l.8 2l-1.8 -.1zM18.9 405.5l1.9 .2l.7 2l-1.8 -.2z"/>
<path fill="#0002ff" stroke="#0002ff" d="M20.8 405.7l1.8 .1l.7 2.1l-1.8 -.2zM22.6 405.8l1.8 .2l.7 2l-1.8 -.1zM24.4 406.0l1.8 .2l.7 2l-1.8 -.2zM26.2 406.2l1.8 .1l.7 2.1l-1.8 -.2zM28.0 406.3l1.8 .2l.7 2.1l-1.8 -.2zM29.8 406.5l1.8 .2l.7 2.1l-1.8 -.2zM31.6 406.7l1.8 .3l.7 2.1l-1.8 -.3zM33.4 407.0l1.8 .2l.7 2.1l-1.8 -.2zM35.2 407.2l1.8 0l.7 2l-1.8 .1zM37.0 407.2l1.8 .1l.8 1.9l-1.9 0zM38.8 407.3l1.8 .6l.8 2l-1.8 -.7zM40.6 407.9l1.8 .7l.8 2.1l-1.8 -.8zM42.4 408.6l1.8 .7l.8 2.1l-1.8 -.7zM44.2 409.3l1.8 .4l.8 2.1l-1.8 -.4zM46.0 409.7l1.9 .4l.7 2.1l-1.8 -.4zM47.9 410.1l1.8 .4l.7 2.1l-1.8 -.4zM49.7 410.5l1.8 .5l.7 2l-1.8 -.4zM51.5 411.0l1.8 .5l.7 2l-1.8 -.5zM53.3 411.5l1.8 .4l.7 2.1l-1.8 -.5zM55.1 411.9l1.8 .3l.7 2.2l-1.8 -.4zM56.9 412.2l1.8 .3l.7 2.3l-1.8 -.4z"/>
<path fill="#000dff" stroke="#000dff" d="M58.7 412.5l1.8 1.3l.7 2.2l-1.8 -1.2zM60.5 413.8l1.8 1.3l.7 2.2l-1.8 -1.3zM62.3 415.1l1.8 1.4l.7 2.1l-1.8 -1.3zM64.1 416.5l1.8 1.3l.7 2.1l-1.8 -1.3zM65.9 417.8l1.8 1.1l.7 2.2l-1.8 -1.2zM67.7 418.9l1.8 .9l.7 2.2l-1.8 -.9zM69.5 419.8l1.8 .9l.7 2.3l-1.8 -1zM71.3 420.7l1.8 .9l.7 2.4l-1.8 -1zM73.1 421.6l1.8 .9l.7 2.4l-1.8 -.9zM74.9 422.5l1.9 .6l.6 2.4l-1.8 -.6zM76.8 423.1l1.8 .5l.6 2.5l-1.8 -.6zM78.6 423.6l1.8 .6l.6 2.4l-1.8 -.5zM80.4 424.2l1.8 .6l.6 2.4l-1.8 -.6zM82.2 424.8l1.8 .5l.6 2.4l-1.8 -.5zM84.0 425.3l1.8 .6l.6 2.4l-1.8 -.6zM85.8 425.9l1.8 .6l.6 2.3l-1.8 -.5zM87.6 426.5l1.8 .7l.6 2.3l-1.8 -.7z"/>
<path fill="#0079ff" stroke="#0079ff" d="M17.9 407.4l1.8 .1l.8 2.1l-1.8 -.2zM19.7 407.5l1.8 .2l.8 2.1l-1.8 -.2z"/>
<path fill="#0038ff" stroke="#0038ff" d="M21.5 407.7l1.8 .2l.8 2l-1.8 -.1zM23.3 407.9l1.8 .1l.8 2.1l-1.8 -.2zM25.1 408.0l1.8 .2l.8 2l-1.8 -.1zM26.9 408.2l1.8 .2l.8 2l-1.8 -.2zM28.7 408.4l1.8 .2l.8 2.1l-1.8 -.3zM30.5 408.6l1.8 .2l.8 2.1l-1.8 -.2zM32.3 408.8l1.8 .3l.8 2l-1.8 -.2zM34.1 409.1l1.8 .2l.8 2.1l-1.8 -.3zM35.9 409.3l1.8 -.1l.8 2l-1.8 .2zM37.7 409.2l1.9 0l.7 1.9l-1.8 .1zM39.5 409.2l1.8 .7l.7 2l-1.8 -.8zM41.4 409.9l1.8 .8l.7 2l-1.8 -.8zM43.2 410.7l1.8 .7l.7 2.1l-1.8 -.8zM45.0 411.4l1.8 .4l.7 2.1l-1.8 -.4zM46.8 411.8l1.8 .4l.7 2.1l-1.8 -.4zM48.6 412.2l1.8 .4l.7 2.1l-1.8 -.4zM50.4 412.6l1.8 .4l.7 2.1l-1.8 -.4zM52.2 413.0l1.8 .5l.7 2.1l-1.8 -.5zM54.0 413.5l1.8 .5l.7 2.1l-1.8 -.5zM55.8 414.0l1.8 .4l.7 2.2l-1.8 -.5zM57.6 414.4l1.8 .4l.6 2.3l-1.7 -.5z"/>
<path fill="#0079ff" stroke="#0079ff" d="M59.4 414.8l1.8 1.2l.6 2.3l-1.8 -1.2zM61.2 416.0l1.8 1.3l.6 2.2l-1.8 -1.2zM63.0 417.3l1.8 1.3l.6 2.2l-1.8 -1.3zM64.8 418.6l1.8 1.3l.6 2.1l-1.8 -1.2zM66.6 419.9l1.8 1.2l.6 2.1l-1.8 -1.2zM68.4 421.1l1.8 .9l.6 2.3l-1.8 -1.1zM70.2 422.0l1.8 1l.6 2.3l-1.8 -1zM72.0 423.0l1.8 1l.6 2.3l-1.8 -1zM73.8 424.0l1.8 .9l.6 2.4l-1.8 -1zM75.6 424.9l1.8 .6l.6 2.5l-1.8 -.7zM77.4 425.5l1.8 .6l.6 2.4l-1.8 -.5zM79.2 426.1l1.8 .5l.6 2.4l-1.8 -.5zM81.0 426.6l1.8 .6l.6 2.4l-1.8 -.6zM82.8 427.2l1.8 .5l.6 2.4l-1.8 -.5zM84.6 427.7l1.8 .6l.6 2.3l-1.8 -.5zM86.4 428.3l1.8 .5l.6 2.4l-1.8 -.6zM88.2 428.8l1.8 .7l.6 2.2l-1.8 -.5z"/>
<path fill="#00c6ff" stroke="#00c6ff" d="M18.7 409.4l1.8 .2l.8 2.1l-1.8 -.2zM20.5 409.6l1.8 .2l.8 2l-1.8 -.1z"/>
<path fill="#0038ff" stroke="#0038ff" d="M22.3 409.8l1.8 .1l.8 2.1l-1.8 -.2zM24.1 409.9l1.8 .2l.8 2l-1.8 -.1zM25.9 410.1l1.8 .1l.8 2.1l-1.8 -.2zM27.7 410.2l1.8 .2l.8 2.1l-1.8 -.2zM29.5 410.4l1.8 .3l.7 2l-1.7 -.2zM31.3 410.7l1.8 .2l.7 2.1l-1.8 -.3zM33.1 410.9l1.8 .2l.7 2.1l-1.8 -.2zM34.9 411.1l1.8 .3l.7 2.1l-1.8 -.3zM36.7 411.4l1.8 -.2l.7 2l-1.8 .3zM38.5 411.2l1.8 -.1l.7 2l-1.8 .1zM40.3 411.1l1.8 .8l.7 2l-1.8 -.8zM42.1 411.9l1.8 .8l.7 2.1l-1.8 -.9zM43.9 412.7l1.8 .8l.7 2.1l-1.8 -.8zM45.7 413.5l1.8 .4l.7 2.1l-1.8 -.4zM47.5 413.9l1.8 .4l.7 2.1l-1.8 -.4zM49.3 414.3l1.8 .4l.7 2l-1.8 -.3zM51.1 414.7l1.8 .4l.7 2l-1.8 -.4zM52.9 415.1l1.8 .5l.7 2l-1.8 -.5zM54.7 415.6l1.8 .5l.6 2.1l-1.7 -.6zM56.5 416.1l1.8 .5l.6 2.2l-1.8 -.6zM58.3 416.6l1.7 .5l.7 2.3l-1.8 -.6z"/>
<path fill="#00c6ff" stroke="#00c6ff" d="M60.0 417.1l1.8 1.2l.7 2.2l-1.8 -1.1zM61.8 418.3l1.8 1.2l.7 2.2l-1.8 -1.2zM63.6 419.5l1.8 1.3l.7 2.1l-1.8 -1.2zM65.4 420.8l1.8 1.2l.7 2.2l-1.8 -1.3zM67.2 422.0l1.8 1.2l.7 2.2l-1.8 -1.2zM69.0 423.2l1.8 1.1l.7 2.2l-1.8 -1.1zM70.8 424.3l1.8 1l.7 2.3l-1.8 -1.1zM72.6 425.3l1.8 1l.7 2.3l-1.8 -1zM74.4 426.3l1.8 1l.7 2.4l-1.8 -1.1zM76.2 427.3l1.8 .7l.7 2.4l-1.8 -.7zM78.0 428.0l1.8 .5l.6 2.4l-1.7 -.5zM79.8 428.5l1.8 .5l.6 2.4l-1.8 -.5zM81.6 429.0l1.8 .6l.6 2.4l-1.8 -.6zM83.4 429.6l1.8 .5l.6 2.4l-1.8 -.5zM85.2 430.1l1.8 .5l.6 2.4l-1.8 -.5zM87.0 430.6l1.8 .6l.6 2.3l-1.8 -.5zM88.8 431.2l1.8 .5l.6 2.3l-1.8 -.5z"/>
<path fill="#ff9900" stroke="#ff9900" d="M19.5 411.5l1.8 .2l.2 27.5l-1.8 -.6zM21.3 411.7l1.8 .1l.2 27.9l-1.8 -.5zM23.1 411.8l1.8 .2l.2 28.2l-1.8 -.5zM24.9 412.0l1.8 .1l.1 28.7l-1.7 -.6zM26.7 412.1l1.8 .2l.1 29.1l-1.8 -.6zM28.5 412.3l1.8 .2l.1 29.4l-1.8 -.5zM30.3 412.5l1.7 .2l.2 29.7l-1.8 -.5zM32.0 412.7l1.8 .3l.2 30l-1.8 -.6zM33.8 413.0l1.8 .2l.2 30.4l-1.8 -.6zM35.6 413.2l1.8 .3l.2 30.6l-1.8 -.5zM37.4 413.5l1.8 -.3l.2 31.4l-1.8 -.5zM39.2 413.2l1.8 -.1l.2 32.1l-1.8 -.6zM41.0 413.1l1.8 .8l.1 31.9l-1.7 -.6zM42.8 413.9l1.8 .9l.1 31.5l-1.8 -.5zM44.6 414.8l1.8 .8l.1 31.2l-1.8 -.5zM46.4 415.6l1.8 .4l.1 31.4l-1.8 -.6zM48.2 416.0l1.8 .4l.1 31.6l-1.8 -.6zM50.0 416.4l1.8 .3l.1 31.8l-1.8 -.5zM51.8 416.7l1.8 .4l.1 31.9l-1.8 -.5zM53.6 417.1l1.8 .5l0 32l-1.7 -.6zM55.4 417.6l1.7 .6l.1 32l-1.8 -.6zM57.1 418.2l1.8 .6l.1 31.9l-1.8 -.5zM58.9 418.8l1.8 .6l.1 31.8l-1.8 -.5zM60.7 419.4l1.8 1.1l.1 31.3l-1.8 -.6zM62.5 420.5l1.8 1.2l.1 30.7l-1.8 -.6zM64.3 421.7l1.8 1.2l.1 30l-1.8 -.5zM66.1 422.9l1.8 1.3l.1 29.2l-1.8 -.5zM67.9 424.1l1.8 1.2l.1 28.6l-1.8 -.6zM69.7 425.4l1.8 1.1l0 28.1l-1.7 -.6zM71.5 426.5l1.8 1.1l0 27.5l-1.8 -.5zM73.3 427.6l1.8 1l0 27l-1.8 -.5zM75.1 428.6l1.8 1.1l0 26.5l-1.8 -.6zM76.9 429.7l1.8 .7l0 26.4l-1.8 -.6zM78.7 430.4l1.7 .5l.1 26.4l-1.8 -.5zM80.4 430.9l1.8 .5l.1 26.4l-1.8 -.5zM82.2 431.4l1.8 .6l.1 26.4l-1.8 -.6zM84.0 432.0l1.8 .5l0 26.5l-1.7 -.6zM85.8 432.5l1.8 .5l0 26.5l-1.8 -.5zM87.6 433.0l1.8 .5l0 26.5l-1.8 -.5zM89.4 433.5l1.8 .5l0 26.6l-1.8 -.6z"/>
<path fill="#482475" stroke="#482475" d="M19.6 438.9l.9 -1l.9 1.6zM21.3 439.5l.9 -1l.8 1.5zM23.0 440.0l.9 -1l.9 1.5zM24.7 440.5l.9 -1l.8 1.5zM26.4 441.0l.9 -1l.9 1.5zM28.1 441.6l.9 -1l.8 1.5zM29.8 442.1l.9 -1l.9 1.5zM31.5 442.6l.9 -1l.8 1.5zM33.2 443.1l.9 -1l.8 1.5zM34.9 443.6l.9 -.9l.8 1.5zM36.6 444.2l.9 -1l.8 1.5zM38.3 444.7l.9 -1l.8 1.5zM40.0 445.2l.9 -1l.8 1.5zM41.7 445.7l.9 -1l.8 1.6zM43.4 446.3l.9 -1l.8 1.5zM45.1 446.8l.9 -1l.8 1.5zM46.8 447.3l.9 -1l.8 1.5zM48.5 447.8l.9 -1l.8 1.5zM50.2 448.4l.9 -1l.8 1.5zM51.9 448.9l.9 -1l.8 1.5zM53.6 449.4l.9 -1l.8 1.5zM55.3 449.9l.9 -1l.8 1.5zM57.0 450.4l.9 -.9l.8 1.5zM58.7 451.0l.9 -1l.8 1.5zM60.4 451.5l.9 -1l.8 1.5zM62.1 452.0l.9 -1l.8 1.5zM63.8 452.5l.9 -1l.8 1.6zM65.5 453.1l.9 -1l.8 1.5zM67.2 453.6l.9 -1l.8 1.5zM68.9 454.1l.9 -1l.8 1.5zM70.6 454.6l.9 -1l.8 1.5zM72.3 455.2l.9 -1l.8 1.5zM74.0 455.7l.9 -1l.8 1.5zM75.7 456.2l.9 -1l.8 1.5zM77.4 456.7l.9 -1l.8 1.5zM79.1 457.2l.9 -.9l.8 1.5zM80.8 457.8l.9 -1l.8 1.5zM82.5 458.3l.9 -1l.8 1.5zM84.2 458.8l.9 -1l.8 1.5zM85.9 459.3l.9 -1l.8 1.6zM87.6 459.9l.9 -1l.8 1.5zM89.3 460.4l.9 -1l.8 1.5z"/>
</g>
<path d="M14.1 444.2L85.9 466.9M85.9 466.9L126.6 429.4M126.6 429.4L129.2 375.4M14.3 444.2L13.2 445.1M24 447.3L22.9 448.2M33.7 450.4L32.6 451.3M43.5 453.5L42.4 454.4M53.4 456.6L52.3 457.6M63.4 459.8L62.3 460.7M73.5 462.9L72.4 463.9M83.6 466.2L82.6 467.1M90.1 463L91.9 463.6M95.6 457.9L97.5 458.5M101.1 452.8L102.9 453.4M106.5 447.9L108.3 448.4M111.8 443L113.6 443.5M117 438.1L118.8 438.7M122.2 433.4L124 433.9M129.1 377.2L130.3 377.4M128.6 386.2L129.8 386.4M128.2 395.1L129.4 395.2M127.8 403.8L129 404M127.4 412.4L128.6 412.6M127 420.9L128.2 421.1" stroke="#666" stroke-width="0.45" fill="none"/>
<g font-family="'DejaVu Sans','Liberation Sans',sans-serif" font-size="5" fill="#444" text-anchor="middle">
<text x="10.5" y="456.1">0</text>
<text x="20.5" y="459.4">50</text>
<text x="30.5" y="462.8">100</text>
<text x="40.5" y="466.1">150</text>
<text x="50.5" y="469.4">200</text>
<text x="60.5" y="472.7">250</text>
<text x="70.5" y="476.1">300</text>
<text x="80.5" y="479.4">350</text>
<text x="98.5" y="473.8">200</text>
<text x="103.6" y="468.4">400</text>
<text x="108.8" y="463">600</text>
<text x="113.9" y="457.6">800</text>
<text x="119.1" y="452.1">1000</text>
<text x="124.2" y="446.7">1200</text>
<text x="129.4" y="441.3">1400</text>
<text x="137.9" y="379">0</text>
<text x="137.4" y="388">−10</text>
<text x="137" y="396.8">−20</text>
<text x="136.6" y="405.6">−30</text>
<text x="136.2" y="414.2">−40</text>
<text x="135.8" y="422.7">−50</text>
<text transform="translate(41.5 472.8) rotate(20)" y="1.8">DOA (°)</text>
<text transform="translate(120.8 460.9) rotate(-46)" y="1.8">Frequency (Hz)</text>
</g>
<rect x="143.6" y="378" width="13.4" height="65.8" fill="url(#gr)"/>
<g font-family="'DejaVu Sans','Liberation Sans',sans-serif" font-size="5" fill="#444">
<text x="160.2" y="388.2">−10</text>
<text x="160.2" y="400.1">−20</text>
<text x="160.2" y="412.1">−30</text>
<text x="160.2" y="424">−40</text>
<text x="160.2" y="435.9">−50</text>
<text transform="translate(176.3 410.9) rotate(-90)" text-anchor="middle">Pseudo-beam (dB)</text>
</g>
<path d="M157 386.5h1.4M157 398.4h1.4M157 410.4h1.4M157 422.3h1.4M157 434.2h1.4" stroke="#555" stroke-width="0.4"/>
</g>
<g>
<polygon points="198.1,444.2 241.1,408.8 240.5,355.5 195.4,389.7" fill="#fbfbfb" stroke="#d8d8d8" stroke-width="0.3"/>
<polygon points="241.1,408.8 310.6,429.4 313.2,375.4 240.5,355.5" fill="#fbfbfb" stroke="#d8d8d8" stroke-width="0.3"/>
<polygon points="198.1,444.2 269.9,466.9 310.6,429.4 241.1,408.8" fill="#fcfcfc" stroke="#dcdcdc" stroke-width="0.3"/>
<path d="M241.3 408.9L240.7 355.6M198.3 444.2L241.3 408.9M250.7 411.6L250.5 358.3M208 447.3L250.7 411.6M260.1 414.4L260.3 360.9M217.7 450.4L260.1 414.4M269.6 417.2L270.3 363.7M227.5 453.5L269.6 417.2M279.2 420.1L280.3 366.4M237.4 456.6L279.2 420.1M288.8 422.9L290.4 369.2M247.4 459.8L288.8 422.9M298.6 425.8L300.6 371.9M257.5 462.9L298.6 425.8M308.4 428.7L310.9 374.8M267.6 466.2L308.4 428.7M202.6 440.5L200.1 386.2M274.1 463L202.6 440.5M208.4 435.7L206.2 381.5M279.6 457.9L208.4 435.7M214.2 431L212.3 376.9M285.1 452.8L214.2 431M219.9 426.3L218.3 372.4M290.5 447.9L219.9 426.3M225.5 421.7L224.1 367.9M295.8 443L225.5 421.7M231 417.1L230 363.5M301 438.1L231 417.1M236.5 412.6L235.7 359.2M306.2 433.4L236.5 412.6M195.5 391.6L240.5 357.3M240.5 357.3L313.1 377.2M196.1 403.5L240.7 369M240.7 369L312.5 389M196.7 415.2L240.8 380.4M240.8 380.4L312 400.6M197.3 426.6L240.9 391.6M240.9 391.6L311.4 412M197.8 437.9L241.1 402.6M241.1 402.6L310.9 423.1" stroke="#c6c6c6" stroke-width="0.55" fill="none"/>
<g stroke-width="0.35" stroke-linejoin="round">
<path fill="#2d718e" stroke="#2d718e" d="M199.8 443.0l71.3 22.5l37.5 -34.6l-69.2 -20.5z"/>
<path fill="#23898e" stroke="#23898e" d="M199.5 442.3l71.8 24.6l2.2 -2.7l-37.5 -12.7z"/>
<path fill="#21918c" stroke="#21918c" d="M216.0 436.0l10 -.5l10 5.5l-4 5l-12 -3z"/>
<path fill="#482475" stroke="#482475" d="M212.9 430.8l70.1 21.5l-6.5 8.7l-30.5 -13l-20 -10.5l-15 -4.9z"/>
<path fill="#ff0029" stroke="#ff0029" d="M212.9 430.8l70.1 21.5l25.9 -21.9l-69.5 -21z"/>
<path fill="#7600ff" stroke="#7600ff" d="M206.5 402.8l1.7 .3l0 .1l-1.7 -.4zM208.2 403.1l1.7 .3l0 .2l-1.7 -.4zM209.9 403.4l1.8 .4l0 .2l-1.8 -.4zM211.7 403.8l1.7 -.2l0 .6l-1.7 -.2zM213.4 403.6l1.7 -1.5l0 1.6l-1.7 .5zM215.1 402.1l1.7 -1.6l0 2.6l-1.7 .6zM216.8 400.5l1.7 -1.3l0 3.3l-1.7 .6zM218.5 399.2l1.8 -.8l0 3.8l-1.8 .3zM220.3 398.4l1.7 -.9l0 4.4l-1.7 .3zM222.0 397.5l1.7 -.8l0 5l-1.7 .2zM223.7 396.7l1.7 -.8l0 5.5l-1.7 .3zM225.4 395.9l1.7 -.5l0 5.9l-1.7 .1zM227.1 395.4l1.8 1.5l0 5.1l-1.8 -.7zM228.9 396.9l1.7 1.9l0 4l-1.7 -.8zM230.6 398.8l1.7 2l0 2.8l-1.7 -.8zM232.3 400.8l1.7 3.2l0 1.1l-1.7 -1.5zM234.0 404.0l1.7 1.1l0 .4l-1.7 -.4zM235.7 405.1l1.8 .1l0 .3l-1.8 0zM237.5 405.2l1.7 .1l0 .1l-1.7 .1zM239.2 405.3l1.7 .1l0 0l-1.7 0z"/>
<path fill="#6b00ff" stroke="#6b00ff" d="M206.5 402.8l1.7 .4l0 .1l-1.7 -.5zM208.2 403.2l1.7 .4l0 .2l-1.7 -.5zM209.9 403.6l1.8 .4l0 .3l-1.8 -.5zM211.7 404.0l1.7 .2l0 .6l-1.7 -.5zM213.4 404.2l1.7 -.5l0 1.6l-1.7 -.5zM215.1 403.7l1.7 -.6l0 2.5l-1.7 -.3zM216.8 403.1l1.7 -.6l0 3.4l-1.7 -.3zM218.5 402.5l1.8 -.3l0 3.9l-1.8 -.2zM220.3 402.2l1.7 -.3l0 4.5l-1.7 -.3zM222.0 401.9l1.7 -.2l0 4.9l-1.7 -.2zM223.7 401.7l1.7 -.3l0 5.5l-1.7 -.3zM225.4 401.4l1.7 -.1l0 5.8l-1.7 -.2zM227.1 401.3l1.8 .7l0 5.2l-1.8 -.1zM228.9 402.0l1.7 .8l0 4l-1.7 .4zM230.6 402.8l1.7 .8l0 2.9l-1.7 .3zM232.3 403.6l1.7 1.5l0 1l-1.7 .4zM234.0 405.1l1.7 .4l0 .4l-1.7 .2zM235.7 405.5l1.8 0l0 .2l-1.8 .2zM237.5 405.5l1.7 -.1l0 .2l-1.7 .1zM239.2 405.4l1.7 0l0 0l-1.7 .2z"/>
<path fill="#b700ff" stroke="#b700ff" d="M198.3 400.3l1.9 .6l.8 1.6l-2 -.6zM200.2 400.9l2 .6l.7 1.5l-1.9 -.5zM202.2 401.5l1.9 .6l.7 1.5l-1.9 -.6zM204.1 402.1l1.9 .6l.8 1.4l-2 -.5zM206.0 402.7l2 .5l.7 1.5l-1.9 -.6z"/>
<path fill="#c200ff" stroke="#c200ff" d="M208.0 403.2l1.9 .6l.7 1.4l-1.9 -.5zM209.9 403.8l1.9 .5l.7 1.4l-1.9 -.5z"/>
<path fill="#cd00ff" stroke="#cd00ff" d="M211.8 404.3l1.9 .6l.8 1.3l-2 -.5zM213.7 404.9l2 .5l.7 1.4l-1.9 -.6z"/>
<path fill="#d700ff" stroke="#d700ff" d="M215.7 405.4l1.9 .3l.7 1.4l-1.9 -.3z"/>
<path fill="#e200ff" stroke="#e200ff" d="M217.6 405.7l1.9 .3l.8 1.5l-2 -.4zM219.5 406.0l2 .3l.7 1.6l-1.9 -.4z"/>
<path fill="#ed00ff" stroke="#ed00ff" d="M221.5 406.3l1.9 .3l.7 1.7l-1.9 -.4z"/>
<path fill="#f800ff" stroke="#f800ff" d="M223.4 406.6l1.9 .3l.8 1.8l-2 -.4z"/>
<path fill="#ff00f0" stroke="#ff00f0" d="M225.3 406.9l1.9 .3l.8 1.9l-1.9 -.4z"/>
<path fill="#ff00e5" stroke="#ff00e5" d="M227.2 407.2l2 -.1l.7 2l-1.9 0zM229.2 407.1l1.9 -.4l.8 2.1l-2 .3zM231.1 406.7l1.9 -.4l.8 2.2l-1.9 .3zM233.0 406.3l2 -.3l.7 2.3l-1.9 .2zM235.0 406.0l1.9 -.2l.8 2.4l-2 .1zM236.9 405.8l1.9 -.2l.8 2.6l-1.9 0zM238.8 405.6l2 -.2l.7 2.7l-1.9 .1zM240.8 405.4l1.9 .5l.8 2.7l-2 -.5zM242.7 405.9l1.9 .6l.8 2.7l-1.9 -.6zM244.6 406.5l2 .6l.7 2.7l-1.9 -.6zM246.6 407.1l1.9 .8l.7 2.7l-1.9 -.8z"/>
<path fill="#ff00f0" stroke="#ff00f0" d="M248.5 407.9l1.9 1l.8 2.8l-2 -1.1z"/>
<path fill="#f800ff" stroke="#f800ff" d="M250.4 408.9l1.9 1l.8 2.8l-1.9 -1z"/>
<path fill="#d700ff" stroke="#d700ff" d="M252.3 409.9l2 .9l.7 2.9l-1.9 -1z"/>
<path fill="#c200ff" stroke="#c200ff" d="M254.3 410.8l1.9 1l.8 2.8l-2 -.9z"/>
<path fill="#a100ff" stroke="#a100ff" d="M256.2 411.8l1.9 .9l.8 2.8l-1.9 -.9z"/>
<path fill="#8100ff" stroke="#8100ff" d="M258.1 412.7l2 1l.7 2.8l-1.9 -1z"/>
<path fill="#6000ff" stroke="#6000ff" d="M260.1 413.7l1.9 1.2l.8 2.7l-2 -1.1z"/>
<path fill="#3400ff" stroke="#3400ff" d="M262.0 414.9l1.9 1.2l.8 2.6l-1.9 -1.1z"/>
<path fill="#1f00ff" stroke="#1f00ff" d="M263.9 416.1l1.9 1.2l.8 2.5l-1.9 -1.1z"/>
<path fill="#0900ff" stroke="#0900ff" d="M265.9 417.3l2 1.3l.8 2.4l-2 -1.2z"/>
<path fill="#0002ff" stroke="#0002ff" d="M267.8 418.6l1.9 1.3l.8 2.2l-1.9 -1.1z"/>
<path fill="#0018ff" stroke="#0018ff" d="M269.7 419.9l1.9 1.7l.8 1.9l-1.9 -1.4z"/>
<path fill="#002dff" stroke="#002dff" d="M271.6 421.6l2 4.1l.8 1.3l-2 -3.5z"/>
<path fill="#0043ff" stroke="#0043ff" d="M273.6 425.7l1.9 5.8l.8 .4l-1.9 -4.9z"/>
<path fill="#a100ff" stroke="#a100ff" d="M199.0 401.9l2 .6l.7 1.6l-1.9 -.5zM201.0 402.5l1.9 .5l.7 1.6l-1.9 -.5zM202.9 403.0l1.9 .6l.8 1.5l-2 -.5zM204.8 403.6l2 .5l.7 1.5l-1.9 -.5z"/>
<path fill="#ac00ff" stroke="#ac00ff" d="M206.8 404.1l1.9 .6l.7 1.4l-1.9 -.5zM208.7 404.7l1.9 .5l.8 1.4l-2 -.5z"/>
<path fill="#b700ff" stroke="#b700ff" d="M210.6 405.2l1.9 .5l.8 1.4l-1.9 -.5z"/>
<path fill="#c200ff" stroke="#c200ff" d="M212.5 405.7l2 .5l.7 1.4l-1.9 -.5zM214.5 406.2l1.9 .6l.8 1.3l-2 -.5z"/>
<path fill="#cd00ff" stroke="#cd00ff" d="M216.4 406.8l1.9 .3l.8 1.4l-1.9 -.4z"/>
<path fill="#d700ff" stroke="#d700ff" d="M218.3 407.1l2 .4l.7 1.5l-1.9 -.5zM220.3 407.5l1.9 .4l.8 1.7l-2 -.6z"/>
<path fill="#e200ff" stroke="#e200ff" d="M222.2 407.9l1.9 .4l.8 1.8l-1.9 -.5z"/>
<path fill="#ed00ff" stroke="#ed00ff" d="M224.1 408.3l2 .4l.7 1.8l-1.9 -.4z"/>
<path fill="#f800ff" stroke="#f800ff" d="M226.1 408.7l1.9 .4l.8 1.9l-2 -.5z"/>
<path fill="#ff00fb" stroke="#ff00fb" d="M228.0 409.1l1.9 0l.8 2l-1.9 -.1z"/>
<path fill="#ff00f0" stroke="#ff00f0" d="M229.9 409.1l2 -.3l.7 2.2l-1.9 .1zM231.9 408.8l1.9 -.3l.7 2.3l-1.9 .2zM233.8 408.5l1.9 -.2l.8 2.3l-2 .2zM235.7 408.3l2 -.1l.7 2.5l-1.9 -.1zM237.7 408.2l1.9 0l.7 2.5l-1.9 0zM239.6 408.2l1.9 -.1l.8 2.7l-2 -.1zM241.5 408.1l2 .5l.7 2.7l-1.9 -.5zM243.5 408.6l1.9 .6l.7 2.7l-1.9 -.6zM245.4 409.2l1.9 .6l.8 2.8l-2 -.7zM247.3 409.8l1.9 .8l.8 2.8l-1.9 -.8z"/>
<path fill="#ff00fb" stroke="#ff00fb" d="M249.2 410.6l2 1.1l.7 2.8l-1.9 -1.1z"/>
<path fill="#e200ff" stroke="#e200ff" d="M251.2 411.7l1.9 1l.8 2.8l-2 -1z"/>
<path fill="#cd00ff" stroke="#cd00ff" d="M253.1 412.7l1.9 1l.8 2.8l-1.9 -1z"/>
<path fill="#b700ff" stroke="#b700ff" d="M255.0 413.7l2 .9l.7 2.9l-1.9 -1z"/>
<path fill="#9600ff" stroke="#9600ff" d="M257.0 414.6l1.9 .9l.8 2.9l-2 -.9z"/>
<path fill="#7600ff" stroke="#7600ff" d="M258.9 415.5l1.9 1l.8 2.8l-1.9 -.9z"/>
<path fill="#4a00ff" stroke="#4a00ff" d="M260.8 416.5l2 1.1l.7 2.8l-1.9 -1.1z"/>
<path fill="#2a00ff" stroke="#2a00ff" d="M262.8 417.6l1.9 1.1l.8 2.6l-2 -.9z"/>
<path fill="#1400ff" stroke="#1400ff" d="M264.7 418.7l1.9 1.1l.8 2.5l-1.9 -1z"/>
<path fill="#0002ff" stroke="#0002ff" d="M266.6 419.8l2 1.2l.7 2.3l-1.9 -1z"/>
<path fill="#0018ff" stroke="#0018ff" d="M268.6 421.0l1.9 1.1l.8 2.2l-2 -1z"/>
<path fill="#0023ff" stroke="#0023ff" d="M270.5 422.1l1.9 1.4l.8 2l-1.9 -1.2z"/>
<path fill="#0038ff" stroke="#0038ff" d="M272.4 423.5l2 3.5l.7 1.3l-1.9 -2.8z"/>
<path fill="#004eff" stroke="#004eff" d="M274.4 427.0l1.9 4.9l.8 .5l-2 -4.1z"/>
<path fill="#7600ff" stroke="#7600ff" d="M199.8 403.6l1.9 .5l.7 1.6l-1.9 -.5zM201.7 404.1l1.9 .5l.8 1.5l-2 -.4zM203.6 404.6l2 .5l.7 1.5l-1.9 -.5zM205.6 405.1l1.9 .5l.7 1.5l-1.9 -.5zM207.5 405.6l1.9 .5l.8 1.5l-2 -.5z"/>
<path fill="#8100ff" stroke="#8100ff" d="M209.4 406.1l2 .5l.7 1.4l-1.9 -.4z"/>
<path fill="#8b00ff" stroke="#8b00ff" d="M211.4 406.6l1.9 .5l.7 1.4l-1.9 -.5z"/>
<path fill="#9600ff" stroke="#9600ff" d="M213.3 407.1l1.9 .5l.8 1.4l-2 -.5zM215.2 407.6l2 .5l.7 1.3l-1.9 -.4z"/>
<path fill="#a100ff" stroke="#a100ff" d="M217.2 408.1l1.9 .4l.7 1.4l-1.9 -.5z"/>
<path fill="#ac00ff" stroke="#ac00ff" d="M219.1 408.5l1.9 .5l.8 1.6l-2 -.7zM221.0 409.0l2 .6l.7 1.6l-1.9 -.6z"/>
<path fill="#b700ff" stroke="#b700ff" d="M223.0 409.6l1.9 .5l.7 1.7l-1.9 -.6z"/>
<path fill="#c200ff" stroke="#c200ff" d="M224.9 410.1l1.9 .4l.8 1.9l-2 -.6z"/>
<path fill="#cd00ff" stroke="#cd00ff" d="M226.8 410.5l2 .5l.7 1.9l-1.9 -.5z"/>
<path fill="#d700ff" stroke="#d700ff" d="M228.8 411.0l1.9 .1l.7 2.1l-1.9 -.3z"/>
<path fill="#e200ff" stroke="#e200ff" d="M230.7 411.1l1.9 -.1l.8 2.1l-2 .1zM232.6 411.0l1.9 -.2l.8 2.2l-1.9 .1zM234.5 410.8l2 -.2l.7 2.4l-1.9 0zM236.5 410.6l1.9 .1l.8 2.4l-2 -.1zM238.4 410.7l1.9 0l.8 2.6l-1.9 -.2zM240.3 410.7l2 .1l.7 2.6l-1.9 -.1zM242.3 410.8l1.9 .5l.8 2.7l-2 -.6zM244.2 411.3l1.9 .6l.8 2.8l-1.9 -.7zM246.1 411.9l2 .7l.7 2.7l-1.9 -.6zM248.1 412.6l1.9 .8l.8 2.8l-2 -.9z"/>
<path fill="#d700ff" stroke="#d700ff" d="M250.0 413.4l1.9 1.1l.8 2.7l-1.9 -1z"/>
<path fill="#b700ff" stroke="#b700ff" d="M251.9 414.5l2 1l.7 2.8l-1.9 -1.1z"/>
<path fill="#a100ff" stroke="#a100ff" d="M253.9 415.5l1.9 1l.8 2.9l-2 -1.1z"/>
<path fill="#8b00ff" stroke="#8b00ff" d="M255.8 416.5l1.9 1l.8 2.8l-1.9 -.9z"/>
<path fill="#7600ff" stroke="#7600ff" d="M257.7 417.5l2 .9l.7 2.8l-1.9 -.9z"/>
<path fill="#5500ff" stroke="#5500ff" d="M259.7 418.4l1.9 .9l.8 2.8l-2 -.9z"/>
<path fill="#3400ff" stroke="#3400ff" d="M261.6 419.3l1.9 1.1l.8 2.7l-1.9 -1z"/>
<path fill="#1400ff" stroke="#1400ff" d="M263.5 420.4l2 .9l.8 2.6l-2 -.8z"/>
<path fill="#0002ff" stroke="#0002ff" d="M265.5 421.3l1.9 1l.8 2.5l-1.9 -.9z"/>
<path fill="#0018ff" stroke="#0018ff" d="M267.4 422.3l1.9 1l.8 2.3l-1.9 -.8z"/>
<path fill="#0023ff" stroke="#0023ff" d="M269.3 423.3l2 1l.8 2.1l-2 -.8z"/>
<path fill="#0038ff" stroke="#0038ff" d="M271.3 424.3l1.9 1.2l.8 1.9l-1.9 -1z"/>
<path fill="#004eff" stroke="#004eff" d="M273.2 425.5l1.9 2.8l.8 1.3l-1.9 -2.2z"/>
<path fill="#0064ff" stroke="#0064ff" d="M275.1 428.3l2 4.1l.8 .4l-2 -3.2z"/>
<path fill="#0002ff" stroke="#0002ff" d="M200.5 405.2l1.9 .5l.8 1.6l-2 -.5zM202.4 405.7l2 .4l.7 1.6l-1.9 -.4z"/>
<path fill="#0900ff" stroke="#0900ff" d="M204.4 406.1l1.9 .5l.7 1.5l-1.9 -.4zM206.3 406.6l1.9 .5l.8 1.5l-2 -.5zM208.2 407.1l2 .5l.7 1.4l-1.9 -.4z"/>
<path fill="#1400ff" stroke="#1400ff" d="M210.2 407.6l1.9 .4l.7 1.4l-1.9 -.4z"/>
<path fill="#2a00ff" stroke="#2a00ff" d="M212.1 408.0l1.9 .5l.8 1.4l-2 -.5z"/>
<path fill="#3400ff" stroke="#3400ff" d="M214.0 408.5l2 .5l.7 1.3l-1.9 -.4z"/>
<path fill="#4a00ff" stroke="#4a00ff" d="M216.0 409.0l1.9 .4l.7 1.3l-1.9 -.4zM217.9 409.4l1.9 .5l.8 1.4l-2 -.6z"/>
<path fill="#5500ff" stroke="#5500ff" d="M219.8 409.9l2 .7l.7 1.5l-1.9 -.8z"/>
<path fill="#6000ff" stroke="#6000ff" d="M221.8 410.6l1.9 .6l.7 1.7l-1.9 -.8z"/>
<path fill="#6b00ff" stroke="#6b00ff" d="M223.7 411.2l1.9 .6l.8 1.8l-2 -.7zM225.6 411.8l2 .6l.7 1.8l-1.9 -.6z"/>
<path fill="#7600ff" stroke="#7600ff" d="M227.6 412.4l1.9 .5l.7 1.9l-1.9 -.6zM229.5 412.9l1.9 .3l.8 2l-2 -.4z"/>
<path fill="#8100ff" stroke="#8100ff" d="M231.4 413.2l2 -.1l.7 2.1l-1.9 0zM233.4 413.1l1.9 -.1l.8 2.3l-2 -.1zM235.3 413.0l1.9 0l.8 2.3l-1.9 0zM237.2 413.0l2 .1l.7 2.5l-1.9 -.3zM239.2 413.1l1.9 .2l.8 2.5l-2 -.2zM241.1 413.3l1.9 .1l.8 2.7l-1.9 -.3z"/>
<path fill="#8b00ff" stroke="#8b00ff" d="M243.0 413.4l2 .6l.7 2.7l-1.9 -.6zM245.0 414.0l1.9 .7l.8 2.7l-2 -.7z"/>
<path fill="#8100ff" stroke="#8100ff" d="M246.9 414.7l1.9 .6l.8 2.8l-1.9 -.7zM248.8 415.3l2 .9l.7 2.7l-1.9 -.8z"/>
<path fill="#7600ff" stroke="#7600ff" d="M250.8 416.2l1.9 1l.8 2.8l-2 -1.1z"/>
<path fill="#6000ff" stroke="#6000ff" d="M252.7 417.2l1.9 1.1l.8 2.8l-1.9 -1.1z"/>
<path fill="#5500ff" stroke="#5500ff" d="M254.6 418.3l2 1.1l.8 2.9l-2 -1.2z"/>
<path fill="#3f00ff" stroke="#3f00ff" d="M256.6 419.4l1.9 .9l.8 2.9l-1.9 -.9z"/>
<path fill="#3400ff" stroke="#3400ff" d="M258.5 420.3l1.9 .9l.8 2.8l-1.9 -.8z"/>
<path fill="#1f00ff" stroke="#1f00ff" d="M260.4 421.2l2 .9l.8 2.8l-2 -.9z"/>
<path fill="#0900ff" stroke="#0900ff" d="M262.4 422.1l1.9 1l.8 2.7l-1.9 -.9z"/>
<path fill="#000dff" stroke="#000dff" d="M264.3 423.1l2 .8l.7 2.6l-1.9 -.7z"/>
<path fill="#0023ff" stroke="#0023ff" d="M266.3 423.9l1.9 .9l.8 2.4l-2 -.7z"/>
<path fill="#002dff" stroke="#002dff" d="M268.2 424.8l1.9 .8l.8 2.4l-1.9 -.8z"/>
<path fill="#0043ff" stroke="#0043ff" d="M270.1 425.6l2 .8l.7 2.2l-1.9 -.6z"/>
<path fill="#0059ff" stroke="#0059ff" d="M272.1 426.4l1.9 1l.8 1.9l-2 -.7z"/>
<path fill="#0064ff" stroke="#0064ff" d="M274.0 427.4l1.9 2.2l.8 1.3l-1.9 -1.6z"/>
<path fill="#0079ff" stroke="#0079ff" d="M275.9 429.6l2 3.2l.7 .5l-1.9 -2.4z"/>
<path fill="#004eff" stroke="#004eff" d="M201.2 406.8l2 .5l.7 1.5l-2 -.4zM203.2 407.3l1.9 .4l.7 1.5l-1.9 -.4zM205.1 407.7l1.9 .4l.8 1.5l-2 -.4zM207.0 408.1l2 .5l.7 1.4l-1.9 -.4z"/>
<path fill="#0043ff" stroke="#0043ff" d="M209.0 408.6l1.9 .4l.7 1.4l-1.9 -.4z"/>
<path fill="#0038ff" stroke="#0038ff" d="M210.9 409.0l1.9 .4l.8 1.5l-2 -.5z"/>
<path fill="#0023ff" stroke="#0023ff" d="M212.8 409.4l2 .5l.7 1.4l-1.9 -.4z"/>
<path fill="#000dff" stroke="#000dff" d="M214.8 409.9l1.9 .4l.7 1.4l-1.9 -.4z"/>
<path fill="#0900ff" stroke="#0900ff" d="M216.7 410.3l1.9 .4l.8 1.4l-2 -.4z"/>
<path fill="#1400ff" stroke="#1400ff" d="M218.6 410.7l2 .6l.7 1.4l-1.9 -.6z"/>
<path fill="#1f00ff" stroke="#1f00ff" d="M220.6 411.3l1.9 .8l.8 1.5l-2 -.9z"/>
<path fill="#2a00ff" stroke="#2a00ff" d="M222.5 412.1l1.9 .8l.8 1.6l-1.9 -.9zM224.4 412.9l2 .7l.7 1.8l-1.9 -.9zM226.4 413.6l1.9 .6l.8 1.8l-2 -.6zM228.3 414.2l1.9 .6l.8 1.9l-1.9 -.7z"/>
<path fill="#3400ff" stroke="#3400ff" d="M230.2 414.8l2 .4l.7 2l-1.9 -.5zM232.2 415.2l1.9 0l.8 2.2l-2 -.2zM234.1 415.2l2 .1l.7 2.2l-1.9 -.1zM236.1 415.3l1.9 0l.7 2.4l-1.9 -.2zM238.0 415.3l1.9 .3l.8 2.4l-2 -.3z"/>
<path fill="#3f00ff" stroke="#3f00ff" d="M239.9 415.6l2 .2l.7 2.6l-1.9 -.4zM241.9 415.8l1.9 .3l.8 2.7l-2 -.4zM243.8 416.1l1.9 .6l.8 2.7l-1.9 -.6zM245.7 416.7l2 .7l.7 2.7l-1.9 -.7zM247.7 417.4l1.9 .7l.8 2.7l-2 -.7z"/>
<path fill="#3400ff" stroke="#3400ff" d="M249.6 418.1l1.9 .8l.8 2.8l-1.9 -.9z"/>
<path fill="#2a00ff" stroke="#2a00ff" d="M251.5 418.9l2 1.1l.7 2.8l-1.9 -1.1z"/>
<path fill="#1f00ff" stroke="#1f00ff" d="M253.5 420.0l1.9 1.1l.8 2.9l-2 -1.2z"/>
<path fill="#1400ff" stroke="#1400ff" d="M255.4 421.1l2 1.2l.7 2.8l-1.9 -1.1z"/>
<path fill="#0900ff" stroke="#0900ff" d="M257.4 422.3l1.9 .9l.8 2.8l-2 -.9z"/>
<path fill="#0002ff" stroke="#0002ff" d="M259.3 423.2l1.9 .8l.8 2.8l-1.9 -.8z"/>
<path fill="#000dff" stroke="#000dff" d="M261.2 424.0l2 .9l.7 2.8l-1.9 -.9z"/>
<path fill="#0018ff" stroke="#0018ff" d="M263.2 424.9l1.9 .9l.8 2.8l-2 -.9z"/>
<path fill="#002dff" stroke="#002dff" d="M265.1 425.8l1.9 .7l.8 2.6l-1.9 -.5z"/>
<path fill="#0043ff" stroke="#0043ff" d="M267.0 426.5l2 .7l.7 2.5l-1.9 -.6z"/>
<path fill="#0059ff" stroke="#0059ff" d="M269.0 427.2l1.9 .8l.8 2.3l-2 -.6z"/>
<path fill="#0064ff" stroke="#0064ff" d="M270.9 428.0l1.9 .6l.8 2.2l-1.9 -.5z"/>
<path fill="#0079ff" stroke="#0079ff" d="M272.8 428.6l2 .7l.8 1.9l-2 -.4z"/>
<path fill="#008fff" stroke="#008fff" d="M274.8 429.3l1.9 1.6l.8 1.3l-1.9 -1z"/>
<path fill="#00a5ff" stroke="#00a5ff" d="M276.7 430.9l1.9 2.4l.8 .4l-1.9 -1.5z"/>
<path fill="#0059ff" stroke="#0059ff" d="M201.9 408.4l2 .4l.7 1.6l-1.9 -.3zM203.9 408.8l1.9 .4l.7 1.6l-1.9 -.4zM205.8 409.2l2 .4l.7 1.6l-2 -.4zM207.8 409.6l1.9 .4l.7 1.5l-1.9 -.3z"/>
<path fill="#004eff" stroke="#004eff" d="M209.7 410.0l1.9 .4l.8 1.5l-2 -.4z"/>
<path fill="#0043ff" stroke="#0043ff" d="M211.6 410.4l2 .5l.7 1.4l-1.9 -.4z"/>
<path fill="#002dff" stroke="#002dff" d="M213.6 410.9l1.9 .4l.7 1.3l-1.9 -.3z"/>
<path fill="#0018ff" stroke="#0018ff" d="M215.5 411.3l1.9 .4l.8 1.3l-2 -.4z"/>
<path fill="#0002ff" stroke="#0002ff" d="M217.4 411.7l2 .4l.7 1.3l-1.9 -.4z"/>
<path fill="#0900ff" stroke="#0900ff" d="M219.4 412.1l1.9 .6l.8 1.4l-2 -.7zM221.3 412.7l2 .9l.7 1.5l-1.9 -1z"/>
<path fill="#1400ff" stroke="#1400ff" d="M223.3 413.6l1.9 .9l.7 1.7l-1.9 -1.1z"/>
<path fill="#1f00ff" stroke="#1f00ff" d="M225.2 414.5l1.9 .9l.8 1.7l-2 -.9zM227.1 415.4l2 .6l.7 1.8l-1.9 -.7zM229.1 416.0l1.9 .7l.8 1.9l-2 -.8zM231.0 416.7l1.9 .5l.8 2l-1.9 -.6zM232.9 417.2l2 .2l.7 2.1l-1.9 -.3zM234.9 417.4l1.9 .1l.8 2.3l-2 -.3zM236.8 417.5l1.9 .2l.8 2.3l-1.9 -.2zM238.7 417.7l2 .3l.7 2.5l-1.9 -.5z"/>
<path fill="#2a00ff" stroke="#2a00ff" d="M240.7 418.0l1.9 .4l.8 2.6l-2 -.5zM242.6 418.4l2 .4l.7 2.6l-1.9 -.4zM244.6 418.8l1.9 .6l.8 2.7l-2 -.7zM246.5 419.4l1.9 .7l.8 2.7l-1.9 -.7z"/>
<path fill="#1f00ff" stroke="#1f00ff" d="M248.4 420.1l2 .7l.7 2.8l-1.9 -.8z"/>
<path fill="#1400ff" stroke="#1400ff" d="M250.4 420.8l1.9 .9l.8 2.7l-2 -.8z"/>
<path fill="#0900ff" stroke="#0900ff" d="M252.3 421.7l1.9 1.1l.8 2.8l-1.9 -1.2z"/>
<path fill="#0002ff" stroke="#0002ff" d="M254.2 422.8l2 1.2l.8 2.8l-2 -1.2z"/>
<path fill="#000dff" stroke="#000dff" d="M256.2 424.0l1.9 1.1l.8 2.9l-1.9 -1.2z"/>
<path fill="#0018ff" stroke="#0018ff" d="M258.1 425.1l2 .9l.7 2.8l-1.9 -.8z"/>
<path fill="#0023ff" stroke="#0023ff" d="M260.1 426.0l1.9 .8l.8 2.9l-2 -.9z"/>
<path fill="#002dff" stroke="#002dff" d="M262.0 426.8l1.9 .9l.8 2.8l-1.9 -.8z"/>
<path fill="#0038ff" stroke="#0038ff" d="M263.9 427.7l2 .9l.7 2.7l-1.9 -.8z"/>
<path fill="#0059ff" stroke="#0059ff" d="M265.9 428.6l1.9 .5l.8 2.6l-2 -.4z"/>
<path fill="#006fff" stroke="#006fff" d="M267.8 429.1l1.9 .6l.8 2.5l-1.9 -.5z"/>
<path fill="#0084ff" stroke="#0084ff" d="M269.7 429.7l2 .6l.8 2.3l-2 -.4z"/>
<path fill="#009aff" stroke="#009aff" d="M271.7 430.3l1.9 .5l.8 2.2l-1.9 -.4z"/>
<path fill="#00bbff" stroke="#00bbff" d="M273.6 430.8l2 .4l.7 1.9l-1.9 -.1z"/>
<path fill="#00e6ff" stroke="#00e6ff" d="M275.6 431.2l1.9 1l.8 1.3l-2 -.4z"/>
<path fill="#00fff7" stroke="#00fff7" d="M277.5 432.2l1.9 1.5l.8 .5l-1.9 -.7z"/>
<path fill="#0064ff" stroke="#0064ff" d="M202.7 410.1l1.9 .3l.7 1.6l-1.9 -.3zM204.6 410.4l1.9 .4l.8 1.6l-2 -.4zM206.5 410.8l2 .4l.7 1.5l-1.9 -.3zM208.5 411.2l1.9 .3l.8 1.5l-2 -.3zM210.4 411.5l2 .4l.7 1.4l-1.9 -.3z"/>
<path fill="#004eff" stroke="#004eff" d="M212.4 411.9l1.9 .4l.7 1.4l-1.9 -.4z"/>
<path fill="#0038ff" stroke="#0038ff" d="M214.3 412.3l1.9 .3l.8 1.4l-2 -.3z"/>
<path fill="#0023ff" stroke="#0023ff" d="M216.2 412.6l2 .4l.7 1.4l-1.9 -.4z"/>
<path fill="#000dff" stroke="#000dff" d="M218.2 413.0l1.9 .4l.8 1.3l-2 -.3z"/>
<path fill="#0002ff" stroke="#0002ff" d="M220.1 413.4l2 .7l.7 1.4l-1.9 -.8zM222.1 414.1l1.9 1l.7 1.5l-1.9 -1.1z"/>
<path fill="#0900ff" stroke="#0900ff" d="M224.0 415.1l1.9 1.1l.8 1.6l-2 -1.2zM225.9 416.2l2 .9l.7 1.8l-1.9 -1.1zM227.9 417.1l1.9 .7l.8 1.9l-2 -.8zM229.8 417.8l2 .8l.7 1.9l-1.9 -.8zM231.8 418.6l1.9 .6l.7 2.1l-1.9 -.8zM233.7 419.2l1.9 .3l.8 2.2l-2 -.4zM235.6 419.5l2 .3l.7 2.2l-1.9 -.3zM237.6 419.8l1.9 .2l.8 2.4l-2 -.4z"/>
<path fill="#1400ff" stroke="#1400ff" d="M239.5 420.0l1.9 .5l.8 2.4l-1.9 -.5zM241.4 420.5l2 .5l.7 2.5l-1.9 -.6zM243.4 421.0l1.9 .4l.8 2.7l-2 -.6zM245.3 421.4l2 .7l.7 2.7l-1.9 -.7zM247.3 422.1l1.9 .7l.8 2.8l-2 -.8z"/>
<path fill="#0900ff" stroke="#0900ff" d="M249.2 422.8l1.9 .8l.8 2.7l-1.9 -.7z"/>
<path fill="#0002ff" stroke="#0002ff" d="M251.1 423.6l2 .8l.7 2.8l-1.9 -.9z"/>
<path fill="#000dff" stroke="#000dff" d="M253.1 424.4l1.9 1.2l.8 2.8l-2 -1.2z"/>
<path fill="#0018ff" stroke="#0018ff" d="M255.0 425.6l2 1.2l.7 2.8l-1.9 -1.2z"/>
<path fill="#0023ff" stroke="#0023ff" d="M257.0 426.8l1.9 1.2l.8 2.8l-2 -1.2z"/>
<path fill="#002dff" stroke="#002dff" d="M258.9 428.0l1.9 .8l.8 2.9l-1.9 -.9z"/>
<path fill="#0038ff" stroke="#0038ff" d="M260.8 428.8l2 .9l.7 2.8l-1.9 -.8z"/>
<path fill="#0043ff" stroke="#0043ff" d="M262.8 429.7l1.9 .8l.8 2.8l-2 -.8z"/>
<path fill="#0059ff" stroke="#0059ff" d="M264.7 430.5l1.9 .8l.8 2.7l-1.9 -.7z"/>
<path fill="#0079ff" stroke="#0079ff" d="M266.6 431.3l2 .4l.8 2.6l-2 -.3z"/>
<path fill="#009aff" stroke="#009aff" d="M268.6 431.7l1.9 .5l.8 2.4l-1.9 -.3z"/>
<path fill="#00bbff" stroke="#00bbff" d="M270.5 432.2l2 .4l.7 2.4l-1.9 -.4z"/>
<path fill="#00d0ff" stroke="#00d0ff" d="M272.5 432.6l1.9 .4l.8 2.2l-2 -.2z"/>
<path fill="#00fcff" stroke="#00fcff" d="M274.4 433.0l1.9 .1l.8 1.9l-1.9 .2z"/>
<path fill="#00ffcc" stroke="#00ffcc" d="M276.3 433.1l2 .4l.8 1.3l-2 .2z"/>
<path fill="#00ff97" stroke="#00ff97" d="M278.3 433.5l1.9 .7l.8 .4l-1.9 .2z"/>
<path fill="#fff000" stroke="#fff000" d="M212.9 413.5l1.2 .2l0 17.5l-1.2 -.4z"/>
<path fill="#fffb00" stroke="#fffb00" d="M214.1 413.7l1.1 .2l0 17.6l-1.1 -.3zM215.2 413.9l1.2 .2l0 17.8l-1.2 -.4zM216.4 414.1l1.2 .1l0 18l-1.2 -.3zM217.6 414.2l1.1 .2l0 18.2l-1.1 -.4zM218.7 414.4l1.2 .2l0 18.4l-1.2 -.4zM219.9 414.6l1.2 .2l0 18.5l-1.2 -.3z"/>
<path fill="#f9ff00" stroke="#f9ff00" d="M221.1 414.8l1.1 .4l0 18.5l-1.1 -.4z"/>
<path fill="#eeff00" stroke="#eeff00" d="M222.2 415.2l1.2 .7l0 18.1l-1.2 -.3z"/>
<path fill="#e3ff00" stroke="#e3ff00" d="M223.4 415.9l1.2 .7l0 17.8l-1.2 -.4zM224.6 416.6l1.2 .6l0 17.5l-1.2 -.3z"/>
<path fill="#c3ff00" stroke="#c3ff00" d="M225.8 417.2l1.1 .7l0 17.2l-1.1 -.4z"/>
<path fill="#a2ff00" stroke="#a2ff00" d="M226.9 417.9l1.2 .7l0 16.9l-1.2 -.4z"/>
<path fill="#82ff00" stroke="#82ff00" d="M228.1 418.6l1.2 .5l0 16.7l-1.2 -.3z"/>
<path fill="#56ff00" stroke="#56ff00" d="M229.3 419.1l1.1 .5l0 16.6l-1.1 -.4z"/>
<path fill="#2bff00" stroke="#2bff00" d="M230.4 419.6l1.2 .5l0 16.4l-1.2 -.3z"/>
<path fill="#00ff0b" stroke="#00ff0b" d="M231.6 420.1l1.2 .5l0 16.3l-1.2 -.4zM232.8 420.6l1.1 .5l0 16.1l-1.1 -.3z"/>
<path fill="#20ff00" stroke="#20ff00" d="M233.9 421.1l1.2 .3l0 16.2l-1.2 -.4z"/>
<path fill="#41ff00" stroke="#41ff00" d="M235.1 421.4l1.2 .2l0 16.4l-1.2 -.4z"/>
<path fill="#61ff00" stroke="#61ff00" d="M236.3 421.6l1.1 .3l0 16.4l-1.1 -.3z"/>
<path fill="#77ff00" stroke="#77ff00" d="M237.4 421.9l1.2 .2l0 16.6l-1.2 -.4z"/>
<path fill="#8dff00" stroke="#8dff00" d="M238.6 422.1l1.2 .2l0 16.7l-1.2 -.3z"/>
<path fill="#a2ff00" stroke="#a2ff00" d="M239.8 422.3l1.1 .2l0 16.9l-1.1 -.4z"/>
<path fill="#b8ff00" stroke="#b8ff00" d="M240.9 422.5l1.2 .4l0 16.9l-1.2 -.4z"/>
<path fill="#c3ff00" stroke="#c3ff00" d="M242.1 422.9l1.2 .3l0 16.9l-1.2 -.3z"/>
<path fill="#d8ff00" stroke="#d8ff00" d="M243.3 423.2l1.1 .4l0 16.9l-1.1 -.4z"/>
<path fill="#e3ff00" stroke="#e3ff00" d="M244.4 423.6l1.2 .4l0 16.8l-1.2 -.3z"/>
<path fill="#f9ff00" stroke="#f9ff00" d="M245.6 424.0l1.2 .3l0 16.9l-1.2 -.4z"/>
<path fill="#fffb00" stroke="#fffb00" d="M246.8 424.3l1.2 .5l0 16.8l-1.2 -.4zM247.9 424.8l1.1 .4l0 16.7l-1.1 -.3z"/>
<path fill="#fff000" stroke="#fff000" d="M249.1 425.2l1.2 .5l0 16.6l-1.2 -.4z"/>
<path fill="#ffe500" stroke="#ffe500" d="M250.3 425.7l1.2 .4l0 16.5l-1.2 -.3zM251.5 426.1l1.1 .5l0 16.4l-1.1 -.4z"/>
<path fill="#ffda00" stroke="#ffda00" d="M252.6 426.6l1.2 .5l0 16.2l-1.2 -.3z"/>
<path fill="#ffcf00" stroke="#ffcf00" d="M253.8 427.1l1.2 .9l0 15.7l-1.2 -.4z"/>
<path fill="#ffc400" stroke="#ffc400" d="M255.0 428.0l1.1 .8l0 15.3l-1.1 -.4z"/>
<path fill="#ffba00" stroke="#ffba00" d="M256.1 428.8l1.2 .8l0 14.8l-1.2 -.3z"/>
<path fill="#ffaf00" stroke="#ffaf00" d="M257.3 429.6l1.2 .9l0 14.3l-1.2 -.4zM258.5 430.5l1.1 .8l0 13.8l-1.1 -.3z"/>
<path fill="#ffa400" stroke="#ffa400" d="M259.6 431.3l1.2 .5l0 13.7l-1.2 -.4zM260.8 431.8l1.2 .5l0 13.5l-1.2 -.3zM262.0 432.3l1.1 .4l0 13.5l-1.1 -.4z"/>
<path fill="#ff9900" stroke="#ff9900" d="M263.1 432.7l1.2 .4l0 13.5l-1.2 -.4zM264.3 433.1l1.2 .4l0 13.4l-1.2 -.3zM265.5 433.5l1.1 .5l0 13.3l-1.1 -.4zM266.6 434.0l1.2 .3l0 13.3l-1.2 -.3zM267.8 434.3l1.2 .1l0 13.6l-1.2 -.4zM269.0 434.4l1.1 .2l0 13.8l-1.1 -.4zM270.1 434.6l1.2 .1l0 14l-1.2 -.3z"/>
<path fill="#ff8e00" stroke="#ff8e00" d="M271.3 434.7l1.2 .2l0 14.2l-1.2 -.4zM272.5 434.9l1.2 .1l0 14.4l-1.2 -.3zM273.7 435.0l1.1 .2l0 14.6l-1.1 -.4zM274.8 435.2l1.2 0l0 15l-1.2 -.4zM276.0 435.2l1.2 0l0 15.3l-1.2 -.3zM277.2 435.2l1.1 0l0 15.7l-1.1 -.4zM278.3 435.2l1.2 0l0 16l-1.2 -.3zM279.5 435.2l1.2 0l0 16.4l-1.2 -.4zM280.7 435.2l1.1 0l0 16.7l-1.1 -.3zM281.8 435.2l1.2 0l0 17.1l-1.2 -.4z"/>
</g>
<path d="M198.1 444.2L269.9 466.9M269.9 466.9L310.6 429.4M310.6 429.4L313.2 375.4M198.3 444.2L197.2 445.1M208 447.3L206.9 448.2M217.7 450.4L216.6 451.3M227.5 453.5L226.4 454.4M237.4 456.6L236.3 457.6M247.4 459.8L246.3 460.7M257.5 462.9L256.4 463.9M267.6 466.2L266.6 467.1M274.1 463L275.9 463.6M279.6 457.9L281.5 458.5M285.1 452.8L286.9 453.4M290.5 447.9L292.3 448.4M295.8 443L297.6 443.5M301 438.1L302.8 438.7M306.2 433.4L308 433.9M313.1 377.2L314.3 377.4M312.5 389L313.7 389.2M312 400.6L313.2 400.7M311.4 412L312.6 412.1M310.9 423.1L312.1 423.3" stroke="#666" stroke-width="0.45" fill="none"/>
<g font-family="'DejaVu Sans','Liberation Sans',sans-serif" font-size="5" fill="#444" text-anchor="middle">
<text x="194.5" y="456.1">0</text>
<text x="204.5" y="459.4">50</text>
<text x="214.5" y="462.8">100</text>
<text x="224.5" y="466.1">150</text>
<text x="234.5" y="469.4">200</text>
<text x="244.5" y="472.7">250</text>
<text x="254.5" y="476.1">300</text>
<text x="264.5" y="479.4">350</text>
<text x="282.4" y="473.8">200</text>
<text x="287.6" y="468.4">400</text>
<text x="292.8" y="463">600</text>
<text x="297.9" y="457.6">800</text>
<text x="303.1" y="452.1">1000</text>
<text x="308.2" y="446.7">1200</text>
<text x="313.4" y="441.3">1400</text>
<text x="321.9" y="379">0</text>
<text x="321.3" y="390.8">−10</text>
<text x="320.8" y="402.3">−20</text>
<text x="320.2" y="413.7">−30</text>
<text x="319.7" y="424.9">−40</text>
<text transform="translate(225.5 472.8) rotate(20)" y="1.8">DOA (°)</text>
<text transform="translate(304.8 460.9) rotate(-46)" y="1.8">Frequency (Hz)</text>
</g>
<rect x="327.6" y="378" width="13.4" height="65.8" fill="url(#gr)"/>
<g font-family="'DejaVu Sans','Liberation Sans',sans-serif" font-size="5" fill="#444">
<text x="344.2" y="390.1">−10</text>
<text x="344.2" y="406.3">−20</text>
<text x="344.2" y="422.5">−30</text>
<text x="344.2" y="438.7">−40</text>
<text transform="translate(360.3 410.9) rotate(-90)" text-anchor="middle">Pseudo-beam (dB)</text>
</g>
<path d="M341 388.4h1.4M341 404.6h1.4M341 420.8h1.4M341 437h1.4" stroke="#555" stroke-width="0.4"/>
</g>
<g>
<polygon points="382.1,444.2 425.1,408.8 424.5,355.5 379.4,389.7" fill="#fbfbfb" stroke="#d8d8d8" stroke-width="0.3"/>
<polygon points="425.1,408.8 494.6,429.4 497.2,375.4 424.5,355.5" fill="#fbfbfb" stroke="#d8d8d8" stroke-width="0.3"/>
<polygon points="382.1,444.2 453.9,466.9 494.6,429.4 425.1,408.8" fill="#fcfcfc" stroke="#dcdcdc" stroke-width="0.3"/>
<path d="M425.3 408.9L424.7 355.6M382.3 444.2L425.3 408.9M434.7 411.6L434.5 358.3M392 447.3L434.7 411.6M444.1 414.4L444.3 360.9M401.7 450.4L444.1 414.4M453.6 417.2L454.3 363.7M411.5 453.5L453.6 417.2M463.2 420.1L464.3 366.4M421.4 456.6L463.2 420.1M472.8 422.9L474.4 369.2M431.4 459.8L472.8 422.9M482.6 425.8L484.6 371.9M441.5 462.9L482.6 425.8M492.4 428.7L494.9 374.8M451.6 466.2L492.4 428.7M386.6 440.5L384.1 386.2M458.1 463L386.6 440.5M392.4 435.7L390.2 381.5M463.6 457.9L392.4 435.7M398.2 431L396.3 376.9M469.1 452.8L398.2 431M403.9 426.3L402.3 372.4M474.5 447.9L403.9 426.3M409.5 421.7L408.1 367.9M479.8 443L409.5 421.7M415 417.1L414 363.5M485 438.1L415 417.1M420.5 412.6L419.7 359.2M490.2 433.4L420.5 412.6M379.6 392.8L424.5 358.5M424.5 358.5L497 378.4M380.2 404.9L424.7 370.3M424.7 370.3L496.4 390.4M380.8 416.7L424.8 381.9M424.8 381.9L495.9 402.1M381.4 428.3L424.9 393.3M424.9 393.3L495.3 413.6M381.9 439.7L425.1 404.4M425.1 404.4L494.8 424.9" stroke="#c6c6c6" stroke-width="0.55" fill="none"/>
<g stroke-width="0.35" stroke-linejoin="round">
<path fill="#38588c" stroke="#38588c" d="M383.8 443.0l71.3 22.5l37.5 -34.6l-69.2 -20.5z"/>
<path fill="#287d8e" stroke="#287d8e" d="M383.8 443.0l71.3 22.5l4.5 -4.1l-20.2 -8.7l-20.2 -12.6l-19.7 -10z"/>
<path fill="#23898e" stroke="#23898e" d="M383.8 443.0l59.1 18.7l-16.6 -9.4l-35.7 -14.9z"/>
<path fill="#481d6f" stroke="#481d6f" d="M462.7 437.8l11.6 10l11.8 -10.9l-10.5 -4.8z"/>
<path fill="#00a5ff" stroke="#00a5ff" d="M412.5 405.5l1.8 -.3l0 .8l-1.8 .3z"/>
<path fill="#00b0ff" stroke="#00b0ff" d="M414.3 405.2l1.8 -.4l0 .9l-1.8 .3z"/>
<path fill="#00bbff" stroke="#00bbff" d="M416.1 404.8l1.8 -.3l0 1l-1.8 .2z"/>
<path fill="#00c6ff" stroke="#00c6ff" d="M417.9 404.5l1.8 -.3l0 1l-1.8 .3zM419.7 404.2l1.8 -.4l0 1.1l-1.8 .3z"/>
<path fill="#00dbff" stroke="#00dbff" d="M421.5 403.8l1.8 -.4l0 1.2l-1.8 .3z"/>
<path fill="#00e6ff" stroke="#00e6ff" d="M423.3 403.4l1.8 -.3l0 1.1l-1.8 .4z"/>
<path fill="#00fcff" stroke="#00fcff" d="M425.1 403.1l1.8 -.4l0 1.2l-1.8 .3z"/>
<path fill="#00fff7" stroke="#00fff7" d="M426.9 402.7l1.8 -.4l0 1.3l-1.8 .3z"/>
<path fill="#00ffd7" stroke="#00ffd7" d="M428.7 402.3l1.8 -.3l0 1.4l-1.8 .2z"/>
<path fill="#00ffb7" stroke="#00ffb7" d="M430.5 402.0l1.8 -.3l0 1.4l-1.8 .3z"/>
<path fill="#00ff97" stroke="#00ff97" d="M432.3 401.7l1.8 -.5l0 1.5l-1.8 .4z"/>
<path fill="#00ff81" stroke="#00ff81" d="M434.1 401.2l1.8 -.7l0 1.6l-1.8 .6z"/>
<path fill="#00ff6c" stroke="#00ff6c" d="M435.9 400.5l1.8 -.8l0 1.9l-1.8 .5z"/>
<path fill="#00ff56" stroke="#00ff56" d="M437.7 399.7l1.8 -.7l0 2l-1.8 .6z"/>
<path fill="#00ff4b" stroke="#00ff4b" d="M439.5 399.0l1.8 0l0 2.1l-1.8 -.1zM441.3 399.0l1.8 .9l0 2l-1.8 -.8z"/>
<path fill="#00ff41" stroke="#00ff41" d="M443.1 399.9l1.8 .9l0 2l-1.8 -.9zM444.9 400.8l1.8 .9l0 2l-1.8 -.9z"/>
<path fill="#00ff2b" stroke="#00ff2b" d="M446.7 401.7l1.8 1.1l0 1.9l-1.8 -1zM448.5 402.8l1.8 1.3l0 1.8l-1.8 -1.2zM450.3 404.1l1.7 1.3l0 1.7l-1.7 -1.2zM452.1 405.4l1.8 1.2l0 1.9l-1.8 -1.4zM453.8 406.6l1.8 -.2l0 2.6l-1.8 -.5zM455.6 406.4l1.8 -.5l0 2.9l-1.8 .2z"/>
<path fill="#00ff20" stroke="#00ff20" d="M457.4 405.9l1.8 -1.3l0 3.2l-1.8 1zM459.2 404.6l1.8 -4.4l0 3.9l-1.8 3.7zM461.0 400.2l1.8 2.7l0 3.6l-1.8 -2.4z"/>
<path fill="#00ff00" stroke="#00ff00" d="M462.8 402.9l1.8 2.9l0 3.4l-1.8 -2.7z"/>
<path fill="#20ff00" stroke="#20ff00" d="M464.6 405.8l1.8 3l0 3l-1.8 -2.6z"/>
<path fill="#41ff00" stroke="#41ff00" d="M466.4 408.8l1.8 2.6l0 2.8l-1.8 -2.4z"/>
<path fill="#6cff00" stroke="#6cff00" d="M468.2 411.4l1.8 1.8l0 2.6l-1.8 -1.6z"/>
<path fill="#97ff00" stroke="#97ff00" d="M470.0 413.2l1.8 1.8l0 2.4l-1.8 -1.6z"/>
<path fill="#c3ff00" stroke="#c3ff00" d="M471.8 415.0l1.8 1.8l0 2.1l-1.8 -1.5z"/>
<path fill="#e3ff00" stroke="#e3ff00" d="M473.6 416.8l1.8 1.6l0 1.9l-1.8 -1.4z"/>
<path fill="#fff000" stroke="#fff000" d="M475.4 418.4l1.8 1.5l0 1.6l-1.8 -1.2z"/>
<path fill="#ffcf00" stroke="#ffcf00" d="M477.2 419.9l1.8 1.4l0 1.3l-1.8 -1.1z"/>
<path fill="#ffa400" stroke="#ffa400" d="M479.0 421.3l1.8 1.4l0 1.1l-1.8 -1.2z"/>
<path fill="#ff8400" stroke="#ff8400" d="M480.8 422.7l1.8 1.1l0 .9l-1.8 -.9z"/>
<path fill="#ff6300" stroke="#ff6300" d="M482.6 423.8l1.8 .9l0 .7l-1.8 -.7z"/>
<path fill="#ff4300" stroke="#ff4300" d="M484.4 424.7l1.8 .9l0 .5l-1.8 -.7z"/>
<path fill="#ff2d00" stroke="#ff2d00" d="M486.2 425.6l1.8 .9l0 .3l-1.8 -.7z"/>
<path fill="#ff1800" stroke="#ff1800" d="M488.0 426.5l1.8 .5l0 .2l-1.8 -.4z"/>
<path fill="#ff0200" stroke="#ff0200" d="M489.8 427.0l1.8 .5l0 0l-1.8 -.3z"/>
<path fill="#0064ff" stroke="#0064ff" d="M412.5 406.3l1.8 -.3l0 .9l-1.8 .2z"/>
<path fill="#006fff" stroke="#006fff" d="M414.3 406.0l1.8 -.3l0 1l-1.8 .2z"/>
<path fill="#0079ff" stroke="#0079ff" d="M416.1 405.7l1.8 -.2l0 .9l-1.8 .3z"/>
<path fill="#0084ff" stroke="#0084ff" d="M417.9 405.5l1.8 -.3l0 1l-1.8 .2z"/>
<path fill="#008fff" stroke="#008fff" d="M419.7 405.2l1.8 -.3l0 1.1l-1.8 .2z"/>
<path fill="#00a5ff" stroke="#00a5ff" d="M421.5 404.9l1.8 -.3l0 1.1l-1.8 .3z"/>
<path fill="#00b0ff" stroke="#00b0ff" d="M423.3 404.6l1.8 -.4l0 1.2l-1.8 .3z"/>
<path fill="#00c6ff" stroke="#00c6ff" d="M425.1 404.2l1.8 -.3l0 1.3l-1.8 .2z"/>
<path fill="#00d0ff" stroke="#00d0ff" d="M426.9 403.9l1.8 -.3l0 1.3l-1.8 .3z"/>
<path fill="#00f1ff" stroke="#00f1ff" d="M428.7 403.6l1.8 -.2l0 1.3l-1.8 .2z"/>
<path fill="#00ffed" stroke="#00ffed" d="M430.5 403.4l1.8 -.3l0 1.4l-1.8 .2z"/>
<path fill="#00ffcc" stroke="#00ffcc" d="M432.3 403.1l1.8 -.4l0 1.5l-1.8 .3z"/>
<path fill="#00ffb7" stroke="#00ffb7" d="M434.1 402.7l1.8 -.6l0 1.7l-1.8 .4z"/>
<path fill="#00ffa1" stroke="#00ffa1" d="M435.9 402.1l1.8 -.5l0 1.8l-1.8 .4z"/>
<path fill="#00ff8c" stroke="#00ff8c" d="M437.7 401.6l1.8 -.6l0 2l-1.8 .4z"/>
<path fill="#00ff76" stroke="#00ff76" d="M439.5 401.0l1.8 .1l0 2.1l-1.8 -.2zM441.3 401.1l1.8 .8l0 2.1l-1.8 -.8z"/>
<path fill="#00ff6c" stroke="#00ff6c" d="M443.1 401.9l1.8 .9l0 2l-1.8 -.8z"/>
<path fill="#00ff61" stroke="#00ff61" d="M444.9 402.8l1.8 .9l0 2l-1.8 -.9z"/>
<path fill="#00ff2b" stroke="#00ff2b" d="M446.7 403.7l1.8 1l0 2l-1.8 -1zM448.5 404.7l1.8 1.2l0 1.9l-1.8 -1.1zM450.3 405.9l1.7 1.2l0 1.8l-1.7 -1.1zM452.1 407.1l1.8 1.4l0 2l-1.8 -1.6zM453.8 408.5l1.8 .5l0 2.7l-1.8 -1.2zM455.6 409.0l1.8 -.2l0 2.8l-1.8 .1z"/>
<path fill="#00ff20" stroke="#00ff20" d="M457.4 408.8l1.8 -1l0 3.2l-1.8 .6zM459.2 407.8l1.8 -3.7l0 3.8l-1.8 3.1zM461.0 404.1l1.8 2.4l0 3.6l-1.8 -2.2z"/>
<path fill="#00ff00" stroke="#00ff00" d="M462.8 406.5l1.8 2.7l0 3.3l-1.8 -2.4z"/>
<path fill="#20ff00" stroke="#20ff00" d="M464.6 409.2l1.8 2.6l0 3l-1.8 -2.3z"/>
<path fill="#41ff00" stroke="#41ff00" d="M466.4 411.8l1.8 2.4l0 2.7l-1.8 -2.1z"/>
<path fill="#6cff00" stroke="#6cff00" d="M468.2 414.2l1.8 1.6l0 2.5l-1.8 -1.4z"/>
<path fill="#97ff00" stroke="#97ff00" d="M470.0 415.8l1.8 1.6l0 2.3l-1.8 -1.4z"/>
<path fill="#c3ff00" stroke="#c3ff00" d="M471.8 417.4l1.8 1.5l0 2.1l-1.8 -1.3z"/>
<path fill="#e3ff00" stroke="#e3ff00" d="M473.6 418.9l1.8 1.4l0 1.8l-1.8 -1.1z"/>
<path fill="#fff000" stroke="#fff000" d="M475.4 420.3l1.8 1.2l0 1.6l-1.8 -1z"/>
<path fill="#ffcf00" stroke="#ffcf00" d="M477.2 421.5l1.8 1.1l0 1.4l-1.8 -.9z"/>
<path fill="#ffa400" stroke="#ffa400" d="M479.0 422.6l1.8 1.2l0 1.1l-1.8 -.9z"/>
<path fill="#ff8400" stroke="#ff8400" d="M480.8 423.8l1.8 .9l0 .8l-1.8 -.6z"/>
<path fill="#ff6300" stroke="#ff6300" d="M482.6 424.7l1.8 .7l0 .6l-1.8 -.5z"/>
<path fill="#ff4300" stroke="#ff4300" d="M484.4 425.4l1.8 .7l0 .4l-1.8 -.5z"/>
<path fill="#ff2d00" stroke="#ff2d00" d="M486.2 426.1l1.8 .7l0 .2l-1.8 -.5z"/>
<path fill="#ff1800" stroke="#ff1800" d="M488.0 426.8l1.8 .4l0 .1l-1.8 -.3z"/>
<path fill="#ff0200" stroke="#ff0200" d="M489.8 427.2l1.8 .3l0 .1l-1.8 -.3z"/>
<path fill="#002dff" stroke="#002dff" d="M412.5 407.1l1.8 -.2l0 .9l-1.8 .1z"/>
<path fill="#0038ff" stroke="#0038ff" d="M414.3 406.9l1.8 -.2l0 .9l-1.8 .2z"/>
<path fill="#0043ff" stroke="#0043ff" d="M416.1 406.7l1.8 -.3l0 1l-1.8 .2z"/>
<path fill="#004eff" stroke="#004eff" d="M417.9 406.4l1.8 -.2l0 1l-1.8 .2z"/>
<path fill="#0059ff" stroke="#0059ff" d="M419.7 406.2l1.8 -.2l0 1l-1.8 .2z"/>
<path fill="#006fff" stroke="#006fff" d="M421.5 406.0l1.8 -.3l0 1.1l-1.8 .2z"/>
<path fill="#0079ff" stroke="#0079ff" d="M423.3 405.7l1.8 -.3l0 1.2l-1.8 .2z"/>
<path fill="#008fff" stroke="#008fff" d="M425.1 405.4l1.8 -.2l0 1.2l-1.8 .2z"/>
<path fill="#00a5ff" stroke="#00a5ff" d="M426.9 405.2l1.8 -.3l0 1.4l-1.8 .1z"/>
<path fill="#00bbff" stroke="#00bbff" d="M428.7 404.9l1.8 -.2l0 1.4l-1.8 .2z"/>
<path fill="#00dbff" stroke="#00dbff" d="M430.5 404.7l1.8 -.2l0 1.4l-1.8 .2z"/>
<path fill="#00fcff" stroke="#00fcff" d="M432.3 404.5l1.8 -.3l0 1.5l-1.8 .2z"/>
<path fill="#00ffed" stroke="#00ffed" d="M434.1 404.2l1.8 -.4l0 1.7l-1.8 .2z"/>
<path fill="#00ffd7" stroke="#00ffd7" d="M435.9 403.8l1.8 -.4l0 1.9l-1.8 .2z"/>
<path fill="#00ffb7" stroke="#00ffb7" d="M437.7 403.4l1.8 -.4l0 2l-1.8 .3z"/>
<path fill="#00ffac" stroke="#00ffac" d="M439.5 403.0l1.8 .2l0 2.1l-1.8 -.3z"/>
<path fill="#00ffa1" stroke="#00ffa1" d="M441.3 403.2l1.8 .8l0 2.1l-1.8 -.8z"/>
<path fill="#00ff97" stroke="#00ff97" d="M443.1 404.0l1.8 .8l0 2.1l-1.8 -.8z"/>
<path fill="#00ff8c" stroke="#00ff8c" d="M444.9 404.8l1.8 .9l0 2l-1.8 -.8z"/>
<path fill="#00ff2b" stroke="#00ff2b" d="M446.7 405.7l1.8 1l0 1.9l-1.8 -.9zM448.5 406.7l1.8 1.1l0 1.8l-1.8 -1zM450.3 407.8l1.7 1.1l0 1.8l-1.7 -1.1zM452.1 408.9l1.8 1.6l0 1.9l-1.8 -1.7zM453.8 410.5l1.8 1.2l0 2.6l-1.8 -1.9zM455.6 411.7l1.8 -.1l0 2.9l-1.8 -.2z"/>
<path fill="#00ff20" stroke="#00ff20" d="M457.4 411.6l1.8 -.6l0 3.2l-1.8 .3zM459.2 411.0l1.8 -3.1l0 3.8l-1.8 2.5zM461.0 407.9l1.8 2.2l0 3.6l-1.8 -2z"/>
<path fill="#00ff00" stroke="#00ff00" d="M462.8 410.1l1.8 2.4l0 3.3l-1.8 -2.1z"/>
<path fill="#20ff00" stroke="#20ff00" d="M464.6 412.5l1.8 2.3l0 3l-1.8 -2z"/>
<path fill="#41ff00" stroke="#41ff00" d="M466.4 414.8l1.8 2.1l0 2.7l-1.8 -1.8z"/>
<path fill="#6cff00" stroke="#6cff00" d="M468.2 416.9l1.8 1.4l0 2.5l-1.8 -1.2z"/>
<path fill="#97ff00" stroke="#97ff00" d="M470.0 418.3l1.8 1.4l0 2.4l-1.8 -1.3z"/>
<path fill="#c3ff00" stroke="#c3ff00" d="M471.8 419.7l1.8 1.3l0 2.1l-1.8 -1z"/>
<path fill="#e3ff00" stroke="#e3ff00" d="M473.6 421.0l1.8 1.1l0 1.8l-1.8 -.8z"/>
<path fill="#fff000" stroke="#fff000" d="M475.4 422.1l1.8 1l0 1.6l-1.8 -.8z"/>
<path fill="#ffcf00" stroke="#ffcf00" d="M477.2 423.1l1.8 .9l0 1.3l-1.8 -.6z"/>
<path fill="#ffa400" stroke="#ffa400" d="M479.0 424.0l1.8 .9l0 1.1l-1.8 -.7z"/>
<path fill="#ff8400" stroke="#ff8400" d="M480.8 424.9l1.8 .6l0 .9l-1.8 -.4z"/>
<path fill="#ff6300" stroke="#ff6300" d="M482.6 425.5l1.8 .5l0 .7l-1.8 -.3z"/>
<path fill="#ff4300" stroke="#ff4300" d="M484.4 426.0l1.8 .5l0 .5l-1.8 -.3z"/>
<path fill="#ff2d00" stroke="#ff2d00" d="M486.2 426.5l1.8 .5l0 .3l-1.8 -.3z"/>
<path fill="#ff1800" stroke="#ff1800" d="M488.0 427.0l1.8 .3l0 .2l-1.8 -.2z"/>
<path fill="#ff0200" stroke="#ff0200" d="M489.8 427.3l1.8 .3l0 0l-1.8 -.1z"/>
<path fill="#1400ff" stroke="#1400ff" d="M412.5 407.9l1.8 -.1l0 .8l-1.8 .2z"/>
<path fill="#0900ff" stroke="#0900ff" d="M414.3 407.8l1.8 -.2l0 .9l-1.8 .1z"/>
<path fill="#000dff" stroke="#000dff" d="M416.1 407.6l1.8 -.2l0 1l-1.8 .1z"/>
<path fill="#0018ff" stroke="#0018ff" d="M417.9 407.4l1.8 -.2l0 1l-1.8 .2z"/>
<path fill="#0023ff" stroke="#0023ff" d="M419.7 407.2l1.8 -.2l0 1.1l-1.8 .1z"/>
<path fill="#0038ff" stroke="#0038ff" d="M421.5 407.0l1.8 -.2l0 1.2l-1.8 .1z"/>
<path fill="#004eff" stroke="#004eff" d="M423.3 406.8l1.8 -.2l0 1.2l-1.8 .2z"/>
<path fill="#0059ff" stroke="#0059ff" d="M425.1 406.6l1.8 -.2l0 1.3l-1.8 .1z"/>
<path fill="#006fff" stroke="#006fff" d="M426.9 406.4l1.8 -.1l0 1.3l-1.8 .1z"/>
<path fill="#0084ff" stroke="#0084ff" d="M428.7 406.3l1.8 -.2l0 1.3l-1.8 .2z"/>
<path fill="#00a5ff" stroke="#00a5ff" d="M430.5 406.1l1.8 -.2l0 1.4l-1.8 .1z"/>
<path fill="#00c6ff" stroke="#00c6ff" d="M432.3 405.9l1.8 -.2l0 1.5l-1.8 .1z"/>
<path fill="#00dbff" stroke="#00dbff" d="M434.1 405.7l1.8 -.2l0 1.6l-1.8 .1z"/>
<path fill="#00fcff" stroke="#00fcff" d="M435.9 405.5l1.8 -.2l0 1.8l-1.8 0z"/>
<path fill="#00ffed" stroke="#00ffed" d="M437.7 405.3l1.8 -.3l0 2l-1.8 .1z"/>
<path fill="#00ffd7" stroke="#00ffd7" d="M439.5 405.0l1.8 .3l0 2l-1.8 -.3z"/>
<path fill="#00ffc2" stroke="#00ffc2" d="M441.3 405.3l1.8 .8l0 2l-1.8 -.8z"/>
<path fill="#00ffb7" stroke="#00ffb7" d="M443.1 406.1l1.8 .8l0 2l-1.8 -.8z"/>
<path fill="#00ffac" stroke="#00ffac" d="M444.9 406.9l1.8 .8l0 1.9l-1.8 -.7z"/>
<path fill="#00ff2b" stroke="#00ff2b" d="M446.7 407.7l1.8 .9l0 1.9l-1.8 -.9zM448.5 408.6l1.8 1l0 1.9l-1.8 -1zM450.3 409.6l1.7 1.1l0 1.7l-1.7 -.9zM452.1 410.7l1.8 1.7l0 1.9l-1.8 -1.9zM453.8 412.4l1.8 1.9l0 2.6l-1.8 -2.6zM455.6 414.3l1.8 .2l0 2.9l-1.8 -.5z"/>
<path fill="#00ff20" stroke="#00ff20" d="M457.4 414.5l1.8 -.3l0 3.2l-1.8 0zM459.2 414.2l1.8 -2.5l0 3.9l-1.8 1.8zM461.0 411.7l1.8 2l0 3.6l-1.8 -1.7z"/>
<path fill="#00ff00" stroke="#00ff00" d="M462.8 413.7l1.8 2.1l0 3.4l-1.8 -1.9z"/>
<path fill="#20ff00" stroke="#20ff00" d="M464.6 415.8l1.8 2l0 3.1l-1.8 -1.7z"/>
<path fill="#41ff00" stroke="#41ff00" d="M466.4 417.8l1.8 1.8l0 2.7l-1.8 -1.4z"/>
<path fill="#6cff00" stroke="#6cff00" d="M468.2 419.6l1.8 1.2l0 2.6l-1.8 -1.1z"/>
<path fill="#97ff00" stroke="#97ff00" d="M470.0 420.8l1.8 1.3l0 2.3l-1.8 -1z"/>
<path fill="#c3ff00" stroke="#c3ff00" d="M471.8 422.1l1.8 1l0 2l-1.8 -.7z"/>
<path fill="#e3ff00" stroke="#e3ff00" d="M473.6 423.1l1.8 .8l0 1.9l-1.8 -.7z"/>
<path fill="#fff000" stroke="#fff000" d="M475.4 423.9l1.8 .8l0 1.6l-1.8 -.5z"/>
<path fill="#ffcf00" stroke="#ffcf00" d="M477.2 424.7l1.8 .6l0 1.4l-1.8 -.4z"/>
<path fill="#ffa400" stroke="#ffa400" d="M479.0 425.3l1.8 .7l0 1.1l-1.8 -.4z"/>
<path fill="#ff8400" stroke="#ff8400" d="M480.8 426.0l1.8 .4l0 .9l-1.8 -.2z"/>
<path fill="#ff6300" stroke="#ff6300" d="M482.6 426.4l1.8 .3l0 .7l-1.8 -.1z"/>
<path fill="#ff4300" stroke="#ff4300" d="M484.4 426.7l1.8 .3l0 .5l-1.8 -.1z"/>
<path fill="#ff2d00" stroke="#ff2d00" d="M486.2 427.0l1.8 .3l0 .3l-1.8 -.1z"/>
<path fill="#ff1800" stroke="#ff1800" d="M488.0 427.3l1.8 .2l0 .1l-1.8 0z"/>
<path fill="#ff0200" stroke="#ff0200" d="M489.8 427.5l1.8 .1l0 0l-1.8 0z"/>
<path fill="#4a00ff" stroke="#4a00ff" d="M412.5 408.8l1.8 -.2l0 .9l-1.8 .1z"/>
<path fill="#3f00ff" stroke="#3f00ff" d="M414.3 408.6l1.8 -.1l0 .9l-1.8 .1z"/>
<path fill="#2a00ff" stroke="#2a00ff" d="M416.1 408.5l1.8 -.1l0 .9l-1.8 .1z"/>
<path fill="#1f00ff" stroke="#1f00ff" d="M417.9 408.4l1.8 -.2l0 1.1l-1.8 0z"/>
<path fill="#0900ff" stroke="#0900ff" d="M419.7 408.2l1.8 -.1l0 1.1l-1.8 .1z"/>
<path fill="#0002ff" stroke="#0002ff" d="M421.5 408.1l1.8 -.1l0 1.1l-1.8 .1z"/>
<path fill="#0018ff" stroke="#0018ff" d="M423.3 408.0l1.8 -.2l0 1.2l-1.8 .1z"/>
<path fill="#002dff" stroke="#002dff" d="M425.1 407.8l1.8 -.1l0 1.2l-1.8 .1z"/>
<path fill="#0043ff" stroke="#0043ff" d="M426.9 407.7l1.8 -.1l0 1.3l-1.8 0z"/>
<path fill="#0059ff" stroke="#0059ff" d="M428.7 407.6l1.8 -.2l0 1.4l-1.8 .1z"/>
<path fill="#006fff" stroke="#006fff" d="M430.5 407.4l1.8 -.1l0 1.4l-1.8 .1z"/>
<path fill="#008fff" stroke="#008fff" d="M432.3 407.3l1.8 -.1l0 1.5l-1.8 0z"/>
<path fill="#00b0ff" stroke="#00b0ff" d="M434.1 407.2l1.8 -.1l0 1.7l-1.8 -.1z"/>
<path fill="#00c6ff" stroke="#00c6ff" d="M435.9 407.1l1.8 0l0 1.8l-1.8 -.1z"/>
<path fill="#00e6ff" stroke="#00e6ff" d="M437.7 407.1l1.8 -.1l0 2.1l-1.8 -.2z"/>
<path fill="#00fcff" stroke="#00fcff" d="M439.5 407.0l1.8 .3l0 2.1l-1.8 -.3z"/>
<path fill="#00ffed" stroke="#00ffed" d="M441.3 407.3l1.8 .8l0 2.1l-1.8 -.8z"/>
<path fill="#00ffd7" stroke="#00ffd7" d="M443.1 408.1l1.8 .8l0 2l-1.8 -.7z"/>
<path fill="#00ffcc" stroke="#00ffcc" d="M444.9 408.9l1.8 .7l0 2l-1.8 -.7z"/>
<path fill="#00ff2b" stroke="#00ff2b" d="M446.7 409.6l1.8 .9l0 2l-1.8 -.9zM448.5 410.5l1.8 1l0 1.8l-1.8 -.8zM450.3 411.5l1.7 .9l0 1.8l-1.7 -.9zM452.1 412.4l1.8 1.9l0 1.9l-1.8 -2zM453.8 414.3l1.8 2.6l0 2.7l-1.8 -3.4zM455.6 416.9l1.8 .5l0 2.9l-1.8 -.7zM457.4 417.4l1.8 0l0 3.2l-1.8 -.3zM459.2 417.4l1.8 -1.8l0 3.8l-1.8 1.2z"/>
<path fill="#00ff20" stroke="#00ff20" d="M461.0 415.6l1.8 1.7l0 3.6l-1.8 -1.5z"/>
<path fill="#00ff00" stroke="#00ff00" d="M462.8 417.3l1.8 1.9l0 3.3l-1.8 -1.6z"/>
<path fill="#20ff00" stroke="#20ff00" d="M464.6 419.2l1.8 1.7l0 3l-1.8 -1.4z"/>
<path fill="#41ff00" stroke="#41ff00" d="M466.4 420.9l1.8 1.4l0 2.8l-1.8 -1.2z"/>
<path fill="#6cff00" stroke="#6cff00" d="M468.2 422.3l1.8 1.1l0 2.5l-1.8 -.8z"/>
<path fill="#8dff00" stroke="#8dff00" d="M470.0 423.4l1.8 1l0 2.4l-1.8 -.9z"/>
<path fill="#b8ff00" stroke="#b8ff00" d="M471.8 424.4l1.8 .7l0 2.1l-1.8 -.4z"/>
<path fill="#e3ff00" stroke="#e3ff00" d="M473.6 425.1l1.8 .7l0 1.8l-1.8 -.4z"/>
<path fill="#fff000" stroke="#fff000" d="M475.4 425.8l1.8 .5l0 1.6l-1.8 -.3z"/>
<path fill="#ffcf00" stroke="#ffcf00" d="M477.2 426.3l1.8 .4l0 1.3l-1.8 -.1z"/>
<path fill="#ffa400" stroke="#ffa400" d="M479.0 426.7l1.8 .4l0 1l-1.8 -.1z"/>
<path fill="#ff8400" stroke="#ff8400" d="M480.8 427.1l1.8 .2l0 .8l-1.8 0z"/>
<path fill="#ff6300" stroke="#ff6300" d="M482.6 427.3l1.8 .1l0 .6l-1.8 .1z"/>
<path fill="#ff4300" stroke="#ff4300" d="M484.4 427.4l1.8 .1l0 .5l-1.8 0z"/>
<path fill="#ff2d00" stroke="#ff2d00" d="M486.2 427.5l1.8 .1l0 .3l-1.8 .1z"/>
<path fill="#ff1800" stroke="#ff1800" d="M488.0 427.6l1.8 0l0 .1l-1.8 .2z"/>
<path fill="#ff0200" stroke="#ff0200" d="M489.8 427.6l1.8 0l0 0l-1.8 .1z"/>
<path fill="#6b00ff" stroke="#6b00ff" d="M412.5 409.6l1.8 -.1l0 .9l-1.8 0z"/>
<path fill="#5500ff" stroke="#5500ff" d="M414.3 409.5l1.8 -.1l0 .9l-1.8 .1z"/>
<path fill="#4a00ff" stroke="#4a00ff" d="M416.1 409.4l1.8 -.1l0 1l-1.8 0z"/>
<path fill="#3400ff" stroke="#3400ff" d="M417.9 409.3l1.8 0l0 1l-1.8 0z"/>
<path fill="#2a00ff" stroke="#2a00ff" d="M419.7 409.3l1.8 -.1l0 1.1l-1.8 0z"/>
<path fill="#1400ff" stroke="#1400ff" d="M421.5 409.2l1.8 -.1l0 1.1l-1.8 .1z"/>
<path fill="#0002ff" stroke="#0002ff" d="M423.3 409.1l1.8 -.1l0 1.2l-1.8 0z"/>
<path fill="#0018ff" stroke="#0018ff" d="M425.1 409.0l1.8 -.1l0 1.3l-1.8 0z"/>
<path fill="#002dff" stroke="#002dff" d="M426.9 408.9l1.8 0l0 1.3l-1.8 0z"/>
<path fill="#0038ff" stroke="#0038ff" d="M428.7 408.9l1.8 -.1l0 1.3l-1.8 .1z"/>
<path fill="#0059ff" stroke="#0059ff" d="M430.5 408.8l1.8 -.1l0 1.4l-1.8 0z"/>
<path fill="#0079ff" stroke="#0079ff" d="M432.3 408.7l1.8 0l0 1.5l-1.8 -.1z"/>
<path fill="#008fff" stroke="#008fff" d="M434.1 408.7l1.8 .1l0 1.7l-1.8 -.3z"/>
<path fill="#00b0ff" stroke="#00b0ff" d="M435.9 408.8l1.8 .1l0 1.9l-1.8 -.3z"/>
<path fill="#00d0ff" stroke="#00d0ff" d="M437.7 408.9l1.8 .2l0 2l-1.8 -.3z"/>
<path fill="#00f1ff" stroke="#00f1ff" d="M439.5 409.1l1.8 .3l0 2.1l-1.8 -.4z"/>
<path fill="#00fcff" stroke="#00fcff" d="M441.3 409.4l1.8 .8l0 2l-1.8 -.7z"/>
<path fill="#00ffed" stroke="#00ffed" d="M443.1 410.2l1.8 .7l0 2l-1.8 -.7z"/>
<path fill="#00ffd7" stroke="#00ffd7" d="M444.9 410.9l1.8 .7l0 2l-1.8 -.7z"/>
<path fill="#00ff4b" stroke="#00ff4b" d="M446.7 411.6l1.8 .9l0 1.9l-1.8 -.8zM448.5 412.5l1.8 .8l0 1.9l-1.8 -.8zM450.3 413.3l1.7 .9l0 1.8l-1.7 -.8z"/>
<path fill="#00ff41" stroke="#00ff41" d="M452.1 414.2l1.8 2l0 1.9l-1.8 -2.1z"/>
<path fill="#00ff6c" stroke="#00ff6c" d="M453.8 416.2l1.8 3.4l0 2.6l-1.8 -4.1z"/>
<path fill="#00ff97" stroke="#00ff97" d="M455.6 419.6l1.8 .7l0 2.8l-1.8 -.9zM457.4 420.3l1.8 .3l0 3.2l-1.8 -.7z"/>
<path fill="#00ff81" stroke="#00ff81" d="M459.2 420.6l1.8 -1.2l0 3.9l-1.8 .5z"/>
<path fill="#00ff76" stroke="#00ff76" d="M461.0 419.4l1.8 1.5l0 3.6l-1.8 -1.2z"/>
<path fill="#00ff4b" stroke="#00ff4b" d="M462.8 420.9l1.8 1.6l0 3.4l-1.8 -1.4z"/>
<path fill="#00ff20" stroke="#00ff20" d="M464.6 422.5l1.8 1.4l0 3l-1.8 -1z"/>
<path fill="#0bff00" stroke="#0bff00" d="M466.4 423.9l1.8 1.2l0 2.7l-1.8 -.9z"/>
<path fill="#36ff00" stroke="#36ff00" d="M468.2 425.1l1.8 .8l0 2.5l-1.8 -.6z"/>
<path fill="#61ff00" stroke="#61ff00" d="M470.0 425.9l1.8 .9l0 2.3l-1.8 -.7z"/>
<path fill="#97ff00" stroke="#97ff00" d="M471.8 426.8l1.8 .4l0 2.1l-1.8 -.2z"/>
<path fill="#c3ff00" stroke="#c3ff00" d="M473.6 427.2l1.8 .4l0 1.8l-1.8 -.1z"/>
<path fill="#eeff00" stroke="#eeff00" d="M475.4 427.6l1.8 .3l0 1.6l-1.8 -.1z"/>
<path fill="#ffe500" stroke="#ffe500" d="M477.2 427.9l1.8 .1l0 1.4l-1.8 .1z"/>
<path fill="#ffc400" stroke="#ffc400" d="M479.0 428.0l1.8 .1l0 1.1l-1.8 .2z"/>
<path fill="#ff9900" stroke="#ff9900" d="M480.8 428.1l1.8 0l0 .9l-1.8 .2z"/>
<path fill="#ff7900" stroke="#ff7900" d="M482.6 428.1l1.8 -.1l0 .7l-1.8 .3z"/>
<path fill="#ff4e00" stroke="#ff4e00" d="M484.4 428.0l1.8 0l0 .4l-1.8 .3z"/>
<path fill="#ff3800" stroke="#ff3800" d="M486.2 428.0l1.8 -.1l0 .2l-1.8 .3z"/>
<path fill="#ff1800" stroke="#ff1800" d="M488.0 427.9l1.8 -.2l0 .2l-1.8 .2z"/>
<path fill="#ff0200" stroke="#ff0200" d="M489.8 427.7l1.8 -.1l0 0l-1.8 .3z"/>
<path fill="#6b00ff" stroke="#6b00ff" d="M412.5 410.4l1.8 0l0 .8l-1.8 0z"/>
<path fill="#5500ff" stroke="#5500ff" d="M414.3 410.4l1.8 -.1l0 1l-1.8 -.1z"/>
<path fill="#4a00ff" stroke="#4a00ff" d="M416.1 410.3l1.8 0l0 1l-1.8 0z"/>
<path fill="#3400ff" stroke="#3400ff" d="M417.9 410.3l1.8 0l0 1l-1.8 0z"/>
<path fill="#2a00ff" stroke="#2a00ff" d="M419.7 410.3l1.8 0l0 1l-1.8 0z"/>
<path fill="#1400ff" stroke="#1400ff" d="M421.5 410.3l1.8 -.1l0 1.2l-1.8 -.1z"/>
<path fill="#0002ff" stroke="#0002ff" d="M423.3 410.2l1.8 0l0 1.2l-1.8 0z"/>
<path fill="#0018ff" stroke="#0018ff" d="M425.1 410.2l1.8 0l0 1.2l-1.8 0z"/>
<path fill="#002dff" stroke="#002dff" d="M426.9 410.2l1.8 0l0 1.3l-1.8 -.1z"/>
<path fill="#0038ff" stroke="#0038ff" d="M428.7 410.2l1.8 -.1l0 1.4l-1.8 0z"/>
<path fill="#0059ff" stroke="#0059ff" d="M430.5 410.1l1.8 0l0 1.4l-1.8 0z"/>
<path fill="#0079ff" stroke="#0079ff" d="M432.3 410.1l1.8 .1l0 1.5l-1.8 -.2z"/>
<path fill="#008fff" stroke="#008fff" d="M434.1 410.2l1.8 .3l0 1.6l-1.8 -.4z"/>
<path fill="#00b0ff" stroke="#00b0ff" d="M435.9 410.5l1.8 .3l0 1.8l-1.8 -.5z"/>
<path fill="#00d0ff" stroke="#00d0ff" d="M437.7 410.8l1.8 .3l0 2l-1.8 -.5z"/>
<path fill="#00f1ff" stroke="#00f1ff" d="M439.5 411.1l1.8 .4l0 2.1l-1.8 -.5z"/>
<path fill="#00fcff" stroke="#00fcff" d="M441.3 411.5l1.8 .7l0 2.1l-1.8 -.7z"/>
<path fill="#00ffed" stroke="#00ffed" d="M443.1 412.2l1.8 .7l0 2.1l-1.8 -.7z"/>
<path fill="#00ffd7" stroke="#00ffd7" d="M444.9 412.9l1.8 .7l0 2l-1.8 -.6z"/>
<path fill="#00ff81" stroke="#00ff81" d="M446.7 413.6l1.8 .8l0 1.9l-1.8 -.7z"/>
<path fill="#00ff76" stroke="#00ff76" d="M448.5 414.4l1.8 .8l0 1.8l-1.8 -.7z"/>
<path fill="#00ff6c" stroke="#00ff6c" d="M450.3 415.2l1.7 .8l0 1.8l-1.7 -.8z"/>
<path fill="#00ff61" stroke="#00ff61" d="M452.1 416.0l1.8 2.1l0 1.9l-1.8 -2.2z"/>
<path fill="#00ffb7" stroke="#00ffb7" d="M453.8 418.1l1.8 4.1l0 2.7l-1.8 -4.9z"/>
<path fill="#00f1ff" stroke="#00f1ff" d="M455.6 422.2l1.8 .9l0 2.9l-1.8 -1.1zM457.4 423.1l1.8 .7l0 3.2l-1.8 -1z"/>
<path fill="#00fff7" stroke="#00fff7" d="M459.2 423.8l1.8 -.5l0 3.8l-1.8 -.1z"/>
<path fill="#00ffd7" stroke="#00ffd7" d="M461.0 423.3l1.8 1.2l0 3.6l-1.8 -1z"/>
<path fill="#00ffac" stroke="#00ffac" d="M462.8 424.5l1.8 1.4l0 3.3l-1.8 -1.1z"/>
<path fill="#00ff76" stroke="#00ff76" d="M464.6 425.9l1.8 1l0 3l-1.8 -.7z"/>
<path fill="#00ff36" stroke="#00ff36" d="M466.4 426.9l1.8 .9l0 2.7l-1.8 -.6z"/>
<path fill="#00ff00" stroke="#00ff00" d="M468.2 427.8l1.8 .6l0 2.6l-1.8 -.5z"/>
<path fill="#2bff00" stroke="#2bff00" d="M470.0 428.4l1.8 .7l0 2.3l-1.8 -.4z"/>
<path fill="#61ff00" stroke="#61ff00" d="M471.8 429.1l1.8 .2l0 2.1l-1.8 0z"/>
<path fill="#97ff00" stroke="#97ff00" d="M473.6 429.3l1.8 .1l0 1.8l-1.8 .2z"/>
<path fill="#c3ff00" stroke="#c3ff00" d="M475.4 429.4l1.8 .1l0 1.6l-1.8 .1z"/>
<path fill="#eeff00" stroke="#eeff00" d="M477.2 429.5l1.8 -.1l0 1.3l-1.8 .4z"/>
<path fill="#ffda00" stroke="#ffda00" d="M479.0 429.4l1.8 -.2l0 1.1l-1.8 .4z"/>
<path fill="#ffaf00" stroke="#ffaf00" d="M480.8 429.2l1.8 -.2l0 .9l-1.8 .4z"/>
<path fill="#ff8400" stroke="#ff8400" d="M482.6 429.0l1.8 -.3l0 .7l-1.8 .5z"/>
<path fill="#ff5800" stroke="#ff5800" d="M484.4 428.7l1.8 -.3l0 .5l-1.8 .5z"/>
<path fill="#ff3800" stroke="#ff3800" d="M486.2 428.4l1.8 -.3l0 .3l-1.8 .5z"/>
<path fill="#ff2200" stroke="#ff2200" d="M488.0 428.1l1.8 -.2l0 .1l-1.8 .4z"/>
<path fill="#ff0200" stroke="#ff0200" d="M489.8 427.9l1.8 -.3l0 .1l-1.8 .3z"/>
<path fill="#6b00ff" stroke="#6b00ff" d="M412.5 411.2l1.8 0l0 .9l-1.8 -.1z"/>
<path fill="#5500ff" stroke="#5500ff" d="M414.3 411.2l1.8 .1l0 .9l-1.8 -.1z"/>
<path fill="#4a00ff" stroke="#4a00ff" d="M416.1 411.3l1.8 0l0 1l-1.8 -.1z"/>
<path fill="#3400ff" stroke="#3400ff" d="M417.9 411.3l1.8 0l0 1l-1.8 0z"/>
<path fill="#2a00ff" stroke="#2a00ff" d="M419.7 411.3l1.8 0l0 1.1l-1.8 -.1z"/>
<path fill="#1400ff" stroke="#1400ff" d="M421.5 411.3l1.8 .1l0 1.1l-1.8 -.1z"/>
<path fill="#0002ff" stroke="#0002ff" d="M423.3 411.4l1.8 0l0 1.2l-1.8 -.1z"/>
<path fill="#0018ff" stroke="#0018ff" d="M425.1 411.4l1.8 0l0 1.3l-1.8 -.1z"/>
<path fill="#002dff" stroke="#002dff" d="M426.9 411.4l1.8 .1l0 1.3l-1.8 -.1z"/>
<path fill="#0038ff" stroke="#0038ff" d="M428.7 411.5l1.8 0l0 1.4l-1.8 -.1z"/>
<path fill="#0059ff" stroke="#0059ff" d="M430.5 411.5l1.8 0l0 1.4l-1.8 0z"/>
<path fill="#0079ff" stroke="#0079ff" d="M432.3 411.5l1.8 .2l0 1.5l-1.8 -.3z"/>
<path fill="#008fff" stroke="#008fff" d="M434.1 411.7l1.8 .4l0 1.7l-1.8 -.6z"/>
<path fill="#00b0ff" stroke="#00b0ff" d="M435.9 412.1l1.8 .5l0 1.8l-1.8 -.6z"/>
<path fill="#00d0ff" stroke="#00d0ff" d="M437.7 412.6l1.8 .5l0 2l-1.8 -.7z"/>
<path fill="#00f1ff" stroke="#00f1ff" d="M439.5 413.1l1.8 .5l0 2.1l-1.8 -.6z"/>
<path fill="#00fcff" stroke="#00fcff" d="M441.3 413.6l1.8 .7l0 2l-1.8 -.6z"/>
<path fill="#00ffed" stroke="#00ffed" d="M443.1 414.3l1.8 .7l0 2l-1.8 -.7z"/>
<path fill="#00ffd7" stroke="#00ffd7" d="M444.9 415.0l1.8 .6l0 2l-1.8 -.6z"/>
<path fill="#00ffac" stroke="#00ffac" d="M446.7 415.6l1.8 .7l0 2l-1.8 -.7z"/>
<path fill="#00ffa1" stroke="#00ffa1" d="M448.5 416.3l1.8 .7l0 1.9l-1.8 -.6z"/>
<path fill="#00ff8c" stroke="#00ff8c" d="M450.3 417.0l1.7 .8l0 1.7l-1.7 -.6z"/>
<path fill="#00ff81" stroke="#00ff81" d="M452.1 417.8l1.8 2.2l0 2l-1.8 -2.5z"/>
<path fill="#00f1ff" stroke="#00f1ff" d="M453.8 420.0l1.8 4.9l0 2.6l-1.8 -5.5z"/>
<path fill="#0064ff" stroke="#0064ff" d="M455.6 424.9l1.8 1.1l0 2.9l-1.8 -1.4z"/>
<path fill="#0059ff" stroke="#0059ff" d="M457.4 426.0l1.8 1l0 3.2l-1.8 -1.3z"/>
<path fill="#0084ff" stroke="#0084ff" d="M459.2 427.0l1.8 .1l0 3.8l-1.8 -.7z"/>
<path fill="#00b0ff" stroke="#00b0ff" d="M461.0 427.1l1.8 1l0 3.6l-1.8 -.8z"/>
<path fill="#00f1ff" stroke="#00f1ff" d="M462.8 428.1l1.8 1.1l0 3.3l-1.8 -.8z"/>
<path fill="#00ffcc" stroke="#00ffcc" d="M464.6 429.2l1.8 .7l0 3l-1.8 -.4z"/>
<path fill="#00ff81" stroke="#00ff81" d="M466.4 429.9l1.8 .6l0 2.7l-1.8 -.3z"/>
<path fill="#00ff41" stroke="#00ff41" d="M468.2 430.5l1.8 .5l0 2.5l-1.8 -.3z"/>
<path fill="#00ff0b" stroke="#00ff0b" d="M470.0 431.0l1.8 .4l0 2.4l-1.8 -.3z"/>
<path fill="#2bff00" stroke="#2bff00" d="M471.8 431.4l1.8 0l0 2l-1.8 .4z"/>
<path fill="#61ff00" stroke="#61ff00" d="M473.6 431.4l1.8 -.2l0 1.9l-1.8 .3z"/>
<path fill="#97ff00" stroke="#97ff00" d="M475.4 431.2l1.8 -.1l0 1.6l-1.8 .4z"/>
<path fill="#cdff00" stroke="#cdff00" d="M477.2 431.1l1.8 -.4l0 1.4l-1.8 .6z"/>
<path fill="#fffb00" stroke="#fffb00" d="M479.0 430.7l1.8 -.4l0 1.1l-1.8 .7z"/>
<path fill="#ffcf00" stroke="#ffcf00" d="M480.8 430.3l1.8 -.4l0 .8l-1.8 .7z"/>
<path fill="#ff9900" stroke="#ff9900" d="M482.6 429.9l1.8 -.5l0 .6l-1.8 .7z"/>
<path fill="#ff6e00" stroke="#ff6e00" d="M484.4 429.4l1.8 -.5l0 .5l-1.8 .6z"/>
<path fill="#ff4300" stroke="#ff4300" d="M486.2 428.9l1.8 -.5l0 .3l-1.8 .7z"/>
<path fill="#ff2d00" stroke="#ff2d00" d="M488.0 428.4l1.8 -.4l0 .2l-1.8 .5z"/>
<path fill="#ff0d00" stroke="#ff0d00" d="M489.8 428.0l1.8 -.3l0 0l-1.8 .5z"/>
<path fill="#ff00fb" stroke="#ff00fb" d="M380.6 393.3l1.8 1.3l.5 6.7l-1.8 -.9zM382.4 394.6l1.8 1.3l.5 6.4l-1.8 -1zM384.2 395.9l1.9 1.2l.4 6.1l-1.8 -.9zM386.1 397.1l1.8 1.2l.4 5.7l-1.8 -.8zM387.9 398.3l1.8 1.1l.4 5.5l-1.8 -.9zM389.7 399.4l1.8 1.1l.4 5.2l-1.8 -.8zM391.5 400.5l1.8 .8l.5 5.1l-1.9 -.7zM393.3 401.3l1.9 .8l.4 5l-1.8 -.7zM395.2 402.1l1.8 .9l.4 4.8l-1.8 -.7zM397.0 403.0l1.8 .7l.4 4.7l-1.8 -.6zM398.8 403.7l1.8 .6l.4 4.7l-1.8 -.6zM400.6 404.3l1.8 .6l.4 4.7l-1.8 -.6zM402.4 404.9l1.9 .6l.3 4.7l-1.8 -.6zM404.3 405.5l1.8 .6l.3 4.6l-1.8 -.5zM406.1 406.1l1.8 .5l.3 4.7l-1.8 -.6zM407.9 406.6l1.8 .6l.3 4.6l-1.8 -.5zM409.7 407.2l1.8 .3l.3 4.8l-1.8 -.5zM411.5 407.5l1.9 .4l.2 4.8l-1.8 -.4zM413.4 407.9l1.8 .3l.2 4.9l-1.8 -.4zM415.2 408.2l1.8 .3l.2 5.1l-1.8 -.5zM417.0 408.5l1.8 .4l.3 5.1l-1.9 -.4zM418.8 408.9l1.8 .3l.3 5.2l-1.8 -.4zM420.6 409.2l1.9 .3l.2 5.4l-1.8 -.5zM422.5 409.5l1.8 .3l.2 5.5l-1.8 -.4zM424.3 409.8l1.8 .3l.2 5.5l-1.8 -.3zM426.1 410.1l1.8 .2l.2 5.7l-1.8 -.4zM427.9 410.3l1.8 .3l.2 5.8l-1.8 -.4zM429.7 410.6l1.9 .3l.1 5.9l-1.8 -.4zM431.6 410.9l1.8 .2l.1 6.1l-1.8 -.4zM433.4 411.1l1.8 .3l.1 6.2l-1.8 -.4zM435.2 411.4l1.8 .3l.1 6.3l-1.8 -.4zM437.0 411.7l1.8 .2l.1 6.4l-1.8 -.3zM438.8 411.9l1.9 .3l0 6.5l-1.8 -.4zM440.7 412.2l1.8 .2l.1 6.7l-1.9 -.4zM442.5 412.4l1.8 .1l.1 6.9l-1.8 -.3zM444.3 412.5l1.8 .1l.1 7.1l-1.8 -.3zM446.1 412.6l1.8 .1l.1 7.3l-1.8 -.3zM447.9 412.7l1.9 .1l0 7.5l-1.8 -.3zM449.8 412.8l1.8 .1l0 7.7l-1.8 -.3zM451.6 412.9l1.8 .1l0 7.9l-1.8 -.3z"/>
<path fill="#f800ff" stroke="#f800ff" d="M381.1 400.4l1.8 .9l.5 6.8l-1.8 -.6zM382.9 401.3l1.8 1l.5 6.4l-1.8 -.6zM384.7 402.3l1.8 .9l.5 6l-1.8 -.5zM386.5 403.2l1.8 .8l.5 5.8l-1.8 -.6zM388.3 404.0l1.8 .9l.5 5.5l-1.8 -.6zM390.1 404.9l1.8 .8l.5 5.3l-1.8 -.6zM391.9 405.7l1.9 .7l.4 5.1l-1.8 -.5zM393.8 406.4l1.8 .7l.4 5l-1.8 -.6zM395.6 407.1l1.8 .7l.4 4.9l-1.8 -.6zM397.4 407.8l1.8 .6l.4 4.8l-1.8 -.5zM399.2 408.4l1.8 .6l.3 4.8l-1.7 -.6zM401.0 409.0l1.8 .6l.3 4.7l-1.8 -.5zM402.8 409.6l1.8 .6l.3 4.6l-1.8 -.5zM404.6 410.2l1.8 .5l.3 4.7l-1.8 -.6zM406.4 410.7l1.8 .6l.3 4.6l-1.8 -.5zM408.2 411.3l1.8 .5l.3 4.6l-1.8 -.5zM410.0 411.8l1.8 .5l.3 4.7l-1.8 -.6zM411.8 412.3l1.8 .4l.3 4.8l-1.8 -.5zM413.6 412.7l1.8 .4l.3 4.9l-1.8 -.5zM415.4 413.1l1.8 .5l.3 5l-1.8 -.6zM417.2 413.6l1.9 .4l.2 5.1l-1.8 -.5zM419.1 414.0l1.8 .4l.2 5.3l-1.8 -.6zM420.9 414.4l1.8 .5l.2 5.3l-1.8 -.5zM422.7 414.9l1.8 .4l.2 5.4l-1.8 -.5zM424.5 415.3l1.8 .3l.2 5.6l-1.8 -.5zM426.3 415.6l1.8 .4l.2 5.7l-1.8 -.5zM428.1 416.0l1.8 .4l.2 5.8l-1.8 -.5zM429.9 416.4l1.8 .4l.2 5.9l-1.8 -.5zM431.7 416.8l1.8 .4l.2 6l-1.8 -.5zM433.5 417.2l1.8 .4l.1 6.1l-1.7 -.5zM435.3 417.6l1.8 .4l.1 6.3l-1.8 -.6zM437.1 418.0l1.8 .3l.1 6.5l-1.8 -.5zM438.9 418.3l1.8 .4l.1 6.6l-1.8 -.5zM440.7 418.7l1.9 .4l0 6.7l-1.8 -.5zM442.6 419.1l1.8 .3l0 6.9l-1.8 -.5zM444.4 419.4l1.8 .3l0 7.1l-1.8 -.5zM446.2 419.7l1.8 .3l0 7.3l-1.8 -.5zM448.0 420.0l1.8 .3l0 7.5l-1.8 -.5zM449.8 420.3l1.8 .3l0 7.7l-1.8 -.5zM451.6 420.6l1.8 .3l0 7.9l-1.8 -.5z"/>
<path fill="#000dff" stroke="#000dff" d="M397.3 402.6l1.4 -1.4l1.6 2l-.7 1.9l-1.7 -.5z"/>
<path fill="#e200ff" stroke="#e200ff" d="M453.4 425.0l5.2 1.5l.3 3.7l-5.5 -.7z"/>
<path fill="#ff6fe6" stroke="#ff6fe6" d="M382.1 407.2l.4 4.2l.6 -4.2zM383.4 407.6l.4 5l.6 -5zM384.7 408.1l.4 5.8l.6 -5.8zM386.0 408.5l.4 4.2l.6 -4.2zM387.3 408.9l.4 5l.6 -5zM388.6 409.3l.4 5.8l.6 -5.8zM389.9 409.7l.4 4.2l.6 -4.2zM391.2 410.1l.4 5l.6 -5zM392.5 410.6l.4 5.8l.6 -5.8zM393.8 411.0l.4 4.2l.6 -4.2zM395.1 411.4l.4 5l.6 -5zM396.4 411.8l.4 5.8l.6 -5.8zM397.7 412.2l.4 4.2l.6 -4.2zM399.0 412.6l.4 5l.6 -5zM400.3 413.0l.4 5.8l.6 -5.8zM401.6 413.4l.4 4.2l.6 -4.2zM402.9 413.8l.4 5l.6 -5zM404.2 414.2l.4 5.8l.6 -5.8zM405.5 414.5l.4 4.2l.6 -4.2zM406.8 414.9l.4 5l.6 -5zM408.1 415.3l.4 5.8l.6 -5.8zM409.4 415.7l.4 4.2l.6 -4.2zM410.7 416.1l.4 5l.6 -5zM412.0 416.5l.4 5.8l.6 -5.8zM413.3 416.9l.4 4.2l.6 -4.2zM414.6 417.3l.4 5l.6 -5zM415.9 417.7l.4 5.8l.6 -5.8zM417.2 418.0l.4 4.2l.6 -4.2zM418.5 418.4l.4 5l.6 -5zM419.8 418.8l.4 5.8l.6 -5.8zM421.1 419.2l.4 4.2l.6 -4.2zM422.4 419.6l.4 5l.6 -5zM423.7 420.0l.4 5.8l.6 -5.8zM425.0 420.3l.4 4.2l.6 -4.2zM426.3 420.7l.4 5l.6 -5zM427.6 421.1l.4 5.8l.6 -5.8zM428.9 421.4l.4 4.2l.6 -4.2zM430.2 421.8l.4 5l.6 -5zM431.5 422.2l.4 5.8l.6 -5.8zM432.8 422.5l.4 4.2l.6 -4.2zM434.1 422.9l.4 5l.6 -5zM435.4 423.3l.4 5.8l.6 -5.8zM436.7 423.6l.4 4.2l.6 -4.2zM438.0 424.0l.4 5l.6 -5zM439.3 424.4l.4 5.8l.6 -5.8zM440.6 424.7l.4 4.2l.6 -4.2zM441.9 425.1l.4 5l.6 -5zM443.2 425.5l.4 5.8l.6 -5.8zM444.5 425.8l.4 4.2l.6 -4.2zM445.8 426.2l.4 5l.6 -5zM447.1 426.6l.4 5.8l.6 -5.8zM448.4 426.9l.4 4.2l.6 -4.2zM449.7 427.3l.4 5l.6 -5zM451.0 427.7l.4 5.8l.6 -5.8zM452.3 428.0l.4 4.2l.6 -4.2z"/>
</g>
<path d="M382.1 444.2L453.9 466.9M453.9 466.9L494.6 429.4M494.6 429.4L497.2 375.4M382.3 444.2L381.2 445.1M392 447.3L390.9 448.2M401.7 450.4L400.6 451.3M411.5 453.5L410.4 454.4M421.4 456.6L420.3 457.6M431.4 459.8L430.3 460.7M441.5 462.9L440.4 463.9M451.6 466.2L450.6 467.1M458.1 463L459.9 463.6M463.6 457.9L465.5 458.5M469.1 452.8L470.9 453.4M474.5 447.9L476.3 448.4M479.8 443L481.6 443.5M485 438.1L486.8 438.7M490.2 433.4L492 433.9M497 378.4L498.2 378.6M496.4 390.4L497.6 390.5M495.9 402.1L497.1 402.3M495.3 413.6L496.5 413.8M494.8 424.9L496 425" stroke="#666" stroke-width="0.45" fill="none"/>
<g font-family="'DejaVu Sans','Liberation Sans',sans-serif" font-size="5" fill="#444" text-anchor="middle">
<text x="378.5" y="456.1">0</text>
<text x="388.5" y="459.4">50</text>
<text x="398.5" y="462.8">100</text>
<text x="408.5" y="466.1">150</text>
<text x="418.5" y="469.4">200</text>
<text x="428.5" y="472.7">250</text>
<text x="438.5" y="476.1">300</text>
<text x="448.5" y="479.4">350</text>
<text x="466.4" y="473.8">200</text>
<text x="471.6" y="468.4">400</text>
<text x="476.8" y="463">600</text>
<text x="481.9" y="457.6">800</text>
<text x="487.1" y="452.1">1000</text>
<text x="492.2" y="446.7">1200</text>
<text x="497.4" y="441.3">1400</text>
<text x="505.8" y="380.2">0</text>
<text x="505.2" y="392.1">−5</text>
<text x="504.7" y="403.9">−10</text>
<text x="504.1" y="415.4">−15</text>
<text x="503.6" y="426.6">−20</text>
<text transform="translate(409.5 472.8) rotate(20)" y="1.8">DOA (°)</text>
<text transform="translate(488.8 460.9) rotate(-46)" y="1.8">Frequency (Hz)</text>
</g>
<rect x="511.6" y="378" width="13.4" height="65.8" fill="url(#gr)"/>
<g font-family="'DejaVu Sans','Liberation Sans',sans-serif" font-size="5" fill="#444">
<text x="528.2" y="398.4">−10</text>
<text x="528.2" y="419.4">−15</text>
<text x="528.2" y="440.5">−20</text>
<text transform="translate(544.3 410.9) rotate(-90)" text-anchor="middle">Pseudo-beam (dB)</text>
</g>
<path d="M525 396.7h1.4M525 417.7h1.4M525 438.8h1.4" stroke="#555" stroke-width="0.4"/>
</g>
<g font-family="'Liberation Serif','DejaVu Serif',serif" font-size="9.3" fill="#111" text-anchor="middle">
<text x="91.8" y="154.3">(<tspan font-weight="bold">a</tspan>)</text>
<text x="275.3" y="154.3">(<tspan font-weight="bold">b</tspan>)</text>
<text x="458.8" y="154.3">(<tspan font-weight="bold">c</tspan>)</text>
<text x="91.8" y="326">(<tspan font-weight="bold">d</tspan>)</text>
<text x="275.3" y="326">(<tspan font-weight="bold">e</tspan>)</text>
<text x="458.8" y="326">(<tspan font-weight="bold">f</tspan>)</text>
<text x="91.8" y="498">(<tspan font-weight="bold">g</tspan>)</text>
<text x="275.3" y="498">(<tspan font-weight="bold">h</tspan>)</text>
<text x="458.8" y="498">(<tspan font-weight="bold">i</tspan>)</text>
</g>
</svg></body></html>
